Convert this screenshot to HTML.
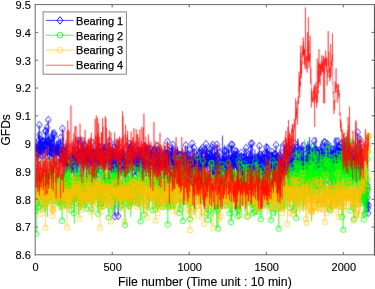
<!DOCTYPE html>
<html><head><meta charset="utf-8"><style>
html,body{margin:0;padding:0;background:#fff;}
text{stroke:#000;stroke-width:0.12px;}
.lg text{stroke-width:0.25px;}
svg{display:block;font-family:"Liberation Sans",Arial,sans-serif;}
</style></head><body>
<svg width="375" height="289" viewBox="0 0 375 289">
<rect width="375" height="289" fill="#fff"/>
<defs><clipPath id="c"><rect x="35.0" y="4.6" width="339.0" height="250.3"/></clipPath><filter id="bl" x="0" y="0" width="375" height="289" color-interpolation-filters="sRGB" filterUnits="userSpaceOnUse"><feConvolveMatrix order="3" kernelMatrix="0.0113 0.0838 0.0113 0.0838 0.6193 0.0838 0.0113 0.0838 0.0113" edgeMode="none" preserveAlpha="false"/></filter></defs>
<g filter="url(#bl)"><g clip-path="url(#c)" fill="none" stroke-width="0.5" stroke-linejoin="round">
<polyline points="35,146.8 35.2,143.8 35.3,146.7 35.5,156.6 35.6,143.1 35.8,145.9 35.9,151.9 36.1,145 36.2,146.5 36.4,146.9 36.5,148.5 36.7,145.3 36.8,153.1 37,149.6 37.2,151.6 37.3,145 37.5,148.3 37.6,150.3 37.8,153.3 37.9,150.1 38.1,148.4 38.2,150.1 38.4,140.5 38.5,132.6 38.7,159.3 38.9,159.7 39,149.2 39.2,140 39.3,125 39.5,146.6 39.6,134.9 39.8,139.5 39.9,150.1 40.1,135.3 40.2,143.8 40.4,143.6 40.5,150.8 40.7,157.7 40.9,146.6 41,146.9 41.2,155 41.3,151.6 41.5,147.8 41.6,153 41.8,147.8 41.9,136.3 42.1,146.8 42.2,150.2 42.4,143.3 42.6,141.4 42.7,141.1 42.9,151.9 43,142.4 43.2,149.8 43.3,141.4 43.5,153.3 43.6,141.2 43.8,146.8 43.9,154.3 44.1,148.5 44.2,146.2 44.4,144.9 44.6,152.6 44.7,153.3 44.9,145.2 45,144.6 45.2,144.9 45.3,141.6 45.5,131.5 45.6,144.7 45.8,130.9 45.9,148 46.1,151.2 46.2,141.7 46.4,144.7 46.6,140.8 46.7,148.4 46.9,155.3 47,127.6 47.2,149.1 47.3,141.6 47.5,145.2 47.6,156.4 47.8,153.8 47.9,141.2 48.1,142.4 48.3,119.9 48.4,132.9 48.6,143.9 48.7,143.8 48.9,141.4 49,139.4 49.2,147.4 49.3,148.4 49.5,140.5 49.6,160.8 49.8,147.9 49.9,147 50.1,155.9 50.3,145.2 50.4,151.3 50.6,142.1 50.7,148.2 50.9,143.5 51,139.3 51.2,145.4 51.3,153.1 51.5,157.1 51.6,137.1 51.8,148.5 52,152.1 52.1,129.8 52.3,149.2 52.4,142.9 52.6,148 52.7,148.1 52.9,152.6 53,145.5 53.2,154.8 53.3,144.5 53.5,134.5 53.6,158 53.8,163.8 54,143.9 54.1,133.2 54.3,154.9 54.4,135.7 54.6,145.3 54.7,154.1 54.9,152.1 55,151.1 55.2,145.2 55.3,151.6 55.5,147.5 55.6,150.3 55.8,154.4 56,151.1 56.1,155 56.3,149.2 56.4,156 56.6,151.8 56.7,140.3 56.9,149.6 57,149.6 57.2,146.2 57.3,151.9 57.5,150.7 57.7,146.7 57.8,147.7 58,156.5 58.1,144.3 58.3,153 58.4,151.3 58.6,154.9 58.7,151.9 58.9,139.5 59,156.6 59.2,148.5 59.3,162.6 59.5,149.5 59.7,144.1 59.8,151.1 60,153.5 60.1,148.2 60.3,145.4 60.4,145.6 60.6,137.8 60.7,148 60.9,154.2 61,151.6 61.2,151.6 61.3,150.7 61.5,151.9 61.7,150.8 61.8,162.8 62,147.2 62.1,156.5 62.3,160.6 62.4,128.6 62.6,145.2 62.7,150.7 62.9,153.2 63,160.6 63.2,137.8 63.4,149.3 63.5,162.9 63.7,160.9 63.8,155.5 64,195.1 64.1,155.5 64.3,160 64.4,148.9 64.6,151 64.7,175.5 64.9,157.9 65,169.6 65.2,151.2 65.4,157.9 65.5,155.5 65.7,166.9 65.8,147.1 66,145.8 66.1,167.2 66.3,157.2 66.4,164.5 66.6,160 66.7,168.6 66.9,146.8 67.1,166.5 67.2,161.8 67.4,156.2 67.5,164.2 67.7,161.3 67.8,163.5 68,160.5 68.1,167.7 68.3,162.6 68.4,161 68.6,161.8 68.7,159.1 68.9,161.6 69.1,154.3 69.2,161.7 69.4,160.5 69.5,164.1 69.7,163.2 69.8,168.3 70,155.9 70.1,167.4 70.3,164.6 70.4,157 70.6,156.6 70.7,162.1 70.9,173.3 71.1,156.3 71.2,157.3 71.4,169 71.5,153.7 71.7,163.9 71.8,162.3 72,158.3 72.1,160.2 72.3,157.5 72.4,170 72.6,146.2 72.8,163 72.9,169.4 73.1,154.4 73.2,161.1 73.4,156.2 73.5,160.8 73.7,158.8 73.8,199.4 74,163.4 74.1,153.4 74.3,161.4 74.4,164.1 74.6,157.4 74.8,154.8 74.9,159.3 75.1,163.7 75.2,153.3 75.4,169.7 75.5,164.5 75.7,157 75.8,162.5 76,157 76.1,157.5 76.3,150.8 76.5,163.4 76.6,161.2 76.8,151.6 76.9,173.8 77.1,138.5 77.2,178.6 77.4,161.5 77.5,150.3 77.7,156.5 77.8,168.5 78,151.7 78.1,140.4 78.3,159 78.5,157.7 78.6,152.3 78.8,161.9 78.9,152.4 79.1,154 79.2,160 79.4,164.9 79.5,156.7 79.7,161.2 79.8,148.1 80,154 80.1,149.5 80.3,153.8 80.5,152.8 80.6,160 80.8,149.9 80.9,142 81.1,156.6 81.2,158.5 81.4,155.4 81.5,156.5 81.7,159.2 81.8,153.3 82,156.3 82.2,140.9 82.3,154.1 82.5,151.9 82.6,147.5 82.8,156.2 82.9,144.1 83.1,158.5 83.2,159.7 83.4,156.7 83.5,154.9 83.7,163.8 83.8,154.3 84,165.7 84.2,141.7 84.3,152.8 84.5,158.6 84.6,160.5 84.8,156.9 84.9,155.8 85.1,161.6 85.2,160.7 85.4,155.7 85.5,158.1 85.7,148 85.8,146.6 86,154.5 86.2,151.4 86.3,164.1 86.5,150.4 86.6,155.1 86.8,151.6 86.9,143.9 87.1,171 87.2,153.4 87.4,163 87.5,151.2 87.7,164.5 87.9,158.9 88,154.2 88.2,151.4 88.3,155.2 88.5,161.3 88.6,159.8 88.8,149.9 88.9,156.2 89.1,167.9 89.2,150.5 89.4,153.6 89.5,150.5 89.7,159 89.9,150.9 90,164.2 90.2,152.9 90.3,160.3 90.5,152.3 90.6,150.1 90.8,162.2 90.9,157.5 91.1,157 91.2,149 91.4,152.4 91.6,165.8 91.7,154.2 91.9,152.4 92,142.8 92.2,169.3 92.3,161.5 92.5,148.5 92.6,167.3 92.8,166.2 92.9,154.4 93.1,150.9 93.2,162.7 93.4,154.3 93.6,157.3 93.7,147.5 93.9,158.1 94,151.2 94.2,164.4 94.3,159.5 94.5,158.9 94.6,150.3 94.8,154.2 94.9,163.5 95.1,152.5 95.2,152.9 95.4,159 95.6,160 95.7,159.6 95.9,170.1 96,157 96.2,156.7 96.3,164.4 96.5,153.2 96.6,167.9 96.8,162.2 96.9,161.6 97.1,144.5 97.3,169.4 97.4,154.4 97.6,151.7 97.7,155.7 97.9,150.1 98,165.3 98.2,174.2 98.3,153 98.5,166.6 98.6,160.6 98.8,166.5 98.9,151.1 99.1,147.4 99.3,163.4 99.4,152.1 99.6,157.5 99.7,159.3 99.9,157.9 100,159.8 100.2,154.1 100.3,156.2 100.5,160.8 100.6,151.4 100.8,162.7 101,156.5 101.1,155.5 101.3,148.2 101.4,162 101.6,146.3 101.7,157.3 101.9,159.9 102,163.3 102.2,154.6 102.3,158.3 102.5,166.4 102.6,166.6 102.8,162.6 103,163.3 103.1,151.1 103.3,149.1 103.4,152.6 103.6,156.2 103.7,161.7 103.9,158.3 104,152.6 104.2,143.9 104.3,152.4 104.5,160.7 104.6,158.6 104.8,162.2 105,164.3 105.1,160.2 105.3,157.5 105.4,146.1 105.6,158.5 105.7,149.5 105.9,146.6 106,158.4 106.2,147.8 106.3,154.1 106.5,162 106.7,157.2 106.8,158.9 107,160.7 107.1,160.5 107.3,158 107.4,156 107.6,165.2 107.7,159.1 107.9,169.6 108,157.2 108.2,154.6 108.3,157.8 108.5,157 108.7,154.9 108.8,163.7 109,160.7 109.1,155.5 109.3,152.2 109.4,156.4 109.6,141.4 109.7,159.7 109.9,152.1 110,150.2 110.2,159.9 110.4,164.7 110.5,167.2 110.7,157.9 110.8,151.5 111,157.2 111.1,157.9 111.3,161.8 111.4,155.3 111.6,174 111.7,157.5 111.9,159 112,168.7 112.2,144.1 112.4,168.9 112.5,166.7 112.7,167.6 112.8,151.5 113,165.4 113.1,154.6 113.3,155.1 113.4,157.4 113.6,168.3 113.7,163.5 113.9,147.6 114,168.2 114.2,165 114.4,160.3 114.5,153.6 114.7,157.5 114.8,216.4 115,166.7 115.1,152.7 115.3,155.4 115.4,170.4 115.6,148.6 115.7,143.4 115.9,164.7 116.1,159 116.2,149.7 116.4,169.8 116.5,173.3 116.7,168.5 116.8,163.5 117,163.6 117.1,155.4 117.3,157.7 117.4,168.3 117.6,155.7 117.7,146.6 117.9,145 118.1,152.8 118.2,216 118.4,152.9 118.5,166.5 118.7,154.5 118.8,160.4 119,151.9 119.1,156.6 119.3,167.4 119.4,159 119.6,151.5 119.8,167.8 119.9,163.8 120.1,165.3 120.2,170.4 120.4,153.3 120.5,150.9 120.7,154.5 120.8,158.3 121,160.4 121.1,158.5 121.3,165.2 121.4,153.9 121.6,152.9 121.8,153.6 121.9,163.8 122.1,159.5 122.2,161.2 122.4,147.6 122.5,158.9 122.7,173.2 122.8,157.3 123,146.5 123.1,155.2 123.3,153.9 123.4,159.8 123.6,173.7 123.8,172.6 123.9,168.7 124.1,160.8 124.2,157.8 124.4,155.1 124.5,162.2 124.7,153.2 124.8,161.7 125,164.6 125.1,153.8 125.3,166 125.5,177.7 125.6,167 125.8,159 125.9,177.7 126.1,162 126.2,161.9 126.4,169.5 126.5,169.8 126.7,162.7 126.8,163.2 127,150.6 127.1,156.8 127.3,170.4 127.5,165.2 127.6,162.1 127.8,146.2 127.9,156.7 128.1,157.2 128.2,146.3 128.4,159.4 128.5,161.4 128.7,169.1 128.8,162.7 129,144 129.1,169 129.3,159.1 129.5,168.9 129.6,158.3 129.8,153 129.9,160.9 130.1,154.1 130.2,154.1 130.4,156 130.5,147.2 130.7,144.9 130.8,161.4 131,161.8 131.2,165.1 131.3,156 131.5,161.5 131.6,141.1 131.8,146.4 131.9,160.7 132.1,161.5 132.2,147.5 132.4,172.3 132.5,162 132.7,152.7 132.8,165.7 133,149.8 133.2,161.9 133.3,154.8 133.5,158.5 133.6,156.6 133.8,155.3 133.9,159.1 134.1,151.6 134.2,164.4 134.4,169.3 134.5,171.7 134.7,170.6 134.9,163.1 135,152.1 135.2,157.9 135.3,163.2 135.5,166.5 135.6,162.7 135.8,161.8 135.9,162.8 136.1,168.8 136.2,162.1 136.4,151.7 136.5,173.8 136.7,160.2 136.9,173.3 137,157.2 137.2,163.7 137.3,172.8 137.5,157.6 137.6,145.6 137.8,157.5 137.9,150.1 138.1,158.6 138.2,173.1 138.4,154.6 138.5,160.8 138.7,168 138.9,152.3 139,155.7 139.2,161.2 139.3,151.5 139.5,163.5 139.6,152.9 139.8,163.8 139.9,153.5 140.1,164.8 140.2,146.8 140.4,155.4 140.6,147.1 140.7,162.7 140.9,160.2 141,151 141.2,174.9 141.3,164.1 141.5,148.9 141.6,153.5 141.8,149.9 141.9,158.8 142.1,152.7 142.2,161.7 142.4,166.2 142.6,168.4 142.7,160.5 142.9,160.5 143,161.1 143.2,174.8 143.3,170.6 143.5,160.5 143.6,154.7 143.8,160.8 143.9,163 144.1,173 144.3,142.9 144.4,164.6 144.6,145.3 144.7,146.1 144.9,155.1 145,161 145.2,149.8 145.3,165.1 145.5,155.3 145.6,157.2 145.8,153.6 145.9,150.6 146.1,145.2 146.3,159.9 146.4,150 146.6,162.8 146.7,163.3 146.9,161.7 147,164.3 147.2,150.7 147.3,151.1 147.5,148.6 147.6,157.7 147.8,155.5 147.9,161.5 148.1,165.5 148.3,154.3 148.4,155.5 148.6,165.1 148.7,153.3 148.9,169.6 149,158.7 149.2,161.8 149.3,161.1 149.5,165 149.6,150.8 149.8,153.5 150,149.1 150.1,156.5 150.3,166.4 150.4,160 150.6,165.6 150.7,154.2 150.9,149 151,155.1 151.2,161.6 151.3,159.9 151.5,156 151.6,167.4 151.8,156.3 152,156 152.1,156.9 152.3,160.3 152.4,156.2 152.6,163.1 152.7,163 152.9,152 153,155.8 153.2,145.7 153.3,164.2 153.5,169.7 153.7,150.8 153.8,150.7 154,162.4 154.1,167.6 154.3,157.8 154.4,169.7 154.6,159.9 154.7,172.7 154.9,159.2 155,172.4 155.2,159.3 155.3,147.3 155.5,159.8 155.7,152.6 155.8,162.5 156,164.3 156.1,168.6 156.3,151 156.4,158.7 156.6,147.1 156.7,166.7 156.9,160.1 157,158.1 157.2,148.9 157.3,146.1 157.5,163.3 157.7,166.7 157.8,171 158,149.7 158.1,152.7 158.3,163.6 158.4,159.4 158.6,177 158.7,171.3 158.9,152.9 159,156.7 159.2,158.6 159.4,166.7 159.5,155.7 159.7,147.4 159.8,168.5 160,159.9 160.1,163.1 160.3,157.5 160.4,160 160.6,161.2 160.7,166.4 160.9,160.3 161,164.5 161.2,161.3 161.4,160.8 161.5,155.8 161.7,164.6 161.8,162.8 162,153 162.1,162.1 162.3,162.5 162.4,153.4 162.6,158.6 162.7,159.9 162.9,159 163,169.4 163.2,157.3 163.4,151.3 163.5,156.5 163.7,171.7 163.8,158.7 164,167.2 164.1,162.3 164.3,159.7 164.4,169.1 164.6,151.2 164.7,161.2 164.9,155.1 165.1,156.2 165.2,151.1 165.4,152.2 165.5,171.3 165.7,160.4 165.8,176 166,164 166.1,155.6 166.3,154.1 166.4,151.4 166.6,163.4 166.7,158.3 166.9,159.9 167.1,151.5 167.2,149.3 167.4,163.2 167.5,141.6 167.7,160.7 167.8,163.3 168,156.4 168.1,155.2 168.3,156.8 168.4,165.4 168.6,150.1 168.8,160.3 168.9,149.6 169.1,150.7 169.2,170 169.4,167.8 169.5,168 169.7,158.9 169.8,160.3 170,158.8 170.1,166.7 170.3,157.6 170.4,150.4 170.6,170.3 170.8,162.1 170.9,158.8 171.1,161.5 171.2,162 171.4,147.5 171.5,151.1 171.7,152.1 171.8,166 172,144 172.1,157.7 172.3,164.6 172.4,162.8 172.6,164 172.8,144.7 172.9,158.7 173.1,159.8 173.2,176 173.4,154.7 173.5,168 173.7,168.4 173.8,155.5 174,166.3 174.1,153.7 174.3,151.6 174.5,173.1 174.6,160.9 174.8,171.5 174.9,160.4 175.1,153.2 175.2,170.1 175.4,146.6 175.5,162.3 175.7,168.8 175.8,161 176,154.2 176.1,170.3 176.3,160.1 176.5,170.4 176.6,151.2 176.8,159 176.9,163.3 177.1,152.5 177.2,169.8 177.4,163.1 177.5,146.4 177.7,161.2 177.8,150.1 178,158.9 178.2,165.7 178.3,162.4 178.5,160.1 178.6,163.8 178.8,166.9 178.9,166.7 179.1,172 179.2,160.1 179.4,158 179.5,155.4 179.7,174.7 179.8,155.2 180,161.5 180.2,172.1 180.3,160.7 180.5,155.3 180.6,157.5 180.8,156.1 180.9,154.5 181.1,154.9 181.2,162 181.4,177.6 181.5,167.7 181.7,158.9 181.8,165.6 182,156.9 182.2,156.1 182.3,161.8 182.5,147.9 182.6,169.7 182.8,155.2 182.9,166 183.1,170.8 183.2,157.9 183.4,167.1 183.5,155.9 183.7,171.5 183.9,162.3 184,169.1 184.2,164.4 184.3,165.5 184.5,171.3 184.6,157.7 184.8,172.3 184.9,170.3 185.1,155.9 185.2,155.3 185.4,157.6 185.5,160.1 185.7,145.2 185.9,158.6 186,162.1 186.2,170.4 186.3,155.8 186.5,160.5 186.6,154.2 186.8,155.3 186.9,164.5 187.1,169.1 187.2,170.4 187.4,145.6 187.6,155.2 187.7,158.2 187.9,165.4 188,164.3 188.2,165.5 188.3,165.3 188.5,181.6 188.6,163.4 188.8,165.9 188.9,160.7 189.1,161.4 189.2,156.3 189.4,163.1 189.6,156.8 189.7,183.1 189.9,171.7 190,149.7 190.2,172.6 190.3,165.3 190.5,157.6 190.6,170 190.8,157.5 190.9,174.3 191.1,178.2 191.2,173.7 191.4,176.2 191.6,159.7 191.7,165.9 191.9,160.7 192,171.4 192.2,143.6 192.3,164.1 192.5,163.8 192.6,159.9 192.8,165.4 192.9,168.4 193.1,162.9 193.3,156.4 193.4,158.4 193.6,156.2 193.7,168 193.9,160.6 194,148 194.2,165.5 194.3,159.9 194.5,157.9 194.6,152.6 194.8,174.2 194.9,167.4 195.1,167 195.3,165.9 195.4,182.4 195.6,164.3 195.7,183.7 195.9,161.2 196,159.4 196.2,158.9 196.3,172.9 196.5,156.1 196.6,170.3 196.8,173.1 196.9,171.1 197.1,170 197.3,162 197.4,157 197.6,170.1 197.7,167.4 197.9,156.1 198,161.5 198.2,159.1 198.3,174.7 198.5,155.5 198.6,175.1 198.8,161.4 199,152.2 199.1,148.2 199.3,158.7 199.4,155.8 199.6,167.3 199.7,166.3 199.9,153.5 200,162.5 200.2,163.5 200.3,173.4 200.5,161.3 200.6,157.4 200.8,168.6 201,166.3 201.1,150.1 201.3,161 201.4,164.6 201.6,171.2 201.7,167.1 201.9,164.2 202,151.5 202.2,166.9 202.3,148.1 202.5,169.3 202.7,164.8 202.8,155.5 203,163.9 203.1,168.4 203.3,162.9 203.4,158.3 203.6,175 203.7,163.5 203.9,162.4 204,164.5 204.2,155.6 204.3,165.7 204.5,164.1 204.7,160.9 204.8,155.5 205,162.9 205.1,149.3 205.3,168 205.4,150.9 205.6,167.5 205.7,162 205.9,157.8 206,144 206.2,153.6 206.3,163.7 206.5,150.4 206.7,162.1 206.8,166.6 207,156.9 207.1,159.6 207.3,152.9 207.4,164.7 207.6,162.9 207.7,155.4 207.9,158.1 208,160.4 208.2,165.6 208.4,153.2 208.5,159.1 208.7,156.3 208.8,162.9 209,160 209.1,168.2 209.3,159.4 209.4,154.1 209.6,159.3 209.7,153.4 209.9,157.7 210,149.5 210.2,161.6 210.4,173 210.5,156.9 210.7,161.6 210.8,168 211,155.4 211.1,158.6 211.3,157.2 211.4,163.4 211.6,159.3 211.7,151.3 211.9,147.2 212.1,166.4 212.2,161.3 212.4,158.5 212.5,174.9 212.7,174 212.8,144.8 213,175.5 213.1,157.5 213.3,168.7 213.4,168.2 213.6,177.8 213.7,169.5 213.9,156.4 214.1,173.4 214.2,158 214.4,160.3 214.5,147.1 214.7,166.6 214.8,153.2 215,156.3 215.1,165.5 215.3,176.3 215.4,151.7 215.6,174.3 215.7,167.3 215.9,156.9 216.1,155.1 216.2,170.5 216.4,164.2 216.5,166.1 216.7,154.9 216.8,144.6 217,178.4 217.1,155.3 217.3,184.5 217.4,164.2 217.6,172.9 217.8,148.8 217.9,163.1 218.1,170.1 218.2,168.3 218.4,168.8 218.5,162.9 218.7,165.6 218.8,159.3 219,152.4 219.1,159 219.3,174 219.4,177.1 219.6,170.4 219.8,156.3 219.9,167.1 220.1,169.6 220.2,163.2 220.4,175.3 220.5,173.1 220.7,160.2 220.8,166.5 221,167.6 221.1,161.6 221.3,162.3 221.4,169.6 221.6,167.8 221.8,159.4 221.9,163.6 222.1,173.3 222.2,166.3 222.4,158.9 222.5,135.6 222.7,172.9 222.8,161.3 223,165.9 223.1,157.4 223.3,160.4 223.5,152.5 223.6,159.9 223.8,168.2 223.9,168.1 224.1,160.8 224.2,160.9 224.4,145.3 224.5,150.9 224.7,173.1 224.8,161.2 225,174.3 225.1,176.9 225.3,158.2 225.5,159.7 225.6,172.1 225.8,151.2 225.9,171.6 226.1,173.2 226.2,159 226.4,162.3 226.5,151.5 226.7,164.5 226.8,162.3 227,162.5 227.2,165.4 227.3,178.9 227.5,174.6 227.6,159.4 227.8,169.6 227.9,159.9 228.1,154.5 228.2,166.9 228.4,162 228.5,148 228.7,158.8 228.8,149.8 229,152.2 229.2,158.4 229.3,165.1 229.5,170.8 229.6,172.9 229.8,160.5 229.9,160.6 230.1,165.5 230.2,157.6 230.4,168.9 230.5,155.4 230.7,163.8 230.8,164.4 231,164 231.2,164.7 231.3,144.6 231.5,166.5 231.6,162.6 231.8,154.3 231.9,158.4 232.1,166.3 232.2,144.7 232.4,172.3 232.5,174.2 232.7,159.6 232.9,175.3 233,182.5 233.2,157.2 233.3,152.7 233.5,158.4 233.6,167.8 233.8,162.6 233.9,171.6 234.1,150.5 234.2,157.9 234.4,158.2 234.5,179.2 234.7,157.7 234.9,152.4 235,154.6 235.2,157.9 235.3,164.1 235.5,166.8 235.6,159.5 235.8,161.2 235.9,162.4 236.1,166.7 236.2,151.2 236.4,173.5 236.6,164.6 236.7,168.9 236.9,156.3 237,153.2 237.2,154.7 237.3,158.5 237.5,175.4 237.6,148.4 237.8,160.6 237.9,165.5 238.1,164.6 238.2,167.5 238.4,161.6 238.6,162.6 238.7,167.9 238.9,179.3 239,165.4 239.2,161.4 239.3,161.1 239.5,166.4 239.6,161.8 239.8,157.3 239.9,169 240.1,154.1 240.2,180.8 240.4,175.5 240.6,172.8 240.7,184.8 240.9,173.6 241,156.1 241.2,156.2 241.3,165.2 241.5,152.6 241.6,164.1 241.8,169.9 241.9,164.2 242.1,167.1 242.3,160.4 242.4,177.9 242.6,158.4 242.7,169.8 242.9,159.6 243,178.3 243.2,169.6 243.3,165.7 243.5,159.4 243.6,175.9 243.8,153.4 243.9,162.6 244.1,170.5 244.3,156.9 244.4,165.6 244.6,157.3 244.7,148.2 244.9,160.3 245,170.4 245.2,169.6 245.3,161.8 245.5,164.1 245.6,172.8 245.8,171.5 246,161.1 246.1,148 246.3,186.5 246.4,160.6 246.6,167.8 246.7,160.1 246.9,159.3 247,165.5 247.2,173.8 247.3,176.7 247.5,180.4 247.6,156.3 247.8,167.4 248,169.8 248.1,167.6 248.3,175.8 248.4,163 248.6,155 248.7,156.4 248.9,177.4 249,154.4 249.2,171 249.3,179.8 249.5,174.4 249.6,172.3 249.8,164.7 250,172.7 250.1,176.3 250.3,166.5 250.4,149.5 250.6,169.8 250.7,160.6 250.9,163.5 251,143.8 251.2,178.8 251.3,155.4 251.5,173.8 251.7,168.4 251.8,164.5 252,143.4 252.1,169.5 252.3,174.5 252.4,153.4 252.6,170 252.7,165.3 252.9,163.5 253,162.5 253.2,164.6 253.3,161 253.5,160.1 253.7,156.4 253.8,166.3 254,168.7 254.1,171.1 254.3,158.2 254.4,163.2 254.6,158.5 254.7,158.6 254.9,149.7 255,161.2 255.2,156.9 255.3,172.1 255.5,171.2 255.7,161.6 255.8,172.2 256,157.3 256.1,173 256.3,162.1 256.4,181.8 256.6,171.3 256.7,165.2 256.9,164.6 257,176.6 257.2,161.8 257.4,155.1 257.5,157.6 257.7,167.8 257.8,167.3 258,171.9 258.1,157.8 258.3,151.5 258.4,166.9 258.6,176 258.7,161.2 258.9,157.2 259,183 259.2,161.8 259.4,146 259.5,156.5 259.7,158.7 259.8,159.9 260,154.7 260.1,170.4 260.3,169.7 260.4,159.9 260.6,168.4 260.7,161.1 260.9,178.1 261.1,157.3 261.2,156.7 261.4,162.9 261.5,162 261.7,150.7 261.8,171.8 262,170.5 262.1,171.9 262.3,166.7 262.4,171.4 262.6,154.8 262.7,168.6 262.9,174.9 263.1,175.7 263.2,154.2 263.4,164.2 263.5,165.4 263.7,163.6 263.8,164.4 264,157.9 264.1,159.4 264.3,154.2 264.4,170.3 264.6,172.4 264.7,173.7 264.9,153.1 265.1,171.1 265.2,179.7 265.4,170.6 265.5,170.2 265.7,161.5 265.8,170.9 266,159.9 266.1,161 266.3,154.2 266.4,147.2 266.6,143.9 266.8,153.6 266.9,173.2 267.1,167.3 267.2,162.2 267.4,148 267.5,158.8 267.7,154.7 267.8,165.5 268,159.5 268.1,158.4 268.3,167.6 268.4,158 268.6,155.7 268.8,165.3 268.9,156.2 269.1,151.2 269.2,163.6 269.4,164.1 269.5,166.6 269.7,169 269.8,163 270,167.3 270.1,166.6 270.3,170.2 270.5,176.2 270.6,171.5 270.8,161.7 270.9,173.5 271.1,169.4 271.2,151.5 271.4,155.6 271.5,169.8 271.7,159.7 271.8,169.5 272,151.8 272.1,169.1 272.3,161.2 272.5,153.7 272.6,171 272.8,154.4 272.9,168.8 273.1,162.8 273.2,167 273.4,165.4 273.5,163.5 273.7,165.4 273.8,172.7 274,158.1 274.1,159.2 274.3,154.9 274.5,154.2 274.6,175.6 274.8,155.1 274.9,155.1 275.1,169.4 275.2,157.1 275.4,153.8 275.5,169.5 275.7,176.1 275.8,165.2 276,145.1 276.2,162.5 276.3,168.7 276.5,167.4 276.6,173.2 276.8,168.5 276.9,164.6 277.1,185.3 277.2,162.6 277.4,154.4 277.5,167 277.7,168.3 277.8,156.8 278,175.1 278.2,174.9 278.3,176 278.5,166.4 278.6,162 278.8,165.7 278.9,160.7 279.1,158.5 279.2,161 279.4,171.1 279.5,166.8 279.7,155 279.9,172.8 280,166.5 280.2,167.7 280.3,165.8 280.5,172.7 280.6,174.8 280.8,144.3 280.9,156.8 281.1,169.5 281.2,164.3 281.4,158.5 281.5,166.4 281.7,158.7 281.9,168.2 282,166 282.2,163.8 282.3,166.6 282.5,182.1 282.6,162.6 282.8,160.5 282.9,158.7 283.1,170.2 283.2,159.5 283.4,160.4 283.5,175.9 283.7,179.2 283.9,157.8 284,169.1 284.2,153.4 284.3,144.1 284.5,165.8 284.6,166.5 284.8,161 284.9,155.3 285.1,169.7 285.2,150.4 285.4,152.4 285.6,155 285.7,164.7 285.9,152.9 286,151.4 286.2,164.7 286.3,143.1 286.5,162.4 286.6,151.1 286.8,164.1 286.9,156.6 287.1,150.2 287.2,166.3 287.4,173.2 287.6,163.3 287.7,170.3 287.9,165.8 288,160.5 288.2,160 288.3,148.7 288.5,167.7 288.6,193.1 288.8,163.5 288.9,147.9 289.1,138.1 289.2,156.6 289.4,145.2 289.6,163.6 289.7,172.6 289.9,169.8 290,172.4 290.2,167.1 290.3,161.2 290.5,149.6 290.6,153.4 290.8,155.4 290.9,162.9 291.1,165.4 291.3,159.1 291.4,158.3 291.6,157.3 291.7,156.4 291.9,160.6 292,175.7 292.2,169 292.3,166.6 292.5,145.6 292.6,163.3 292.8,154.1 292.9,147.6 293.1,157 293.3,163.2 293.4,162.4 293.6,168.5 293.7,157.4 293.9,150.6 294,155.3 294.2,153.6 294.3,154.2 294.5,143.5 294.6,165.5 294.8,159 295,154.5 295.1,150 295.3,180.6 295.4,164.8 295.6,162.2 295.7,169 295.9,153.4 296,158.7 296.2,163.9 296.3,174.2 296.5,171.7 296.6,169 296.8,156.9 297,170.9 297.1,178.1 297.3,173 297.4,165.8 297.6,147 297.7,140.1 297.9,165.1 298,138.6 298.2,149.5 298.3,150.6 298.5,162.3 298.6,172.3 298.8,165.5 299,177 299.1,158 299.3,155 299.4,177.3 299.6,162.1 299.7,159.2 299.9,151.2 300,150 300.2,155 300.3,167.4 300.5,164.8 300.7,151.6 300.8,166.8 301,162 301.1,148.6 301.3,160.5 301.4,173 301.6,164 301.7,156.1 301.9,163.1 302,142.2 302.2,150.8 302.3,166.9 302.5,165.6 302.7,162.2 302.8,171.2 303,158.1 303.1,162.7 303.3,154.7 303.4,166.1 303.6,168.5 303.7,145.7 303.9,168.3 304,165.8 304.2,167 304.4,163.3 304.5,168.3 304.7,161 304.8,166.5 305,164.8 305.1,157.4 305.3,154.5 305.4,156.4 305.6,166.4 305.7,156.9 305.9,161 306,160.8 306.2,174.2 306.4,154.1 306.5,160.8 306.7,145.2 306.8,154.1 307,168.7 307.1,170.8 307.3,149.6 307.4,166.4 307.6,153.4 307.7,161.5 307.9,141.4 308,158.3 308.2,146.3 308.4,147.8 308.5,162.7 308.7,161.5 308.8,146.3 309,158.7 309.1,165.9 309.3,148.6 309.4,137.1 309.6,158.7 309.7,146.7 309.9,159.6 310.1,146.9 310.2,160.1 310.4,147 310.5,153.5 310.7,159.6 310.8,156.1 311,162.5 311.1,167.4 311.3,166.8 311.4,158.5 311.6,166.8 311.7,154.2 311.9,153.5 312.1,154 312.2,162.1 312.4,157.5 312.5,158.2 312.7,147 312.8,164.7 313,161.2 313.1,159.8 313.3,159.1 313.4,164.1 313.6,163.2 313.8,149.5 313.9,163.3 314.1,150.3 314.2,141 314.4,147.4 314.5,173.2 314.7,151.7 314.8,154.2 315,153.6 315.1,171.8 315.3,151.9 315.4,167.4 315.6,147.6 315.8,149.5 315.9,137.3 316.1,161.6 316.2,171.2 316.4,149.8 316.5,151.3 316.7,161.8 316.8,147.1 317,152.7 317.1,169.2 317.3,161.4 317.4,162.2 317.6,159.3 317.8,156.8 317.9,164.2 318.1,160.2 318.2,153.6 318.4,159.2 318.5,160.8 318.7,161 318.8,159.2 319,187.6 319.1,157 319.3,166.9 319.5,189.1 319.6,170.6 319.8,150.6 319.9,156.2 320.1,169.5 320.2,156.2 320.4,164.5 320.5,143.2 320.7,154.1 320.8,164.8 321,156.2 321.1,158.3 321.3,148.1 321.5,155.1 321.6,153.8 321.8,167.4 321.9,151.4 322.1,140.6 322.2,152.8 322.4,158.4 322.5,156.7 322.7,166 322.8,156.5 323,167.2 323.1,157.7 323.3,161.4 323.5,165.1 323.6,153.3 323.8,170.6 323.9,158.6 324.1,169.4 324.2,143.1 324.4,141.9 324.5,151.3 324.7,142.6 324.8,153.5 325,154 325.2,162.2 325.3,166.1 325.5,157.7 325.6,163.3 325.8,162.5 325.9,152.8 326.1,160.1 326.2,172.1 326.4,160.9 326.5,165.5 326.7,161.7 326.8,168.5 327,149.4 327.2,143.6 327.3,168.8 327.5,154.1 327.6,154.5 327.8,168.5 327.9,158.7 328.1,147.8 328.2,152.6 328.4,146.2 328.5,169.6 328.7,166.2 328.9,152.1 329,157.1 329.2,159.9 329.3,163.3 329.5,163.6 329.6,165.2 329.8,156.5 329.9,182.4 330.1,146.9 330.2,164.7 330.4,172.2 330.5,155.7 330.7,171.9 330.9,156.9 331,163.5 331.2,155.2 331.3,153.5 331.5,149.3 331.6,164.2 331.8,162.5 331.9,205.4 332.1,171.8 332.2,155 332.4,158.5 332.5,171 332.7,149.7 332.9,148.4 333,170.7 333.2,154.9 333.3,149.2 333.5,152.6 333.6,167.7 333.8,171.1 333.9,160.4 334.1,163.5 334.2,159.4 334.4,160.2 334.6,154.8 334.7,163.8 334.9,160.4 335,137.6 335.2,160.1 335.3,152.8 335.5,149.9 335.6,157.1 335.8,166.4 335.9,154.4 336.1,159.1 336.2,151.8 336.4,141.4 336.6,157 336.7,152.1 336.9,166.9 337,157.4 337.2,145.3 337.3,158.7 337.5,163.5 337.6,156.4 337.8,159.5 337.9,159.9 338.1,161 338.3,141.2 338.4,165 338.6,161.2 338.7,162.5 338.9,147.3 339,159.9 339.2,146.7 339.3,156.2 339.5,157.7 339.6,169.7 339.8,147.4 339.9,153 340.1,154.1 340.3,158.5 340.4,161 340.6,168 340.7,149.6 340.9,155.3 341,160.5 341.2,162.8 341.3,150.8 341.5,158.2 341.6,143.7 341.8,151 341.9,162.4 342.1,166.6 342.3,150.8 342.4,165.1 342.6,156.9 342.7,154.2 342.9,152.2 343,154.1 343.2,159.2 343.3,152.6 343.5,165.1 343.6,158.4 343.8,150.9 344,155.3 344.1,168.3 344.3,167.3 344.4,171.2 344.6,142.7 344.7,170.7 344.9,159 345,142.5 345.2,148.9 345.3,146.9 345.5,162.2 345.6,151.9 345.8,136.7 346,158.6 346.1,154.9 346.3,161.1 346.4,158.6 346.6,155.5 346.7,147 346.9,166.2 347,170.7 347.2,158.6 347.3,157.2 347.5,147.3 347.7,153.1 347.8,164.4 348,154.6 348.1,150.1 348.3,157 348.4,160.9 348.6,153.9 348.7,162.6 348.9,175.3 349,148.8 349.2,170.7 349.3,162.8 349.5,162.8 349.7,163 349.8,162.6 350,172.3 350.1,156.1 350.3,160.3 350.4,160.3 350.6,151.8 350.7,151.6 350.9,149.7 351,145.5 351.2,157.2 351.3,173.9 351.5,159.3 351.7,161 351.8,160.6 352,166.3 352.1,168.7 352.3,154.7 352.4,153.4 352.6,170.8 352.7,157.1 352.9,163 353,164.9 353.2,156 353.4,162.2 353.5,184.9 353.7,161.3 353.8,178.3 354,166.6 354.1,165.4 354.3,173.3 354.4,160.2 354.6,159.4 354.7,166.6 354.9,163 355,156 355.2,152.8 355.4,167.9 355.5,158.6 355.7,152.8 355.8,161.7 356,167.8 356.1,167.8 356.3,164.1 356.4,169.9 356.6,144.5 356.7,166 356.9,158.1 357.1,159.7 357.2,155.9 357.4,164.4 357.5,172 357.7,132.3 357.8,161.7 358,160.1 358.1,159.3 358.3,150.4 358.4,154.5 358.6,151.1 358.7,154.1 358.9,159.6 359.1,158.7 359.2,167 359.4,161.7 359.5,162.7 359.7,169.7 359.8,139.2 360,147.8 360.1,151 360.3,165.3 360.4,143.5 360.6,174.8 360.7,170.7 360.9,167.1 361.1,169.8 361.2,162 361.4,162.7 361.5,149.6 361.7,158.6 361.8,157.9 362,165.9 362.1,171.9 362.3,177.7 362.4,185.8 362.6,181.7 362.8,179 362.9,170.7 363.1,192.4 363.2,191 363.4,179 363.5,190.9 363.7,180.6 363.8,188.2 364,192.3 364.1,197.9 364.3,188.3 364.4,194.3 364.6,194.1 364.8,195 364.9,188.8 365.1,189.9 365.2,206.1 365.4,192.6 365.5,190 365.7,185.3 365.8,188.1 366,193.7 366.1,205.7 366.3,203.3 366.4,189.9 366.6,204.1 366.8,190.4 366.9,189 367.1,209.2 367.2,197.4 367.4,202.8 367.5,185.6 367.7,196.3 367.8,208.2 368,201.3 368.1,213 368.3,207.3 368.5,205.1 368.6,206.3" stroke="#0000ff" stroke-width="0.5"/>
<path d="M35 143.1l2.9 3.7-2.9 3.7-2.9-3.7zM35.3 143l2.9 3.7-2.9 3.7-2.9-3.7zM35.6 139.4l2.9 3.7-2.9 3.7-2.9-3.7zM35.9 148.2l2.9 3.7-2.9 3.7-2.9-3.7zM36.2 142.8l2.9 3.7-2.9 3.7-2.9-3.7zM36.5 144.8l2.9 3.7-2.9 3.7-2.9-3.7zM36.8 149.4l2.9 3.7-2.9 3.7-2.9-3.7zM37.2 147.9l2.9 3.7-2.9 3.7-2.9-3.7zM37.5 144.6l2.9 3.7-2.9 3.7-2.9-3.7zM37.8 149.6l2.9 3.7-2.9 3.7-2.9-3.7zM38.1 144.7l2.9 3.7-2.9 3.7-2.9-3.7zM38.4 136.8l2.9 3.7-2.9 3.7-2.9-3.7zM38.7 155.6l2.9 3.7-2.9 3.7-2.9-3.7zM39 145.5l2.9 3.7-2.9 3.7-2.9-3.7zM39.3 121.3l2.9 3.7-2.9 3.7-2.9-3.7zM39.6 131.2l2.9 3.7-2.9 3.7-2.9-3.7zM39.9 146.4l2.9 3.7-2.9 3.7-2.9-3.7zM40.2 140.1l2.9 3.7-2.9 3.7-2.9-3.7zM40.5 147.1l2.9 3.7-2.9 3.7-2.9-3.7zM40.9 142.9l2.9 3.7-2.9 3.7-2.9-3.7zM41.2 151.3l2.9 3.7-2.9 3.7-2.9-3.7zM41.5 144.1l2.9 3.7-2.9 3.7-2.9-3.7zM41.8 144.1l2.9 3.7-2.9 3.7-2.9-3.7zM42.1 143.1l2.9 3.7-2.9 3.7-2.9-3.7zM42.4 139.6l2.9 3.7-2.9 3.7-2.9-3.7zM42.7 137.4l2.9 3.7-2.9 3.7-2.9-3.7zM43 138.7l2.9 3.7-2.9 3.7-2.9-3.7zM43.3 137.7l2.9 3.7-2.9 3.7-2.9-3.7zM43.6 137.5l2.9 3.7-2.9 3.7-2.9-3.7zM43.9 150.6l2.9 3.7-2.9 3.7-2.9-3.7zM44.2 142.5l2.9 3.7-2.9 3.7-2.9-3.7zM44.6 148.9l2.9 3.7-2.9 3.7-2.9-3.7zM44.9 141.5l2.9 3.7-2.9 3.7-2.9-3.7zM45.2 141.2l2.9 3.7-2.9 3.7-2.9-3.7zM45.5 127.8l2.9 3.7-2.9 3.7-2.9-3.7zM45.8 127.2l2.9 3.7-2.9 3.7-2.9-3.7zM46.1 147.5l2.9 3.7-2.9 3.7-2.9-3.7zM46.4 141l2.9 3.7-2.9 3.7-2.9-3.7zM46.7 144.7l2.9 3.7-2.9 3.7-2.9-3.7zM47 123.9l2.9 3.7-2.9 3.7-2.9-3.7zM47.3 137.9l2.9 3.7-2.9 3.7-2.9-3.7zM47.6 152.7l2.9 3.7-2.9 3.7-2.9-3.7zM47.9 137.5l2.9 3.7-2.9 3.7-2.9-3.7zM48.3 116.2l2.9 3.7-2.9 3.7-2.9-3.7zM48.6 140.2l2.9 3.7-2.9 3.7-2.9-3.7zM48.9 137.7l2.9 3.7-2.9 3.7-2.9-3.7zM49.2 143.7l2.9 3.7-2.9 3.7-2.9-3.7zM49.5 136.8l2.9 3.7-2.9 3.7-2.9-3.7zM49.8 144.2l2.9 3.7-2.9 3.7-2.9-3.7zM50.1 152.2l2.9 3.7-2.9 3.7-2.9-3.7zM50.4 147.6l2.9 3.7-2.9 3.7-2.9-3.7zM50.7 144.5l2.9 3.7-2.9 3.7-2.9-3.7zM51 135.6l2.9 3.7-2.9 3.7-2.9-3.7zM51.3 149.4l2.9 3.7-2.9 3.7-2.9-3.7zM51.6 133.4l2.9 3.7-2.9 3.7-2.9-3.7zM52 148.4l2.9 3.7-2.9 3.7-2.9-3.7zM52.3 145.5l2.9 3.7-2.9 3.7-2.9-3.7zM52.6 144.3l2.9 3.7-2.9 3.7-2.9-3.7zM52.9 148.9l2.9 3.7-2.9 3.7-2.9-3.7zM53.2 151.1l2.9 3.7-2.9 3.7-2.9-3.7zM53.5 130.8l2.9 3.7-2.9 3.7-2.9-3.7zM53.8 160.1l2.9 3.7-2.9 3.7-2.9-3.7zM54.1 129.5l2.9 3.7-2.9 3.7-2.9-3.7zM54.4 132l2.9 3.7-2.9 3.7-2.9-3.7zM54.7 150.4l2.9 3.7-2.9 3.7-2.9-3.7zM55 147.4l2.9 3.7-2.9 3.7-2.9-3.7zM55.3 147.9l2.9 3.7-2.9 3.7-2.9-3.7zM55.6 146.6l2.9 3.7-2.9 3.7-2.9-3.7zM56 147.4l2.9 3.7-2.9 3.7-2.9-3.7zM56.3 145.5l2.9 3.7-2.9 3.7-2.9-3.7zM56.6 148.1l2.9 3.7-2.9 3.7-2.9-3.7zM56.9 145.9l2.9 3.7-2.9 3.7-2.9-3.7zM57.2 142.5l2.9 3.7-2.9 3.7-2.9-3.7zM57.5 147l2.9 3.7-2.9 3.7-2.9-3.7zM57.8 144l2.9 3.7-2.9 3.7-2.9-3.7zM58.1 140.6l2.9 3.7-2.9 3.7-2.9-3.7zM58.4 147.6l2.9 3.7-2.9 3.7-2.9-3.7zM58.7 148.2l2.9 3.7-2.9 3.7-2.9-3.7zM59 152.9l2.9 3.7-2.9 3.7-2.9-3.7zM59.3 158.9l2.9 3.7-2.9 3.7-2.9-3.7zM59.7 140.4l2.9 3.7-2.9 3.7-2.9-3.7zM60 149.8l2.9 3.7-2.9 3.7-2.9-3.7zM60.3 141.7l2.9 3.7-2.9 3.7-2.9-3.7zM60.6 134.1l2.9 3.7-2.9 3.7-2.9-3.7zM60.9 150.5l2.9 3.7-2.9 3.7-2.9-3.7zM61.2 147.9l2.9 3.7-2.9 3.7-2.9-3.7zM61.5 148.2l2.9 3.7-2.9 3.7-2.9-3.7zM61.8 159.1l2.9 3.7-2.9 3.7-2.9-3.7zM62.1 152.8l2.9 3.7-2.9 3.7-2.9-3.7zM62.4 124.9l2.9 3.7-2.9 3.7-2.9-3.7zM62.7 147l2.9 3.7-2.9 3.7-2.9-3.7zM63 156.9l2.9 3.7-2.9 3.7-2.9-3.7zM63.4 145.6l2.9 3.7-2.9 3.7-2.9-3.7zM63.7 157.2l2.9 3.7-2.9 3.7-2.9-3.7zM64 191.4l2.9 3.7-2.9 3.7-2.9-3.7zM64.3 156.3l2.9 3.7-2.9 3.7-2.9-3.7zM64.6 147.3l2.9 3.7-2.9 3.7-2.9-3.7zM64.9 154.2l2.9 3.7-2.9 3.7-2.9-3.7zM65.2 147.5l2.9 3.7-2.9 3.7-2.9-3.7zM65.5 151.8l2.9 3.7-2.9 3.7-2.9-3.7zM65.8 143.4l2.9 3.7-2.9 3.7-2.9-3.7zM66.1 163.5l2.9 3.7-2.9 3.7-2.9-3.7zM66.4 160.8l2.9 3.7-2.9 3.7-2.9-3.7zM66.7 164.9l2.9 3.7-2.9 3.7-2.9-3.7zM67.1 162.8l2.9 3.7-2.9 3.7-2.9-3.7zM67.4 152.5l2.9 3.7-2.9 3.7-2.9-3.7zM67.7 157.6l2.9 3.7-2.9 3.7-2.9-3.7zM68 156.8l2.9 3.7-2.9 3.7-2.9-3.7zM68.3 158.9l2.9 3.7-2.9 3.7-2.9-3.7zM68.6 158.1l2.9 3.7-2.9 3.7-2.9-3.7zM68.9 157.9l2.9 3.7-2.9 3.7-2.9-3.7zM69.2 158l2.9 3.7-2.9 3.7-2.9-3.7zM69.5 160.4l2.9 3.7-2.9 3.7-2.9-3.7zM69.8 164.6l2.9 3.7-2.9 3.7-2.9-3.7zM70.1 163.7l2.9 3.7-2.9 3.7-2.9-3.7zM70.4 153.3l2.9 3.7-2.9 3.7-2.9-3.7zM70.7 158.4l2.9 3.7-2.9 3.7-2.9-3.7zM71.1 152.6l2.9 3.7-2.9 3.7-2.9-3.7zM71.4 165.3l2.9 3.7-2.9 3.7-2.9-3.7zM71.7 160.2l2.9 3.7-2.9 3.7-2.9-3.7zM72 154.6l2.9 3.7-2.9 3.7-2.9-3.7zM72.3 153.8l2.9 3.7-2.9 3.7-2.9-3.7zM72.6 142.5l2.9 3.7-2.9 3.7-2.9-3.7zM72.9 165.7l2.9 3.7-2.9 3.7-2.9-3.7zM73.2 157.4l2.9 3.7-2.9 3.7-2.9-3.7zM73.5 157.1l2.9 3.7-2.9 3.7-2.9-3.7zM73.8 195.7l2.9 3.7-2.9 3.7-2.9-3.7zM74.1 149.7l2.9 3.7-2.9 3.7-2.9-3.7zM74.4 160.4l2.9 3.7-2.9 3.7-2.9-3.7zM74.8 151.1l2.9 3.7-2.9 3.7-2.9-3.7zM75.1 160l2.9 3.7-2.9 3.7-2.9-3.7zM75.4 166l2.9 3.7-2.9 3.7-2.9-3.7zM75.7 153.3l2.9 3.7-2.9 3.7-2.9-3.7zM76 153.3l2.9 3.7-2.9 3.7-2.9-3.7zM76.3 147.1l2.9 3.7-2.9 3.7-2.9-3.7zM76.6 157.5l2.9 3.7-2.9 3.7-2.9-3.7zM76.9 170.1l2.9 3.7-2.9 3.7-2.9-3.7zM77.2 174.9l2.9 3.7-2.9 3.7-2.9-3.7zM77.5 146.6l2.9 3.7-2.9 3.7-2.9-3.7zM77.8 164.8l2.9 3.7-2.9 3.7-2.9-3.7zM78.1 136.7l2.9 3.7-2.9 3.7-2.9-3.7zM78.5 154l2.9 3.7-2.9 3.7-2.9-3.7zM78.8 158.2l2.9 3.7-2.9 3.7-2.9-3.7zM79.1 150.3l2.9 3.7-2.9 3.7-2.9-3.7zM79.4 161.2l2.9 3.7-2.9 3.7-2.9-3.7zM79.7 157.5l2.9 3.7-2.9 3.7-2.9-3.7zM80 150.3l2.9 3.7-2.9 3.7-2.9-3.7zM80.3 150.1l2.9 3.7-2.9 3.7-2.9-3.7zM80.6 156.3l2.9 3.7-2.9 3.7-2.9-3.7zM80.9 138.3l2.9 3.7-2.9 3.7-2.9-3.7zM81.2 154.8l2.9 3.7-2.9 3.7-2.9-3.7zM81.5 152.8l2.9 3.7-2.9 3.7-2.9-3.7zM81.8 149.6l2.9 3.7-2.9 3.7-2.9-3.7zM82.2 137.2l2.9 3.7-2.9 3.7-2.9-3.7zM82.5 148.2l2.9 3.7-2.9 3.7-2.9-3.7zM82.8 152.5l2.9 3.7-2.9 3.7-2.9-3.7zM83.1 154.8l2.9 3.7-2.9 3.7-2.9-3.7zM83.4 153l2.9 3.7-2.9 3.7-2.9-3.7zM83.7 160.1l2.9 3.7-2.9 3.7-2.9-3.7zM84 162l2.9 3.7-2.9 3.7-2.9-3.7zM84.3 149.1l2.9 3.7-2.9 3.7-2.9-3.7zM84.6 156.8l2.9 3.7-2.9 3.7-2.9-3.7zM84.9 152.1l2.9 3.7-2.9 3.7-2.9-3.7zM85.2 157l2.9 3.7-2.9 3.7-2.9-3.7zM85.5 154.4l2.9 3.7-2.9 3.7-2.9-3.7zM85.8 142.9l2.9 3.7-2.9 3.7-2.9-3.7zM86.2 147.7l2.9 3.7-2.9 3.7-2.9-3.7zM86.5 146.7l2.9 3.7-2.9 3.7-2.9-3.7zM86.8 147.9l2.9 3.7-2.9 3.7-2.9-3.7zM87.1 167.3l2.9 3.7-2.9 3.7-2.9-3.7zM87.4 159.3l2.9 3.7-2.9 3.7-2.9-3.7zM87.7 160.8l2.9 3.7-2.9 3.7-2.9-3.7zM88 150.5l2.9 3.7-2.9 3.7-2.9-3.7zM88.3 151.5l2.9 3.7-2.9 3.7-2.9-3.7zM88.6 156.1l2.9 3.7-2.9 3.7-2.9-3.7zM88.9 152.5l2.9 3.7-2.9 3.7-2.9-3.7zM89.2 146.8l2.9 3.7-2.9 3.7-2.9-3.7zM89.5 146.8l2.9 3.7-2.9 3.7-2.9-3.7zM89.9 147.2l2.9 3.7-2.9 3.7-2.9-3.7zM90.2 149.2l2.9 3.7-2.9 3.7-2.9-3.7zM90.5 148.6l2.9 3.7-2.9 3.7-2.9-3.7zM90.8 158.5l2.9 3.7-2.9 3.7-2.9-3.7zM91.1 153.3l2.9 3.7-2.9 3.7-2.9-3.7zM91.4 148.7l2.9 3.7-2.9 3.7-2.9-3.7zM91.7 150.5l2.9 3.7-2.9 3.7-2.9-3.7zM92 139.1l2.9 3.7-2.9 3.7-2.9-3.7zM92.3 157.8l2.9 3.7-2.9 3.7-2.9-3.7zM92.6 163.6l2.9 3.7-2.9 3.7-2.9-3.7zM92.9 150.7l2.9 3.7-2.9 3.7-2.9-3.7zM93.2 159l2.9 3.7-2.9 3.7-2.9-3.7zM93.6 153.6l2.9 3.7-2.9 3.7-2.9-3.7zM93.9 154.4l2.9 3.7-2.9 3.7-2.9-3.7zM94.2 160.7l2.9 3.7-2.9 3.7-2.9-3.7zM94.5 155.2l2.9 3.7-2.9 3.7-2.9-3.7zM94.8 150.5l2.9 3.7-2.9 3.7-2.9-3.7zM95.1 148.8l2.9 3.7-2.9 3.7-2.9-3.7zM95.4 155.3l2.9 3.7-2.9 3.7-2.9-3.7zM95.7 155.9l2.9 3.7-2.9 3.7-2.9-3.7zM96 153.3l2.9 3.7-2.9 3.7-2.9-3.7zM96.3 160.7l2.9 3.7-2.9 3.7-2.9-3.7zM96.6 164.2l2.9 3.7-2.9 3.7-2.9-3.7zM96.9 157.9l2.9 3.7-2.9 3.7-2.9-3.7zM97.3 165.7l2.9 3.7-2.9 3.7-2.9-3.7zM97.6 148l2.9 3.7-2.9 3.7-2.9-3.7zM97.9 146.4l2.9 3.7-2.9 3.7-2.9-3.7zM98.2 170.5l2.9 3.7-2.9 3.7-2.9-3.7zM98.5 162.9l2.9 3.7-2.9 3.7-2.9-3.7zM98.8 162.8l2.9 3.7-2.9 3.7-2.9-3.7zM99.1 143.7l2.9 3.7-2.9 3.7-2.9-3.7zM99.4 148.4l2.9 3.7-2.9 3.7-2.9-3.7zM99.7 155.6l2.9 3.7-2.9 3.7-2.9-3.7zM100 156.1l2.9 3.7-2.9 3.7-2.9-3.7zM100.3 152.5l2.9 3.7-2.9 3.7-2.9-3.7zM100.6 147.7l2.9 3.7-2.9 3.7-2.9-3.7zM101 152.8l2.9 3.7-2.9 3.7-2.9-3.7zM101.3 144.5l2.9 3.7-2.9 3.7-2.9-3.7zM101.6 142.6l2.9 3.7-2.9 3.7-2.9-3.7zM101.9 156.2l2.9 3.7-2.9 3.7-2.9-3.7zM102.2 150.9l2.9 3.7-2.9 3.7-2.9-3.7zM102.5 162.7l2.9 3.7-2.9 3.7-2.9-3.7zM102.8 158.9l2.9 3.7-2.9 3.7-2.9-3.7zM103.1 147.4l2.9 3.7-2.9 3.7-2.9-3.7zM103.4 148.9l2.9 3.7-2.9 3.7-2.9-3.7zM103.7 158l2.9 3.7-2.9 3.7-2.9-3.7zM104 148.9l2.9 3.7-2.9 3.7-2.9-3.7zM104.3 148.7l2.9 3.7-2.9 3.7-2.9-3.7zM104.6 154.9l2.9 3.7-2.9 3.7-2.9-3.7zM105 160.6l2.9 3.7-2.9 3.7-2.9-3.7zM105.3 153.8l2.9 3.7-2.9 3.7-2.9-3.7zM105.6 154.8l2.9 3.7-2.9 3.7-2.9-3.7zM105.9 142.9l2.9 3.7-2.9 3.7-2.9-3.7zM106.2 144.1l2.9 3.7-2.9 3.7-2.9-3.7zM106.5 158.3l2.9 3.7-2.9 3.7-2.9-3.7zM106.8 155.2l2.9 3.7-2.9 3.7-2.9-3.7zM107.1 156.8l2.9 3.7-2.9 3.7-2.9-3.7zM107.4 152.3l2.9 3.7-2.9 3.7-2.9-3.7zM107.7 155.4l2.9 3.7-2.9 3.7-2.9-3.7zM108 153.5l2.9 3.7-2.9 3.7-2.9-3.7zM108.3 154.1l2.9 3.7-2.9 3.7-2.9-3.7zM108.7 151.2l2.9 3.7-2.9 3.7-2.9-3.7zM109 157l2.9 3.7-2.9 3.7-2.9-3.7zM109.3 148.5l2.9 3.7-2.9 3.7-2.9-3.7zM109.6 137.7l2.9 3.7-2.9 3.7-2.9-3.7zM109.9 148.4l2.9 3.7-2.9 3.7-2.9-3.7zM110.2 156.2l2.9 3.7-2.9 3.7-2.9-3.7zM110.5 163.5l2.9 3.7-2.9 3.7-2.9-3.7zM110.8 147.8l2.9 3.7-2.9 3.7-2.9-3.7zM111.1 154.2l2.9 3.7-2.9 3.7-2.9-3.7zM111.4 151.6l2.9 3.7-2.9 3.7-2.9-3.7zM111.7 153.8l2.9 3.7-2.9 3.7-2.9-3.7zM112 165l2.9 3.7-2.9 3.7-2.9-3.7zM112.4 165.2l2.9 3.7-2.9 3.7-2.9-3.7zM112.7 163.9l2.9 3.7-2.9 3.7-2.9-3.7zM113 161.7l2.9 3.7-2.9 3.7-2.9-3.7zM113.3 151.4l2.9 3.7-2.9 3.7-2.9-3.7zM113.6 164.6l2.9 3.7-2.9 3.7-2.9-3.7zM113.9 143.9l2.9 3.7-2.9 3.7-2.9-3.7zM114.2 161.3l2.9 3.7-2.9 3.7-2.9-3.7zM114.5 149.9l2.9 3.7-2.9 3.7-2.9-3.7zM114.8 212.7l2.9 3.7-2.9 3.7-2.9-3.7zM115.1 149l2.9 3.7-2.9 3.7-2.9-3.7zM115.4 166.7l2.9 3.7-2.9 3.7-2.9-3.7zM115.7 139.7l2.9 3.7-2.9 3.7-2.9-3.7zM116.1 155.3l2.9 3.7-2.9 3.7-2.9-3.7zM116.4 166.1l2.9 3.7-2.9 3.7-2.9-3.7zM116.7 164.8l2.9 3.7-2.9 3.7-2.9-3.7zM117 159.9l2.9 3.7-2.9 3.7-2.9-3.7zM117.3 154l2.9 3.7-2.9 3.7-2.9-3.7zM117.6 152l2.9 3.7-2.9 3.7-2.9-3.7zM117.9 141.3l2.9 3.7-2.9 3.7-2.9-3.7zM118.2 212.3l2.9 3.7-2.9 3.7-2.9-3.7zM118.5 162.8l2.9 3.7-2.9 3.7-2.9-3.7zM118.8 156.7l2.9 3.7-2.9 3.7-2.9-3.7zM119.1 152.9l2.9 3.7-2.9 3.7-2.9-3.7zM119.4 155.3l2.9 3.7-2.9 3.7-2.9-3.7zM119.8 164.1l2.9 3.7-2.9 3.7-2.9-3.7zM120.1 161.6l2.9 3.7-2.9 3.7-2.9-3.7zM120.4 149.6l2.9 3.7-2.9 3.7-2.9-3.7zM120.7 150.8l2.9 3.7-2.9 3.7-2.9-3.7zM121 156.7l2.9 3.7-2.9 3.7-2.9-3.7zM121.3 161.5l2.9 3.7-2.9 3.7-2.9-3.7zM121.6 149.2l2.9 3.7-2.9 3.7-2.9-3.7zM121.9 160.1l2.9 3.7-2.9 3.7-2.9-3.7zM122.2 157.5l2.9 3.7-2.9 3.7-2.9-3.7zM122.5 155.2l2.9 3.7-2.9 3.7-2.9-3.7zM122.8 153.6l2.9 3.7-2.9 3.7-2.9-3.7zM123.1 151.5l2.9 3.7-2.9 3.7-2.9-3.7zM123.4 156.1l2.9 3.7-2.9 3.7-2.9-3.7zM123.8 168.9l2.9 3.7-2.9 3.7-2.9-3.7zM124.1 157.1l2.9 3.7-2.9 3.7-2.9-3.7zM124.4 151.4l2.9 3.7-2.9 3.7-2.9-3.7zM124.7 149.5l2.9 3.7-2.9 3.7-2.9-3.7zM125 160.9l2.9 3.7-2.9 3.7-2.9-3.7zM125.3 162.3l2.9 3.7-2.9 3.7-2.9-3.7zM125.6 163.3l2.9 3.7-2.9 3.7-2.9-3.7zM125.9 174l2.9 3.7-2.9 3.7-2.9-3.7zM126.2 158.2l2.9 3.7-2.9 3.7-2.9-3.7zM126.5 166.1l2.9 3.7-2.9 3.7-2.9-3.7zM126.8 159.5l2.9 3.7-2.9 3.7-2.9-3.7zM127.1 153.1l2.9 3.7-2.9 3.7-2.9-3.7zM127.5 161.5l2.9 3.7-2.9 3.7-2.9-3.7zM127.8 142.5l2.9 3.7-2.9 3.7-2.9-3.7zM128.1 153.5l2.9 3.7-2.9 3.7-2.9-3.7zM128.4 155.7l2.9 3.7-2.9 3.7-2.9-3.7zM128.7 165.4l2.9 3.7-2.9 3.7-2.9-3.7zM129 140.3l2.9 3.7-2.9 3.7-2.9-3.7zM129.3 155.4l2.9 3.7-2.9 3.7-2.9-3.7zM129.6 154.6l2.9 3.7-2.9 3.7-2.9-3.7zM129.9 157.2l2.9 3.7-2.9 3.7-2.9-3.7zM130.2 150.4l2.9 3.7-2.9 3.7-2.9-3.7zM130.5 143.5l2.9 3.7-2.9 3.7-2.9-3.7zM130.8 157.7l2.9 3.7-2.9 3.7-2.9-3.7zM131.2 161.4l2.9 3.7-2.9 3.7-2.9-3.7zM131.5 157.8l2.9 3.7-2.9 3.7-2.9-3.7zM131.8 142.7l2.9 3.7-2.9 3.7-2.9-3.7zM132.1 157.8l2.9 3.7-2.9 3.7-2.9-3.7zM132.4 168.6l2.9 3.7-2.9 3.7-2.9-3.7zM132.7 149l2.9 3.7-2.9 3.7-2.9-3.7zM133 146.1l2.9 3.7-2.9 3.7-2.9-3.7zM133.3 151.1l2.9 3.7-2.9 3.7-2.9-3.7zM133.6 152.9l2.9 3.7-2.9 3.7-2.9-3.7zM133.9 155.4l2.9 3.7-2.9 3.7-2.9-3.7zM134.2 160.7l2.9 3.7-2.9 3.7-2.9-3.7zM134.5 168l2.9 3.7-2.9 3.7-2.9-3.7zM134.9 159.4l2.9 3.7-2.9 3.7-2.9-3.7zM135.2 154.2l2.9 3.7-2.9 3.7-2.9-3.7zM135.5 162.8l2.9 3.7-2.9 3.7-2.9-3.7zM135.8 158.1l2.9 3.7-2.9 3.7-2.9-3.7zM136.1 165.1l2.9 3.7-2.9 3.7-2.9-3.7zM136.4 148l2.9 3.7-2.9 3.7-2.9-3.7zM136.7 156.5l2.9 3.7-2.9 3.7-2.9-3.7zM137 153.5l2.9 3.7-2.9 3.7-2.9-3.7zM137.3 169.1l2.9 3.7-2.9 3.7-2.9-3.7zM137.6 141.9l2.9 3.7-2.9 3.7-2.9-3.7zM137.9 146.4l2.9 3.7-2.9 3.7-2.9-3.7zM138.2 169.4l2.9 3.7-2.9 3.7-2.9-3.7zM138.5 157.1l2.9 3.7-2.9 3.7-2.9-3.7zM138.9 148.6l2.9 3.7-2.9 3.7-2.9-3.7zM139.2 157.5l2.9 3.7-2.9 3.7-2.9-3.7zM139.5 159.8l2.9 3.7-2.9 3.7-2.9-3.7zM139.8 160.1l2.9 3.7-2.9 3.7-2.9-3.7zM140.1 161.1l2.9 3.7-2.9 3.7-2.9-3.7zM140.4 151.7l2.9 3.7-2.9 3.7-2.9-3.7zM140.7 159l2.9 3.7-2.9 3.7-2.9-3.7zM141 147.3l2.9 3.7-2.9 3.7-2.9-3.7zM141.3 160.4l2.9 3.7-2.9 3.7-2.9-3.7zM141.6 149.8l2.9 3.7-2.9 3.7-2.9-3.7zM141.9 155.1l2.9 3.7-2.9 3.7-2.9-3.7zM142.2 158l2.9 3.7-2.9 3.7-2.9-3.7zM142.6 164.7l2.9 3.7-2.9 3.7-2.9-3.7zM142.9 156.8l2.9 3.7-2.9 3.7-2.9-3.7zM143.2 171.1l2.9 3.7-2.9 3.7-2.9-3.7zM143.5 156.8l2.9 3.7-2.9 3.7-2.9-3.7zM143.8 157.1l2.9 3.7-2.9 3.7-2.9-3.7zM144.1 169.3l2.9 3.7-2.9 3.7-2.9-3.7zM144.4 160.9l2.9 3.7-2.9 3.7-2.9-3.7zM144.7 142.4l2.9 3.7-2.9 3.7-2.9-3.7zM145 157.3l2.9 3.7-2.9 3.7-2.9-3.7zM145.3 161.4l2.9 3.7-2.9 3.7-2.9-3.7zM145.6 153.5l2.9 3.7-2.9 3.7-2.9-3.7zM145.9 146.9l2.9 3.7-2.9 3.7-2.9-3.7zM146.3 156.2l2.9 3.7-2.9 3.7-2.9-3.7zM146.6 159.1l2.9 3.7-2.9 3.7-2.9-3.7zM146.9 158l2.9 3.7-2.9 3.7-2.9-3.7zM147.2 147l2.9 3.7-2.9 3.7-2.9-3.7zM147.5 144.9l2.9 3.7-2.9 3.7-2.9-3.7zM147.8 151.8l2.9 3.7-2.9 3.7-2.9-3.7zM148.1 161.8l2.9 3.7-2.9 3.7-2.9-3.7zM148.4 151.8l2.9 3.7-2.9 3.7-2.9-3.7zM148.7 149.6l2.9 3.7-2.9 3.7-2.9-3.7zM149 155l2.9 3.7-2.9 3.7-2.9-3.7zM149.3 157.4l2.9 3.7-2.9 3.7-2.9-3.7zM149.6 147.1l2.9 3.7-2.9 3.7-2.9-3.7zM150 145.4l2.9 3.7-2.9 3.7-2.9-3.7zM150.3 162.7l2.9 3.7-2.9 3.7-2.9-3.7zM150.6 161.9l2.9 3.7-2.9 3.7-2.9-3.7zM150.9 145.3l2.9 3.7-2.9 3.7-2.9-3.7zM151.2 157.9l2.9 3.7-2.9 3.7-2.9-3.7zM151.5 152.3l2.9 3.7-2.9 3.7-2.9-3.7zM151.8 152.6l2.9 3.7-2.9 3.7-2.9-3.7zM152.1 153.2l2.9 3.7-2.9 3.7-2.9-3.7zM152.4 152.5l2.9 3.7-2.9 3.7-2.9-3.7zM152.7 159.3l2.9 3.7-2.9 3.7-2.9-3.7zM153 152.1l2.9 3.7-2.9 3.7-2.9-3.7zM153.3 160.5l2.9 3.7-2.9 3.7-2.9-3.7zM153.7 147.1l2.9 3.7-2.9 3.7-2.9-3.7zM154 158.7l2.9 3.7-2.9 3.7-2.9-3.7zM154.3 154.1l2.9 3.7-2.9 3.7-2.9-3.7zM154.6 156.2l2.9 3.7-2.9 3.7-2.9-3.7zM154.9 155.5l2.9 3.7-2.9 3.7-2.9-3.7zM155.2 155.6l2.9 3.7-2.9 3.7-2.9-3.7zM155.5 156.1l2.9 3.7-2.9 3.7-2.9-3.7zM155.8 158.8l2.9 3.7-2.9 3.7-2.9-3.7zM156.1 164.9l2.9 3.7-2.9 3.7-2.9-3.7zM156.4 155l2.9 3.7-2.9 3.7-2.9-3.7zM156.7 163l2.9 3.7-2.9 3.7-2.9-3.7zM157 154.4l2.9 3.7-2.9 3.7-2.9-3.7zM157.3 142.4l2.9 3.7-2.9 3.7-2.9-3.7zM157.7 163l2.9 3.7-2.9 3.7-2.9-3.7zM158 146l2.9 3.7-2.9 3.7-2.9-3.7zM158.3 159.9l2.9 3.7-2.9 3.7-2.9-3.7zM158.6 173.3l2.9 3.7-2.9 3.7-2.9-3.7zM158.9 149.2l2.9 3.7-2.9 3.7-2.9-3.7zM159.2 154.9l2.9 3.7-2.9 3.7-2.9-3.7zM159.5 152l2.9 3.7-2.9 3.7-2.9-3.7zM159.8 164.8l2.9 3.7-2.9 3.7-2.9-3.7zM160.1 159.4l2.9 3.7-2.9 3.7-2.9-3.7zM160.4 156.3l2.9 3.7-2.9 3.7-2.9-3.7zM160.7 162.7l2.9 3.7-2.9 3.7-2.9-3.7zM161 160.8l2.9 3.7-2.9 3.7-2.9-3.7zM161.4 157.1l2.9 3.7-2.9 3.7-2.9-3.7zM161.7 160.9l2.9 3.7-2.9 3.7-2.9-3.7zM162 149.3l2.9 3.7-2.9 3.7-2.9-3.7zM162.3 158.8l2.9 3.7-2.9 3.7-2.9-3.7zM162.6 154.9l2.9 3.7-2.9 3.7-2.9-3.7zM162.9 155.3l2.9 3.7-2.9 3.7-2.9-3.7zM163.2 153.6l2.9 3.7-2.9 3.7-2.9-3.7zM163.5 152.8l2.9 3.7-2.9 3.7-2.9-3.7zM163.8 155l2.9 3.7-2.9 3.7-2.9-3.7zM164.1 158.6l2.9 3.7-2.9 3.7-2.9-3.7zM164.4 165.4l2.9 3.7-2.9 3.7-2.9-3.7zM164.7 157.5l2.9 3.7-2.9 3.7-2.9-3.7zM165.1 152.5l2.9 3.7-2.9 3.7-2.9-3.7zM165.4 148.5l2.9 3.7-2.9 3.7-2.9-3.7zM165.7 156.7l2.9 3.7-2.9 3.7-2.9-3.7zM166 160.3l2.9 3.7-2.9 3.7-2.9-3.7zM166.3 150.4l2.9 3.7-2.9 3.7-2.9-3.7zM166.6 159.7l2.9 3.7-2.9 3.7-2.9-3.7zM166.9 156.2l2.9 3.7-2.9 3.7-2.9-3.7zM167.2 145.6l2.9 3.7-2.9 3.7-2.9-3.7zM167.5 137.9l2.9 3.7-2.9 3.7-2.9-3.7zM167.8 159.6l2.9 3.7-2.9 3.7-2.9-3.7zM168.1 151.5l2.9 3.7-2.9 3.7-2.9-3.7zM168.4 161.7l2.9 3.7-2.9 3.7-2.9-3.7zM168.8 156.6l2.9 3.7-2.9 3.7-2.9-3.7zM169.1 147l2.9 3.7-2.9 3.7-2.9-3.7zM169.4 164.1l2.9 3.7-2.9 3.7-2.9-3.7zM169.7 155.2l2.9 3.7-2.9 3.7-2.9-3.7zM170 155.1l2.9 3.7-2.9 3.7-2.9-3.7zM170.3 153.9l2.9 3.7-2.9 3.7-2.9-3.7zM170.6 166.6l2.9 3.7-2.9 3.7-2.9-3.7zM170.9 155.1l2.9 3.7-2.9 3.7-2.9-3.7zM171.2 158.3l2.9 3.7-2.9 3.7-2.9-3.7zM171.5 147.4l2.9 3.7-2.9 3.7-2.9-3.7zM171.8 162.3l2.9 3.7-2.9 3.7-2.9-3.7zM172.1 154l2.9 3.7-2.9 3.7-2.9-3.7zM172.4 159.1l2.9 3.7-2.9 3.7-2.9-3.7zM172.8 141l2.9 3.7-2.9 3.7-2.9-3.7zM173.1 156.1l2.9 3.7-2.9 3.7-2.9-3.7zM173.4 151l2.9 3.7-2.9 3.7-2.9-3.7zM173.7 164.7l2.9 3.7-2.9 3.7-2.9-3.7zM174 162.6l2.9 3.7-2.9 3.7-2.9-3.7zM174.3 147.9l2.9 3.7-2.9 3.7-2.9-3.7zM174.6 157.2l2.9 3.7-2.9 3.7-2.9-3.7zM174.9 156.7l2.9 3.7-2.9 3.7-2.9-3.7zM175.2 166.4l2.9 3.7-2.9 3.7-2.9-3.7zM175.5 158.6l2.9 3.7-2.9 3.7-2.9-3.7zM175.8 157.3l2.9 3.7-2.9 3.7-2.9-3.7zM176.1 166.6l2.9 3.7-2.9 3.7-2.9-3.7zM176.5 166.7l2.9 3.7-2.9 3.7-2.9-3.7zM176.8 155.3l2.9 3.7-2.9 3.7-2.9-3.7zM177.1 148.8l2.9 3.7-2.9 3.7-2.9-3.7zM177.4 159.4l2.9 3.7-2.9 3.7-2.9-3.7zM177.7 157.5l2.9 3.7-2.9 3.7-2.9-3.7zM178 155.2l2.9 3.7-2.9 3.7-2.9-3.7zM178.3 158.7l2.9 3.7-2.9 3.7-2.9-3.7zM178.6 160.1l2.9 3.7-2.9 3.7-2.9-3.7zM178.9 163l2.9 3.7-2.9 3.7-2.9-3.7zM179.2 156.4l2.9 3.7-2.9 3.7-2.9-3.7zM179.5 151.7l2.9 3.7-2.9 3.7-2.9-3.7zM179.8 151.5l2.9 3.7-2.9 3.7-2.9-3.7zM180.2 168.4l2.9 3.7-2.9 3.7-2.9-3.7zM180.5 151.6l2.9 3.7-2.9 3.7-2.9-3.7zM180.8 152.4l2.9 3.7-2.9 3.7-2.9-3.7zM181.1 151.2l2.9 3.7-2.9 3.7-2.9-3.7zM181.4 173.9l2.9 3.7-2.9 3.7-2.9-3.7zM181.7 155.2l2.9 3.7-2.9 3.7-2.9-3.7zM182 153.2l2.9 3.7-2.9 3.7-2.9-3.7zM182.3 158.1l2.9 3.7-2.9 3.7-2.9-3.7zM182.6 166l2.9 3.7-2.9 3.7-2.9-3.7zM182.9 162.3l2.9 3.7-2.9 3.7-2.9-3.7zM183.2 154.2l2.9 3.7-2.9 3.7-2.9-3.7zM183.5 152.2l2.9 3.7-2.9 3.7-2.9-3.7zM183.9 158.6l2.9 3.7-2.9 3.7-2.9-3.7zM184.2 160.7l2.9 3.7-2.9 3.7-2.9-3.7zM184.5 167.6l2.9 3.7-2.9 3.7-2.9-3.7zM184.8 168.6l2.9 3.7-2.9 3.7-2.9-3.7zM185.1 152.2l2.9 3.7-2.9 3.7-2.9-3.7zM185.4 153.9l2.9 3.7-2.9 3.7-2.9-3.7zM185.7 141.5l2.9 3.7-2.9 3.7-2.9-3.7zM186 158.4l2.9 3.7-2.9 3.7-2.9-3.7zM186.3 152.1l2.9 3.7-2.9 3.7-2.9-3.7zM186.6 150.5l2.9 3.7-2.9 3.7-2.9-3.7zM186.9 160.8l2.9 3.7-2.9 3.7-2.9-3.7zM187.2 166.7l2.9 3.7-2.9 3.7-2.9-3.7zM187.6 151.5l2.9 3.7-2.9 3.7-2.9-3.7zM187.9 161.7l2.9 3.7-2.9 3.7-2.9-3.7zM188.2 161.8l2.9 3.7-2.9 3.7-2.9-3.7zM188.5 177.9l2.9 3.7-2.9 3.7-2.9-3.7zM188.8 162.2l2.9 3.7-2.9 3.7-2.9-3.7zM189.1 157.7l2.9 3.7-2.9 3.7-2.9-3.7zM189.4 159.4l2.9 3.7-2.9 3.7-2.9-3.7zM189.7 179.4l2.9 3.7-2.9 3.7-2.9-3.7zM190 146l2.9 3.7-2.9 3.7-2.9-3.7zM190.3 161.6l2.9 3.7-2.9 3.7-2.9-3.7zM190.6 166.3l2.9 3.7-2.9 3.7-2.9-3.7zM190.9 170.6l2.9 3.7-2.9 3.7-2.9-3.7zM191.2 170l2.9 3.7-2.9 3.7-2.9-3.7zM191.6 156l2.9 3.7-2.9 3.7-2.9-3.7zM191.9 157l2.9 3.7-2.9 3.7-2.9-3.7zM192.2 139.9l2.9 3.7-2.9 3.7-2.9-3.7zM192.5 160.1l2.9 3.7-2.9 3.7-2.9-3.7zM192.8 161.7l2.9 3.7-2.9 3.7-2.9-3.7zM193.1 159.2l2.9 3.7-2.9 3.7-2.9-3.7zM193.4 154.7l2.9 3.7-2.9 3.7-2.9-3.7zM193.7 164.3l2.9 3.7-2.9 3.7-2.9-3.7zM194 144.3l2.9 3.7-2.9 3.7-2.9-3.7zM194.3 156.2l2.9 3.7-2.9 3.7-2.9-3.7zM194.6 148.9l2.9 3.7-2.9 3.7-2.9-3.7zM194.9 163.7l2.9 3.7-2.9 3.7-2.9-3.7zM195.3 162.2l2.9 3.7-2.9 3.7-2.9-3.7zM195.6 160.6l2.9 3.7-2.9 3.7-2.9-3.7zM195.9 157.5l2.9 3.7-2.9 3.7-2.9-3.7zM196.2 155.2l2.9 3.7-2.9 3.7-2.9-3.7zM196.5 152.4l2.9 3.7-2.9 3.7-2.9-3.7zM196.8 169.4l2.9 3.7-2.9 3.7-2.9-3.7zM197.1 166.3l2.9 3.7-2.9 3.7-2.9-3.7zM197.4 153.3l2.9 3.7-2.9 3.7-2.9-3.7zM197.7 163.7l2.9 3.7-2.9 3.7-2.9-3.7zM198 157.8l2.9 3.7-2.9 3.7-2.9-3.7zM198.3 171l2.9 3.7-2.9 3.7-2.9-3.7zM198.6 171.4l2.9 3.7-2.9 3.7-2.9-3.7zM199 148.5l2.9 3.7-2.9 3.7-2.9-3.7zM199.3 155l2.9 3.7-2.9 3.7-2.9-3.7zM199.6 163.6l2.9 3.7-2.9 3.7-2.9-3.7zM199.9 149.8l2.9 3.7-2.9 3.7-2.9-3.7zM200.2 159.8l2.9 3.7-2.9 3.7-2.9-3.7zM200.5 157.6l2.9 3.7-2.9 3.7-2.9-3.7zM200.8 164.9l2.9 3.7-2.9 3.7-2.9-3.7zM201.1 146.4l2.9 3.7-2.9 3.7-2.9-3.7zM201.4 160.9l2.9 3.7-2.9 3.7-2.9-3.7zM201.7 163.4l2.9 3.7-2.9 3.7-2.9-3.7zM202 147.8l2.9 3.7-2.9 3.7-2.9-3.7zM202.3 144.4l2.9 3.7-2.9 3.7-2.9-3.7zM202.7 161.1l2.9 3.7-2.9 3.7-2.9-3.7zM203 160.2l2.9 3.7-2.9 3.7-2.9-3.7zM203.3 159.2l2.9 3.7-2.9 3.7-2.9-3.7zM203.6 171.3l2.9 3.7-2.9 3.7-2.9-3.7zM203.9 158.7l2.9 3.7-2.9 3.7-2.9-3.7zM204.2 151.9l2.9 3.7-2.9 3.7-2.9-3.7zM204.5 160.4l2.9 3.7-2.9 3.7-2.9-3.7zM204.8 151.8l2.9 3.7-2.9 3.7-2.9-3.7zM205.1 145.6l2.9 3.7-2.9 3.7-2.9-3.7zM205.4 147.2l2.9 3.7-2.9 3.7-2.9-3.7zM205.7 158.3l2.9 3.7-2.9 3.7-2.9-3.7zM206 140.3l2.9 3.7-2.9 3.7-2.9-3.7zM206.3 160l2.9 3.7-2.9 3.7-2.9-3.7zM206.7 158.4l2.9 3.7-2.9 3.7-2.9-3.7zM207 153.2l2.9 3.7-2.9 3.7-2.9-3.7zM207.3 149.2l2.9 3.7-2.9 3.7-2.9-3.7zM207.6 159.2l2.9 3.7-2.9 3.7-2.9-3.7zM207.9 154.4l2.9 3.7-2.9 3.7-2.9-3.7zM208.2 161.9l2.9 3.7-2.9 3.7-2.9-3.7zM208.5 155.4l2.9 3.7-2.9 3.7-2.9-3.7zM208.8 159.2l2.9 3.7-2.9 3.7-2.9-3.7zM209.1 164.5l2.9 3.7-2.9 3.7-2.9-3.7zM209.4 150.4l2.9 3.7-2.9 3.7-2.9-3.7zM209.7 149.7l2.9 3.7-2.9 3.7-2.9-3.7zM210 145.8l2.9 3.7-2.9 3.7-2.9-3.7zM210.4 169.3l2.9 3.7-2.9 3.7-2.9-3.7zM210.7 157.9l2.9 3.7-2.9 3.7-2.9-3.7zM211 151.7l2.9 3.7-2.9 3.7-2.9-3.7zM211.3 153.5l2.9 3.7-2.9 3.7-2.9-3.7zM211.6 155.6l2.9 3.7-2.9 3.7-2.9-3.7zM211.9 143.5l2.9 3.7-2.9 3.7-2.9-3.7zM212.2 157.6l2.9 3.7-2.9 3.7-2.9-3.7zM212.5 171.2l2.9 3.7-2.9 3.7-2.9-3.7zM212.8 141.1l2.9 3.7-2.9 3.7-2.9-3.7zM213.1 153.8l2.9 3.7-2.9 3.7-2.9-3.7zM213.4 164.5l2.9 3.7-2.9 3.7-2.9-3.7zM213.7 165.8l2.9 3.7-2.9 3.7-2.9-3.7zM214.1 169.7l2.9 3.7-2.9 3.7-2.9-3.7zM214.4 156.6l2.9 3.7-2.9 3.7-2.9-3.7zM214.7 162.9l2.9 3.7-2.9 3.7-2.9-3.7zM215 152.6l2.9 3.7-2.9 3.7-2.9-3.7zM215.3 172.6l2.9 3.7-2.9 3.7-2.9-3.7zM215.6 170.6l2.9 3.7-2.9 3.7-2.9-3.7zM215.9 153.2l2.9 3.7-2.9 3.7-2.9-3.7zM216.2 166.8l2.9 3.7-2.9 3.7-2.9-3.7zM216.5 162.4l2.9 3.7-2.9 3.7-2.9-3.7zM216.8 140.9l2.9 3.7-2.9 3.7-2.9-3.7zM217.1 151.6l2.9 3.7-2.9 3.7-2.9-3.7zM217.4 160.5l2.9 3.7-2.9 3.7-2.9-3.7zM217.8 145.1l2.9 3.7-2.9 3.7-2.9-3.7zM218.1 166.4l2.9 3.7-2.9 3.7-2.9-3.7zM218.4 165.1l2.9 3.7-2.9 3.7-2.9-3.7zM218.7 161.9l2.9 3.7-2.9 3.7-2.9-3.7zM219 148.7l2.9 3.7-2.9 3.7-2.9-3.7zM219.3 170.3l2.9 3.7-2.9 3.7-2.9-3.7zM219.6 166.7l2.9 3.7-2.9 3.7-2.9-3.7zM219.9 163.4l2.9 3.7-2.9 3.7-2.9-3.7zM220.2 159.5l2.9 3.7-2.9 3.7-2.9-3.7zM220.5 169.4l2.9 3.7-2.9 3.7-2.9-3.7zM220.8 162.8l2.9 3.7-2.9 3.7-2.9-3.7zM221.1 157.9l2.9 3.7-2.9 3.7-2.9-3.7zM221.4 165.9l2.9 3.7-2.9 3.7-2.9-3.7zM221.8 155.7l2.9 3.7-2.9 3.7-2.9-3.7zM222.1 169.6l2.9 3.7-2.9 3.7-2.9-3.7zM222.4 155.2l2.9 3.7-2.9 3.7-2.9-3.7zM222.7 169.2l2.9 3.7-2.9 3.7-2.9-3.7zM223 162.2l2.9 3.7-2.9 3.7-2.9-3.7zM223.3 156.7l2.9 3.7-2.9 3.7-2.9-3.7zM223.6 156.2l2.9 3.7-2.9 3.7-2.9-3.7zM223.9 164.4l2.9 3.7-2.9 3.7-2.9-3.7zM224.2 157.2l2.9 3.7-2.9 3.7-2.9-3.7zM224.5 147.2l2.9 3.7-2.9 3.7-2.9-3.7zM224.8 157.5l2.9 3.7-2.9 3.7-2.9-3.7zM225.1 173.2l2.9 3.7-2.9 3.7-2.9-3.7zM225.5 156l2.9 3.7-2.9 3.7-2.9-3.7zM225.8 147.5l2.9 3.7-2.9 3.7-2.9-3.7zM226.1 169.5l2.9 3.7-2.9 3.7-2.9-3.7zM226.4 158.6l2.9 3.7-2.9 3.7-2.9-3.7zM226.7 160.8l2.9 3.7-2.9 3.7-2.9-3.7zM227 158.8l2.9 3.7-2.9 3.7-2.9-3.7zM227.3 175.2l2.9 3.7-2.9 3.7-2.9-3.7zM227.6 155.7l2.9 3.7-2.9 3.7-2.9-3.7zM227.9 156.2l2.9 3.7-2.9 3.7-2.9-3.7zM228.2 163.2l2.9 3.7-2.9 3.7-2.9-3.7zM228.5 144.3l2.9 3.7-2.9 3.7-2.9-3.7zM228.8 146.1l2.9 3.7-2.9 3.7-2.9-3.7zM229.2 154.7l2.9 3.7-2.9 3.7-2.9-3.7zM229.5 167.1l2.9 3.7-2.9 3.7-2.9-3.7zM229.8 156.8l2.9 3.7-2.9 3.7-2.9-3.7zM230.1 161.8l2.9 3.7-2.9 3.7-2.9-3.7zM230.4 165.2l2.9 3.7-2.9 3.7-2.9-3.7zM230.7 160.1l2.9 3.7-2.9 3.7-2.9-3.7zM231 160.3l2.9 3.7-2.9 3.7-2.9-3.7zM231.3 140.9l2.9 3.7-2.9 3.7-2.9-3.7zM231.6 158.9l2.9 3.7-2.9 3.7-2.9-3.7zM231.9 154.7l2.9 3.7-2.9 3.7-2.9-3.7zM232.2 141l2.9 3.7-2.9 3.7-2.9-3.7zM232.5 170.5l2.9 3.7-2.9 3.7-2.9-3.7zM232.9 171.6l2.9 3.7-2.9 3.7-2.9-3.7zM233.2 153.5l2.9 3.7-2.9 3.7-2.9-3.7zM233.5 154.7l2.9 3.7-2.9 3.7-2.9-3.7zM233.8 158.9l2.9 3.7-2.9 3.7-2.9-3.7zM234.1 146.8l2.9 3.7-2.9 3.7-2.9-3.7zM234.4 154.5l2.9 3.7-2.9 3.7-2.9-3.7zM234.7 154l2.9 3.7-2.9 3.7-2.9-3.7zM235 150.9l2.9 3.7-2.9 3.7-2.9-3.7zM235.3 160.4l2.9 3.7-2.9 3.7-2.9-3.7zM235.6 155.8l2.9 3.7-2.9 3.7-2.9-3.7zM235.9 158.7l2.9 3.7-2.9 3.7-2.9-3.7zM236.2 147.5l2.9 3.7-2.9 3.7-2.9-3.7zM236.6 160.9l2.9 3.7-2.9 3.7-2.9-3.7zM236.9 152.6l2.9 3.7-2.9 3.7-2.9-3.7zM237.2 151l2.9 3.7-2.9 3.7-2.9-3.7zM237.5 171.7l2.9 3.7-2.9 3.7-2.9-3.7zM237.8 156.9l2.9 3.7-2.9 3.7-2.9-3.7zM238.1 160.9l2.9 3.7-2.9 3.7-2.9-3.7zM238.4 157.9l2.9 3.7-2.9 3.7-2.9-3.7zM238.7 164.2l2.9 3.7-2.9 3.7-2.9-3.7zM239 161.7l2.9 3.7-2.9 3.7-2.9-3.7zM239.3 157.4l2.9 3.7-2.9 3.7-2.9-3.7zM239.6 158.1l2.9 3.7-2.9 3.7-2.9-3.7zM239.9 165.3l2.9 3.7-2.9 3.7-2.9-3.7zM240.2 177.1l2.9 3.7-2.9 3.7-2.9-3.7zM240.6 169.1l2.9 3.7-2.9 3.7-2.9-3.7zM240.9 169.9l2.9 3.7-2.9 3.7-2.9-3.7zM241.2 152.5l2.9 3.7-2.9 3.7-2.9-3.7zM241.5 148.9l2.9 3.7-2.9 3.7-2.9-3.7zM241.8 166.2l2.9 3.7-2.9 3.7-2.9-3.7zM242.1 163.4l2.9 3.7-2.9 3.7-2.9-3.7zM242.4 174.2l2.9 3.7-2.9 3.7-2.9-3.7zM242.7 166.1l2.9 3.7-2.9 3.7-2.9-3.7zM243 174.6l2.9 3.7-2.9 3.7-2.9-3.7zM243.3 162l2.9 3.7-2.9 3.7-2.9-3.7zM243.6 172.2l2.9 3.7-2.9 3.7-2.9-3.7zM243.9 158.9l2.9 3.7-2.9 3.7-2.9-3.7zM244.3 153.2l2.9 3.7-2.9 3.7-2.9-3.7zM244.6 153.6l2.9 3.7-2.9 3.7-2.9-3.7zM244.9 156.6l2.9 3.7-2.9 3.7-2.9-3.7zM245.2 165.9l2.9 3.7-2.9 3.7-2.9-3.7zM245.5 160.4l2.9 3.7-2.9 3.7-2.9-3.7zM245.8 167.8l2.9 3.7-2.9 3.7-2.9-3.7zM246.1 144.3l2.9 3.7-2.9 3.7-2.9-3.7zM246.4 156.9l2.9 3.7-2.9 3.7-2.9-3.7zM246.7 156.4l2.9 3.7-2.9 3.7-2.9-3.7zM247 161.8l2.9 3.7-2.9 3.7-2.9-3.7zM247.3 173l2.9 3.7-2.9 3.7-2.9-3.7zM247.6 152.6l2.9 3.7-2.9 3.7-2.9-3.7zM248 166.1l2.9 3.7-2.9 3.7-2.9-3.7zM248.3 172.1l2.9 3.7-2.9 3.7-2.9-3.7zM248.6 151.3l2.9 3.7-2.9 3.7-2.9-3.7zM248.9 173.7l2.9 3.7-2.9 3.7-2.9-3.7zM249.2 167.3l2.9 3.7-2.9 3.7-2.9-3.7zM249.5 170.7l2.9 3.7-2.9 3.7-2.9-3.7zM249.8 161l2.9 3.7-2.9 3.7-2.9-3.7zM250.1 172.6l2.9 3.7-2.9 3.7-2.9-3.7zM250.4 145.8l2.9 3.7-2.9 3.7-2.9-3.7zM250.7 156.9l2.9 3.7-2.9 3.7-2.9-3.7zM251 140.1l2.9 3.7-2.9 3.7-2.9-3.7zM251.3 151.7l2.9 3.7-2.9 3.7-2.9-3.7zM251.7 164.7l2.9 3.7-2.9 3.7-2.9-3.7zM252 139.7l2.9 3.7-2.9 3.7-2.9-3.7zM252.3 170.8l2.9 3.7-2.9 3.7-2.9-3.7zM252.6 166.3l2.9 3.7-2.9 3.7-2.9-3.7zM252.9 159.8l2.9 3.7-2.9 3.7-2.9-3.7zM253.2 160.9l2.9 3.7-2.9 3.7-2.9-3.7zM253.5 156.4l2.9 3.7-2.9 3.7-2.9-3.7zM253.8 162.6l2.9 3.7-2.9 3.7-2.9-3.7zM254.1 167.4l2.9 3.7-2.9 3.7-2.9-3.7zM254.4 159.5l2.9 3.7-2.9 3.7-2.9-3.7zM254.7 154.9l2.9 3.7-2.9 3.7-2.9-3.7zM255 157.5l2.9 3.7-2.9 3.7-2.9-3.7zM255.3 168.4l2.9 3.7-2.9 3.7-2.9-3.7zM255.7 157.9l2.9 3.7-2.9 3.7-2.9-3.7zM256 153.6l2.9 3.7-2.9 3.7-2.9-3.7zM256.3 158.4l2.9 3.7-2.9 3.7-2.9-3.7zM256.6 167.6l2.9 3.7-2.9 3.7-2.9-3.7zM256.9 160.9l2.9 3.7-2.9 3.7-2.9-3.7zM257.2 158.1l2.9 3.7-2.9 3.7-2.9-3.7zM257.5 153.9l2.9 3.7-2.9 3.7-2.9-3.7zM257.8 163.6l2.9 3.7-2.9 3.7-2.9-3.7zM258.1 154.1l2.9 3.7-2.9 3.7-2.9-3.7zM258.4 163.2l2.9 3.7-2.9 3.7-2.9-3.7zM258.7 157.5l2.9 3.7-2.9 3.7-2.9-3.7zM259 179.3l2.9 3.7-2.9 3.7-2.9-3.7zM259.4 142.3l2.9 3.7-2.9 3.7-2.9-3.7zM259.7 155l2.9 3.7-2.9 3.7-2.9-3.7zM260 151l2.9 3.7-2.9 3.7-2.9-3.7zM260.3 166l2.9 3.7-2.9 3.7-2.9-3.7zM260.6 164.7l2.9 3.7-2.9 3.7-2.9-3.7zM260.9 174.4l2.9 3.7-2.9 3.7-2.9-3.7zM261.2 153l2.9 3.7-2.9 3.7-2.9-3.7zM261.5 158.3l2.9 3.7-2.9 3.7-2.9-3.7zM261.8 168.1l2.9 3.7-2.9 3.7-2.9-3.7zM262.1 168.2l2.9 3.7-2.9 3.7-2.9-3.7zM262.4 167.7l2.9 3.7-2.9 3.7-2.9-3.7zM262.7 164.9l2.9 3.7-2.9 3.7-2.9-3.7zM263.1 172l2.9 3.7-2.9 3.7-2.9-3.7zM263.4 160.5l2.9 3.7-2.9 3.7-2.9-3.7zM263.7 159.9l2.9 3.7-2.9 3.7-2.9-3.7zM264 154.2l2.9 3.7-2.9 3.7-2.9-3.7zM264.3 150.5l2.9 3.7-2.9 3.7-2.9-3.7zM264.6 168.7l2.9 3.7-2.9 3.7-2.9-3.7zM264.9 149.4l2.9 3.7-2.9 3.7-2.9-3.7zM265.2 176l2.9 3.7-2.9 3.7-2.9-3.7zM265.5 166.5l2.9 3.7-2.9 3.7-2.9-3.7zM265.8 167.2l2.9 3.7-2.9 3.7-2.9-3.7zM266.1 157.3l2.9 3.7-2.9 3.7-2.9-3.7zM266.4 143.5l2.9 3.7-2.9 3.7-2.9-3.7zM266.8 149.9l2.9 3.7-2.9 3.7-2.9-3.7zM267.1 163.6l2.9 3.7-2.9 3.7-2.9-3.7zM267.4 144.3l2.9 3.7-2.9 3.7-2.9-3.7zM267.7 151l2.9 3.7-2.9 3.7-2.9-3.7zM268 155.8l2.9 3.7-2.9 3.7-2.9-3.7zM268.3 163.9l2.9 3.7-2.9 3.7-2.9-3.7zM268.6 152l2.9 3.7-2.9 3.7-2.9-3.7zM268.9 152.5l2.9 3.7-2.9 3.7-2.9-3.7zM269.2 159.9l2.9 3.7-2.9 3.7-2.9-3.7zM269.5 162.9l2.9 3.7-2.9 3.7-2.9-3.7zM269.8 159.3l2.9 3.7-2.9 3.7-2.9-3.7zM270.1 162.9l2.9 3.7-2.9 3.7-2.9-3.7zM270.5 172.5l2.9 3.7-2.9 3.7-2.9-3.7zM270.8 158l2.9 3.7-2.9 3.7-2.9-3.7zM271.1 165.7l2.9 3.7-2.9 3.7-2.9-3.7zM271.4 151.9l2.9 3.7-2.9 3.7-2.9-3.7zM271.7 156l2.9 3.7-2.9 3.7-2.9-3.7zM272 148.1l2.9 3.7-2.9 3.7-2.9-3.7zM272.3 157.5l2.9 3.7-2.9 3.7-2.9-3.7zM272.6 167.3l2.9 3.7-2.9 3.7-2.9-3.7zM272.9 165.1l2.9 3.7-2.9 3.7-2.9-3.7zM273.2 163.3l2.9 3.7-2.9 3.7-2.9-3.7zM273.5 159.8l2.9 3.7-2.9 3.7-2.9-3.7zM273.8 169l2.9 3.7-2.9 3.7-2.9-3.7zM274.1 155.5l2.9 3.7-2.9 3.7-2.9-3.7zM274.5 150.5l2.9 3.7-2.9 3.7-2.9-3.7zM274.8 151.4l2.9 3.7-2.9 3.7-2.9-3.7zM275.1 165.7l2.9 3.7-2.9 3.7-2.9-3.7zM275.4 150.1l2.9 3.7-2.9 3.7-2.9-3.7zM275.7 172.4l2.9 3.7-2.9 3.7-2.9-3.7zM276 141.4l2.9 3.7-2.9 3.7-2.9-3.7zM276.3 165l2.9 3.7-2.9 3.7-2.9-3.7zM276.6 169.5l2.9 3.7-2.9 3.7-2.9-3.7zM276.9 160.9l2.9 3.7-2.9 3.7-2.9-3.7zM277.2 158.9l2.9 3.7-2.9 3.7-2.9-3.7zM277.5 163.3l2.9 3.7-2.9 3.7-2.9-3.7zM277.8 153.1l2.9 3.7-2.9 3.7-2.9-3.7zM278.2 171.2l2.9 3.7-2.9 3.7-2.9-3.7zM278.5 162.7l2.9 3.7-2.9 3.7-2.9-3.7zM278.8 162l2.9 3.7-2.9 3.7-2.9-3.7zM279.1 154.8l2.9 3.7-2.9 3.7-2.9-3.7zM279.4 167.4l2.9 3.7-2.9 3.7-2.9-3.7zM279.7 151.3l2.9 3.7-2.9 3.7-2.9-3.7zM280 162.8l2.9 3.7-2.9 3.7-2.9-3.7zM280.3 162.1l2.9 3.7-2.9 3.7-2.9-3.7zM280.6 171.1l2.9 3.7-2.9 3.7-2.9-3.7zM280.9 153.1l2.9 3.7-2.9 3.7-2.9-3.7zM281.2 160.6l2.9 3.7-2.9 3.7-2.9-3.7zM281.5 162.7l2.9 3.7-2.9 3.7-2.9-3.7zM281.9 164.5l2.9 3.7-2.9 3.7-2.9-3.7zM282.2 160.1l2.9 3.7-2.9 3.7-2.9-3.7zM282.5 178.4l2.9 3.7-2.9 3.7-2.9-3.7zM282.8 156.8l2.9 3.7-2.9 3.7-2.9-3.7zM283.1 166.5l2.9 3.7-2.9 3.7-2.9-3.7zM283.4 156.7l2.9 3.7-2.9 3.7-2.9-3.7zM283.7 175.5l2.9 3.7-2.9 3.7-2.9-3.7zM284 165.4l2.9 3.7-2.9 3.7-2.9-3.7zM284.3 140.4l2.9 3.7-2.9 3.7-2.9-3.7zM284.6 162.8l2.9 3.7-2.9 3.7-2.9-3.7zM284.9 151.6l2.9 3.7-2.9 3.7-2.9-3.7zM285.2 146.7l2.9 3.7-2.9 3.7-2.9-3.7zM285.6 151.3l2.9 3.7-2.9 3.7-2.9-3.7zM285.9 149.2l2.9 3.7-2.9 3.7-2.9-3.7zM286.2 161l2.9 3.7-2.9 3.7-2.9-3.7zM286.5 158.7l2.9 3.7-2.9 3.7-2.9-3.7zM286.8 160.4l2.9 3.7-2.9 3.7-2.9-3.7zM287.1 146.5l2.9 3.7-2.9 3.7-2.9-3.7zM287.4 169.5l2.9 3.7-2.9 3.7-2.9-3.7zM287.7 166.6l2.9 3.7-2.9 3.7-2.9-3.7zM288 156.8l2.9 3.7-2.9 3.7-2.9-3.7zM288.3 145l2.9 3.7-2.9 3.7-2.9-3.7zM288.6 189.4l2.9 3.7-2.9 3.7-2.9-3.7zM288.9 144.2l2.9 3.7-2.9 3.7-2.9-3.7zM289.2 152.9l2.9 3.7-2.9 3.7-2.9-3.7zM289.6 159.9l2.9 3.7-2.9 3.7-2.9-3.7zM289.9 166.1l2.9 3.7-2.9 3.7-2.9-3.7zM290.2 163.4l2.9 3.7-2.9 3.7-2.9-3.7zM290.5 145.9l2.9 3.7-2.9 3.7-2.9-3.7zM290.8 151.7l2.9 3.7-2.9 3.7-2.9-3.7zM291.1 161.7l2.9 3.7-2.9 3.7-2.9-3.7zM291.4 154.6l2.9 3.7-2.9 3.7-2.9-3.7zM291.7 152.7l2.9 3.7-2.9 3.7-2.9-3.7zM292 172l2.9 3.7-2.9 3.7-2.9-3.7zM292.3 162.9l2.9 3.7-2.9 3.7-2.9-3.7zM292.6 159.6l2.9 3.7-2.9 3.7-2.9-3.7zM292.9 143.9l2.9 3.7-2.9 3.7-2.9-3.7zM293.3 159.5l2.9 3.7-2.9 3.7-2.9-3.7zM293.6 164.8l2.9 3.7-2.9 3.7-2.9-3.7zM293.9 146.9l2.9 3.7-2.9 3.7-2.9-3.7zM294.2 149.9l2.9 3.7-2.9 3.7-2.9-3.7zM294.5 139.8l2.9 3.7-2.9 3.7-2.9-3.7zM294.8 155.3l2.9 3.7-2.9 3.7-2.9-3.7zM295.1 146.3l2.9 3.7-2.9 3.7-2.9-3.7zM295.4 161.1l2.9 3.7-2.9 3.7-2.9-3.7zM295.7 165.3l2.9 3.7-2.9 3.7-2.9-3.7zM296 155l2.9 3.7-2.9 3.7-2.9-3.7zM296.3 170.5l2.9 3.7-2.9 3.7-2.9-3.7zM296.6 165.3l2.9 3.7-2.9 3.7-2.9-3.7zM297 167.2l2.9 3.7-2.9 3.7-2.9-3.7zM297.3 169.3l2.9 3.7-2.9 3.7-2.9-3.7zM297.6 143.3l2.9 3.7-2.9 3.7-2.9-3.7zM297.9 161.4l2.9 3.7-2.9 3.7-2.9-3.7zM298.2 145.8l2.9 3.7-2.9 3.7-2.9-3.7zM298.5 158.6l2.9 3.7-2.9 3.7-2.9-3.7zM298.8 161.8l2.9 3.7-2.9 3.7-2.9-3.7zM299.1 154.3l2.9 3.7-2.9 3.7-2.9-3.7zM299.4 173.6l2.9 3.7-2.9 3.7-2.9-3.7zM299.7 155.5l2.9 3.7-2.9 3.7-2.9-3.7zM300 146.3l2.9 3.7-2.9 3.7-2.9-3.7zM300.3 163.7l2.9 3.7-2.9 3.7-2.9-3.7zM300.7 147.9l2.9 3.7-2.9 3.7-2.9-3.7zM301 158.3l2.9 3.7-2.9 3.7-2.9-3.7zM301.3 156.8l2.9 3.7-2.9 3.7-2.9-3.7zM301.6 160.3l2.9 3.7-2.9 3.7-2.9-3.7zM301.9 159.4l2.9 3.7-2.9 3.7-2.9-3.7zM302.2 147.1l2.9 3.7-2.9 3.7-2.9-3.7zM302.5 161.9l2.9 3.7-2.9 3.7-2.9-3.7zM302.8 167.5l2.9 3.7-2.9 3.7-2.9-3.7zM303.1 159l2.9 3.7-2.9 3.7-2.9-3.7zM303.4 162.4l2.9 3.7-2.9 3.7-2.9-3.7zM303.7 142l2.9 3.7-2.9 3.7-2.9-3.7zM304 162.1l2.9 3.7-2.9 3.7-2.9-3.7zM304.4 159.6l2.9 3.7-2.9 3.7-2.9-3.7zM304.7 157.3l2.9 3.7-2.9 3.7-2.9-3.7zM305 161.1l2.9 3.7-2.9 3.7-2.9-3.7zM305.3 150.8l2.9 3.7-2.9 3.7-2.9-3.7zM305.6 162.7l2.9 3.7-2.9 3.7-2.9-3.7zM305.9 157.3l2.9 3.7-2.9 3.7-2.9-3.7zM306.2 170.5l2.9 3.7-2.9 3.7-2.9-3.7zM306.5 157.1l2.9 3.7-2.9 3.7-2.9-3.7zM306.8 150.4l2.9 3.7-2.9 3.7-2.9-3.7zM307.1 167.1l2.9 3.7-2.9 3.7-2.9-3.7zM307.4 162.7l2.9 3.7-2.9 3.7-2.9-3.7zM307.7 157.8l2.9 3.7-2.9 3.7-2.9-3.7zM308 154.6l2.9 3.7-2.9 3.7-2.9-3.7zM308.4 144.1l2.9 3.7-2.9 3.7-2.9-3.7zM308.7 157.8l2.9 3.7-2.9 3.7-2.9-3.7zM309 155l2.9 3.7-2.9 3.7-2.9-3.7zM309.3 144.9l2.9 3.7-2.9 3.7-2.9-3.7zM309.6 155l2.9 3.7-2.9 3.7-2.9-3.7zM309.9 155.9l2.9 3.7-2.9 3.7-2.9-3.7zM310.2 156.4l2.9 3.7-2.9 3.7-2.9-3.7zM310.5 149.8l2.9 3.7-2.9 3.7-2.9-3.7zM310.8 152.4l2.9 3.7-2.9 3.7-2.9-3.7zM311.1 163.7l2.9 3.7-2.9 3.7-2.9-3.7zM311.4 154.8l2.9 3.7-2.9 3.7-2.9-3.7zM311.7 150.5l2.9 3.7-2.9 3.7-2.9-3.7zM312.1 150.3l2.9 3.7-2.9 3.7-2.9-3.7zM312.4 153.8l2.9 3.7-2.9 3.7-2.9-3.7zM312.7 143.3l2.9 3.7-2.9 3.7-2.9-3.7zM313 157.5l2.9 3.7-2.9 3.7-2.9-3.7zM313.3 155.4l2.9 3.7-2.9 3.7-2.9-3.7zM313.6 159.5l2.9 3.7-2.9 3.7-2.9-3.7zM313.9 159.6l2.9 3.7-2.9 3.7-2.9-3.7zM314.2 137.3l2.9 3.7-2.9 3.7-2.9-3.7zM314.5 169.5l2.9 3.7-2.9 3.7-2.9-3.7zM314.8 150.5l2.9 3.7-2.9 3.7-2.9-3.7zM315.1 168.1l2.9 3.7-2.9 3.7-2.9-3.7zM315.4 163.7l2.9 3.7-2.9 3.7-2.9-3.7zM315.8 145.8l2.9 3.7-2.9 3.7-2.9-3.7zM316.1 157.9l2.9 3.7-2.9 3.7-2.9-3.7zM316.4 146.1l2.9 3.7-2.9 3.7-2.9-3.7zM316.7 158.1l2.9 3.7-2.9 3.7-2.9-3.7zM317 149l2.9 3.7-2.9 3.7-2.9-3.7zM317.3 157.7l2.9 3.7-2.9 3.7-2.9-3.7zM317.6 155.6l2.9 3.7-2.9 3.7-2.9-3.7zM317.9 160.5l2.9 3.7-2.9 3.7-2.9-3.7zM318.2 149.9l2.9 3.7-2.9 3.7-2.9-3.7zM318.5 157.1l2.9 3.7-2.9 3.7-2.9-3.7zM318.8 155.5l2.9 3.7-2.9 3.7-2.9-3.7zM319.1 153.3l2.9 3.7-2.9 3.7-2.9-3.7zM319.5 185.4l2.9 3.7-2.9 3.7-2.9-3.7zM319.8 146.9l2.9 3.7-2.9 3.7-2.9-3.7zM320.1 165.8l2.9 3.7-2.9 3.7-2.9-3.7zM320.4 160.8l2.9 3.7-2.9 3.7-2.9-3.7zM320.7 150.4l2.9 3.7-2.9 3.7-2.9-3.7zM321 152.5l2.9 3.7-2.9 3.7-2.9-3.7zM321.3 144.4l2.9 3.7-2.9 3.7-2.9-3.7zM321.6 150.1l2.9 3.7-2.9 3.7-2.9-3.7zM321.9 147.7l2.9 3.7-2.9 3.7-2.9-3.7zM322.2 149.1l2.9 3.7-2.9 3.7-2.9-3.7zM322.5 153l2.9 3.7-2.9 3.7-2.9-3.7zM322.8 152.8l2.9 3.7-2.9 3.7-2.9-3.7zM323.1 154l2.9 3.7-2.9 3.7-2.9-3.7zM323.5 161.4l2.9 3.7-2.9 3.7-2.9-3.7zM323.8 166.9l2.9 3.7-2.9 3.7-2.9-3.7zM324.1 165.7l2.9 3.7-2.9 3.7-2.9-3.7zM324.4 138.2l2.9 3.7-2.9 3.7-2.9-3.7zM324.7 138.9l2.9 3.7-2.9 3.7-2.9-3.7zM325 150.3l2.9 3.7-2.9 3.7-2.9-3.7zM325.3 162.4l2.9 3.7-2.9 3.7-2.9-3.7zM325.6 159.6l2.9 3.7-2.9 3.7-2.9-3.7zM325.9 149.1l2.9 3.7-2.9 3.7-2.9-3.7zM326.2 168.4l2.9 3.7-2.9 3.7-2.9-3.7zM326.5 161.8l2.9 3.7-2.9 3.7-2.9-3.7zM326.8 164.8l2.9 3.7-2.9 3.7-2.9-3.7zM327.2 139.9l2.9 3.7-2.9 3.7-2.9-3.7zM327.5 150.4l2.9 3.7-2.9 3.7-2.9-3.7zM327.8 164.8l2.9 3.7-2.9 3.7-2.9-3.7zM328.1 144.1l2.9 3.7-2.9 3.7-2.9-3.7zM328.4 142.5l2.9 3.7-2.9 3.7-2.9-3.7zM328.7 162.5l2.9 3.7-2.9 3.7-2.9-3.7zM329 153.4l2.9 3.7-2.9 3.7-2.9-3.7zM329.3 159.6l2.9 3.7-2.9 3.7-2.9-3.7zM329.6 161.5l2.9 3.7-2.9 3.7-2.9-3.7zM329.9 178.7l2.9 3.7-2.9 3.7-2.9-3.7zM330.2 161l2.9 3.7-2.9 3.7-2.9-3.7zM330.5 152l2.9 3.7-2.9 3.7-2.9-3.7zM330.9 153.2l2.9 3.7-2.9 3.7-2.9-3.7zM331.2 151.5l2.9 3.7-2.9 3.7-2.9-3.7zM331.5 145.6l2.9 3.7-2.9 3.7-2.9-3.7zM331.8 158.8l2.9 3.7-2.9 3.7-2.9-3.7zM332.1 168.1l2.9 3.7-2.9 3.7-2.9-3.7zM332.4 154.8l2.9 3.7-2.9 3.7-2.9-3.7zM332.7 146l2.9 3.7-2.9 3.7-2.9-3.7zM333 167l2.9 3.7-2.9 3.7-2.9-3.7zM333.3 145.5l2.9 3.7-2.9 3.7-2.9-3.7zM333.6 164l2.9 3.7-2.9 3.7-2.9-3.7zM333.9 156.7l2.9 3.7-2.9 3.7-2.9-3.7zM334.2 155.7l2.9 3.7-2.9 3.7-2.9-3.7zM334.6 151.1l2.9 3.7-2.9 3.7-2.9-3.7zM334.9 156.7l2.9 3.7-2.9 3.7-2.9-3.7zM335.2 156.4l2.9 3.7-2.9 3.7-2.9-3.7zM335.5 146.2l2.9 3.7-2.9 3.7-2.9-3.7zM335.8 162.7l2.9 3.7-2.9 3.7-2.9-3.7zM336.1 155.4l2.9 3.7-2.9 3.7-2.9-3.7zM336.4 137.7l2.9 3.7-2.9 3.7-2.9-3.7zM336.7 148.4l2.9 3.7-2.9 3.7-2.9-3.7zM337 153.7l2.9 3.7-2.9 3.7-2.9-3.7zM337.3 155l2.9 3.7-2.9 3.7-2.9-3.7zM337.6 152.7l2.9 3.7-2.9 3.7-2.9-3.7zM337.9 156.2l2.9 3.7-2.9 3.7-2.9-3.7zM338.3 137.5l2.9 3.7-2.9 3.7-2.9-3.7zM338.6 157.5l2.9 3.7-2.9 3.7-2.9-3.7zM338.9 143.6l2.9 3.7-2.9 3.7-2.9-3.7zM339.2 143l2.9 3.7-2.9 3.7-2.9-3.7zM339.5 154l2.9 3.7-2.9 3.7-2.9-3.7zM339.8 143.7l2.9 3.7-2.9 3.7-2.9-3.7zM340.1 150.4l2.9 3.7-2.9 3.7-2.9-3.7zM340.4 157.3l2.9 3.7-2.9 3.7-2.9-3.7zM340.7 145.9l2.9 3.7-2.9 3.7-2.9-3.7zM341 156.8l2.9 3.7-2.9 3.7-2.9-3.7zM341.3 147.1l2.9 3.7-2.9 3.7-2.9-3.7zM341.6 140l2.9 3.7-2.9 3.7-2.9-3.7zM341.9 158.7l2.9 3.7-2.9 3.7-2.9-3.7zM342.3 147.1l2.9 3.7-2.9 3.7-2.9-3.7zM342.6 153.2l2.9 3.7-2.9 3.7-2.9-3.7zM342.9 148.5l2.9 3.7-2.9 3.7-2.9-3.7zM343.2 155.5l2.9 3.7-2.9 3.7-2.9-3.7zM343.5 161.4l2.9 3.7-2.9 3.7-2.9-3.7zM343.8 147.2l2.9 3.7-2.9 3.7-2.9-3.7zM344.1 164.6l2.9 3.7-2.9 3.7-2.9-3.7zM344.4 167.5l2.9 3.7-2.9 3.7-2.9-3.7zM344.7 167l2.9 3.7-2.9 3.7-2.9-3.7zM345 138.8l2.9 3.7-2.9 3.7-2.9-3.7zM345.3 143.2l2.9 3.7-2.9 3.7-2.9-3.7zM345.6 148.2l2.9 3.7-2.9 3.7-2.9-3.7zM346 154.9l2.9 3.7-2.9 3.7-2.9-3.7zM346.3 157.4l2.9 3.7-2.9 3.7-2.9-3.7zM346.6 151.8l2.9 3.7-2.9 3.7-2.9-3.7zM346.9 162.5l2.9 3.7-2.9 3.7-2.9-3.7zM347.2 154.9l2.9 3.7-2.9 3.7-2.9-3.7zM347.5 143.6l2.9 3.7-2.9 3.7-2.9-3.7zM347.8 160.7l2.9 3.7-2.9 3.7-2.9-3.7zM348.1 146.4l2.9 3.7-2.9 3.7-2.9-3.7zM348.4 157.2l2.9 3.7-2.9 3.7-2.9-3.7zM348.7 158.9l2.9 3.7-2.9 3.7-2.9-3.7zM349 145.1l2.9 3.7-2.9 3.7-2.9-3.7zM349.3 159.1l2.9 3.7-2.9 3.7-2.9-3.7zM349.7 159.3l2.9 3.7-2.9 3.7-2.9-3.7zM350 168.6l2.9 3.7-2.9 3.7-2.9-3.7zM350.3 156.6l2.9 3.7-2.9 3.7-2.9-3.7zM350.6 148.1l2.9 3.7-2.9 3.7-2.9-3.7zM350.9 146l2.9 3.7-2.9 3.7-2.9-3.7zM351.2 153.5l2.9 3.7-2.9 3.7-2.9-3.7zM351.5 155.6l2.9 3.7-2.9 3.7-2.9-3.7zM351.8 156.9l2.9 3.7-2.9 3.7-2.9-3.7zM352.1 165l2.9 3.7-2.9 3.7-2.9-3.7zM352.4 149.7l2.9 3.7-2.9 3.7-2.9-3.7zM352.7 153.4l2.9 3.7-2.9 3.7-2.9-3.7zM353 161.2l2.9 3.7-2.9 3.7-2.9-3.7zM353.4 158.5l2.9 3.7-2.9 3.7-2.9-3.7zM353.7 157.6l2.9 3.7-2.9 3.7-2.9-3.7zM354 162.9l2.9 3.7-2.9 3.7-2.9-3.7zM354.3 169.6l2.9 3.7-2.9 3.7-2.9-3.7zM354.6 155.7l2.9 3.7-2.9 3.7-2.9-3.7zM354.9 159.3l2.9 3.7-2.9 3.7-2.9-3.7zM355.2 149.1l2.9 3.7-2.9 3.7-2.9-3.7zM355.5 154.9l2.9 3.7-2.9 3.7-2.9-3.7zM355.8 158l2.9 3.7-2.9 3.7-2.9-3.7zM356.1 164.1l2.9 3.7-2.9 3.7-2.9-3.7zM356.4 166.2l2.9 3.7-2.9 3.7-2.9-3.7zM356.7 162.3l2.9 3.7-2.9 3.7-2.9-3.7zM357.1 156l2.9 3.7-2.9 3.7-2.9-3.7zM357.4 160.7l2.9 3.7-2.9 3.7-2.9-3.7zM357.7 128.6l2.9 3.7-2.9 3.7-2.9-3.7zM358 156.4l2.9 3.7-2.9 3.7-2.9-3.7zM358.3 146.7l2.9 3.7-2.9 3.7-2.9-3.7zM358.6 147.4l2.9 3.7-2.9 3.7-2.9-3.7zM358.9 155.9l2.9 3.7-2.9 3.7-2.9-3.7zM359.2 163.3l2.9 3.7-2.9 3.7-2.9-3.7zM359.5 159l2.9 3.7-2.9 3.7-2.9-3.7zM359.8 135.5l2.9 3.7-2.9 3.7-2.9-3.7zM360.1 147.3l2.9 3.7-2.9 3.7-2.9-3.7zM360.4 139.8l2.9 3.7-2.9 3.7-2.9-3.7zM360.7 167l2.9 3.7-2.9 3.7-2.9-3.7zM361.1 166.1l2.9 3.7-2.9 3.7-2.9-3.7zM361.4 159l2.9 3.7-2.9 3.7-2.9-3.7zM361.7 154.9l2.9 3.7-2.9 3.7-2.9-3.7zM362 162.2l2.9 3.7-2.9 3.7-2.9-3.7zM362.3 174l2.9 3.7-2.9 3.7-2.9-3.7zM362.6 178l2.9 3.7-2.9 3.7-2.9-3.7zM362.9 167l2.9 3.7-2.9 3.7-2.9-3.7zM363.2 187.3l2.9 3.7-2.9 3.7-2.9-3.7zM363.5 187.2l2.9 3.7-2.9 3.7-2.9-3.7zM363.8 184.5l2.9 3.7-2.9 3.7-2.9-3.7zM364.1 194.2l2.9 3.7-2.9 3.7-2.9-3.7zM364.4 190.6l2.9 3.7-2.9 3.7-2.9-3.7zM364.8 191.3l2.9 3.7-2.9 3.7-2.9-3.7zM365.1 186.2l2.9 3.7-2.9 3.7-2.9-3.7zM365.4 188.9l2.9 3.7-2.9 3.7-2.9-3.7zM365.7 181.6l2.9 3.7-2.9 3.7-2.9-3.7zM366 190l2.9 3.7-2.9 3.7-2.9-3.7zM366.3 199.6l2.9 3.7-2.9 3.7-2.9-3.7zM366.6 200.4l2.9 3.7-2.9 3.7-2.9-3.7zM366.9 185.3l2.9 3.7-2.9 3.7-2.9-3.7zM367.2 193.7l2.9 3.7-2.9 3.7-2.9-3.7zM367.5 181.9l2.9 3.7-2.9 3.7-2.9-3.7zM367.8 204.5l2.9 3.7-2.9 3.7-2.9-3.7zM368.1 209.3l2.9 3.7-2.9 3.7-2.9-3.7zM368.5 201.4l2.9 3.7-2.9 3.7-2.9-3.7z" stroke="#0000ff" stroke-width="0.75"/>
<polyline points="35,184.7 35.2,192.8 35.3,191.5 35.5,214.1 35.6,166.9 35.8,174.2 35.9,190.6 36.1,178.4 36.2,233.8 36.4,193.2 36.5,176.2 36.7,190.6 36.8,190.8 37,196 37.2,182.2 37.3,188.3 37.5,181.2 37.6,214.5 37.8,185.9 37.9,197.3 38.1,178 38.2,185.3 38.4,207.2 38.5,182.9 38.7,198.7 38.9,196.6 39,180.7 39.2,205.9 39.3,206.9 39.5,204.4 39.6,178.3 39.8,188.6 39.9,175.7 40.1,179.7 40.2,185.4 40.4,184.7 40.5,189.7 40.7,178.2 40.9,200.4 41,192.7 41.2,185.3 41.3,173 41.5,196.5 41.6,200 41.8,194.3 41.9,196 42.1,190.5 42.2,173.1 42.4,208.7 42.6,175.3 42.7,196.9 42.9,203.5 43,185.9 43.2,174 43.3,186.6 43.5,181.5 43.6,161 43.8,184.4 43.9,190.5 44.1,195.9 44.2,180 44.4,189.3 44.6,189 44.7,188 44.9,179.6 45,198.5 45.2,203.6 45.3,214.3 45.5,173 45.6,185.4 45.8,169.3 45.9,210.6 46.1,194.2 46.2,180.5 46.4,187.4 46.6,199.6 46.7,195.3 46.9,165.6 47,181.3 47.2,180.5 47.3,188.1 47.5,217.1 47.6,175.6 47.8,186 47.9,193.2 48.1,186.1 48.3,194.6 48.4,182.3 48.6,171.7 48.7,193.5 48.9,168.3 49,191.5 49.2,182.2 49.3,193.2 49.5,186.3 49.6,183.2 49.8,188.4 49.9,191.4 50.1,197 50.3,192.6 50.4,200.9 50.6,193.2 50.7,178.9 50.9,177.2 51,200.6 51.2,156 51.3,179.8 51.5,188.4 51.6,162.5 51.8,195.9 52,172.6 52.1,194 52.3,179.4 52.4,205.2 52.6,173.4 52.7,185.2 52.9,194.3 53,164.9 53.2,175.2 53.3,183.1 53.5,192 53.6,184.3 53.8,185.7 54,175.9 54.1,175.1 54.3,191.5 54.4,190.2 54.6,190.1 54.7,199.4 54.9,190.9 55,185.4 55.2,176.8 55.3,169.9 55.5,193.7 55.6,178.6 55.8,189.8 56,161.9 56.1,185.6 56.3,179.5 56.4,195.6 56.6,194.2 56.7,183 56.9,189.7 57,181.6 57.2,203 57.3,188.5 57.5,195.7 57.7,166.6 57.8,189.1 58,198.2 58.1,201.6 58.3,181.4 58.4,196.1 58.6,191.8 58.7,186.1 58.9,207.2 59,183.5 59.2,178.2 59.3,179.3 59.5,187.6 59.7,201.8 59.8,195.6 60,188.9 60.1,210.4 60.3,191.4 60.4,189.6 60.6,189.8 60.7,176.4 60.9,179.6 61,209.1 61.2,198.1 61.3,183.5 61.5,183.1 61.7,196.8 61.8,175.4 62,189.8 62.1,220.8 62.3,185.7 62.4,201.1 62.6,174.3 62.7,178 62.9,202.3 63,196.7 63.2,185.7 63.4,189.8 63.5,169.8 63.7,178.5 63.8,189.8 64,180.2 64.1,209.1 64.3,183.1 64.4,176.9 64.6,188.5 64.7,194.4 64.9,180.1 65,164.6 65.2,184.1 65.4,198.7 65.5,170.1 65.7,207.1 65.8,180.4 66,192.5 66.1,175.8 66.3,195.2 66.4,171 66.6,182.3 66.7,204.8 66.9,207.5 67.1,189 67.2,171 67.4,184 67.5,196.7 67.7,187.8 67.8,176.9 68,180.9 68.1,181.9 68.3,195.9 68.4,171.7 68.6,169.7 68.7,199.3 68.9,159.2 69.1,176.7 69.2,190.1 69.4,205.8 69.5,177.3 69.7,178.4 69.8,191.2 70,204.4 70.1,172 70.3,191.1 70.4,189.7 70.6,158.6 70.7,160.8 70.9,173.9 71.1,189.6 71.2,177.3 71.4,209.9 71.5,183.3 71.7,193 71.8,198.9 72,202.2 72.1,178.8 72.3,183.6 72.4,182.8 72.6,175.3 72.8,194.1 72.9,198.5 73.1,204.6 73.2,188.6 73.4,176.4 73.5,186.6 73.7,177.8 73.8,213.1 74,193.7 74.1,193.6 74.3,223.5 74.4,164.5 74.6,175.8 74.8,193.7 74.9,193.8 75.1,185.9 75.2,201.3 75.4,180.5 75.5,199.8 75.7,189.5 75.8,196.9 76,190.9 76.1,200.4 76.3,203.1 76.5,196.4 76.6,193.3 76.8,189.1 76.9,190 77.1,168.9 77.2,176.9 77.4,188.8 77.5,177.9 77.7,193.6 77.8,169.9 78,179.9 78.1,201.1 78.3,177.6 78.5,177.1 78.6,215.1 78.8,194.5 78.9,191.4 79.1,207.6 79.2,198 79.4,196.7 79.5,180.5 79.7,182.8 79.8,157.2 80,190.5 80.1,173.4 80.3,185.4 80.5,183.2 80.6,199.1 80.8,207.4 80.9,194.7 81.1,185.4 81.2,180.6 81.4,185.9 81.5,180.6 81.7,195.5 81.8,169.1 82,171.2 82.2,192.1 82.3,186.7 82.5,197.2 82.6,169.8 82.8,181.6 82.9,191.3 83.1,181.7 83.2,181.3 83.4,202.9 83.5,200 83.7,200.6 83.8,205.7 84,181.2 84.2,161.6 84.3,205.2 84.5,184.7 84.6,181.8 84.8,197.4 84.9,184.1 85.1,198.6 85.2,181.6 85.4,193 85.5,185.4 85.7,178.9 85.8,191.4 86,209 86.2,208.5 86.3,178.3 86.5,187.7 86.6,184.3 86.8,198.9 86.9,185.4 87.1,178.9 87.2,186.7 87.4,165.9 87.5,189.5 87.7,198.9 87.9,205.3 88,174.6 88.2,188 88.3,176.1 88.5,182.3 88.6,169.3 88.8,173.4 88.9,191.6 89.1,184.4 89.2,175.4 89.4,201.3 89.5,171.3 89.7,174 89.9,176.5 90,189.7 90.2,184 90.3,199.9 90.5,186.8 90.6,194 90.8,186.5 90.9,192.9 91.1,184.2 91.2,174.2 91.4,201.8 91.6,176.9 91.7,209.3 91.9,211.2 92,188.5 92.2,187 92.3,182.1 92.5,205.3 92.6,187.6 92.8,190.4 92.9,172.9 93.1,187.9 93.2,180.8 93.4,197.5 93.6,188.7 93.7,191.5 93.9,178.6 94,197.4 94.2,195.6 94.3,179.9 94.5,166.3 94.6,190.2 94.8,182.7 94.9,189.8 95.1,173.8 95.2,179.9 95.4,166.5 95.6,182 95.7,196.2 95.9,191.9 96,196.6 96.2,199.4 96.3,171.4 96.5,176.4 96.6,199.2 96.8,165.5 96.9,187.5 97.1,196 97.3,181.1 97.4,186 97.6,193.8 97.7,206.7 97.9,184.7 98,181.8 98.2,213.8 98.3,178.9 98.5,178.2 98.6,190.2 98.8,183.7 98.9,188.1 99.1,194.3 99.3,188.9 99.4,169.9 99.6,201.1 99.7,206.8 99.9,182.9 100,192.9 100.2,189.9 100.3,200.6 100.5,205.4 100.6,184.9 100.8,181.4 101,204.3 101.1,156.1 101.3,203.2 101.4,183.6 101.6,187.5 101.7,189.3 101.9,170.5 102,190.3 102.2,170.1 102.3,172.3 102.5,196.6 102.6,183 102.8,192.1 103,159.5 103.1,189.2 103.3,195.3 103.4,206.1 103.6,199.2 103.7,191.3 103.9,195.9 104,198.5 104.2,192.6 104.3,187.1 104.5,175.2 104.6,203.8 104.8,191 105,195.4 105.1,201.7 105.3,198.9 105.4,194.8 105.6,176.7 105.7,186.8 105.9,190.6 106,177.8 106.2,181.4 106.3,187 106.5,180.2 106.7,193.7 106.8,177.4 107,179.2 107.1,189 107.3,197.9 107.4,172.5 107.6,183.2 107.7,155.3 107.9,191.4 108,174.6 108.2,188.9 108.3,181.2 108.5,174.7 108.7,217.4 108.8,185.1 109,182.2 109.1,182.6 109.3,177.3 109.4,172.5 109.6,174.7 109.7,181 109.9,187.8 110,196.4 110.2,192 110.4,189.7 110.5,176.2 110.7,187.8 110.8,197.6 111,176.8 111.1,197.2 111.3,192.2 111.4,186.2 111.6,184.1 111.7,210.5 111.9,196.1 112,181.7 112.2,189.4 112.4,193.3 112.5,189.6 112.7,168.1 112.8,213.1 113,175.6 113.1,174.8 113.3,188.7 113.4,178.7 113.6,188.7 113.7,190.4 113.9,196.2 114,173.9 114.2,188.1 114.4,189.8 114.5,196.3 114.7,163.6 114.8,175.5 115,185.2 115.1,191.4 115.3,207.7 115.4,180.5 115.6,180.6 115.7,199.5 115.9,170.9 116.1,175.2 116.2,194.6 116.4,190.1 116.5,188.7 116.7,182.1 116.8,185.6 117,202.3 117.1,167.8 117.3,180.7 117.4,170.2 117.6,170.3 117.7,186.6 117.9,180.5 118.1,176.3 118.2,175.9 118.4,192.2 118.5,191.4 118.7,184.2 118.8,193.6 119,190.9 119.1,207.3 119.3,183.9 119.4,196.3 119.6,191.1 119.8,185.5 119.9,181.5 120.1,163.9 120.2,182.6 120.4,200.7 120.5,185.3 120.7,192.9 120.8,180.7 121,192.8 121.1,193.1 121.3,191 121.4,192.3 121.6,205.7 121.8,192.8 121.9,185.6 122.1,172 122.2,188.7 122.4,208.3 122.5,185.2 122.7,179.4 122.8,173.1 123,179 123.1,185.7 123.3,170.7 123.4,193.1 123.6,190.9 123.8,183.9 123.9,204.4 124.1,192.9 124.2,195.4 124.4,188 124.5,191 124.7,187.5 124.8,186.7 125,225 125.1,182.9 125.3,191.8 125.5,199.9 125.6,171.9 125.8,169.8 125.9,193.7 126.1,180.2 126.2,202.6 126.4,203 126.5,188.6 126.7,169.3 126.8,197.3 127,195 127.1,167.8 127.3,206.8 127.5,178.6 127.6,185.9 127.8,188.2 127.9,183.8 128.1,157.1 128.2,198.5 128.4,189.5 128.5,209.1 128.7,193.8 128.8,201 129,168.4 129.1,183.7 129.3,205.8 129.5,194.1 129.6,181.8 129.8,189.3 129.9,202.4 130.1,187.4 130.2,183.6 130.4,182.3 130.5,182.3 130.7,217.1 130.8,166.3 131,184.6 131.2,166.9 131.3,158.1 131.5,198.7 131.6,200.9 131.8,177.6 131.9,189.3 132.1,192.3 132.2,198.9 132.4,168.7 132.5,192.4 132.7,203.1 132.8,192.5 133,200.5 133.2,185.9 133.3,192.4 133.5,199.5 133.6,196.1 133.8,194.9 133.9,179.7 134.1,173.7 134.2,191.8 134.4,194.9 134.5,185.5 134.7,177.8 134.9,201.7 135,186.8 135.2,188 135.3,184.3 135.5,180.8 135.6,195.7 135.8,195.6 135.9,187.3 136.1,195.2 136.2,186.2 136.4,181.7 136.5,187.9 136.7,194.3 136.9,196.2 137,169.4 137.2,177.6 137.3,199.8 137.5,196.6 137.6,166.4 137.8,170.4 137.9,185.7 138.1,174.2 138.2,203.6 138.4,187 138.5,178.7 138.7,207.6 138.9,195.5 139,178 139.2,174.1 139.3,193.3 139.5,183.4 139.6,173.8 139.8,190.8 139.9,205.4 140.1,187.1 140.2,190.8 140.4,171.9 140.6,184.6 140.7,221.3 140.9,159.6 141,191.8 141.2,181 141.3,178.8 141.5,177.5 141.6,184.3 141.8,179.6 141.9,186.8 142.1,201.9 142.2,188.5 142.4,188.2 142.6,188 142.7,184.4 142.9,192.9 143,171.2 143.2,168.5 143.3,210.4 143.5,185.8 143.6,194.4 143.8,214.7 143.9,181.1 144.1,192.6 144.3,189.8 144.4,192.8 144.6,173.6 144.7,171.9 144.9,182.6 145,177.8 145.2,186.8 145.3,187.9 145.5,193.6 145.6,184.9 145.8,194.8 145.9,180.9 146.1,175.8 146.3,181.5 146.4,171.8 146.6,156 146.7,208.3 146.9,184.7 147,191.1 147.2,189.8 147.3,199.8 147.5,184.1 147.6,187.5 147.8,191.5 147.9,187.2 148.1,190.9 148.3,210.4 148.4,172.3 148.6,187.6 148.7,194.8 148.9,180.8 149,195.5 149.2,208.3 149.3,174.2 149.5,205.1 149.6,186.4 149.8,182.6 150,168.9 150.1,170.7 150.3,182 150.4,192.3 150.6,188.5 150.7,171.7 150.9,163.9 151,177.8 151.2,191 151.3,178.9 151.5,188 151.6,188.4 151.8,187 152,177.4 152.1,181 152.3,173 152.4,169.7 152.6,178.4 152.7,210.2 152.9,203.1 153,185.1 153.2,185.1 153.3,160.4 153.5,184.8 153.7,186.2 153.8,174 154,172.7 154.1,187.2 154.3,179.4 154.4,197.4 154.6,195.3 154.7,171.2 154.9,200.7 155,174.8 155.2,177.9 155.3,176.7 155.5,175.2 155.7,179.1 155.8,209.3 156,196.8 156.1,192.4 156.3,175.6 156.4,198.4 156.6,193.8 156.7,203.9 156.9,171.4 157,202.2 157.2,201.2 157.3,179.2 157.5,209.9 157.7,182.5 157.8,191.3 158,203.8 158.1,191 158.3,197.5 158.4,184.5 158.6,182.3 158.7,169.8 158.9,186.5 159,185.3 159.2,192.8 159.4,186.7 159.5,174.9 159.7,207.9 159.8,179.1 160,198.4 160.1,185.6 160.3,182.7 160.4,176.9 160.6,189.8 160.7,195.6 160.9,183 161,186.4 161.2,188.8 161.4,184.3 161.5,176.8 161.7,185 161.8,184.8 162,200.7 162.1,187.8 162.3,207 162.4,178.3 162.6,196.7 162.7,171.9 162.9,157.3 163,190.7 163.2,171.5 163.4,181.8 163.5,192.6 163.7,195.7 163.8,204.5 164,170.8 164.1,182.4 164.3,203.2 164.4,198 164.6,188.9 164.7,171.3 164.9,183.3 165.1,182.8 165.2,173.7 165.4,188.8 165.5,187.6 165.7,188.6 165.8,206.4 166,181.4 166.1,182 166.3,175.8 166.4,199.9 166.6,195.7 166.7,176.3 166.9,183.1 167.1,171.5 167.2,196.4 167.4,186.7 167.5,200.7 167.7,183.5 167.8,224.4 168,188.1 168.1,175 168.3,179.5 168.4,207.3 168.6,176.8 168.8,182.3 168.9,198.9 169.1,197.3 169.2,187.3 169.4,181.2 169.5,192.6 169.7,205.7 169.8,184.5 170,185.7 170.1,160.4 170.3,201.9 170.4,159.4 170.6,168.5 170.8,184.2 170.9,169.1 171.1,186.5 171.2,176.7 171.4,195.7 171.5,192.8 171.7,198.8 171.8,205 172,190.5 172.1,194.8 172.3,181.1 172.4,173.3 172.6,189.3 172.8,186.8 172.9,185.4 173.1,206.1 173.2,184.4 173.4,187.2 173.5,187.8 173.7,199.5 173.8,209.2 174,189.8 174.1,183.5 174.3,172.1 174.5,174.4 174.6,170.7 174.8,182.7 174.9,173.9 175.1,188.9 175.2,179.6 175.4,176.2 175.5,157.5 175.7,183.6 175.8,200.4 176,170.8 176.1,194.8 176.3,186.6 176.5,189 176.6,195.7 176.8,178.2 176.9,178.8 177.1,192.2 177.2,184.5 177.4,190 177.5,178.3 177.7,189.2 177.8,193.5 178,192 178.2,189.6 178.3,181.4 178.5,194.8 178.6,185.4 178.8,179.3 178.9,158.2 179.1,174.6 179.2,213 179.4,190.3 179.5,188.3 179.7,204.7 179.8,166.3 180,175.4 180.2,209.2 180.3,180.1 180.5,182.3 180.6,178.9 180.8,168.4 180.9,195.6 181.1,179.9 181.2,201.8 181.4,182.9 181.5,179.2 181.7,158.1 181.8,191.3 182,202.3 182.2,175.8 182.3,190.7 182.5,166 182.6,191.3 182.8,193.2 182.9,221 183.1,182.6 183.2,172.4 183.4,199.6 183.5,165.3 183.7,190.3 183.9,174.7 184,195 184.2,201.1 184.3,186.7 184.5,182 184.6,166.4 184.8,180.2 184.9,176.1 185.1,176.9 185.2,155.3 185.4,193.4 185.5,170.4 185.7,186.1 185.9,181.7 186,190.8 186.2,171.8 186.3,198.8 186.5,199.6 186.6,187.2 186.8,197.9 186.9,201.7 187.1,174.9 187.2,193.6 187.4,176.5 187.6,192.7 187.7,185.8 187.9,185.3 188,164.5 188.2,185.4 188.3,195.5 188.5,195.6 188.6,172.1 188.8,204.1 188.9,190.8 189.1,189.8 189.2,212.8 189.4,190.7 189.6,174.4 189.7,182.9 189.9,195.4 190,219 190.2,179.6 190.3,162.7 190.5,193.4 190.6,189.5 190.8,184.6 190.9,186.5 191.1,184 191.2,186.1 191.4,192.6 191.6,202.6 191.7,201 191.9,200.2 192,196.3 192.2,190.7 192.3,178.8 192.5,187.3 192.6,195.9 192.8,180.9 192.9,175.3 193.1,184.7 193.3,202.4 193.4,208 193.6,175.2 193.7,173.8 193.9,180.8 194,195.5 194.2,167.5 194.3,170.2 194.5,184.1 194.6,186 194.8,213.5 194.9,175 195.1,201.3 195.3,175.7 195.4,175.1 195.6,182.8 195.7,165.5 195.9,186.7 196,176.4 196.2,174 196.3,180.1 196.5,187.5 196.6,169.1 196.8,178 196.9,184.8 197.1,184.5 197.3,181.2 197.4,157.3 197.6,181.5 197.7,185.3 197.9,194.5 198,196.3 198.2,203.8 198.3,180.2 198.5,182.5 198.6,198.1 198.8,199.3 199,186.4 199.1,188.6 199.3,197.6 199.4,179.4 199.6,181.3 199.7,183.5 199.9,174.4 200,190.3 200.2,176.4 200.3,194.4 200.5,177.4 200.6,176.1 200.8,186.2 201,179.3 201.1,197.6 201.3,217.3 201.4,185.6 201.6,191.5 201.7,176.9 201.9,183.1 202,176.7 202.2,180.1 202.3,181.4 202.5,182.7 202.7,187.9 202.8,188.9 203,161.2 203.1,203.5 203.3,186 203.4,172.8 203.6,179.3 203.7,168.2 203.9,177.9 204,198.1 204.2,187.7 204.3,199.7 204.5,173.1 204.7,168.1 204.8,189.1 205,178.2 205.1,188.8 205.3,200.3 205.4,189.3 205.6,202 205.7,202.7 205.9,182.1 206,176.4 206.2,170.1 206.3,188.2 206.5,196.1 206.7,180 206.8,178.6 207,213.3 207.1,193.6 207.3,176.1 207.4,197.6 207.6,199 207.7,175.9 207.9,219.5 208,187.4 208.2,182.8 208.4,185.3 208.5,210.6 208.7,182.2 208.8,191.8 209,176.5 209.1,180.9 209.3,191.9 209.4,183.9 209.6,193.6 209.7,193.9 209.9,203.7 210,188.8 210.2,177.3 210.4,185.1 210.5,186.7 210.7,193.5 210.8,192.5 211,178.4 211.1,224.5 211.3,163.9 211.4,187.6 211.6,162.9 211.7,174 211.9,191.8 212.1,179 212.2,194 212.4,182.2 212.5,178.6 212.7,198.2 212.8,194.3 213,216.6 213.1,202.8 213.3,190.6 213.4,185.2 213.6,185 213.7,185.7 213.9,192.2 214.1,179 214.2,210.6 214.4,192.2 214.5,191.4 214.7,177.8 214.8,180.4 215,178.9 215.1,187.5 215.3,177.1 215.4,198.9 215.6,186.9 215.7,211.2 215.9,168.6 216.1,169.9 216.2,194.2 216.4,197 216.5,210.9 216.7,229 216.8,205.4 217,189.1 217.1,203.7 217.3,192.7 217.4,194.5 217.6,181.7 217.8,179 217.9,208.7 218.1,228.6 218.2,186.7 218.4,209.9 218.5,184.5 218.7,187.1 218.8,178 219,206.7 219.1,177.7 219.3,193.3 219.4,183.1 219.6,172.6 219.8,202.4 219.9,204.5 220.1,174.8 220.2,198.5 220.4,196.4 220.5,179 220.7,187.9 220.8,177 221,182.2 221.1,185.9 221.3,174.6 221.4,164.2 221.6,186.6 221.8,169 221.9,177.6 222.1,184.3 222.2,181.8 222.4,195.8 222.5,192.2 222.7,197.4 222.8,185.8 223,170.7 223.1,199.7 223.3,188.6 223.5,192.4 223.6,187 223.8,177.8 223.9,198.9 224.1,176 224.2,200.9 224.4,189.1 224.5,174.7 224.7,188.8 224.8,178.2 225,184.4 225.1,187.6 225.3,196.8 225.5,204.9 225.6,194 225.8,183.9 225.9,183.5 226.1,202.3 226.2,174.7 226.4,187.3 226.5,200.4 226.7,197.5 226.8,180.2 227,205.4 227.2,194.1 227.3,186.5 227.5,187.3 227.6,186.5 227.8,195.7 227.9,194.8 228.1,191.3 228.2,163.1 228.4,201.5 228.5,200 228.7,184.6 228.8,192.9 229,172.1 229.2,184.9 229.3,177.2 229.5,213.4 229.6,172.5 229.8,172.9 229.9,194.1 230.1,171.2 230.2,182.8 230.4,175.5 230.5,165.6 230.7,184.7 230.8,197 231,222 231.2,199.9 231.3,194.6 231.5,218.6 231.6,193.6 231.8,172.6 231.9,176.2 232.1,195.5 232.2,172.9 232.4,216.4 232.5,193 232.7,187.2 232.9,172.4 233,177.6 233.2,180.6 233.3,172.8 233.5,177.7 233.6,170.4 233.8,194.4 233.9,204.5 234.1,190.4 234.2,176.5 234.4,182.8 234.5,175.9 234.7,179.7 234.9,180.1 235,176.8 235.2,198.3 235.3,173.7 235.5,197.1 235.6,187.2 235.8,201.7 235.9,180.4 236.1,203.3 236.2,191.6 236.4,201.2 236.6,207.8 236.7,187.8 236.9,196.1 237,172.5 237.2,191.2 237.3,170.1 237.5,216 237.6,195.5 237.8,210.1 237.9,180.5 238.1,176.4 238.2,184.3 238.4,188.7 238.6,197.2 238.7,160.7 238.9,178.6 239,209.6 239.2,190.3 239.3,215.1 239.5,169.3 239.6,164.9 239.8,170.7 239.9,187.6 240.1,193.6 240.2,202.6 240.4,185.5 240.6,199.4 240.7,191.1 240.9,194 241,190.4 241.2,179.3 241.3,168 241.5,185.1 241.6,186.5 241.8,199.1 241.9,200.3 242.1,198.5 242.3,176.7 242.4,183.8 242.6,175.8 242.7,181.7 242.9,190.8 243,200.3 243.2,190.4 243.3,202.2 243.5,163.8 243.6,183.1 243.8,190.1 243.9,163.7 244.1,190.2 244.3,179.7 244.4,187.7 244.6,181.8 244.7,189.8 244.9,180.1 245,169.5 245.2,199.6 245.3,212.3 245.5,170.2 245.6,183.3 245.8,175.4 246,188.4 246.1,167.8 246.3,164.6 246.4,198.1 246.6,177.4 246.7,191.7 246.9,204.8 247,188.3 247.2,178.5 247.3,216.1 247.5,199.3 247.6,171 247.8,184.5 248,180.3 248.1,197.6 248.3,192.2 248.4,183.5 248.6,182.7 248.7,183.3 248.9,167.1 249,183.2 249.2,202.4 249.3,195 249.5,185.9 249.6,170.9 249.8,193 250,189.8 250.1,185.8 250.3,193.4 250.4,194.8 250.6,209.8 250.7,174.5 250.9,180.3 251,189 251.2,181.3 251.3,200.3 251.5,174.6 251.7,177.5 251.8,182.6 252,204.3 252.1,163.1 252.3,213.5 252.4,197.3 252.6,204.8 252.7,189.4 252.9,203.1 253,183.6 253.2,188.1 253.3,189.7 253.5,181.7 253.7,170.4 253.8,182 254,189.5 254.1,212.2 254.3,170 254.4,203 254.6,207.5 254.7,184.9 254.9,170.5 255,188.4 255.2,199.9 255.3,161.3 255.5,179.8 255.7,182.8 255.8,175.2 256,211.2 256.1,187.5 256.3,188.5 256.4,161.1 256.6,193 256.7,192.9 256.9,202.2 257,195.9 257.2,188.9 257.4,183.6 257.5,188.8 257.7,163.9 257.8,181 258,179.3 258.1,195.6 258.3,179.4 258.4,197.2 258.6,204 258.7,182.6 258.9,196 259,171.8 259.2,195.2 259.4,211.7 259.5,186.1 259.7,174.5 259.8,188.8 260,184.5 260.1,184.8 260.3,167.1 260.4,183.2 260.6,187.1 260.7,193.6 260.9,219 261.1,170.8 261.2,173.7 261.4,197.4 261.5,179.8 261.7,183 261.8,191.1 262,190.3 262.1,178.3 262.3,200.4 262.4,192.7 262.6,187.7 262.7,187 262.9,189.3 263.1,184.5 263.2,196.2 263.4,197 263.5,191.5 263.7,193 263.8,170 264,202.9 264.1,189.7 264.3,179.1 264.4,190.3 264.6,190.8 264.7,193.2 264.9,191.8 265.1,200.3 265.2,188.1 265.4,188.4 265.5,203.8 265.7,184.2 265.8,197.5 266,183.8 266.1,177.6 266.3,186.5 266.4,200.7 266.6,183.8 266.8,205.5 266.9,196 267.1,168.6 267.2,187.4 267.4,169.8 267.5,189.5 267.7,187.3 267.8,206.7 268,176.8 268.1,189.6 268.3,180.4 268.4,182.4 268.6,201.1 268.8,183.6 268.9,187.7 269.1,187.3 269.2,195.1 269.4,211.3 269.5,181.8 269.7,163.8 269.8,175.1 270,160.9 270.1,181.7 270.3,198 270.5,198.2 270.6,178.6 270.8,183.2 270.9,188.9 271.1,220 271.2,196.8 271.4,181 271.5,190.1 271.7,185.2 271.8,173.6 272,188.4 272.1,171.3 272.3,171.8 272.5,195.4 272.6,160.7 272.8,200.8 272.9,187.9 273.1,178.5 273.2,212.5 273.4,175.1 273.5,173.9 273.7,188 273.8,183.7 274,184.3 274.1,189 274.3,174.5 274.5,199.2 274.6,187.2 274.8,182.5 274.9,177.1 275.1,174.1 275.2,216.1 275.4,209.5 275.5,188.1 275.7,187.1 275.8,198.7 276,183 276.2,179.4 276.3,193.5 276.5,167.8 276.6,198 276.8,186.1 276.9,164.6 277.1,178.6 277.2,198.8 277.4,187.5 277.5,172.8 277.7,162.5 277.8,178.5 278,172.8 278.2,207.7 278.3,188.9 278.5,172.4 278.6,196.6 278.8,228.6 278.9,206.9 279.1,169.1 279.2,187.2 279.4,179.3 279.5,202.7 279.7,200.5 279.9,165.2 280,192 280.2,191.7 280.3,190.4 280.5,179.3 280.6,207.6 280.8,196.4 280.9,184.8 281.1,185.4 281.2,181.4 281.4,190.2 281.5,188.5 281.7,182.8 281.9,192.9 282,194.4 282.2,191 282.3,184.6 282.5,186.2 282.6,190 282.8,187.3 282.9,184.8 283.1,204.9 283.2,179.8 283.4,198.9 283.5,172.6 283.7,202.5 283.9,177.3 284,191.9 284.2,177.9 284.3,171 284.5,211.8 284.6,176.3 284.8,185.3 284.9,188.7 285.1,178.6 285.2,189 285.4,181.7 285.6,195.7 285.7,173.6 285.9,185.9 286,193 286.2,190.8 286.3,160.7 286.5,158.9 286.6,183.9 286.8,187.9 286.9,187.7 287.1,174.3 287.2,170.1 287.4,191.9 287.6,207.7 287.7,177.1 287.9,183.2 288,180.5 288.2,184.6 288.3,196.4 288.5,181.7 288.6,186.1 288.8,177.6 288.9,167 289.1,182.2 289.2,193 289.4,166.3 289.6,173.1 289.7,184.6 289.9,207.5 290,193 290.2,180 290.3,171.3 290.5,188.4 290.6,176 290.8,189.7 290.9,186.8 291.1,174.4 291.3,184.7 291.4,179.2 291.6,173 291.7,166 291.9,188.3 292,183.9 292.2,197.8 292.3,197.4 292.5,193.4 292.6,186.9 292.8,204.4 292.9,181.3 293.1,190.8 293.3,183.7 293.4,173.8 293.6,173.9 293.7,204.3 293.9,210.2 294,171.1 294.2,186.5 294.3,197.4 294.5,207.9 294.6,160 294.8,180.8 295,176.1 295.1,169.1 295.3,178.3 295.4,197.2 295.6,167.5 295.7,162.9 295.9,169.4 296,155.2 296.2,149.9 296.3,218 296.5,179.8 296.6,163.4 296.8,173.1 297,172.6 297.1,162.4 297.3,165.1 297.4,181.5 297.6,173.6 297.7,185.3 297.9,178.1 298,190.8 298.2,202.7 298.3,182.2 298.5,183.6 298.6,170.5 298.8,153.4 299,175 299.1,168.8 299.3,203 299.4,188.3 299.6,179.4 299.7,182.2 299.9,171.4 300,173.9 300.2,152.5 300.3,178.5 300.5,198.6 300.7,174 300.8,186.2 301,172.8 301.1,160 301.3,184.7 301.4,176.8 301.6,168.6 301.7,188.9 301.9,172.7 302,168.2 302.2,164.4 302.3,162.3 302.5,170.4 302.7,170.4 302.8,195.1 303,211.7 303.1,189.2 303.3,177.6 303.4,174.1 303.6,207.2 303.7,181.7 303.9,170.9 304,201.6 304.2,167.9 304.4,191.7 304.5,161.3 304.7,175.3 304.8,139.3 305,194.2 305.1,181.9 305.3,196.2 305.4,165.5 305.6,173.9 305.7,162.8 305.9,174.1 306,191.8 306.2,184.6 306.4,192.7 306.5,190 306.7,173.4 306.8,160.5 307,163.3 307.1,168.1 307.3,182.9 307.4,168 307.6,186.9 307.7,172.1 307.9,163.2 308,177.3 308.2,181.1 308.4,180.6 308.5,166 308.7,178.8 308.8,194.1 309,180.1 309.1,189 309.3,153.4 309.4,174 309.6,194.5 309.7,170.4 309.9,164 310.1,168.7 310.2,180.8 310.4,171.7 310.5,169.9 310.7,159.8 310.8,193.2 311,142.3 311.1,176.6 311.3,153.8 311.4,175.1 311.6,221.6 311.7,189.7 311.9,198.6 312.1,197.1 312.2,156.6 312.4,182.4 312.5,164.9 312.7,185.5 312.8,173.4 313,187.7 313.1,161.2 313.3,176.7 313.4,184.1 313.6,175.4 313.8,142.9 313.9,166.9 314.1,161.5 314.2,190.3 314.4,182.1 314.5,169 314.7,198.7 314.8,154.5 315,169.3 315.1,173.3 315.3,175.7 315.4,176.2 315.6,189.1 315.8,153.7 315.9,163.6 316.1,155.8 316.2,177.3 316.4,185.3 316.5,171.2 316.7,190.1 316.8,181.6 317,163.4 317.1,158.1 317.3,191.4 317.4,177.1 317.6,172.9 317.8,175.1 317.9,185.1 318.1,167.8 318.2,180.6 318.4,176.6 318.5,204.3 318.7,174.8 318.8,200.1 319,163.5 319.1,166.4 319.3,180.2 319.5,170.9 319.6,171.7 319.8,175.2 319.9,168.1 320.1,174.9 320.2,179.8 320.4,184.1 320.5,149.9 320.7,170.3 320.8,173.2 321,162.9 321.1,178.3 321.3,178.1 321.5,163.5 321.6,158.5 321.8,163.4 321.9,193.1 322.1,171.8 322.2,172.9 322.4,166.2 322.5,184.7 322.7,186.9 322.8,174 323,184.6 323.1,187 323.3,173.2 323.5,159.5 323.6,170.4 323.8,156.8 323.9,185.8 324.1,162.2 324.2,172.1 324.4,200.3 324.5,177.7 324.7,187.9 324.8,174.8 325,203.7 325.2,154.4 325.3,176.6 325.5,191.2 325.6,174.4 325.8,166.3 325.9,176 326.1,159.8 326.2,184 326.4,183.2 326.5,149.2 326.7,171.5 326.8,164.2 327,164.8 327.2,163.7 327.3,171 327.5,174.3 327.6,156.9 327.8,178.5 327.9,170.2 328.1,162.5 328.2,177.3 328.4,192.9 328.5,165.7 328.7,157.2 328.9,176.4 329,195 329.2,163.4 329.3,145.3 329.5,193.4 329.6,208.3 329.8,175.7 329.9,210 330.1,161.8 330.2,161.3 330.4,171.3 330.5,165.2 330.7,168.1 330.9,171.1 331,173.6 331.2,174.9 331.3,163.3 331.5,167.3 331.6,178.7 331.8,158.1 331.9,182.9 332.1,176.2 332.2,172.9 332.4,199 332.5,178.3 332.7,161.7 332.9,162.3 333,189.5 333.2,184.6 333.3,188 333.5,176.6 333.6,174.3 333.8,195 333.9,169.1 334.1,172.5 334.2,174.4 334.4,182.7 334.6,176 334.7,197.7 334.9,170.4 335,172.2 335.2,174.8 335.3,189.4 335.5,156.1 335.6,158 335.8,198.6 335.9,167.6 336.1,171 336.2,208 336.4,166.1 336.6,164.2 336.7,163.2 336.9,170.8 337,181.8 337.2,179.8 337.3,166.2 337.5,156.9 337.6,179.4 337.8,176.5 337.9,163.2 338.1,201.8 338.3,166.6 338.4,185.2 338.6,202.2 338.7,162 338.9,184.8 339,161.6 339.2,153.7 339.3,189.2 339.5,188.5 339.6,172.4 339.8,195.9 339.9,162.3 340.1,169.6 340.3,158.8 340.4,196.8 340.6,169.2 340.7,165.7 340.9,183.7 341,159.8 341.2,190.5 341.3,169.4 341.5,189.6 341.6,161.1 341.8,150.6 341.9,217 342.1,171.3 342.3,154 342.4,177.6 342.6,170.8 342.7,162.5 342.9,165.8 343,150.1 343.2,229.7 343.3,145.2 343.5,171.4 343.6,155.9 343.8,179.1 344,158.7 344.1,147.2 344.3,139.1 344.4,188 344.6,173.3 344.7,161.3 344.9,183 345,163.6 345.2,163.7 345.3,177.7 345.5,178.4 345.6,183.6 345.8,167 346,153.9 346.1,167.3 346.3,136.4 346.4,197.1 346.6,184.4 346.7,162.2 346.9,187 347,166.8 347.2,160.5 347.3,169.2 347.5,174.7 347.7,158.9 347.8,166 348,162 348.1,164.4 348.3,181.1 348.4,187 348.6,177.3 348.7,169.8 348.9,173.7 349,160 349.2,169 349.3,142.5 349.5,171 349.7,182.5 349.8,161.1 350,173.2 350.1,184.3 350.3,178.5 350.4,138 350.6,210.5 350.7,157.8 350.9,172.6 351,174.5 351.2,177.6 351.3,180.7 351.5,141.5 351.7,179.9 351.8,178 352,163 352.1,168.9 352.3,176.7 352.4,178.2 352.6,192.5 352.7,159.5 352.9,188.9 353,207.7 353.2,160.1 353.4,164.3 353.5,170 353.7,181.9 353.8,167.5 354,219 354.1,205 354.3,172.7 354.4,163.8 354.6,164.8 354.7,156.7 354.9,163.5 355,178.2 355.2,177.7 355.4,162.8 355.5,175.9 355.7,176.9 355.8,199.4 356,179.4 356.1,193 356.3,171.9 356.4,173.2 356.6,165.2 356.7,150.3 356.9,177.4 357.1,161.3 357.2,190.5 357.4,172.7 357.5,161.5 357.7,147.7 357.8,189.9 358,178.2 358.1,174.7 358.3,175.9 358.4,187.7 358.6,197 358.7,191.9 358.9,176.6 359.1,194.5 359.2,151.9 359.4,160 359.5,203.8 359.7,184.7 359.8,160 360,158.8 360.1,163.8 360.3,199.6 360.4,185.4 360.6,163.1 360.7,179.9 360.9,188.2 361.1,175.4 361.2,184.7 361.4,181.5 361.5,180.5 361.7,169.5 361.8,192.8 362,198.2 362.1,175.4 362.3,200 362.4,180.1 362.6,197.1 362.8,175.3 362.9,203.5 363.1,171.2 363.2,183 363.4,191.2 363.5,198.8 363.7,192.7 363.8,219.5 364,203.5 364.1,172 364.3,178.6 364.4,169.8 364.6,205.7 364.8,214 364.9,211.9 365.1,178 365.2,175.9 365.4,212.9 365.5,173 365.7,193.3 365.8,211.1 366,188.4 366.1,179.4 366.3,190.4 366.4,190 366.6,199.3 366.8,207.5 366.9,193 367.1,210.4 367.2,179.5 367.4,199.9 367.5,158.8 367.7,199 367.8,151.8 368,178.1 368.1,188.9 368.3,149.2 368.5,136.8 368.6,144.4" stroke="#00ff00" stroke-width="0.5"/>
<path d="M32.3 184.7a2.7 2.7 0 1 0 5.4 0a2.7 2.7 0 1 0-5.4 0M32.6 191.5a2.7 2.7 0 1 0 5.4 0a2.7 2.7 0 1 0-5.4 0M32.9 166.9a2.7 2.7 0 1 0 5.4 0a2.7 2.7 0 1 0-5.4 0M33.2 190.6a2.7 2.7 0 1 0 5.4 0a2.7 2.7 0 1 0-5.4 0M33.5 233.8a2.7 2.7 0 1 0 5.4 0a2.7 2.7 0 1 0-5.4 0M33.8 176.2a2.7 2.7 0 1 0 5.4 0a2.7 2.7 0 1 0-5.4 0M34.1 190.8a2.7 2.7 0 1 0 5.4 0a2.7 2.7 0 1 0-5.4 0M34.5 182.2a2.7 2.7 0 1 0 5.4 0a2.7 2.7 0 1 0-5.4 0M34.8 181.2a2.7 2.7 0 1 0 5.4 0a2.7 2.7 0 1 0-5.4 0M35.1 185.9a2.7 2.7 0 1 0 5.4 0a2.7 2.7 0 1 0-5.4 0M35.4 178a2.7 2.7 0 1 0 5.4 0a2.7 2.7 0 1 0-5.4 0M35.7 207.2a2.7 2.7 0 1 0 5.4 0a2.7 2.7 0 1 0-5.4 0M36 198.7a2.7 2.7 0 1 0 5.4 0a2.7 2.7 0 1 0-5.4 0M36.3 180.7a2.7 2.7 0 1 0 5.4 0a2.7 2.7 0 1 0-5.4 0M36.6 206.9a2.7 2.7 0 1 0 5.4 0a2.7 2.7 0 1 0-5.4 0M36.9 178.3a2.7 2.7 0 1 0 5.4 0a2.7 2.7 0 1 0-5.4 0M37.2 175.7a2.7 2.7 0 1 0 5.4 0a2.7 2.7 0 1 0-5.4 0M37.5 185.4a2.7 2.7 0 1 0 5.4 0a2.7 2.7 0 1 0-5.4 0M37.8 189.7a2.7 2.7 0 1 0 5.4 0a2.7 2.7 0 1 0-5.4 0M38.2 200.4a2.7 2.7 0 1 0 5.4 0a2.7 2.7 0 1 0-5.4 0M38.5 185.3a2.7 2.7 0 1 0 5.4 0a2.7 2.7 0 1 0-5.4 0M38.8 196.5a2.7 2.7 0 1 0 5.4 0a2.7 2.7 0 1 0-5.4 0M39.1 194.3a2.7 2.7 0 1 0 5.4 0a2.7 2.7 0 1 0-5.4 0M39.4 190.5a2.7 2.7 0 1 0 5.4 0a2.7 2.7 0 1 0-5.4 0M39.7 208.7a2.7 2.7 0 1 0 5.4 0a2.7 2.7 0 1 0-5.4 0M40 196.9a2.7 2.7 0 1 0 5.4 0a2.7 2.7 0 1 0-5.4 0M40.3 185.9a2.7 2.7 0 1 0 5.4 0a2.7 2.7 0 1 0-5.4 0M40.6 186.6a2.7 2.7 0 1 0 5.4 0a2.7 2.7 0 1 0-5.4 0M40.9 161a2.7 2.7 0 1 0 5.4 0a2.7 2.7 0 1 0-5.4 0M41.2 190.5a2.7 2.7 0 1 0 5.4 0a2.7 2.7 0 1 0-5.4 0M41.5 180a2.7 2.7 0 1 0 5.4 0a2.7 2.7 0 1 0-5.4 0M41.9 189a2.7 2.7 0 1 0 5.4 0a2.7 2.7 0 1 0-5.4 0M42.2 179.6a2.7 2.7 0 1 0 5.4 0a2.7 2.7 0 1 0-5.4 0M42.5 203.6a2.7 2.7 0 1 0 5.4 0a2.7 2.7 0 1 0-5.4 0M42.8 173a2.7 2.7 0 1 0 5.4 0a2.7 2.7 0 1 0-5.4 0M43.1 169.3a2.7 2.7 0 1 0 5.4 0a2.7 2.7 0 1 0-5.4 0M43.4 194.2a2.7 2.7 0 1 0 5.4 0a2.7 2.7 0 1 0-5.4 0M43.7 187.4a2.7 2.7 0 1 0 5.4 0a2.7 2.7 0 1 0-5.4 0M44 195.3a2.7 2.7 0 1 0 5.4 0a2.7 2.7 0 1 0-5.4 0M44.3 181.3a2.7 2.7 0 1 0 5.4 0a2.7 2.7 0 1 0-5.4 0M44.6 188.1a2.7 2.7 0 1 0 5.4 0a2.7 2.7 0 1 0-5.4 0M44.9 175.6a2.7 2.7 0 1 0 5.4 0a2.7 2.7 0 1 0-5.4 0M45.2 193.2a2.7 2.7 0 1 0 5.4 0a2.7 2.7 0 1 0-5.4 0M45.6 194.6a2.7 2.7 0 1 0 5.4 0a2.7 2.7 0 1 0-5.4 0M45.9 171.7a2.7 2.7 0 1 0 5.4 0a2.7 2.7 0 1 0-5.4 0M46.2 168.3a2.7 2.7 0 1 0 5.4 0a2.7 2.7 0 1 0-5.4 0M46.5 182.2a2.7 2.7 0 1 0 5.4 0a2.7 2.7 0 1 0-5.4 0M46.8 186.3a2.7 2.7 0 1 0 5.4 0a2.7 2.7 0 1 0-5.4 0M47.1 188.4a2.7 2.7 0 1 0 5.4 0a2.7 2.7 0 1 0-5.4 0M47.4 197a2.7 2.7 0 1 0 5.4 0a2.7 2.7 0 1 0-5.4 0M47.7 200.9a2.7 2.7 0 1 0 5.4 0a2.7 2.7 0 1 0-5.4 0M48 178.9a2.7 2.7 0 1 0 5.4 0a2.7 2.7 0 1 0-5.4 0M48.3 200.6a2.7 2.7 0 1 0 5.4 0a2.7 2.7 0 1 0-5.4 0M48.6 179.8a2.7 2.7 0 1 0 5.4 0a2.7 2.7 0 1 0-5.4 0M48.9 162.5a2.7 2.7 0 1 0 5.4 0a2.7 2.7 0 1 0-5.4 0M49.2 172.6a2.7 2.7 0 1 0 5.4 0a2.7 2.7 0 1 0-5.4 0M49.6 179.4a2.7 2.7 0 1 0 5.4 0a2.7 2.7 0 1 0-5.4 0M49.9 173.4a2.7 2.7 0 1 0 5.4 0a2.7 2.7 0 1 0-5.4 0M50.2 194.3a2.7 2.7 0 1 0 5.4 0a2.7 2.7 0 1 0-5.4 0M50.5 175.2a2.7 2.7 0 1 0 5.4 0a2.7 2.7 0 1 0-5.4 0M50.8 192a2.7 2.7 0 1 0 5.4 0a2.7 2.7 0 1 0-5.4 0M51.1 185.7a2.7 2.7 0 1 0 5.4 0a2.7 2.7 0 1 0-5.4 0M51.4 175.1a2.7 2.7 0 1 0 5.4 0a2.7 2.7 0 1 0-5.4 0M51.7 190.2a2.7 2.7 0 1 0 5.4 0a2.7 2.7 0 1 0-5.4 0M52 199.4a2.7 2.7 0 1 0 5.4 0a2.7 2.7 0 1 0-5.4 0M52.3 185.4a2.7 2.7 0 1 0 5.4 0a2.7 2.7 0 1 0-5.4 0M52.6 169.9a2.7 2.7 0 1 0 5.4 0a2.7 2.7 0 1 0-5.4 0M52.9 178.6a2.7 2.7 0 1 0 5.4 0a2.7 2.7 0 1 0-5.4 0M53.3 161.9a2.7 2.7 0 1 0 5.4 0a2.7 2.7 0 1 0-5.4 0M53.6 179.5a2.7 2.7 0 1 0 5.4 0a2.7 2.7 0 1 0-5.4 0M53.9 194.2a2.7 2.7 0 1 0 5.4 0a2.7 2.7 0 1 0-5.4 0M54.2 189.7a2.7 2.7 0 1 0 5.4 0a2.7 2.7 0 1 0-5.4 0M54.5 203a2.7 2.7 0 1 0 5.4 0a2.7 2.7 0 1 0-5.4 0M54.8 195.7a2.7 2.7 0 1 0 5.4 0a2.7 2.7 0 1 0-5.4 0M55.1 189.1a2.7 2.7 0 1 0 5.4 0a2.7 2.7 0 1 0-5.4 0M55.4 201.6a2.7 2.7 0 1 0 5.4 0a2.7 2.7 0 1 0-5.4 0M55.7 196.1a2.7 2.7 0 1 0 5.4 0a2.7 2.7 0 1 0-5.4 0M56 186.1a2.7 2.7 0 1 0 5.4 0a2.7 2.7 0 1 0-5.4 0M56.3 183.5a2.7 2.7 0 1 0 5.4 0a2.7 2.7 0 1 0-5.4 0M56.6 179.3a2.7 2.7 0 1 0 5.4 0a2.7 2.7 0 1 0-5.4 0M57 201.8a2.7 2.7 0 1 0 5.4 0a2.7 2.7 0 1 0-5.4 0M57.3 188.9a2.7 2.7 0 1 0 5.4 0a2.7 2.7 0 1 0-5.4 0M57.6 191.4a2.7 2.7 0 1 0 5.4 0a2.7 2.7 0 1 0-5.4 0M57.9 189.8a2.7 2.7 0 1 0 5.4 0a2.7 2.7 0 1 0-5.4 0M58.2 179.6a2.7 2.7 0 1 0 5.4 0a2.7 2.7 0 1 0-5.4 0M58.5 198.1a2.7 2.7 0 1 0 5.4 0a2.7 2.7 0 1 0-5.4 0M58.8 183.1a2.7 2.7 0 1 0 5.4 0a2.7 2.7 0 1 0-5.4 0M59.1 175.4a2.7 2.7 0 1 0 5.4 0a2.7 2.7 0 1 0-5.4 0M59.4 220.8a2.7 2.7 0 1 0 5.4 0a2.7 2.7 0 1 0-5.4 0M59.7 201.1a2.7 2.7 0 1 0 5.4 0a2.7 2.7 0 1 0-5.4 0M60 178a2.7 2.7 0 1 0 5.4 0a2.7 2.7 0 1 0-5.4 0M60.3 196.7a2.7 2.7 0 1 0 5.4 0a2.7 2.7 0 1 0-5.4 0M60.7 189.8a2.7 2.7 0 1 0 5.4 0a2.7 2.7 0 1 0-5.4 0M61 178.5a2.7 2.7 0 1 0 5.4 0a2.7 2.7 0 1 0-5.4 0M61.3 180.2a2.7 2.7 0 1 0 5.4 0a2.7 2.7 0 1 0-5.4 0M61.6 183.1a2.7 2.7 0 1 0 5.4 0a2.7 2.7 0 1 0-5.4 0M61.9 188.5a2.7 2.7 0 1 0 5.4 0a2.7 2.7 0 1 0-5.4 0M62.2 180.1a2.7 2.7 0 1 0 5.4 0a2.7 2.7 0 1 0-5.4 0M62.5 184.1a2.7 2.7 0 1 0 5.4 0a2.7 2.7 0 1 0-5.4 0M62.8 170.1a2.7 2.7 0 1 0 5.4 0a2.7 2.7 0 1 0-5.4 0M63.1 180.4a2.7 2.7 0 1 0 5.4 0a2.7 2.7 0 1 0-5.4 0M63.4 175.8a2.7 2.7 0 1 0 5.4 0a2.7 2.7 0 1 0-5.4 0M63.7 171a2.7 2.7 0 1 0 5.4 0a2.7 2.7 0 1 0-5.4 0M64 204.8a2.7 2.7 0 1 0 5.4 0a2.7 2.7 0 1 0-5.4 0M64.4 189a2.7 2.7 0 1 0 5.4 0a2.7 2.7 0 1 0-5.4 0M64.7 184a2.7 2.7 0 1 0 5.4 0a2.7 2.7 0 1 0-5.4 0M65 187.8a2.7 2.7 0 1 0 5.4 0a2.7 2.7 0 1 0-5.4 0M65.3 180.9a2.7 2.7 0 1 0 5.4 0a2.7 2.7 0 1 0-5.4 0M65.6 195.9a2.7 2.7 0 1 0 5.4 0a2.7 2.7 0 1 0-5.4 0M65.9 169.7a2.7 2.7 0 1 0 5.4 0a2.7 2.7 0 1 0-5.4 0M66.2 159.2a2.7 2.7 0 1 0 5.4 0a2.7 2.7 0 1 0-5.4 0M66.5 190.1a2.7 2.7 0 1 0 5.4 0a2.7 2.7 0 1 0-5.4 0M66.8 177.3a2.7 2.7 0 1 0 5.4 0a2.7 2.7 0 1 0-5.4 0M67.1 191.2a2.7 2.7 0 1 0 5.4 0a2.7 2.7 0 1 0-5.4 0M67.4 172a2.7 2.7 0 1 0 5.4 0a2.7 2.7 0 1 0-5.4 0M67.7 189.7a2.7 2.7 0 1 0 5.4 0a2.7 2.7 0 1 0-5.4 0M68 160.8a2.7 2.7 0 1 0 5.4 0a2.7 2.7 0 1 0-5.4 0M68.4 189.6a2.7 2.7 0 1 0 5.4 0a2.7 2.7 0 1 0-5.4 0M68.7 209.9a2.7 2.7 0 1 0 5.4 0a2.7 2.7 0 1 0-5.4 0M69 193a2.7 2.7 0 1 0 5.4 0a2.7 2.7 0 1 0-5.4 0M69.3 202.2a2.7 2.7 0 1 0 5.4 0a2.7 2.7 0 1 0-5.4 0M69.6 183.6a2.7 2.7 0 1 0 5.4 0a2.7 2.7 0 1 0-5.4 0M69.9 175.3a2.7 2.7 0 1 0 5.4 0a2.7 2.7 0 1 0-5.4 0M70.2 198.5a2.7 2.7 0 1 0 5.4 0a2.7 2.7 0 1 0-5.4 0M70.5 188.6a2.7 2.7 0 1 0 5.4 0a2.7 2.7 0 1 0-5.4 0M70.8 186.6a2.7 2.7 0 1 0 5.4 0a2.7 2.7 0 1 0-5.4 0M71.1 213.1a2.7 2.7 0 1 0 5.4 0a2.7 2.7 0 1 0-5.4 0M71.4 193.6a2.7 2.7 0 1 0 5.4 0a2.7 2.7 0 1 0-5.4 0M71.7 164.5a2.7 2.7 0 1 0 5.4 0a2.7 2.7 0 1 0-5.4 0M72.1 193.7a2.7 2.7 0 1 0 5.4 0a2.7 2.7 0 1 0-5.4 0M72.4 185.9a2.7 2.7 0 1 0 5.4 0a2.7 2.7 0 1 0-5.4 0M72.7 180.5a2.7 2.7 0 1 0 5.4 0a2.7 2.7 0 1 0-5.4 0M73 189.5a2.7 2.7 0 1 0 5.4 0a2.7 2.7 0 1 0-5.4 0M73.3 190.9a2.7 2.7 0 1 0 5.4 0a2.7 2.7 0 1 0-5.4 0M73.6 203.1a2.7 2.7 0 1 0 5.4 0a2.7 2.7 0 1 0-5.4 0M73.9 193.3a2.7 2.7 0 1 0 5.4 0a2.7 2.7 0 1 0-5.4 0M74.2 190a2.7 2.7 0 1 0 5.4 0a2.7 2.7 0 1 0-5.4 0M74.5 176.9a2.7 2.7 0 1 0 5.4 0a2.7 2.7 0 1 0-5.4 0M74.8 177.9a2.7 2.7 0 1 0 5.4 0a2.7 2.7 0 1 0-5.4 0M75.1 169.9a2.7 2.7 0 1 0 5.4 0a2.7 2.7 0 1 0-5.4 0M75.4 201.1a2.7 2.7 0 1 0 5.4 0a2.7 2.7 0 1 0-5.4 0M75.8 177.1a2.7 2.7 0 1 0 5.4 0a2.7 2.7 0 1 0-5.4 0M76.1 194.5a2.7 2.7 0 1 0 5.4 0a2.7 2.7 0 1 0-5.4 0M76.4 207.6a2.7 2.7 0 1 0 5.4 0a2.7 2.7 0 1 0-5.4 0M76.7 196.7a2.7 2.7 0 1 0 5.4 0a2.7 2.7 0 1 0-5.4 0M77 182.8a2.7 2.7 0 1 0 5.4 0a2.7 2.7 0 1 0-5.4 0M77.3 190.5a2.7 2.7 0 1 0 5.4 0a2.7 2.7 0 1 0-5.4 0M77.6 185.4a2.7 2.7 0 1 0 5.4 0a2.7 2.7 0 1 0-5.4 0M77.9 199.1a2.7 2.7 0 1 0 5.4 0a2.7 2.7 0 1 0-5.4 0M78.2 194.7a2.7 2.7 0 1 0 5.4 0a2.7 2.7 0 1 0-5.4 0M78.5 180.6a2.7 2.7 0 1 0 5.4 0a2.7 2.7 0 1 0-5.4 0M78.8 180.6a2.7 2.7 0 1 0 5.4 0a2.7 2.7 0 1 0-5.4 0M79.1 169.1a2.7 2.7 0 1 0 5.4 0a2.7 2.7 0 1 0-5.4 0M79.5 192.1a2.7 2.7 0 1 0 5.4 0a2.7 2.7 0 1 0-5.4 0M79.8 197.2a2.7 2.7 0 1 0 5.4 0a2.7 2.7 0 1 0-5.4 0M80.1 181.6a2.7 2.7 0 1 0 5.4 0a2.7 2.7 0 1 0-5.4 0M80.4 181.7a2.7 2.7 0 1 0 5.4 0a2.7 2.7 0 1 0-5.4 0M80.7 202.9a2.7 2.7 0 1 0 5.4 0a2.7 2.7 0 1 0-5.4 0M81 200.6a2.7 2.7 0 1 0 5.4 0a2.7 2.7 0 1 0-5.4 0M81.3 181.2a2.7 2.7 0 1 0 5.4 0a2.7 2.7 0 1 0-5.4 0M81.6 205.2a2.7 2.7 0 1 0 5.4 0a2.7 2.7 0 1 0-5.4 0M81.9 181.8a2.7 2.7 0 1 0 5.4 0a2.7 2.7 0 1 0-5.4 0M82.2 184.1a2.7 2.7 0 1 0 5.4 0a2.7 2.7 0 1 0-5.4 0M82.5 181.6a2.7 2.7 0 1 0 5.4 0a2.7 2.7 0 1 0-5.4 0M82.8 185.4a2.7 2.7 0 1 0 5.4 0a2.7 2.7 0 1 0-5.4 0M83.1 191.4a2.7 2.7 0 1 0 5.4 0a2.7 2.7 0 1 0-5.4 0M83.5 208.5a2.7 2.7 0 1 0 5.4 0a2.7 2.7 0 1 0-5.4 0M83.8 187.7a2.7 2.7 0 1 0 5.4 0a2.7 2.7 0 1 0-5.4 0M84.1 198.9a2.7 2.7 0 1 0 5.4 0a2.7 2.7 0 1 0-5.4 0M84.4 178.9a2.7 2.7 0 1 0 5.4 0a2.7 2.7 0 1 0-5.4 0M84.7 165.9a2.7 2.7 0 1 0 5.4 0a2.7 2.7 0 1 0-5.4 0M85 198.9a2.7 2.7 0 1 0 5.4 0a2.7 2.7 0 1 0-5.4 0M85.3 174.6a2.7 2.7 0 1 0 5.4 0a2.7 2.7 0 1 0-5.4 0M85.6 176.1a2.7 2.7 0 1 0 5.4 0a2.7 2.7 0 1 0-5.4 0M85.9 169.3a2.7 2.7 0 1 0 5.4 0a2.7 2.7 0 1 0-5.4 0M86.2 191.6a2.7 2.7 0 1 0 5.4 0a2.7 2.7 0 1 0-5.4 0M86.5 175.4a2.7 2.7 0 1 0 5.4 0a2.7 2.7 0 1 0-5.4 0M86.8 171.3a2.7 2.7 0 1 0 5.4 0a2.7 2.7 0 1 0-5.4 0M87.2 176.5a2.7 2.7 0 1 0 5.4 0a2.7 2.7 0 1 0-5.4 0M87.5 184a2.7 2.7 0 1 0 5.4 0a2.7 2.7 0 1 0-5.4 0M87.8 186.8a2.7 2.7 0 1 0 5.4 0a2.7 2.7 0 1 0-5.4 0M88.1 186.5a2.7 2.7 0 1 0 5.4 0a2.7 2.7 0 1 0-5.4 0M88.4 184.2a2.7 2.7 0 1 0 5.4 0a2.7 2.7 0 1 0-5.4 0M88.7 201.8a2.7 2.7 0 1 0 5.4 0a2.7 2.7 0 1 0-5.4 0M89 209.3a2.7 2.7 0 1 0 5.4 0a2.7 2.7 0 1 0-5.4 0M89.3 188.5a2.7 2.7 0 1 0 5.4 0a2.7 2.7 0 1 0-5.4 0M89.6 182.1a2.7 2.7 0 1 0 5.4 0a2.7 2.7 0 1 0-5.4 0M89.9 187.6a2.7 2.7 0 1 0 5.4 0a2.7 2.7 0 1 0-5.4 0M90.2 172.9a2.7 2.7 0 1 0 5.4 0a2.7 2.7 0 1 0-5.4 0M90.5 180.8a2.7 2.7 0 1 0 5.4 0a2.7 2.7 0 1 0-5.4 0M90.9 188.7a2.7 2.7 0 1 0 5.4 0a2.7 2.7 0 1 0-5.4 0M91.2 178.6a2.7 2.7 0 1 0 5.4 0a2.7 2.7 0 1 0-5.4 0M91.5 195.6a2.7 2.7 0 1 0 5.4 0a2.7 2.7 0 1 0-5.4 0M91.8 166.3a2.7 2.7 0 1 0 5.4 0a2.7 2.7 0 1 0-5.4 0M92.1 182.7a2.7 2.7 0 1 0 5.4 0a2.7 2.7 0 1 0-5.4 0M92.4 173.8a2.7 2.7 0 1 0 5.4 0a2.7 2.7 0 1 0-5.4 0M92.7 166.5a2.7 2.7 0 1 0 5.4 0a2.7 2.7 0 1 0-5.4 0M93 196.2a2.7 2.7 0 1 0 5.4 0a2.7 2.7 0 1 0-5.4 0M93.3 196.6a2.7 2.7 0 1 0 5.4 0a2.7 2.7 0 1 0-5.4 0M93.6 171.4a2.7 2.7 0 1 0 5.4 0a2.7 2.7 0 1 0-5.4 0M93.9 199.2a2.7 2.7 0 1 0 5.4 0a2.7 2.7 0 1 0-5.4 0M94.2 187.5a2.7 2.7 0 1 0 5.4 0a2.7 2.7 0 1 0-5.4 0M94.6 181.1a2.7 2.7 0 1 0 5.4 0a2.7 2.7 0 1 0-5.4 0M94.9 193.8a2.7 2.7 0 1 0 5.4 0a2.7 2.7 0 1 0-5.4 0M95.2 184.7a2.7 2.7 0 1 0 5.4 0a2.7 2.7 0 1 0-5.4 0M95.5 213.8a2.7 2.7 0 1 0 5.4 0a2.7 2.7 0 1 0-5.4 0M95.8 178.2a2.7 2.7 0 1 0 5.4 0a2.7 2.7 0 1 0-5.4 0M96.1 183.7a2.7 2.7 0 1 0 5.4 0a2.7 2.7 0 1 0-5.4 0M96.4 194.3a2.7 2.7 0 1 0 5.4 0a2.7 2.7 0 1 0-5.4 0M96.7 169.9a2.7 2.7 0 1 0 5.4 0a2.7 2.7 0 1 0-5.4 0M97 206.8a2.7 2.7 0 1 0 5.4 0a2.7 2.7 0 1 0-5.4 0M97.3 192.9a2.7 2.7 0 1 0 5.4 0a2.7 2.7 0 1 0-5.4 0M97.6 200.6a2.7 2.7 0 1 0 5.4 0a2.7 2.7 0 1 0-5.4 0M97.9 184.9a2.7 2.7 0 1 0 5.4 0a2.7 2.7 0 1 0-5.4 0M98.3 204.3a2.7 2.7 0 1 0 5.4 0a2.7 2.7 0 1 0-5.4 0M98.6 203.2a2.7 2.7 0 1 0 5.4 0a2.7 2.7 0 1 0-5.4 0M98.9 187.5a2.7 2.7 0 1 0 5.4 0a2.7 2.7 0 1 0-5.4 0M99.2 170.5a2.7 2.7 0 1 0 5.4 0a2.7 2.7 0 1 0-5.4 0M99.5 170.1a2.7 2.7 0 1 0 5.4 0a2.7 2.7 0 1 0-5.4 0M99.8 196.6a2.7 2.7 0 1 0 5.4 0a2.7 2.7 0 1 0-5.4 0M100.1 192.1a2.7 2.7 0 1 0 5.4 0a2.7 2.7 0 1 0-5.4 0M100.4 189.2a2.7 2.7 0 1 0 5.4 0a2.7 2.7 0 1 0-5.4 0M100.7 206.1a2.7 2.7 0 1 0 5.4 0a2.7 2.7 0 1 0-5.4 0M101 191.3a2.7 2.7 0 1 0 5.4 0a2.7 2.7 0 1 0-5.4 0M101.3 198.5a2.7 2.7 0 1 0 5.4 0a2.7 2.7 0 1 0-5.4 0M101.6 187.1a2.7 2.7 0 1 0 5.4 0a2.7 2.7 0 1 0-5.4 0M101.9 203.8a2.7 2.7 0 1 0 5.4 0a2.7 2.7 0 1 0-5.4 0M102.3 195.4a2.7 2.7 0 1 0 5.4 0a2.7 2.7 0 1 0-5.4 0M102.6 198.9a2.7 2.7 0 1 0 5.4 0a2.7 2.7 0 1 0-5.4 0M102.9 176.7a2.7 2.7 0 1 0 5.4 0a2.7 2.7 0 1 0-5.4 0M103.2 190.6a2.7 2.7 0 1 0 5.4 0a2.7 2.7 0 1 0-5.4 0M103.5 181.4a2.7 2.7 0 1 0 5.4 0a2.7 2.7 0 1 0-5.4 0M103.8 180.2a2.7 2.7 0 1 0 5.4 0a2.7 2.7 0 1 0-5.4 0M104.1 177.4a2.7 2.7 0 1 0 5.4 0a2.7 2.7 0 1 0-5.4 0M104.4 189a2.7 2.7 0 1 0 5.4 0a2.7 2.7 0 1 0-5.4 0M104.7 172.5a2.7 2.7 0 1 0 5.4 0a2.7 2.7 0 1 0-5.4 0M105 155.3a2.7 2.7 0 1 0 5.4 0a2.7 2.7 0 1 0-5.4 0M105.3 174.6a2.7 2.7 0 1 0 5.4 0a2.7 2.7 0 1 0-5.4 0M105.6 181.2a2.7 2.7 0 1 0 5.4 0a2.7 2.7 0 1 0-5.4 0M106 217.4a2.7 2.7 0 1 0 5.4 0a2.7 2.7 0 1 0-5.4 0M106.3 182.2a2.7 2.7 0 1 0 5.4 0a2.7 2.7 0 1 0-5.4 0M106.6 177.3a2.7 2.7 0 1 0 5.4 0a2.7 2.7 0 1 0-5.4 0M106.9 174.7a2.7 2.7 0 1 0 5.4 0a2.7 2.7 0 1 0-5.4 0M107.2 187.8a2.7 2.7 0 1 0 5.4 0a2.7 2.7 0 1 0-5.4 0M107.5 192a2.7 2.7 0 1 0 5.4 0a2.7 2.7 0 1 0-5.4 0M107.8 176.2a2.7 2.7 0 1 0 5.4 0a2.7 2.7 0 1 0-5.4 0M108.1 197.6a2.7 2.7 0 1 0 5.4 0a2.7 2.7 0 1 0-5.4 0M108.4 197.2a2.7 2.7 0 1 0 5.4 0a2.7 2.7 0 1 0-5.4 0M108.7 186.2a2.7 2.7 0 1 0 5.4 0a2.7 2.7 0 1 0-5.4 0M109 210.5a2.7 2.7 0 1 0 5.4 0a2.7 2.7 0 1 0-5.4 0M109.3 181.7a2.7 2.7 0 1 0 5.4 0a2.7 2.7 0 1 0-5.4 0M109.7 193.3a2.7 2.7 0 1 0 5.4 0a2.7 2.7 0 1 0-5.4 0M110 168.1a2.7 2.7 0 1 0 5.4 0a2.7 2.7 0 1 0-5.4 0M110.3 175.6a2.7 2.7 0 1 0 5.4 0a2.7 2.7 0 1 0-5.4 0M110.6 188.7a2.7 2.7 0 1 0 5.4 0a2.7 2.7 0 1 0-5.4 0M110.9 188.7a2.7 2.7 0 1 0 5.4 0a2.7 2.7 0 1 0-5.4 0M111.2 196.2a2.7 2.7 0 1 0 5.4 0a2.7 2.7 0 1 0-5.4 0M111.5 188.1a2.7 2.7 0 1 0 5.4 0a2.7 2.7 0 1 0-5.4 0M111.8 196.3a2.7 2.7 0 1 0 5.4 0a2.7 2.7 0 1 0-5.4 0M112.1 175.5a2.7 2.7 0 1 0 5.4 0a2.7 2.7 0 1 0-5.4 0M112.4 191.4a2.7 2.7 0 1 0 5.4 0a2.7 2.7 0 1 0-5.4 0M112.7 180.5a2.7 2.7 0 1 0 5.4 0a2.7 2.7 0 1 0-5.4 0M113 199.5a2.7 2.7 0 1 0 5.4 0a2.7 2.7 0 1 0-5.4 0M113.4 175.2a2.7 2.7 0 1 0 5.4 0a2.7 2.7 0 1 0-5.4 0M113.7 190.1a2.7 2.7 0 1 0 5.4 0a2.7 2.7 0 1 0-5.4 0M114 182.1a2.7 2.7 0 1 0 5.4 0a2.7 2.7 0 1 0-5.4 0M114.3 202.3a2.7 2.7 0 1 0 5.4 0a2.7 2.7 0 1 0-5.4 0M114.6 180.7a2.7 2.7 0 1 0 5.4 0a2.7 2.7 0 1 0-5.4 0M114.9 170.3a2.7 2.7 0 1 0 5.4 0a2.7 2.7 0 1 0-5.4 0M115.2 180.5a2.7 2.7 0 1 0 5.4 0a2.7 2.7 0 1 0-5.4 0M115.5 175.9a2.7 2.7 0 1 0 5.4 0a2.7 2.7 0 1 0-5.4 0M115.8 191.4a2.7 2.7 0 1 0 5.4 0a2.7 2.7 0 1 0-5.4 0M116.1 193.6a2.7 2.7 0 1 0 5.4 0a2.7 2.7 0 1 0-5.4 0M116.4 207.3a2.7 2.7 0 1 0 5.4 0a2.7 2.7 0 1 0-5.4 0M116.7 196.3a2.7 2.7 0 1 0 5.4 0a2.7 2.7 0 1 0-5.4 0M117 185.5a2.7 2.7 0 1 0 5.4 0a2.7 2.7 0 1 0-5.4 0M117.4 163.9a2.7 2.7 0 1 0 5.4 0a2.7 2.7 0 1 0-5.4 0M117.7 200.7a2.7 2.7 0 1 0 5.4 0a2.7 2.7 0 1 0-5.4 0M118 192.9a2.7 2.7 0 1 0 5.4 0a2.7 2.7 0 1 0-5.4 0M118.3 192.8a2.7 2.7 0 1 0 5.4 0a2.7 2.7 0 1 0-5.4 0M118.6 191a2.7 2.7 0 1 0 5.4 0a2.7 2.7 0 1 0-5.4 0M118.9 205.7a2.7 2.7 0 1 0 5.4 0a2.7 2.7 0 1 0-5.4 0M119.2 185.6a2.7 2.7 0 1 0 5.4 0a2.7 2.7 0 1 0-5.4 0M119.5 188.7a2.7 2.7 0 1 0 5.4 0a2.7 2.7 0 1 0-5.4 0M119.8 185.2a2.7 2.7 0 1 0 5.4 0a2.7 2.7 0 1 0-5.4 0M120.1 173.1a2.7 2.7 0 1 0 5.4 0a2.7 2.7 0 1 0-5.4 0M120.4 185.7a2.7 2.7 0 1 0 5.4 0a2.7 2.7 0 1 0-5.4 0M120.7 193.1a2.7 2.7 0 1 0 5.4 0a2.7 2.7 0 1 0-5.4 0M121.1 183.9a2.7 2.7 0 1 0 5.4 0a2.7 2.7 0 1 0-5.4 0M121.4 192.9a2.7 2.7 0 1 0 5.4 0a2.7 2.7 0 1 0-5.4 0M121.7 188a2.7 2.7 0 1 0 5.4 0a2.7 2.7 0 1 0-5.4 0M122 187.5a2.7 2.7 0 1 0 5.4 0a2.7 2.7 0 1 0-5.4 0M122.3 225a2.7 2.7 0 1 0 5.4 0a2.7 2.7 0 1 0-5.4 0M122.6 191.8a2.7 2.7 0 1 0 5.4 0a2.7 2.7 0 1 0-5.4 0M122.9 171.9a2.7 2.7 0 1 0 5.4 0a2.7 2.7 0 1 0-5.4 0M123.2 193.7a2.7 2.7 0 1 0 5.4 0a2.7 2.7 0 1 0-5.4 0M123.5 202.6a2.7 2.7 0 1 0 5.4 0a2.7 2.7 0 1 0-5.4 0M123.8 188.6a2.7 2.7 0 1 0 5.4 0a2.7 2.7 0 1 0-5.4 0M124.1 197.3a2.7 2.7 0 1 0 5.4 0a2.7 2.7 0 1 0-5.4 0M124.4 167.8a2.7 2.7 0 1 0 5.4 0a2.7 2.7 0 1 0-5.4 0M124.8 178.6a2.7 2.7 0 1 0 5.4 0a2.7 2.7 0 1 0-5.4 0M125.1 188.2a2.7 2.7 0 1 0 5.4 0a2.7 2.7 0 1 0-5.4 0M125.4 157.1a2.7 2.7 0 1 0 5.4 0a2.7 2.7 0 1 0-5.4 0M125.7 189.5a2.7 2.7 0 1 0 5.4 0a2.7 2.7 0 1 0-5.4 0M126 193.8a2.7 2.7 0 1 0 5.4 0a2.7 2.7 0 1 0-5.4 0M126.3 168.4a2.7 2.7 0 1 0 5.4 0a2.7 2.7 0 1 0-5.4 0M126.6 205.8a2.7 2.7 0 1 0 5.4 0a2.7 2.7 0 1 0-5.4 0M126.9 181.8a2.7 2.7 0 1 0 5.4 0a2.7 2.7 0 1 0-5.4 0M127.2 202.4a2.7 2.7 0 1 0 5.4 0a2.7 2.7 0 1 0-5.4 0M127.5 183.6a2.7 2.7 0 1 0 5.4 0a2.7 2.7 0 1 0-5.4 0M127.8 182.3a2.7 2.7 0 1 0 5.4 0a2.7 2.7 0 1 0-5.4 0M128.1 166.3a2.7 2.7 0 1 0 5.4 0a2.7 2.7 0 1 0-5.4 0M128.5 166.9a2.7 2.7 0 1 0 5.4 0a2.7 2.7 0 1 0-5.4 0M128.8 198.7a2.7 2.7 0 1 0 5.4 0a2.7 2.7 0 1 0-5.4 0M129.1 177.6a2.7 2.7 0 1 0 5.4 0a2.7 2.7 0 1 0-5.4 0M129.4 192.3a2.7 2.7 0 1 0 5.4 0a2.7 2.7 0 1 0-5.4 0M129.7 168.7a2.7 2.7 0 1 0 5.4 0a2.7 2.7 0 1 0-5.4 0M130 203.1a2.7 2.7 0 1 0 5.4 0a2.7 2.7 0 1 0-5.4 0M130.3 200.5a2.7 2.7 0 1 0 5.4 0a2.7 2.7 0 1 0-5.4 0M130.6 192.4a2.7 2.7 0 1 0 5.4 0a2.7 2.7 0 1 0-5.4 0M130.9 196.1a2.7 2.7 0 1 0 5.4 0a2.7 2.7 0 1 0-5.4 0M131.2 179.7a2.7 2.7 0 1 0 5.4 0a2.7 2.7 0 1 0-5.4 0M131.5 191.8a2.7 2.7 0 1 0 5.4 0a2.7 2.7 0 1 0-5.4 0M131.8 185.5a2.7 2.7 0 1 0 5.4 0a2.7 2.7 0 1 0-5.4 0M132.2 201.7a2.7 2.7 0 1 0 5.4 0a2.7 2.7 0 1 0-5.4 0M132.5 188a2.7 2.7 0 1 0 5.4 0a2.7 2.7 0 1 0-5.4 0M132.8 180.8a2.7 2.7 0 1 0 5.4 0a2.7 2.7 0 1 0-5.4 0M133.1 195.6a2.7 2.7 0 1 0 5.4 0a2.7 2.7 0 1 0-5.4 0M133.4 195.2a2.7 2.7 0 1 0 5.4 0a2.7 2.7 0 1 0-5.4 0M133.7 181.7a2.7 2.7 0 1 0 5.4 0a2.7 2.7 0 1 0-5.4 0M134 194.3a2.7 2.7 0 1 0 5.4 0a2.7 2.7 0 1 0-5.4 0M134.3 169.4a2.7 2.7 0 1 0 5.4 0a2.7 2.7 0 1 0-5.4 0M134.6 199.8a2.7 2.7 0 1 0 5.4 0a2.7 2.7 0 1 0-5.4 0M134.9 166.4a2.7 2.7 0 1 0 5.4 0a2.7 2.7 0 1 0-5.4 0M135.2 185.7a2.7 2.7 0 1 0 5.4 0a2.7 2.7 0 1 0-5.4 0M135.5 203.6a2.7 2.7 0 1 0 5.4 0a2.7 2.7 0 1 0-5.4 0M135.8 178.7a2.7 2.7 0 1 0 5.4 0a2.7 2.7 0 1 0-5.4 0M136.2 195.5a2.7 2.7 0 1 0 5.4 0a2.7 2.7 0 1 0-5.4 0M136.5 174.1a2.7 2.7 0 1 0 5.4 0a2.7 2.7 0 1 0-5.4 0M136.8 183.4a2.7 2.7 0 1 0 5.4 0a2.7 2.7 0 1 0-5.4 0M137.1 190.8a2.7 2.7 0 1 0 5.4 0a2.7 2.7 0 1 0-5.4 0M137.4 187.1a2.7 2.7 0 1 0 5.4 0a2.7 2.7 0 1 0-5.4 0M137.7 171.9a2.7 2.7 0 1 0 5.4 0a2.7 2.7 0 1 0-5.4 0M138 221.3a2.7 2.7 0 1 0 5.4 0a2.7 2.7 0 1 0-5.4 0M138.3 191.8a2.7 2.7 0 1 0 5.4 0a2.7 2.7 0 1 0-5.4 0M138.6 178.8a2.7 2.7 0 1 0 5.4 0a2.7 2.7 0 1 0-5.4 0M138.9 184.3a2.7 2.7 0 1 0 5.4 0a2.7 2.7 0 1 0-5.4 0M139.2 186.8a2.7 2.7 0 1 0 5.4 0a2.7 2.7 0 1 0-5.4 0M139.5 188.5a2.7 2.7 0 1 0 5.4 0a2.7 2.7 0 1 0-5.4 0M139.9 188a2.7 2.7 0 1 0 5.4 0a2.7 2.7 0 1 0-5.4 0M140.2 192.9a2.7 2.7 0 1 0 5.4 0a2.7 2.7 0 1 0-5.4 0M140.5 168.5a2.7 2.7 0 1 0 5.4 0a2.7 2.7 0 1 0-5.4 0M140.8 185.8a2.7 2.7 0 1 0 5.4 0a2.7 2.7 0 1 0-5.4 0M141.1 214.7a2.7 2.7 0 1 0 5.4 0a2.7 2.7 0 1 0-5.4 0M141.4 192.6a2.7 2.7 0 1 0 5.4 0a2.7 2.7 0 1 0-5.4 0M141.7 192.8a2.7 2.7 0 1 0 5.4 0a2.7 2.7 0 1 0-5.4 0M142 171.9a2.7 2.7 0 1 0 5.4 0a2.7 2.7 0 1 0-5.4 0M142.3 177.8a2.7 2.7 0 1 0 5.4 0a2.7 2.7 0 1 0-5.4 0M142.6 187.9a2.7 2.7 0 1 0 5.4 0a2.7 2.7 0 1 0-5.4 0M142.9 184.9a2.7 2.7 0 1 0 5.4 0a2.7 2.7 0 1 0-5.4 0M143.2 180.9a2.7 2.7 0 1 0 5.4 0a2.7 2.7 0 1 0-5.4 0M143.6 181.5a2.7 2.7 0 1 0 5.4 0a2.7 2.7 0 1 0-5.4 0M143.9 156a2.7 2.7 0 1 0 5.4 0a2.7 2.7 0 1 0-5.4 0M144.2 184.7a2.7 2.7 0 1 0 5.4 0a2.7 2.7 0 1 0-5.4 0M144.5 189.8a2.7 2.7 0 1 0 5.4 0a2.7 2.7 0 1 0-5.4 0M144.8 184.1a2.7 2.7 0 1 0 5.4 0a2.7 2.7 0 1 0-5.4 0M145.1 191.5a2.7 2.7 0 1 0 5.4 0a2.7 2.7 0 1 0-5.4 0M145.4 190.9a2.7 2.7 0 1 0 5.4 0a2.7 2.7 0 1 0-5.4 0M145.7 172.3a2.7 2.7 0 1 0 5.4 0a2.7 2.7 0 1 0-5.4 0M146 194.8a2.7 2.7 0 1 0 5.4 0a2.7 2.7 0 1 0-5.4 0M146.3 195.5a2.7 2.7 0 1 0 5.4 0a2.7 2.7 0 1 0-5.4 0M146.6 174.2a2.7 2.7 0 1 0 5.4 0a2.7 2.7 0 1 0-5.4 0M146.9 186.4a2.7 2.7 0 1 0 5.4 0a2.7 2.7 0 1 0-5.4 0M147.3 168.9a2.7 2.7 0 1 0 5.4 0a2.7 2.7 0 1 0-5.4 0M147.6 182a2.7 2.7 0 1 0 5.4 0a2.7 2.7 0 1 0-5.4 0M147.9 188.5a2.7 2.7 0 1 0 5.4 0a2.7 2.7 0 1 0-5.4 0M148.2 163.9a2.7 2.7 0 1 0 5.4 0a2.7 2.7 0 1 0-5.4 0M148.5 191a2.7 2.7 0 1 0 5.4 0a2.7 2.7 0 1 0-5.4 0M148.8 188a2.7 2.7 0 1 0 5.4 0a2.7 2.7 0 1 0-5.4 0M149.1 187a2.7 2.7 0 1 0 5.4 0a2.7 2.7 0 1 0-5.4 0M149.4 181a2.7 2.7 0 1 0 5.4 0a2.7 2.7 0 1 0-5.4 0M149.7 169.7a2.7 2.7 0 1 0 5.4 0a2.7 2.7 0 1 0-5.4 0M150 210.2a2.7 2.7 0 1 0 5.4 0a2.7 2.7 0 1 0-5.4 0M150.3 185.1a2.7 2.7 0 1 0 5.4 0a2.7 2.7 0 1 0-5.4 0M150.6 160.4a2.7 2.7 0 1 0 5.4 0a2.7 2.7 0 1 0-5.4 0M151 186.2a2.7 2.7 0 1 0 5.4 0a2.7 2.7 0 1 0-5.4 0M151.3 172.7a2.7 2.7 0 1 0 5.4 0a2.7 2.7 0 1 0-5.4 0M151.6 179.4a2.7 2.7 0 1 0 5.4 0a2.7 2.7 0 1 0-5.4 0M151.9 195.3a2.7 2.7 0 1 0 5.4 0a2.7 2.7 0 1 0-5.4 0M152.2 200.7a2.7 2.7 0 1 0 5.4 0a2.7 2.7 0 1 0-5.4 0M152.5 177.9a2.7 2.7 0 1 0 5.4 0a2.7 2.7 0 1 0-5.4 0M152.8 175.2a2.7 2.7 0 1 0 5.4 0a2.7 2.7 0 1 0-5.4 0M153.1 209.3a2.7 2.7 0 1 0 5.4 0a2.7 2.7 0 1 0-5.4 0M153.4 192.4a2.7 2.7 0 1 0 5.4 0a2.7 2.7 0 1 0-5.4 0M153.7 198.4a2.7 2.7 0 1 0 5.4 0a2.7 2.7 0 1 0-5.4 0M154 203.9a2.7 2.7 0 1 0 5.4 0a2.7 2.7 0 1 0-5.4 0M154.3 202.2a2.7 2.7 0 1 0 5.4 0a2.7 2.7 0 1 0-5.4 0M154.6 179.2a2.7 2.7 0 1 0 5.4 0a2.7 2.7 0 1 0-5.4 0M155 182.5a2.7 2.7 0 1 0 5.4 0a2.7 2.7 0 1 0-5.4 0M155.3 203.8a2.7 2.7 0 1 0 5.4 0a2.7 2.7 0 1 0-5.4 0M155.6 197.5a2.7 2.7 0 1 0 5.4 0a2.7 2.7 0 1 0-5.4 0M155.9 182.3a2.7 2.7 0 1 0 5.4 0a2.7 2.7 0 1 0-5.4 0M156.2 186.5a2.7 2.7 0 1 0 5.4 0a2.7 2.7 0 1 0-5.4 0M156.5 192.8a2.7 2.7 0 1 0 5.4 0a2.7 2.7 0 1 0-5.4 0M156.8 174.9a2.7 2.7 0 1 0 5.4 0a2.7 2.7 0 1 0-5.4 0M157.1 179.1a2.7 2.7 0 1 0 5.4 0a2.7 2.7 0 1 0-5.4 0M157.4 185.6a2.7 2.7 0 1 0 5.4 0a2.7 2.7 0 1 0-5.4 0M157.7 176.9a2.7 2.7 0 1 0 5.4 0a2.7 2.7 0 1 0-5.4 0M158 195.6a2.7 2.7 0 1 0 5.4 0a2.7 2.7 0 1 0-5.4 0M158.3 186.4a2.7 2.7 0 1 0 5.4 0a2.7 2.7 0 1 0-5.4 0M158.7 184.3a2.7 2.7 0 1 0 5.4 0a2.7 2.7 0 1 0-5.4 0M159 185a2.7 2.7 0 1 0 5.4 0a2.7 2.7 0 1 0-5.4 0M159.3 200.7a2.7 2.7 0 1 0 5.4 0a2.7 2.7 0 1 0-5.4 0M159.6 207a2.7 2.7 0 1 0 5.4 0a2.7 2.7 0 1 0-5.4 0M159.9 196.7a2.7 2.7 0 1 0 5.4 0a2.7 2.7 0 1 0-5.4 0M160.2 157.3a2.7 2.7 0 1 0 5.4 0a2.7 2.7 0 1 0-5.4 0M160.5 171.5a2.7 2.7 0 1 0 5.4 0a2.7 2.7 0 1 0-5.4 0M160.8 192.6a2.7 2.7 0 1 0 5.4 0a2.7 2.7 0 1 0-5.4 0M161.1 204.5a2.7 2.7 0 1 0 5.4 0a2.7 2.7 0 1 0-5.4 0M161.4 182.4a2.7 2.7 0 1 0 5.4 0a2.7 2.7 0 1 0-5.4 0M161.7 198a2.7 2.7 0 1 0 5.4 0a2.7 2.7 0 1 0-5.4 0M162 171.3a2.7 2.7 0 1 0 5.4 0a2.7 2.7 0 1 0-5.4 0M162.4 182.8a2.7 2.7 0 1 0 5.4 0a2.7 2.7 0 1 0-5.4 0M162.7 188.8a2.7 2.7 0 1 0 5.4 0a2.7 2.7 0 1 0-5.4 0M163 188.6a2.7 2.7 0 1 0 5.4 0a2.7 2.7 0 1 0-5.4 0M163.3 181.4a2.7 2.7 0 1 0 5.4 0a2.7 2.7 0 1 0-5.4 0M163.6 175.8a2.7 2.7 0 1 0 5.4 0a2.7 2.7 0 1 0-5.4 0M163.9 195.7a2.7 2.7 0 1 0 5.4 0a2.7 2.7 0 1 0-5.4 0M164.2 183.1a2.7 2.7 0 1 0 5.4 0a2.7 2.7 0 1 0-5.4 0M164.5 196.4a2.7 2.7 0 1 0 5.4 0a2.7 2.7 0 1 0-5.4 0M164.8 200.7a2.7 2.7 0 1 0 5.4 0a2.7 2.7 0 1 0-5.4 0M165.1 224.4a2.7 2.7 0 1 0 5.4 0a2.7 2.7 0 1 0-5.4 0M165.4 175a2.7 2.7 0 1 0 5.4 0a2.7 2.7 0 1 0-5.4 0M165.7 207.3a2.7 2.7 0 1 0 5.4 0a2.7 2.7 0 1 0-5.4 0M166.1 182.3a2.7 2.7 0 1 0 5.4 0a2.7 2.7 0 1 0-5.4 0M166.4 197.3a2.7 2.7 0 1 0 5.4 0a2.7 2.7 0 1 0-5.4 0M166.7 181.2a2.7 2.7 0 1 0 5.4 0a2.7 2.7 0 1 0-5.4 0M167 205.7a2.7 2.7 0 1 0 5.4 0a2.7 2.7 0 1 0-5.4 0M167.3 185.7a2.7 2.7 0 1 0 5.4 0a2.7 2.7 0 1 0-5.4 0M167.6 201.9a2.7 2.7 0 1 0 5.4 0a2.7 2.7 0 1 0-5.4 0M167.9 168.5a2.7 2.7 0 1 0 5.4 0a2.7 2.7 0 1 0-5.4 0M168.2 169.1a2.7 2.7 0 1 0 5.4 0a2.7 2.7 0 1 0-5.4 0M168.5 176.7a2.7 2.7 0 1 0 5.4 0a2.7 2.7 0 1 0-5.4 0M168.8 192.8a2.7 2.7 0 1 0 5.4 0a2.7 2.7 0 1 0-5.4 0M169.1 205a2.7 2.7 0 1 0 5.4 0a2.7 2.7 0 1 0-5.4 0M169.4 194.8a2.7 2.7 0 1 0 5.4 0a2.7 2.7 0 1 0-5.4 0M169.7 173.3a2.7 2.7 0 1 0 5.4 0a2.7 2.7 0 1 0-5.4 0M170.1 186.8a2.7 2.7 0 1 0 5.4 0a2.7 2.7 0 1 0-5.4 0M170.4 206.1a2.7 2.7 0 1 0 5.4 0a2.7 2.7 0 1 0-5.4 0M170.7 187.2a2.7 2.7 0 1 0 5.4 0a2.7 2.7 0 1 0-5.4 0M171 199.5a2.7 2.7 0 1 0 5.4 0a2.7 2.7 0 1 0-5.4 0M171.3 189.8a2.7 2.7 0 1 0 5.4 0a2.7 2.7 0 1 0-5.4 0M171.6 172.1a2.7 2.7 0 1 0 5.4 0a2.7 2.7 0 1 0-5.4 0M171.9 170.7a2.7 2.7 0 1 0 5.4 0a2.7 2.7 0 1 0-5.4 0M172.2 173.9a2.7 2.7 0 1 0 5.4 0a2.7 2.7 0 1 0-5.4 0M172.5 179.6a2.7 2.7 0 1 0 5.4 0a2.7 2.7 0 1 0-5.4 0M172.8 157.5a2.7 2.7 0 1 0 5.4 0a2.7 2.7 0 1 0-5.4 0M173.1 200.4a2.7 2.7 0 1 0 5.4 0a2.7 2.7 0 1 0-5.4 0M173.4 194.8a2.7 2.7 0 1 0 5.4 0a2.7 2.7 0 1 0-5.4 0M173.8 189a2.7 2.7 0 1 0 5.4 0a2.7 2.7 0 1 0-5.4 0M174.1 178.2a2.7 2.7 0 1 0 5.4 0a2.7 2.7 0 1 0-5.4 0M174.4 192.2a2.7 2.7 0 1 0 5.4 0a2.7 2.7 0 1 0-5.4 0M174.7 190a2.7 2.7 0 1 0 5.4 0a2.7 2.7 0 1 0-5.4 0M175 189.2a2.7 2.7 0 1 0 5.4 0a2.7 2.7 0 1 0-5.4 0M175.3 192a2.7 2.7 0 1 0 5.4 0a2.7 2.7 0 1 0-5.4 0M175.6 181.4a2.7 2.7 0 1 0 5.4 0a2.7 2.7 0 1 0-5.4 0M175.9 185.4a2.7 2.7 0 1 0 5.4 0a2.7 2.7 0 1 0-5.4 0M176.2 158.2a2.7 2.7 0 1 0 5.4 0a2.7 2.7 0 1 0-5.4 0M176.5 213a2.7 2.7 0 1 0 5.4 0a2.7 2.7 0 1 0-5.4 0M176.8 188.3a2.7 2.7 0 1 0 5.4 0a2.7 2.7 0 1 0-5.4 0M177.1 166.3a2.7 2.7 0 1 0 5.4 0a2.7 2.7 0 1 0-5.4 0M177.5 209.2a2.7 2.7 0 1 0 5.4 0a2.7 2.7 0 1 0-5.4 0M177.8 182.3a2.7 2.7 0 1 0 5.4 0a2.7 2.7 0 1 0-5.4 0M178.1 168.4a2.7 2.7 0 1 0 5.4 0a2.7 2.7 0 1 0-5.4 0M178.4 179.9a2.7 2.7 0 1 0 5.4 0a2.7 2.7 0 1 0-5.4 0M178.7 182.9a2.7 2.7 0 1 0 5.4 0a2.7 2.7 0 1 0-5.4 0M179 158.1a2.7 2.7 0 1 0 5.4 0a2.7 2.7 0 1 0-5.4 0M179.3 202.3a2.7 2.7 0 1 0 5.4 0a2.7 2.7 0 1 0-5.4 0M179.6 190.7a2.7 2.7 0 1 0 5.4 0a2.7 2.7 0 1 0-5.4 0M179.9 191.3a2.7 2.7 0 1 0 5.4 0a2.7 2.7 0 1 0-5.4 0M180.2 221a2.7 2.7 0 1 0 5.4 0a2.7 2.7 0 1 0-5.4 0M180.5 172.4a2.7 2.7 0 1 0 5.4 0a2.7 2.7 0 1 0-5.4 0M180.8 165.3a2.7 2.7 0 1 0 5.4 0a2.7 2.7 0 1 0-5.4 0M181.2 174.7a2.7 2.7 0 1 0 5.4 0a2.7 2.7 0 1 0-5.4 0M181.5 201.1a2.7 2.7 0 1 0 5.4 0a2.7 2.7 0 1 0-5.4 0M181.8 182a2.7 2.7 0 1 0 5.4 0a2.7 2.7 0 1 0-5.4 0M182.1 180.2a2.7 2.7 0 1 0 5.4 0a2.7 2.7 0 1 0-5.4 0M182.4 176.9a2.7 2.7 0 1 0 5.4 0a2.7 2.7 0 1 0-5.4 0M182.7 193.4a2.7 2.7 0 1 0 5.4 0a2.7 2.7 0 1 0-5.4 0M183 186.1a2.7 2.7 0 1 0 5.4 0a2.7 2.7 0 1 0-5.4 0M183.3 190.8a2.7 2.7 0 1 0 5.4 0a2.7 2.7 0 1 0-5.4 0M183.6 198.8a2.7 2.7 0 1 0 5.4 0a2.7 2.7 0 1 0-5.4 0M183.9 187.2a2.7 2.7 0 1 0 5.4 0a2.7 2.7 0 1 0-5.4 0M184.2 201.7a2.7 2.7 0 1 0 5.4 0a2.7 2.7 0 1 0-5.4 0M184.5 193.6a2.7 2.7 0 1 0 5.4 0a2.7 2.7 0 1 0-5.4 0M184.9 192.7a2.7 2.7 0 1 0 5.4 0a2.7 2.7 0 1 0-5.4 0M185.2 185.3a2.7 2.7 0 1 0 5.4 0a2.7 2.7 0 1 0-5.4 0M185.5 185.4a2.7 2.7 0 1 0 5.4 0a2.7 2.7 0 1 0-5.4 0M185.8 195.6a2.7 2.7 0 1 0 5.4 0a2.7 2.7 0 1 0-5.4 0M186.1 204.1a2.7 2.7 0 1 0 5.4 0a2.7 2.7 0 1 0-5.4 0M186.4 189.8a2.7 2.7 0 1 0 5.4 0a2.7 2.7 0 1 0-5.4 0M186.7 190.7a2.7 2.7 0 1 0 5.4 0a2.7 2.7 0 1 0-5.4 0M187 182.9a2.7 2.7 0 1 0 5.4 0a2.7 2.7 0 1 0-5.4 0M187.3 219a2.7 2.7 0 1 0 5.4 0a2.7 2.7 0 1 0-5.4 0M187.6 162.7a2.7 2.7 0 1 0 5.4 0a2.7 2.7 0 1 0-5.4 0M187.9 189.5a2.7 2.7 0 1 0 5.4 0a2.7 2.7 0 1 0-5.4 0M188.2 186.5a2.7 2.7 0 1 0 5.4 0a2.7 2.7 0 1 0-5.4 0M188.5 186.1a2.7 2.7 0 1 0 5.4 0a2.7 2.7 0 1 0-5.4 0M188.9 202.6a2.7 2.7 0 1 0 5.4 0a2.7 2.7 0 1 0-5.4 0M189.2 200.2a2.7 2.7 0 1 0 5.4 0a2.7 2.7 0 1 0-5.4 0M189.5 190.7a2.7 2.7 0 1 0 5.4 0a2.7 2.7 0 1 0-5.4 0M189.8 187.3a2.7 2.7 0 1 0 5.4 0a2.7 2.7 0 1 0-5.4 0M190.1 180.9a2.7 2.7 0 1 0 5.4 0a2.7 2.7 0 1 0-5.4 0M190.4 184.7a2.7 2.7 0 1 0 5.4 0a2.7 2.7 0 1 0-5.4 0M190.7 208a2.7 2.7 0 1 0 5.4 0a2.7 2.7 0 1 0-5.4 0M191 173.8a2.7 2.7 0 1 0 5.4 0a2.7 2.7 0 1 0-5.4 0M191.3 195.5a2.7 2.7 0 1 0 5.4 0a2.7 2.7 0 1 0-5.4 0M191.6 170.2a2.7 2.7 0 1 0 5.4 0a2.7 2.7 0 1 0-5.4 0M191.9 186a2.7 2.7 0 1 0 5.4 0a2.7 2.7 0 1 0-5.4 0M192.2 175a2.7 2.7 0 1 0 5.4 0a2.7 2.7 0 1 0-5.4 0M192.6 175.7a2.7 2.7 0 1 0 5.4 0a2.7 2.7 0 1 0-5.4 0M192.9 182.8a2.7 2.7 0 1 0 5.4 0a2.7 2.7 0 1 0-5.4 0M193.2 186.7a2.7 2.7 0 1 0 5.4 0a2.7 2.7 0 1 0-5.4 0M193.5 174a2.7 2.7 0 1 0 5.4 0a2.7 2.7 0 1 0-5.4 0M193.8 187.5a2.7 2.7 0 1 0 5.4 0a2.7 2.7 0 1 0-5.4 0M194.1 178a2.7 2.7 0 1 0 5.4 0a2.7 2.7 0 1 0-5.4 0M194.4 184.5a2.7 2.7 0 1 0 5.4 0a2.7 2.7 0 1 0-5.4 0M194.7 157.3a2.7 2.7 0 1 0 5.4 0a2.7 2.7 0 1 0-5.4 0M195 185.3a2.7 2.7 0 1 0 5.4 0a2.7 2.7 0 1 0-5.4 0M195.3 196.3a2.7 2.7 0 1 0 5.4 0a2.7 2.7 0 1 0-5.4 0M195.6 180.2a2.7 2.7 0 1 0 5.4 0a2.7 2.7 0 1 0-5.4 0M195.9 198.1a2.7 2.7 0 1 0 5.4 0a2.7 2.7 0 1 0-5.4 0M196.3 186.4a2.7 2.7 0 1 0 5.4 0a2.7 2.7 0 1 0-5.4 0M196.6 197.6a2.7 2.7 0 1 0 5.4 0a2.7 2.7 0 1 0-5.4 0M196.9 181.3a2.7 2.7 0 1 0 5.4 0a2.7 2.7 0 1 0-5.4 0M197.2 174.4a2.7 2.7 0 1 0 5.4 0a2.7 2.7 0 1 0-5.4 0M197.5 176.4a2.7 2.7 0 1 0 5.4 0a2.7 2.7 0 1 0-5.4 0M197.8 177.4a2.7 2.7 0 1 0 5.4 0a2.7 2.7 0 1 0-5.4 0M198.1 186.2a2.7 2.7 0 1 0 5.4 0a2.7 2.7 0 1 0-5.4 0M198.4 197.6a2.7 2.7 0 1 0 5.4 0a2.7 2.7 0 1 0-5.4 0M198.7 185.6a2.7 2.7 0 1 0 5.4 0a2.7 2.7 0 1 0-5.4 0M199 176.9a2.7 2.7 0 1 0 5.4 0a2.7 2.7 0 1 0-5.4 0M199.3 176.7a2.7 2.7 0 1 0 5.4 0a2.7 2.7 0 1 0-5.4 0M199.6 181.4a2.7 2.7 0 1 0 5.4 0a2.7 2.7 0 1 0-5.4 0M200 187.9a2.7 2.7 0 1 0 5.4 0a2.7 2.7 0 1 0-5.4 0M200.3 161.2a2.7 2.7 0 1 0 5.4 0a2.7 2.7 0 1 0-5.4 0M200.6 186a2.7 2.7 0 1 0 5.4 0a2.7 2.7 0 1 0-5.4 0M200.9 179.3a2.7 2.7 0 1 0 5.4 0a2.7 2.7 0 1 0-5.4 0M201.2 177.9a2.7 2.7 0 1 0 5.4 0a2.7 2.7 0 1 0-5.4 0M201.5 187.7a2.7 2.7 0 1 0 5.4 0a2.7 2.7 0 1 0-5.4 0M201.8 173.1a2.7 2.7 0 1 0 5.4 0a2.7 2.7 0 1 0-5.4 0M202.1 189.1a2.7 2.7 0 1 0 5.4 0a2.7 2.7 0 1 0-5.4 0M202.4 188.8a2.7 2.7 0 1 0 5.4 0a2.7 2.7 0 1 0-5.4 0M202.7 189.3a2.7 2.7 0 1 0 5.4 0a2.7 2.7 0 1 0-5.4 0M203 202.7a2.7 2.7 0 1 0 5.4 0a2.7 2.7 0 1 0-5.4 0M203.3 176.4a2.7 2.7 0 1 0 5.4 0a2.7 2.7 0 1 0-5.4 0M203.6 188.2a2.7 2.7 0 1 0 5.4 0a2.7 2.7 0 1 0-5.4 0M204 180a2.7 2.7 0 1 0 5.4 0a2.7 2.7 0 1 0-5.4 0M204.3 213.3a2.7 2.7 0 1 0 5.4 0a2.7 2.7 0 1 0-5.4 0M204.6 176.1a2.7 2.7 0 1 0 5.4 0a2.7 2.7 0 1 0-5.4 0M204.9 199a2.7 2.7 0 1 0 5.4 0a2.7 2.7 0 1 0-5.4 0M205.2 219.5a2.7 2.7 0 1 0 5.4 0a2.7 2.7 0 1 0-5.4 0M205.5 182.8a2.7 2.7 0 1 0 5.4 0a2.7 2.7 0 1 0-5.4 0M205.8 210.6a2.7 2.7 0 1 0 5.4 0a2.7 2.7 0 1 0-5.4 0M206.1 191.8a2.7 2.7 0 1 0 5.4 0a2.7 2.7 0 1 0-5.4 0M206.4 180.9a2.7 2.7 0 1 0 5.4 0a2.7 2.7 0 1 0-5.4 0M206.7 183.9a2.7 2.7 0 1 0 5.4 0a2.7 2.7 0 1 0-5.4 0M207 193.9a2.7 2.7 0 1 0 5.4 0a2.7 2.7 0 1 0-5.4 0M207.3 188.8a2.7 2.7 0 1 0 5.4 0a2.7 2.7 0 1 0-5.4 0M207.7 185.1a2.7 2.7 0 1 0 5.4 0a2.7 2.7 0 1 0-5.4 0M208 193.5a2.7 2.7 0 1 0 5.4 0a2.7 2.7 0 1 0-5.4 0M208.3 178.4a2.7 2.7 0 1 0 5.4 0a2.7 2.7 0 1 0-5.4 0M208.6 163.9a2.7 2.7 0 1 0 5.4 0a2.7 2.7 0 1 0-5.4 0M208.9 162.9a2.7 2.7 0 1 0 5.4 0a2.7 2.7 0 1 0-5.4 0M209.2 191.8a2.7 2.7 0 1 0 5.4 0a2.7 2.7 0 1 0-5.4 0M209.5 194a2.7 2.7 0 1 0 5.4 0a2.7 2.7 0 1 0-5.4 0M209.8 178.6a2.7 2.7 0 1 0 5.4 0a2.7 2.7 0 1 0-5.4 0M210.1 194.3a2.7 2.7 0 1 0 5.4 0a2.7 2.7 0 1 0-5.4 0M210.4 202.8a2.7 2.7 0 1 0 5.4 0a2.7 2.7 0 1 0-5.4 0M210.7 185.2a2.7 2.7 0 1 0 5.4 0a2.7 2.7 0 1 0-5.4 0M211 185.7a2.7 2.7 0 1 0 5.4 0a2.7 2.7 0 1 0-5.4 0M211.4 179a2.7 2.7 0 1 0 5.4 0a2.7 2.7 0 1 0-5.4 0M211.7 192.2a2.7 2.7 0 1 0 5.4 0a2.7 2.7 0 1 0-5.4 0M212 177.8a2.7 2.7 0 1 0 5.4 0a2.7 2.7 0 1 0-5.4 0M212.3 178.9a2.7 2.7 0 1 0 5.4 0a2.7 2.7 0 1 0-5.4 0M212.6 177.1a2.7 2.7 0 1 0 5.4 0a2.7 2.7 0 1 0-5.4 0M212.9 186.9a2.7 2.7 0 1 0 5.4 0a2.7 2.7 0 1 0-5.4 0M213.2 168.6a2.7 2.7 0 1 0 5.4 0a2.7 2.7 0 1 0-5.4 0M213.5 194.2a2.7 2.7 0 1 0 5.4 0a2.7 2.7 0 1 0-5.4 0M213.8 210.9a2.7 2.7 0 1 0 5.4 0a2.7 2.7 0 1 0-5.4 0M214.1 205.4a2.7 2.7 0 1 0 5.4 0a2.7 2.7 0 1 0-5.4 0M214.4 203.7a2.7 2.7 0 1 0 5.4 0a2.7 2.7 0 1 0-5.4 0M214.7 194.5a2.7 2.7 0 1 0 5.4 0a2.7 2.7 0 1 0-5.4 0M215.1 179a2.7 2.7 0 1 0 5.4 0a2.7 2.7 0 1 0-5.4 0M215.4 228.6a2.7 2.7 0 1 0 5.4 0a2.7 2.7 0 1 0-5.4 0M215.7 209.9a2.7 2.7 0 1 0 5.4 0a2.7 2.7 0 1 0-5.4 0M216 187.1a2.7 2.7 0 1 0 5.4 0a2.7 2.7 0 1 0-5.4 0M216.3 206.7a2.7 2.7 0 1 0 5.4 0a2.7 2.7 0 1 0-5.4 0M216.6 193.3a2.7 2.7 0 1 0 5.4 0a2.7 2.7 0 1 0-5.4 0M216.9 172.6a2.7 2.7 0 1 0 5.4 0a2.7 2.7 0 1 0-5.4 0M217.2 204.5a2.7 2.7 0 1 0 5.4 0a2.7 2.7 0 1 0-5.4 0M217.5 198.5a2.7 2.7 0 1 0 5.4 0a2.7 2.7 0 1 0-5.4 0M217.8 179a2.7 2.7 0 1 0 5.4 0a2.7 2.7 0 1 0-5.4 0M218.1 177a2.7 2.7 0 1 0 5.4 0a2.7 2.7 0 1 0-5.4 0M218.4 185.9a2.7 2.7 0 1 0 5.4 0a2.7 2.7 0 1 0-5.4 0M218.8 164.2a2.7 2.7 0 1 0 5.4 0a2.7 2.7 0 1 0-5.4 0M219.1 169a2.7 2.7 0 1 0 5.4 0a2.7 2.7 0 1 0-5.4 0M219.4 184.3a2.7 2.7 0 1 0 5.4 0a2.7 2.7 0 1 0-5.4 0M219.7 195.8a2.7 2.7 0 1 0 5.4 0a2.7 2.7 0 1 0-5.4 0M220 197.4a2.7 2.7 0 1 0 5.4 0a2.7 2.7 0 1 0-5.4 0M220.3 170.7a2.7 2.7 0 1 0 5.4 0a2.7 2.7 0 1 0-5.4 0M220.6 188.6a2.7 2.7 0 1 0 5.4 0a2.7 2.7 0 1 0-5.4 0M220.9 187a2.7 2.7 0 1 0 5.4 0a2.7 2.7 0 1 0-5.4 0M221.2 198.9a2.7 2.7 0 1 0 5.4 0a2.7 2.7 0 1 0-5.4 0M221.5 200.9a2.7 2.7 0 1 0 5.4 0a2.7 2.7 0 1 0-5.4 0M221.8 174.7a2.7 2.7 0 1 0 5.4 0a2.7 2.7 0 1 0-5.4 0M222.1 178.2a2.7 2.7 0 1 0 5.4 0a2.7 2.7 0 1 0-5.4 0M222.4 187.6a2.7 2.7 0 1 0 5.4 0a2.7 2.7 0 1 0-5.4 0M222.8 204.9a2.7 2.7 0 1 0 5.4 0a2.7 2.7 0 1 0-5.4 0M223.1 183.9a2.7 2.7 0 1 0 5.4 0a2.7 2.7 0 1 0-5.4 0M223.4 202.3a2.7 2.7 0 1 0 5.4 0a2.7 2.7 0 1 0-5.4 0M223.7 187.3a2.7 2.7 0 1 0 5.4 0a2.7 2.7 0 1 0-5.4 0M224 197.5a2.7 2.7 0 1 0 5.4 0a2.7 2.7 0 1 0-5.4 0M224.3 205.4a2.7 2.7 0 1 0 5.4 0a2.7 2.7 0 1 0-5.4 0M224.6 186.5a2.7 2.7 0 1 0 5.4 0a2.7 2.7 0 1 0-5.4 0M224.9 186.5a2.7 2.7 0 1 0 5.4 0a2.7 2.7 0 1 0-5.4 0M225.2 194.8a2.7 2.7 0 1 0 5.4 0a2.7 2.7 0 1 0-5.4 0M225.5 163.1a2.7 2.7 0 1 0 5.4 0a2.7 2.7 0 1 0-5.4 0M225.8 200a2.7 2.7 0 1 0 5.4 0a2.7 2.7 0 1 0-5.4 0M226.1 192.9a2.7 2.7 0 1 0 5.4 0a2.7 2.7 0 1 0-5.4 0M226.5 184.9a2.7 2.7 0 1 0 5.4 0a2.7 2.7 0 1 0-5.4 0M226.8 213.4a2.7 2.7 0 1 0 5.4 0a2.7 2.7 0 1 0-5.4 0M227.1 172.9a2.7 2.7 0 1 0 5.4 0a2.7 2.7 0 1 0-5.4 0M227.4 171.2a2.7 2.7 0 1 0 5.4 0a2.7 2.7 0 1 0-5.4 0M227.7 175.5a2.7 2.7 0 1 0 5.4 0a2.7 2.7 0 1 0-5.4 0M228 184.7a2.7 2.7 0 1 0 5.4 0a2.7 2.7 0 1 0-5.4 0M228.3 222a2.7 2.7 0 1 0 5.4 0a2.7 2.7 0 1 0-5.4 0M228.6 194.6a2.7 2.7 0 1 0 5.4 0a2.7 2.7 0 1 0-5.4 0M228.9 193.6a2.7 2.7 0 1 0 5.4 0a2.7 2.7 0 1 0-5.4 0M229.2 176.2a2.7 2.7 0 1 0 5.4 0a2.7 2.7 0 1 0-5.4 0M229.5 172.9a2.7 2.7 0 1 0 5.4 0a2.7 2.7 0 1 0-5.4 0M229.8 193a2.7 2.7 0 1 0 5.4 0a2.7 2.7 0 1 0-5.4 0M230.2 172.4a2.7 2.7 0 1 0 5.4 0a2.7 2.7 0 1 0-5.4 0M230.5 180.6a2.7 2.7 0 1 0 5.4 0a2.7 2.7 0 1 0-5.4 0M230.8 177.7a2.7 2.7 0 1 0 5.4 0a2.7 2.7 0 1 0-5.4 0M231.1 194.4a2.7 2.7 0 1 0 5.4 0a2.7 2.7 0 1 0-5.4 0M231.4 190.4a2.7 2.7 0 1 0 5.4 0a2.7 2.7 0 1 0-5.4 0M231.7 182.8a2.7 2.7 0 1 0 5.4 0a2.7 2.7 0 1 0-5.4 0M232 179.7a2.7 2.7 0 1 0 5.4 0a2.7 2.7 0 1 0-5.4 0M232.3 176.8a2.7 2.7 0 1 0 5.4 0a2.7 2.7 0 1 0-5.4 0M232.6 173.7a2.7 2.7 0 1 0 5.4 0a2.7 2.7 0 1 0-5.4 0M232.9 187.2a2.7 2.7 0 1 0 5.4 0a2.7 2.7 0 1 0-5.4 0M233.2 180.4a2.7 2.7 0 1 0 5.4 0a2.7 2.7 0 1 0-5.4 0M233.5 191.6a2.7 2.7 0 1 0 5.4 0a2.7 2.7 0 1 0-5.4 0M233.9 207.8a2.7 2.7 0 1 0 5.4 0a2.7 2.7 0 1 0-5.4 0M234.2 196.1a2.7 2.7 0 1 0 5.4 0a2.7 2.7 0 1 0-5.4 0M234.5 191.2a2.7 2.7 0 1 0 5.4 0a2.7 2.7 0 1 0-5.4 0M234.8 216a2.7 2.7 0 1 0 5.4 0a2.7 2.7 0 1 0-5.4 0M235.1 210.1a2.7 2.7 0 1 0 5.4 0a2.7 2.7 0 1 0-5.4 0M235.4 176.4a2.7 2.7 0 1 0 5.4 0a2.7 2.7 0 1 0-5.4 0M235.7 188.7a2.7 2.7 0 1 0 5.4 0a2.7 2.7 0 1 0-5.4 0M236 160.7a2.7 2.7 0 1 0 5.4 0a2.7 2.7 0 1 0-5.4 0M236.3 209.6a2.7 2.7 0 1 0 5.4 0a2.7 2.7 0 1 0-5.4 0M236.6 215.1a2.7 2.7 0 1 0 5.4 0a2.7 2.7 0 1 0-5.4 0M236.9 164.9a2.7 2.7 0 1 0 5.4 0a2.7 2.7 0 1 0-5.4 0M237.2 187.6a2.7 2.7 0 1 0 5.4 0a2.7 2.7 0 1 0-5.4 0M237.5 202.6a2.7 2.7 0 1 0 5.4 0a2.7 2.7 0 1 0-5.4 0M237.9 199.4a2.7 2.7 0 1 0 5.4 0a2.7 2.7 0 1 0-5.4 0M238.2 194a2.7 2.7 0 1 0 5.4 0a2.7 2.7 0 1 0-5.4 0M238.5 179.3a2.7 2.7 0 1 0 5.4 0a2.7 2.7 0 1 0-5.4 0M238.8 185.1a2.7 2.7 0 1 0 5.4 0a2.7 2.7 0 1 0-5.4 0M239.1 199.1a2.7 2.7 0 1 0 5.4 0a2.7 2.7 0 1 0-5.4 0M239.4 198.5a2.7 2.7 0 1 0 5.4 0a2.7 2.7 0 1 0-5.4 0M239.7 183.8a2.7 2.7 0 1 0 5.4 0a2.7 2.7 0 1 0-5.4 0M240 181.7a2.7 2.7 0 1 0 5.4 0a2.7 2.7 0 1 0-5.4 0M240.3 200.3a2.7 2.7 0 1 0 5.4 0a2.7 2.7 0 1 0-5.4 0M240.6 202.2a2.7 2.7 0 1 0 5.4 0a2.7 2.7 0 1 0-5.4 0M240.9 183.1a2.7 2.7 0 1 0 5.4 0a2.7 2.7 0 1 0-5.4 0M241.2 163.7a2.7 2.7 0 1 0 5.4 0a2.7 2.7 0 1 0-5.4 0M241.6 179.7a2.7 2.7 0 1 0 5.4 0a2.7 2.7 0 1 0-5.4 0M241.9 181.8a2.7 2.7 0 1 0 5.4 0a2.7 2.7 0 1 0-5.4 0M242.2 180.1a2.7 2.7 0 1 0 5.4 0a2.7 2.7 0 1 0-5.4 0M242.5 199.6a2.7 2.7 0 1 0 5.4 0a2.7 2.7 0 1 0-5.4 0M242.8 170.2a2.7 2.7 0 1 0 5.4 0a2.7 2.7 0 1 0-5.4 0M243.1 175.4a2.7 2.7 0 1 0 5.4 0a2.7 2.7 0 1 0-5.4 0M243.4 167.8a2.7 2.7 0 1 0 5.4 0a2.7 2.7 0 1 0-5.4 0M243.7 198.1a2.7 2.7 0 1 0 5.4 0a2.7 2.7 0 1 0-5.4 0M244 191.7a2.7 2.7 0 1 0 5.4 0a2.7 2.7 0 1 0-5.4 0M244.3 188.3a2.7 2.7 0 1 0 5.4 0a2.7 2.7 0 1 0-5.4 0M244.6 216.1a2.7 2.7 0 1 0 5.4 0a2.7 2.7 0 1 0-5.4 0M244.9 171a2.7 2.7 0 1 0 5.4 0a2.7 2.7 0 1 0-5.4 0M245.3 180.3a2.7 2.7 0 1 0 5.4 0a2.7 2.7 0 1 0-5.4 0M245.6 192.2a2.7 2.7 0 1 0 5.4 0a2.7 2.7 0 1 0-5.4 0M245.9 182.7a2.7 2.7 0 1 0 5.4 0a2.7 2.7 0 1 0-5.4 0M246.2 167.1a2.7 2.7 0 1 0 5.4 0a2.7 2.7 0 1 0-5.4 0M246.5 202.4a2.7 2.7 0 1 0 5.4 0a2.7 2.7 0 1 0-5.4 0M246.8 185.9a2.7 2.7 0 1 0 5.4 0a2.7 2.7 0 1 0-5.4 0M247.1 193a2.7 2.7 0 1 0 5.4 0a2.7 2.7 0 1 0-5.4 0M247.4 185.8a2.7 2.7 0 1 0 5.4 0a2.7 2.7 0 1 0-5.4 0M247.7 194.8a2.7 2.7 0 1 0 5.4 0a2.7 2.7 0 1 0-5.4 0M248 174.5a2.7 2.7 0 1 0 5.4 0a2.7 2.7 0 1 0-5.4 0M248.3 189a2.7 2.7 0 1 0 5.4 0a2.7 2.7 0 1 0-5.4 0M248.6 200.3a2.7 2.7 0 1 0 5.4 0a2.7 2.7 0 1 0-5.4 0M249 177.5a2.7 2.7 0 1 0 5.4 0a2.7 2.7 0 1 0-5.4 0M249.3 204.3a2.7 2.7 0 1 0 5.4 0a2.7 2.7 0 1 0-5.4 0M249.6 213.5a2.7 2.7 0 1 0 5.4 0a2.7 2.7 0 1 0-5.4 0M249.9 204.8a2.7 2.7 0 1 0 5.4 0a2.7 2.7 0 1 0-5.4 0M250.2 203.1a2.7 2.7 0 1 0 5.4 0a2.7 2.7 0 1 0-5.4 0M250.5 188.1a2.7 2.7 0 1 0 5.4 0a2.7 2.7 0 1 0-5.4 0M250.8 181.7a2.7 2.7 0 1 0 5.4 0a2.7 2.7 0 1 0-5.4 0M251.1 182a2.7 2.7 0 1 0 5.4 0a2.7 2.7 0 1 0-5.4 0M251.4 212.2a2.7 2.7 0 1 0 5.4 0a2.7 2.7 0 1 0-5.4 0M251.7 203a2.7 2.7 0 1 0 5.4 0a2.7 2.7 0 1 0-5.4 0M252 184.9a2.7 2.7 0 1 0 5.4 0a2.7 2.7 0 1 0-5.4 0M252.3 188.4a2.7 2.7 0 1 0 5.4 0a2.7 2.7 0 1 0-5.4 0M252.7 161.3a2.7 2.7 0 1 0 5.4 0a2.7 2.7 0 1 0-5.4 0M253 182.8a2.7 2.7 0 1 0 5.4 0a2.7 2.7 0 1 0-5.4 0M253.3 211.2a2.7 2.7 0 1 0 5.4 0a2.7 2.7 0 1 0-5.4 0M253.6 188.5a2.7 2.7 0 1 0 5.4 0a2.7 2.7 0 1 0-5.4 0M253.9 193a2.7 2.7 0 1 0 5.4 0a2.7 2.7 0 1 0-5.4 0M254.2 202.2a2.7 2.7 0 1 0 5.4 0a2.7 2.7 0 1 0-5.4 0M254.5 188.9a2.7 2.7 0 1 0 5.4 0a2.7 2.7 0 1 0-5.4 0M254.8 188.8a2.7 2.7 0 1 0 5.4 0a2.7 2.7 0 1 0-5.4 0M255.1 181a2.7 2.7 0 1 0 5.4 0a2.7 2.7 0 1 0-5.4 0M255.4 195.6a2.7 2.7 0 1 0 5.4 0a2.7 2.7 0 1 0-5.4 0M255.7 197.2a2.7 2.7 0 1 0 5.4 0a2.7 2.7 0 1 0-5.4 0M256 182.6a2.7 2.7 0 1 0 5.4 0a2.7 2.7 0 1 0-5.4 0M256.3 171.8a2.7 2.7 0 1 0 5.4 0a2.7 2.7 0 1 0-5.4 0M256.7 211.7a2.7 2.7 0 1 0 5.4 0a2.7 2.7 0 1 0-5.4 0M257 174.5a2.7 2.7 0 1 0 5.4 0a2.7 2.7 0 1 0-5.4 0M257.3 184.5a2.7 2.7 0 1 0 5.4 0a2.7 2.7 0 1 0-5.4 0M257.6 167.1a2.7 2.7 0 1 0 5.4 0a2.7 2.7 0 1 0-5.4 0M257.9 187.1a2.7 2.7 0 1 0 5.4 0a2.7 2.7 0 1 0-5.4 0M258.2 219a2.7 2.7 0 1 0 5.4 0a2.7 2.7 0 1 0-5.4 0M258.5 173.7a2.7 2.7 0 1 0 5.4 0a2.7 2.7 0 1 0-5.4 0M258.8 179.8a2.7 2.7 0 1 0 5.4 0a2.7 2.7 0 1 0-5.4 0M259.1 191.1a2.7 2.7 0 1 0 5.4 0a2.7 2.7 0 1 0-5.4 0M259.4 178.3a2.7 2.7 0 1 0 5.4 0a2.7 2.7 0 1 0-5.4 0M259.7 192.7a2.7 2.7 0 1 0 5.4 0a2.7 2.7 0 1 0-5.4 0M260 187a2.7 2.7 0 1 0 5.4 0a2.7 2.7 0 1 0-5.4 0M260.4 184.5a2.7 2.7 0 1 0 5.4 0a2.7 2.7 0 1 0-5.4 0M260.7 197a2.7 2.7 0 1 0 5.4 0a2.7 2.7 0 1 0-5.4 0M261 193a2.7 2.7 0 1 0 5.4 0a2.7 2.7 0 1 0-5.4 0M261.3 202.9a2.7 2.7 0 1 0 5.4 0a2.7 2.7 0 1 0-5.4 0M261.6 179.1a2.7 2.7 0 1 0 5.4 0a2.7 2.7 0 1 0-5.4 0M261.9 190.8a2.7 2.7 0 1 0 5.4 0a2.7 2.7 0 1 0-5.4 0M262.2 191.8a2.7 2.7 0 1 0 5.4 0a2.7 2.7 0 1 0-5.4 0M262.5 188.1a2.7 2.7 0 1 0 5.4 0a2.7 2.7 0 1 0-5.4 0M262.8 203.8a2.7 2.7 0 1 0 5.4 0a2.7 2.7 0 1 0-5.4 0M263.1 197.5a2.7 2.7 0 1 0 5.4 0a2.7 2.7 0 1 0-5.4 0M263.4 177.6a2.7 2.7 0 1 0 5.4 0a2.7 2.7 0 1 0-5.4 0M263.7 200.7a2.7 2.7 0 1 0 5.4 0a2.7 2.7 0 1 0-5.4 0M264.1 205.5a2.7 2.7 0 1 0 5.4 0a2.7 2.7 0 1 0-5.4 0M264.4 168.6a2.7 2.7 0 1 0 5.4 0a2.7 2.7 0 1 0-5.4 0M264.7 169.8a2.7 2.7 0 1 0 5.4 0a2.7 2.7 0 1 0-5.4 0M265 187.3a2.7 2.7 0 1 0 5.4 0a2.7 2.7 0 1 0-5.4 0M265.3 176.8a2.7 2.7 0 1 0 5.4 0a2.7 2.7 0 1 0-5.4 0M265.6 180.4a2.7 2.7 0 1 0 5.4 0a2.7 2.7 0 1 0-5.4 0M265.9 201.1a2.7 2.7 0 1 0 5.4 0a2.7 2.7 0 1 0-5.4 0M266.2 187.7a2.7 2.7 0 1 0 5.4 0a2.7 2.7 0 1 0-5.4 0M266.5 195.1a2.7 2.7 0 1 0 5.4 0a2.7 2.7 0 1 0-5.4 0M266.8 181.8a2.7 2.7 0 1 0 5.4 0a2.7 2.7 0 1 0-5.4 0M267.1 175.1a2.7 2.7 0 1 0 5.4 0a2.7 2.7 0 1 0-5.4 0M267.4 181.7a2.7 2.7 0 1 0 5.4 0a2.7 2.7 0 1 0-5.4 0M267.8 198.2a2.7 2.7 0 1 0 5.4 0a2.7 2.7 0 1 0-5.4 0M268.1 183.2a2.7 2.7 0 1 0 5.4 0a2.7 2.7 0 1 0-5.4 0M268.4 220a2.7 2.7 0 1 0 5.4 0a2.7 2.7 0 1 0-5.4 0M268.7 181a2.7 2.7 0 1 0 5.4 0a2.7 2.7 0 1 0-5.4 0M269 185.2a2.7 2.7 0 1 0 5.4 0a2.7 2.7 0 1 0-5.4 0M269.3 188.4a2.7 2.7 0 1 0 5.4 0a2.7 2.7 0 1 0-5.4 0M269.6 171.8a2.7 2.7 0 1 0 5.4 0a2.7 2.7 0 1 0-5.4 0M269.9 160.7a2.7 2.7 0 1 0 5.4 0a2.7 2.7 0 1 0-5.4 0M270.2 187.9a2.7 2.7 0 1 0 5.4 0a2.7 2.7 0 1 0-5.4 0M270.5 212.5a2.7 2.7 0 1 0 5.4 0a2.7 2.7 0 1 0-5.4 0M270.8 173.9a2.7 2.7 0 1 0 5.4 0a2.7 2.7 0 1 0-5.4 0M271.1 183.7a2.7 2.7 0 1 0 5.4 0a2.7 2.7 0 1 0-5.4 0M271.4 189a2.7 2.7 0 1 0 5.4 0a2.7 2.7 0 1 0-5.4 0M271.8 199.2a2.7 2.7 0 1 0 5.4 0a2.7 2.7 0 1 0-5.4 0M272.1 182.5a2.7 2.7 0 1 0 5.4 0a2.7 2.7 0 1 0-5.4 0M272.4 174.1a2.7 2.7 0 1 0 5.4 0a2.7 2.7 0 1 0-5.4 0M272.7 209.5a2.7 2.7 0 1 0 5.4 0a2.7 2.7 0 1 0-5.4 0M273 187.1a2.7 2.7 0 1 0 5.4 0a2.7 2.7 0 1 0-5.4 0M273.3 183a2.7 2.7 0 1 0 5.4 0a2.7 2.7 0 1 0-5.4 0M273.6 193.5a2.7 2.7 0 1 0 5.4 0a2.7 2.7 0 1 0-5.4 0M273.9 198a2.7 2.7 0 1 0 5.4 0a2.7 2.7 0 1 0-5.4 0M274.2 164.6a2.7 2.7 0 1 0 5.4 0a2.7 2.7 0 1 0-5.4 0M274.5 198.8a2.7 2.7 0 1 0 5.4 0a2.7 2.7 0 1 0-5.4 0M274.8 172.8a2.7 2.7 0 1 0 5.4 0a2.7 2.7 0 1 0-5.4 0M275.1 178.5a2.7 2.7 0 1 0 5.4 0a2.7 2.7 0 1 0-5.4 0M275.5 207.7a2.7 2.7 0 1 0 5.4 0a2.7 2.7 0 1 0-5.4 0M275.8 172.4a2.7 2.7 0 1 0 5.4 0a2.7 2.7 0 1 0-5.4 0M276.1 228.6a2.7 2.7 0 1 0 5.4 0a2.7 2.7 0 1 0-5.4 0M276.4 169.1a2.7 2.7 0 1 0 5.4 0a2.7 2.7 0 1 0-5.4 0M276.7 179.3a2.7 2.7 0 1 0 5.4 0a2.7 2.7 0 1 0-5.4 0M277 200.5a2.7 2.7 0 1 0 5.4 0a2.7 2.7 0 1 0-5.4 0M277.3 192a2.7 2.7 0 1 0 5.4 0a2.7 2.7 0 1 0-5.4 0M277.6 190.4a2.7 2.7 0 1 0 5.4 0a2.7 2.7 0 1 0-5.4 0M277.9 207.6a2.7 2.7 0 1 0 5.4 0a2.7 2.7 0 1 0-5.4 0M278.2 184.8a2.7 2.7 0 1 0 5.4 0a2.7 2.7 0 1 0-5.4 0M278.5 181.4a2.7 2.7 0 1 0 5.4 0a2.7 2.7 0 1 0-5.4 0M278.8 188.5a2.7 2.7 0 1 0 5.4 0a2.7 2.7 0 1 0-5.4 0M279.2 192.9a2.7 2.7 0 1 0 5.4 0a2.7 2.7 0 1 0-5.4 0M279.5 191a2.7 2.7 0 1 0 5.4 0a2.7 2.7 0 1 0-5.4 0M279.8 186.2a2.7 2.7 0 1 0 5.4 0a2.7 2.7 0 1 0-5.4 0M280.1 187.3a2.7 2.7 0 1 0 5.4 0a2.7 2.7 0 1 0-5.4 0M280.4 204.9a2.7 2.7 0 1 0 5.4 0a2.7 2.7 0 1 0-5.4 0M280.7 198.9a2.7 2.7 0 1 0 5.4 0a2.7 2.7 0 1 0-5.4 0M281 202.5a2.7 2.7 0 1 0 5.4 0a2.7 2.7 0 1 0-5.4 0M281.3 191.9a2.7 2.7 0 1 0 5.4 0a2.7 2.7 0 1 0-5.4 0M281.6 171a2.7 2.7 0 1 0 5.4 0a2.7 2.7 0 1 0-5.4 0M281.9 176.3a2.7 2.7 0 1 0 5.4 0a2.7 2.7 0 1 0-5.4 0M282.2 188.7a2.7 2.7 0 1 0 5.4 0a2.7 2.7 0 1 0-5.4 0M282.5 189a2.7 2.7 0 1 0 5.4 0a2.7 2.7 0 1 0-5.4 0M282.9 195.7a2.7 2.7 0 1 0 5.4 0a2.7 2.7 0 1 0-5.4 0M283.2 185.9a2.7 2.7 0 1 0 5.4 0a2.7 2.7 0 1 0-5.4 0M283.5 190.8a2.7 2.7 0 1 0 5.4 0a2.7 2.7 0 1 0-5.4 0M283.8 158.9a2.7 2.7 0 1 0 5.4 0a2.7 2.7 0 1 0-5.4 0M284.1 187.9a2.7 2.7 0 1 0 5.4 0a2.7 2.7 0 1 0-5.4 0M284.4 174.3a2.7 2.7 0 1 0 5.4 0a2.7 2.7 0 1 0-5.4 0M284.7 191.9a2.7 2.7 0 1 0 5.4 0a2.7 2.7 0 1 0-5.4 0M285 177.1a2.7 2.7 0 1 0 5.4 0a2.7 2.7 0 1 0-5.4 0M285.3 180.5a2.7 2.7 0 1 0 5.4 0a2.7 2.7 0 1 0-5.4 0M285.6 196.4a2.7 2.7 0 1 0 5.4 0a2.7 2.7 0 1 0-5.4 0M285.9 186.1a2.7 2.7 0 1 0 5.4 0a2.7 2.7 0 1 0-5.4 0M286.2 167a2.7 2.7 0 1 0 5.4 0a2.7 2.7 0 1 0-5.4 0M286.6 193a2.7 2.7 0 1 0 5.4 0a2.7 2.7 0 1 0-5.4 0M286.9 173.1a2.7 2.7 0 1 0 5.4 0a2.7 2.7 0 1 0-5.4 0M287.2 207.5a2.7 2.7 0 1 0 5.4 0a2.7 2.7 0 1 0-5.4 0M287.5 180a2.7 2.7 0 1 0 5.4 0a2.7 2.7 0 1 0-5.4 0M287.8 188.4a2.7 2.7 0 1 0 5.4 0a2.7 2.7 0 1 0-5.4 0M288.1 189.7a2.7 2.7 0 1 0 5.4 0a2.7 2.7 0 1 0-5.4 0M288.4 174.4a2.7 2.7 0 1 0 5.4 0a2.7 2.7 0 1 0-5.4 0M288.7 179.2a2.7 2.7 0 1 0 5.4 0a2.7 2.7 0 1 0-5.4 0M289 166a2.7 2.7 0 1 0 5.4 0a2.7 2.7 0 1 0-5.4 0M289.3 183.9a2.7 2.7 0 1 0 5.4 0a2.7 2.7 0 1 0-5.4 0M289.6 197.4a2.7 2.7 0 1 0 5.4 0a2.7 2.7 0 1 0-5.4 0M289.9 186.9a2.7 2.7 0 1 0 5.4 0a2.7 2.7 0 1 0-5.4 0M290.2 181.3a2.7 2.7 0 1 0 5.4 0a2.7 2.7 0 1 0-5.4 0M290.6 183.7a2.7 2.7 0 1 0 5.4 0a2.7 2.7 0 1 0-5.4 0M290.9 173.9a2.7 2.7 0 1 0 5.4 0a2.7 2.7 0 1 0-5.4 0M291.2 210.2a2.7 2.7 0 1 0 5.4 0a2.7 2.7 0 1 0-5.4 0M291.5 186.5a2.7 2.7 0 1 0 5.4 0a2.7 2.7 0 1 0-5.4 0M291.8 207.9a2.7 2.7 0 1 0 5.4 0a2.7 2.7 0 1 0-5.4 0M292.1 180.8a2.7 2.7 0 1 0 5.4 0a2.7 2.7 0 1 0-5.4 0M292.4 169.1a2.7 2.7 0 1 0 5.4 0a2.7 2.7 0 1 0-5.4 0M292.7 197.2a2.7 2.7 0 1 0 5.4 0a2.7 2.7 0 1 0-5.4 0M293 162.9a2.7 2.7 0 1 0 5.4 0a2.7 2.7 0 1 0-5.4 0M293.3 155.2a2.7 2.7 0 1 0 5.4 0a2.7 2.7 0 1 0-5.4 0M293.6 218a2.7 2.7 0 1 0 5.4 0a2.7 2.7 0 1 0-5.4 0M293.9 163.4a2.7 2.7 0 1 0 5.4 0a2.7 2.7 0 1 0-5.4 0M294.3 172.6a2.7 2.7 0 1 0 5.4 0a2.7 2.7 0 1 0-5.4 0M294.6 165.1a2.7 2.7 0 1 0 5.4 0a2.7 2.7 0 1 0-5.4 0M294.9 173.6a2.7 2.7 0 1 0 5.4 0a2.7 2.7 0 1 0-5.4 0M295.2 178.1a2.7 2.7 0 1 0 5.4 0a2.7 2.7 0 1 0-5.4 0M295.5 202.7a2.7 2.7 0 1 0 5.4 0a2.7 2.7 0 1 0-5.4 0M295.8 183.6a2.7 2.7 0 1 0 5.4 0a2.7 2.7 0 1 0-5.4 0M296.1 153.4a2.7 2.7 0 1 0 5.4 0a2.7 2.7 0 1 0-5.4 0M296.4 168.8a2.7 2.7 0 1 0 5.4 0a2.7 2.7 0 1 0-5.4 0M296.7 188.3a2.7 2.7 0 1 0 5.4 0a2.7 2.7 0 1 0-5.4 0M297 182.2a2.7 2.7 0 1 0 5.4 0a2.7 2.7 0 1 0-5.4 0M297.3 173.9a2.7 2.7 0 1 0 5.4 0a2.7 2.7 0 1 0-5.4 0M297.6 178.5a2.7 2.7 0 1 0 5.4 0a2.7 2.7 0 1 0-5.4 0M298 174a2.7 2.7 0 1 0 5.4 0a2.7 2.7 0 1 0-5.4 0M298.3 172.8a2.7 2.7 0 1 0 5.4 0a2.7 2.7 0 1 0-5.4 0M298.6 184.7a2.7 2.7 0 1 0 5.4 0a2.7 2.7 0 1 0-5.4 0M298.9 168.6a2.7 2.7 0 1 0 5.4 0a2.7 2.7 0 1 0-5.4 0M299.2 172.7a2.7 2.7 0 1 0 5.4 0a2.7 2.7 0 1 0-5.4 0M299.5 164.4a2.7 2.7 0 1 0 5.4 0a2.7 2.7 0 1 0-5.4 0M299.8 170.4a2.7 2.7 0 1 0 5.4 0a2.7 2.7 0 1 0-5.4 0M300.1 195.1a2.7 2.7 0 1 0 5.4 0a2.7 2.7 0 1 0-5.4 0M300.4 189.2a2.7 2.7 0 1 0 5.4 0a2.7 2.7 0 1 0-5.4 0M300.7 174.1a2.7 2.7 0 1 0 5.4 0a2.7 2.7 0 1 0-5.4 0M301 181.7a2.7 2.7 0 1 0 5.4 0a2.7 2.7 0 1 0-5.4 0M301.3 201.6a2.7 2.7 0 1 0 5.4 0a2.7 2.7 0 1 0-5.4 0M301.7 191.7a2.7 2.7 0 1 0 5.4 0a2.7 2.7 0 1 0-5.4 0M302 175.3a2.7 2.7 0 1 0 5.4 0a2.7 2.7 0 1 0-5.4 0M302.3 194.2a2.7 2.7 0 1 0 5.4 0a2.7 2.7 0 1 0-5.4 0M302.6 196.2a2.7 2.7 0 1 0 5.4 0a2.7 2.7 0 1 0-5.4 0M302.9 173.9a2.7 2.7 0 1 0 5.4 0a2.7 2.7 0 1 0-5.4 0M303.2 174.1a2.7 2.7 0 1 0 5.4 0a2.7 2.7 0 1 0-5.4 0M303.5 184.6a2.7 2.7 0 1 0 5.4 0a2.7 2.7 0 1 0-5.4 0M303.8 190a2.7 2.7 0 1 0 5.4 0a2.7 2.7 0 1 0-5.4 0M304.1 160.5a2.7 2.7 0 1 0 5.4 0a2.7 2.7 0 1 0-5.4 0M304.4 168.1a2.7 2.7 0 1 0 5.4 0a2.7 2.7 0 1 0-5.4 0M304.7 168a2.7 2.7 0 1 0 5.4 0a2.7 2.7 0 1 0-5.4 0M305 172.1a2.7 2.7 0 1 0 5.4 0a2.7 2.7 0 1 0-5.4 0M305.3 177.3a2.7 2.7 0 1 0 5.4 0a2.7 2.7 0 1 0-5.4 0M305.7 180.6a2.7 2.7 0 1 0 5.4 0a2.7 2.7 0 1 0-5.4 0M306 178.8a2.7 2.7 0 1 0 5.4 0a2.7 2.7 0 1 0-5.4 0M306.3 180.1a2.7 2.7 0 1 0 5.4 0a2.7 2.7 0 1 0-5.4 0M306.6 153.4a2.7 2.7 0 1 0 5.4 0a2.7 2.7 0 1 0-5.4 0M306.9 194.5a2.7 2.7 0 1 0 5.4 0a2.7 2.7 0 1 0-5.4 0M307.2 164a2.7 2.7 0 1 0 5.4 0a2.7 2.7 0 1 0-5.4 0M307.5 180.8a2.7 2.7 0 1 0 5.4 0a2.7 2.7 0 1 0-5.4 0M307.8 169.9a2.7 2.7 0 1 0 5.4 0a2.7 2.7 0 1 0-5.4 0M308.1 193.2a2.7 2.7 0 1 0 5.4 0a2.7 2.7 0 1 0-5.4 0M308.4 176.6a2.7 2.7 0 1 0 5.4 0a2.7 2.7 0 1 0-5.4 0M308.7 175.1a2.7 2.7 0 1 0 5.4 0a2.7 2.7 0 1 0-5.4 0M309 189.7a2.7 2.7 0 1 0 5.4 0a2.7 2.7 0 1 0-5.4 0M309.4 197.1a2.7 2.7 0 1 0 5.4 0a2.7 2.7 0 1 0-5.4 0M309.7 182.4a2.7 2.7 0 1 0 5.4 0a2.7 2.7 0 1 0-5.4 0M310 185.5a2.7 2.7 0 1 0 5.4 0a2.7 2.7 0 1 0-5.4 0M310.3 187.7a2.7 2.7 0 1 0 5.4 0a2.7 2.7 0 1 0-5.4 0M310.6 176.7a2.7 2.7 0 1 0 5.4 0a2.7 2.7 0 1 0-5.4 0M310.9 175.4a2.7 2.7 0 1 0 5.4 0a2.7 2.7 0 1 0-5.4 0M311.2 166.9a2.7 2.7 0 1 0 5.4 0a2.7 2.7 0 1 0-5.4 0M311.5 190.3a2.7 2.7 0 1 0 5.4 0a2.7 2.7 0 1 0-5.4 0M311.8 169a2.7 2.7 0 1 0 5.4 0a2.7 2.7 0 1 0-5.4 0M312.1 154.5a2.7 2.7 0 1 0 5.4 0a2.7 2.7 0 1 0-5.4 0M312.4 173.3a2.7 2.7 0 1 0 5.4 0a2.7 2.7 0 1 0-5.4 0M312.7 176.2a2.7 2.7 0 1 0 5.4 0a2.7 2.7 0 1 0-5.4 0M313.1 153.7a2.7 2.7 0 1 0 5.4 0a2.7 2.7 0 1 0-5.4 0M313.4 155.8a2.7 2.7 0 1 0 5.4 0a2.7 2.7 0 1 0-5.4 0M313.7 185.3a2.7 2.7 0 1 0 5.4 0a2.7 2.7 0 1 0-5.4 0M314 190.1a2.7 2.7 0 1 0 5.4 0a2.7 2.7 0 1 0-5.4 0M314.3 163.4a2.7 2.7 0 1 0 5.4 0a2.7 2.7 0 1 0-5.4 0M314.6 191.4a2.7 2.7 0 1 0 5.4 0a2.7 2.7 0 1 0-5.4 0M314.9 172.9a2.7 2.7 0 1 0 5.4 0a2.7 2.7 0 1 0-5.4 0M315.2 185.1a2.7 2.7 0 1 0 5.4 0a2.7 2.7 0 1 0-5.4 0M315.5 180.6a2.7 2.7 0 1 0 5.4 0a2.7 2.7 0 1 0-5.4 0M315.8 204.3a2.7 2.7 0 1 0 5.4 0a2.7 2.7 0 1 0-5.4 0M316.1 200.1a2.7 2.7 0 1 0 5.4 0a2.7 2.7 0 1 0-5.4 0M316.4 166.4a2.7 2.7 0 1 0 5.4 0a2.7 2.7 0 1 0-5.4 0M316.8 170.9a2.7 2.7 0 1 0 5.4 0a2.7 2.7 0 1 0-5.4 0M317.1 175.2a2.7 2.7 0 1 0 5.4 0a2.7 2.7 0 1 0-5.4 0M317.4 174.9a2.7 2.7 0 1 0 5.4 0a2.7 2.7 0 1 0-5.4 0M317.7 184.1a2.7 2.7 0 1 0 5.4 0a2.7 2.7 0 1 0-5.4 0M318 170.3a2.7 2.7 0 1 0 5.4 0a2.7 2.7 0 1 0-5.4 0M318.3 162.9a2.7 2.7 0 1 0 5.4 0a2.7 2.7 0 1 0-5.4 0M318.6 178.1a2.7 2.7 0 1 0 5.4 0a2.7 2.7 0 1 0-5.4 0M318.9 158.5a2.7 2.7 0 1 0 5.4 0a2.7 2.7 0 1 0-5.4 0M319.2 193.1a2.7 2.7 0 1 0 5.4 0a2.7 2.7 0 1 0-5.4 0M319.5 172.9a2.7 2.7 0 1 0 5.4 0a2.7 2.7 0 1 0-5.4 0M319.8 184.7a2.7 2.7 0 1 0 5.4 0a2.7 2.7 0 1 0-5.4 0M320.1 174a2.7 2.7 0 1 0 5.4 0a2.7 2.7 0 1 0-5.4 0M320.4 187a2.7 2.7 0 1 0 5.4 0a2.7 2.7 0 1 0-5.4 0M320.8 159.5a2.7 2.7 0 1 0 5.4 0a2.7 2.7 0 1 0-5.4 0M321.1 156.8a2.7 2.7 0 1 0 5.4 0a2.7 2.7 0 1 0-5.4 0M321.4 162.2a2.7 2.7 0 1 0 5.4 0a2.7 2.7 0 1 0-5.4 0M321.7 200.3a2.7 2.7 0 1 0 5.4 0a2.7 2.7 0 1 0-5.4 0M322 187.9a2.7 2.7 0 1 0 5.4 0a2.7 2.7 0 1 0-5.4 0M322.3 203.7a2.7 2.7 0 1 0 5.4 0a2.7 2.7 0 1 0-5.4 0M322.6 176.6a2.7 2.7 0 1 0 5.4 0a2.7 2.7 0 1 0-5.4 0M322.9 174.4a2.7 2.7 0 1 0 5.4 0a2.7 2.7 0 1 0-5.4 0M323.2 176a2.7 2.7 0 1 0 5.4 0a2.7 2.7 0 1 0-5.4 0M323.5 184a2.7 2.7 0 1 0 5.4 0a2.7 2.7 0 1 0-5.4 0M323.8 149.2a2.7 2.7 0 1 0 5.4 0a2.7 2.7 0 1 0-5.4 0M324.1 164.2a2.7 2.7 0 1 0 5.4 0a2.7 2.7 0 1 0-5.4 0M324.5 163.7a2.7 2.7 0 1 0 5.4 0a2.7 2.7 0 1 0-5.4 0M324.8 174.3a2.7 2.7 0 1 0 5.4 0a2.7 2.7 0 1 0-5.4 0M325.1 178.5a2.7 2.7 0 1 0 5.4 0a2.7 2.7 0 1 0-5.4 0M325.4 162.5a2.7 2.7 0 1 0 5.4 0a2.7 2.7 0 1 0-5.4 0M325.7 192.9a2.7 2.7 0 1 0 5.4 0a2.7 2.7 0 1 0-5.4 0M326 157.2a2.7 2.7 0 1 0 5.4 0a2.7 2.7 0 1 0-5.4 0M326.3 195a2.7 2.7 0 1 0 5.4 0a2.7 2.7 0 1 0-5.4 0M326.6 145.3a2.7 2.7 0 1 0 5.4 0a2.7 2.7 0 1 0-5.4 0M326.9 208.3a2.7 2.7 0 1 0 5.4 0a2.7 2.7 0 1 0-5.4 0M327.2 210a2.7 2.7 0 1 0 5.4 0a2.7 2.7 0 1 0-5.4 0M327.5 161.3a2.7 2.7 0 1 0 5.4 0a2.7 2.7 0 1 0-5.4 0M327.8 165.2a2.7 2.7 0 1 0 5.4 0a2.7 2.7 0 1 0-5.4 0M328.2 171.1a2.7 2.7 0 1 0 5.4 0a2.7 2.7 0 1 0-5.4 0M328.5 174.9a2.7 2.7 0 1 0 5.4 0a2.7 2.7 0 1 0-5.4 0M328.8 167.3a2.7 2.7 0 1 0 5.4 0a2.7 2.7 0 1 0-5.4 0M329.1 158.1a2.7 2.7 0 1 0 5.4 0a2.7 2.7 0 1 0-5.4 0M329.4 176.2a2.7 2.7 0 1 0 5.4 0a2.7 2.7 0 1 0-5.4 0M329.7 199a2.7 2.7 0 1 0 5.4 0a2.7 2.7 0 1 0-5.4 0M330 161.7a2.7 2.7 0 1 0 5.4 0a2.7 2.7 0 1 0-5.4 0M330.3 189.5a2.7 2.7 0 1 0 5.4 0a2.7 2.7 0 1 0-5.4 0M330.6 188a2.7 2.7 0 1 0 5.4 0a2.7 2.7 0 1 0-5.4 0M330.9 174.3a2.7 2.7 0 1 0 5.4 0a2.7 2.7 0 1 0-5.4 0M331.2 169.1a2.7 2.7 0 1 0 5.4 0a2.7 2.7 0 1 0-5.4 0M331.5 174.4a2.7 2.7 0 1 0 5.4 0a2.7 2.7 0 1 0-5.4 0M331.9 176a2.7 2.7 0 1 0 5.4 0a2.7 2.7 0 1 0-5.4 0M332.2 170.4a2.7 2.7 0 1 0 5.4 0a2.7 2.7 0 1 0-5.4 0M332.5 174.8a2.7 2.7 0 1 0 5.4 0a2.7 2.7 0 1 0-5.4 0M332.8 156.1a2.7 2.7 0 1 0 5.4 0a2.7 2.7 0 1 0-5.4 0M333.1 198.6a2.7 2.7 0 1 0 5.4 0a2.7 2.7 0 1 0-5.4 0M333.4 171a2.7 2.7 0 1 0 5.4 0a2.7 2.7 0 1 0-5.4 0M333.7 166.1a2.7 2.7 0 1 0 5.4 0a2.7 2.7 0 1 0-5.4 0M334 163.2a2.7 2.7 0 1 0 5.4 0a2.7 2.7 0 1 0-5.4 0M334.3 181.8a2.7 2.7 0 1 0 5.4 0a2.7 2.7 0 1 0-5.4 0M334.6 166.2a2.7 2.7 0 1 0 5.4 0a2.7 2.7 0 1 0-5.4 0M334.9 179.4a2.7 2.7 0 1 0 5.4 0a2.7 2.7 0 1 0-5.4 0M335.2 163.2a2.7 2.7 0 1 0 5.4 0a2.7 2.7 0 1 0-5.4 0M335.6 166.6a2.7 2.7 0 1 0 5.4 0a2.7 2.7 0 1 0-5.4 0M335.9 202.2a2.7 2.7 0 1 0 5.4 0a2.7 2.7 0 1 0-5.4 0M336.2 184.8a2.7 2.7 0 1 0 5.4 0a2.7 2.7 0 1 0-5.4 0M336.5 153.7a2.7 2.7 0 1 0 5.4 0a2.7 2.7 0 1 0-5.4 0M336.8 188.5a2.7 2.7 0 1 0 5.4 0a2.7 2.7 0 1 0-5.4 0M337.1 195.9a2.7 2.7 0 1 0 5.4 0a2.7 2.7 0 1 0-5.4 0M337.4 169.6a2.7 2.7 0 1 0 5.4 0a2.7 2.7 0 1 0-5.4 0M337.7 196.8a2.7 2.7 0 1 0 5.4 0a2.7 2.7 0 1 0-5.4 0M338 165.7a2.7 2.7 0 1 0 5.4 0a2.7 2.7 0 1 0-5.4 0M338.3 159.8a2.7 2.7 0 1 0 5.4 0a2.7 2.7 0 1 0-5.4 0M338.6 169.4a2.7 2.7 0 1 0 5.4 0a2.7 2.7 0 1 0-5.4 0M338.9 161.1a2.7 2.7 0 1 0 5.4 0a2.7 2.7 0 1 0-5.4 0M339.2 217a2.7 2.7 0 1 0 5.4 0a2.7 2.7 0 1 0-5.4 0M339.6 154a2.7 2.7 0 1 0 5.4 0a2.7 2.7 0 1 0-5.4 0M339.9 170.8a2.7 2.7 0 1 0 5.4 0a2.7 2.7 0 1 0-5.4 0M340.2 165.8a2.7 2.7 0 1 0 5.4 0a2.7 2.7 0 1 0-5.4 0M340.5 229.7a2.7 2.7 0 1 0 5.4 0a2.7 2.7 0 1 0-5.4 0M340.8 171.4a2.7 2.7 0 1 0 5.4 0a2.7 2.7 0 1 0-5.4 0M341.1 179.1a2.7 2.7 0 1 0 5.4 0a2.7 2.7 0 1 0-5.4 0M341.4 147.2a2.7 2.7 0 1 0 5.4 0a2.7 2.7 0 1 0-5.4 0M341.7 188a2.7 2.7 0 1 0 5.4 0a2.7 2.7 0 1 0-5.4 0M342 161.3a2.7 2.7 0 1 0 5.4 0a2.7 2.7 0 1 0-5.4 0M342.3 163.6a2.7 2.7 0 1 0 5.4 0a2.7 2.7 0 1 0-5.4 0M342.6 177.7a2.7 2.7 0 1 0 5.4 0a2.7 2.7 0 1 0-5.4 0M342.9 183.6a2.7 2.7 0 1 0 5.4 0a2.7 2.7 0 1 0-5.4 0M343.3 153.9a2.7 2.7 0 1 0 5.4 0a2.7 2.7 0 1 0-5.4 0M343.6 136.4a2.7 2.7 0 1 0 5.4 0a2.7 2.7 0 1 0-5.4 0M343.9 184.4a2.7 2.7 0 1 0 5.4 0a2.7 2.7 0 1 0-5.4 0M344.2 187a2.7 2.7 0 1 0 5.4 0a2.7 2.7 0 1 0-5.4 0M344.5 160.5a2.7 2.7 0 1 0 5.4 0a2.7 2.7 0 1 0-5.4 0M344.8 174.7a2.7 2.7 0 1 0 5.4 0a2.7 2.7 0 1 0-5.4 0M345.1 166a2.7 2.7 0 1 0 5.4 0a2.7 2.7 0 1 0-5.4 0M345.4 164.4a2.7 2.7 0 1 0 5.4 0a2.7 2.7 0 1 0-5.4 0M345.7 187a2.7 2.7 0 1 0 5.4 0a2.7 2.7 0 1 0-5.4 0M346 169.8a2.7 2.7 0 1 0 5.4 0a2.7 2.7 0 1 0-5.4 0M346.3 160a2.7 2.7 0 1 0 5.4 0a2.7 2.7 0 1 0-5.4 0M346.6 142.5a2.7 2.7 0 1 0 5.4 0a2.7 2.7 0 1 0-5.4 0M347 182.5a2.7 2.7 0 1 0 5.4 0a2.7 2.7 0 1 0-5.4 0M347.3 173.2a2.7 2.7 0 1 0 5.4 0a2.7 2.7 0 1 0-5.4 0M347.6 178.5a2.7 2.7 0 1 0 5.4 0a2.7 2.7 0 1 0-5.4 0M347.9 210.5a2.7 2.7 0 1 0 5.4 0a2.7 2.7 0 1 0-5.4 0M348.2 172.6a2.7 2.7 0 1 0 5.4 0a2.7 2.7 0 1 0-5.4 0M348.5 177.6a2.7 2.7 0 1 0 5.4 0a2.7 2.7 0 1 0-5.4 0M348.8 141.5a2.7 2.7 0 1 0 5.4 0a2.7 2.7 0 1 0-5.4 0M349.1 178a2.7 2.7 0 1 0 5.4 0a2.7 2.7 0 1 0-5.4 0M349.4 168.9a2.7 2.7 0 1 0 5.4 0a2.7 2.7 0 1 0-5.4 0M349.7 178.2a2.7 2.7 0 1 0 5.4 0a2.7 2.7 0 1 0-5.4 0M350 159.5a2.7 2.7 0 1 0 5.4 0a2.7 2.7 0 1 0-5.4 0M350.3 207.7a2.7 2.7 0 1 0 5.4 0a2.7 2.7 0 1 0-5.4 0M350.7 164.3a2.7 2.7 0 1 0 5.4 0a2.7 2.7 0 1 0-5.4 0M351 181.9a2.7 2.7 0 1 0 5.4 0a2.7 2.7 0 1 0-5.4 0M351.3 219a2.7 2.7 0 1 0 5.4 0a2.7 2.7 0 1 0-5.4 0M351.6 172.7a2.7 2.7 0 1 0 5.4 0a2.7 2.7 0 1 0-5.4 0M351.9 164.8a2.7 2.7 0 1 0 5.4 0a2.7 2.7 0 1 0-5.4 0M352.2 163.5a2.7 2.7 0 1 0 5.4 0a2.7 2.7 0 1 0-5.4 0M352.5 177.7a2.7 2.7 0 1 0 5.4 0a2.7 2.7 0 1 0-5.4 0M352.8 175.9a2.7 2.7 0 1 0 5.4 0a2.7 2.7 0 1 0-5.4 0M353.1 199.4a2.7 2.7 0 1 0 5.4 0a2.7 2.7 0 1 0-5.4 0M353.4 193a2.7 2.7 0 1 0 5.4 0a2.7 2.7 0 1 0-5.4 0M353.7 173.2a2.7 2.7 0 1 0 5.4 0a2.7 2.7 0 1 0-5.4 0M354 150.3a2.7 2.7 0 1 0 5.4 0a2.7 2.7 0 1 0-5.4 0M354.4 161.3a2.7 2.7 0 1 0 5.4 0a2.7 2.7 0 1 0-5.4 0M354.7 172.7a2.7 2.7 0 1 0 5.4 0a2.7 2.7 0 1 0-5.4 0M355 147.7a2.7 2.7 0 1 0 5.4 0a2.7 2.7 0 1 0-5.4 0M355.3 178.2a2.7 2.7 0 1 0 5.4 0a2.7 2.7 0 1 0-5.4 0M355.6 175.9a2.7 2.7 0 1 0 5.4 0a2.7 2.7 0 1 0-5.4 0M355.9 197a2.7 2.7 0 1 0 5.4 0a2.7 2.7 0 1 0-5.4 0M356.2 176.6a2.7 2.7 0 1 0 5.4 0a2.7 2.7 0 1 0-5.4 0M356.5 151.9a2.7 2.7 0 1 0 5.4 0a2.7 2.7 0 1 0-5.4 0M356.8 203.8a2.7 2.7 0 1 0 5.4 0a2.7 2.7 0 1 0-5.4 0M357.1 160a2.7 2.7 0 1 0 5.4 0a2.7 2.7 0 1 0-5.4 0M357.4 163.8a2.7 2.7 0 1 0 5.4 0a2.7 2.7 0 1 0-5.4 0M357.7 185.4a2.7 2.7 0 1 0 5.4 0a2.7 2.7 0 1 0-5.4 0M358 179.9a2.7 2.7 0 1 0 5.4 0a2.7 2.7 0 1 0-5.4 0M358.4 175.4a2.7 2.7 0 1 0 5.4 0a2.7 2.7 0 1 0-5.4 0M358.7 181.5a2.7 2.7 0 1 0 5.4 0a2.7 2.7 0 1 0-5.4 0M359 169.5a2.7 2.7 0 1 0 5.4 0a2.7 2.7 0 1 0-5.4 0M359.3 198.2a2.7 2.7 0 1 0 5.4 0a2.7 2.7 0 1 0-5.4 0M359.6 200a2.7 2.7 0 1 0 5.4 0a2.7 2.7 0 1 0-5.4 0M359.9 197.1a2.7 2.7 0 1 0 5.4 0a2.7 2.7 0 1 0-5.4 0M360.2 203.5a2.7 2.7 0 1 0 5.4 0a2.7 2.7 0 1 0-5.4 0M360.5 183a2.7 2.7 0 1 0 5.4 0a2.7 2.7 0 1 0-5.4 0M360.8 198.8a2.7 2.7 0 1 0 5.4 0a2.7 2.7 0 1 0-5.4 0M361.1 219.5a2.7 2.7 0 1 0 5.4 0a2.7 2.7 0 1 0-5.4 0M361.4 172a2.7 2.7 0 1 0 5.4 0a2.7 2.7 0 1 0-5.4 0M361.7 169.8a2.7 2.7 0 1 0 5.4 0a2.7 2.7 0 1 0-5.4 0M362.1 214a2.7 2.7 0 1 0 5.4 0a2.7 2.7 0 1 0-5.4 0M362.4 178a2.7 2.7 0 1 0 5.4 0a2.7 2.7 0 1 0-5.4 0M362.7 212.9a2.7 2.7 0 1 0 5.4 0a2.7 2.7 0 1 0-5.4 0M363 193.3a2.7 2.7 0 1 0 5.4 0a2.7 2.7 0 1 0-5.4 0M363.3 188.4a2.7 2.7 0 1 0 5.4 0a2.7 2.7 0 1 0-5.4 0M363.6 190.4a2.7 2.7 0 1 0 5.4 0a2.7 2.7 0 1 0-5.4 0M363.9 199.3a2.7 2.7 0 1 0 5.4 0a2.7 2.7 0 1 0-5.4 0M364.2 193a2.7 2.7 0 1 0 5.4 0a2.7 2.7 0 1 0-5.4 0M364.5 179.5a2.7 2.7 0 1 0 5.4 0a2.7 2.7 0 1 0-5.4 0M364.8 158.8a2.7 2.7 0 1 0 5.4 0a2.7 2.7 0 1 0-5.4 0M365.1 151.8a2.7 2.7 0 1 0 5.4 0a2.7 2.7 0 1 0-5.4 0M365.4 188.9a2.7 2.7 0 1 0 5.4 0a2.7 2.7 0 1 0-5.4 0M365.8 136.8a2.7 2.7 0 1 0 5.4 0a2.7 2.7 0 1 0-5.4 0" stroke="#00ff00" stroke-width="0.75"/>
<polyline points="35,175.1 35.2,209.6 35.3,187.2 35.5,204 35.6,193.7 35.8,191.8 35.9,205.4 36.1,198 36.2,196.7 36.4,170.7 36.5,188.5 36.7,192.7 36.8,192.2 37,195.1 37.2,197.9 37.3,192.9 37.5,186.3 37.6,191.7 37.8,182.7 37.9,191.4 38.1,189.8 38.2,196.7 38.4,185.9 38.5,193.8 38.7,191.4 38.9,186 39,193.9 39.2,192.2 39.3,192 39.5,201.1 39.6,197 39.8,192.6 39.9,183.8 40.1,186.2 40.2,199 40.4,185.7 40.5,213.9 40.7,183.2 40.9,198.2 41,203.5 41.2,189 41.3,186 41.5,197.6 41.6,199.4 41.8,191.3 41.9,191.9 42.1,181.1 42.2,186.1 42.4,190.3 42.6,183.4 42.7,193.4 42.9,198.9 43,187.6 43.2,187.7 43.3,193.8 43.5,198.1 43.6,190.6 43.8,211.2 43.9,191.7 44.1,188.9 44.2,205 44.4,192.3 44.6,200 44.7,187.2 44.9,208.2 45,199.8 45.2,187.7 45.3,194.1 45.5,227.7 45.6,197 45.8,190.9 45.9,197.9 46.1,183.2 46.2,202.4 46.4,190.9 46.6,201.5 46.7,184.6 46.9,193.8 47,196.5 47.2,206.7 47.3,181.2 47.5,188.1 47.6,188.3 47.8,185.3 47.9,191.2 48.1,198.6 48.3,199.9 48.4,199.9 48.6,183.6 48.7,204.9 48.9,198.4 49,204.1 49.2,192.2 49.3,190.3 49.5,203.2 49.6,206.8 49.8,193.8 49.9,184.6 50.1,188 50.3,192 50.4,195.9 50.6,191.3 50.7,195.3 50.9,187.3 51,199.3 51.2,192.3 51.3,195.6 51.5,189.3 51.6,191.7 51.8,174.1 52,182 52.1,181.9 52.3,208.5 52.4,195.7 52.6,216 52.7,189.1 52.9,210.2 53,184.2 53.2,184.9 53.3,202.6 53.5,209.2 53.6,198.7 53.8,192.3 54,187.7 54.1,177.2 54.3,194 54.4,186.7 54.6,191.3 54.7,179.1 54.9,186.7 55,181.9 55.2,200.2 55.3,193.5 55.5,198.1 55.6,199 55.8,186.9 56,194.1 56.1,195.1 56.3,197.9 56.4,196.9 56.6,198.6 56.7,187.9 56.9,172.9 57,193.3 57.2,195.6 57.3,200.2 57.5,201.5 57.7,187.4 57.8,184.9 58,191.2 58.1,188.8 58.3,190.4 58.4,190.3 58.6,202.8 58.7,194.8 58.9,190.5 59,197.3 59.2,198.8 59.3,197.5 59.5,193.9 59.7,189.7 59.8,194.5 60,192.6 60.1,185.3 60.3,186.6 60.4,178.8 60.6,207.3 60.7,185.2 60.9,195.3 61,190.7 61.2,185.5 61.3,183.7 61.5,184.1 61.7,190.8 61.8,179.8 62,194.1 62.1,200.4 62.3,186.2 62.4,196.3 62.6,176 62.7,191.9 62.9,176 63,192.6 63.2,195.4 63.4,191.3 63.5,187.1 63.7,197.1 63.8,189.8 64,203.4 64.1,180.7 64.3,197.8 64.4,185 64.6,197.8 64.7,200.3 64.9,198.4 65,202.1 65.2,192.1 65.4,185.5 65.5,192.1 65.7,188.6 65.8,181.1 66,191.4 66.1,191.9 66.3,206.6 66.4,205.5 66.6,187.8 66.7,206.7 66.9,204.4 67.1,227.5 67.2,185 67.4,194 67.5,199.7 67.7,190.8 67.8,197.7 68,194.8 68.1,193.1 68.3,194.4 68.4,194.8 68.6,199.6 68.7,194.8 68.9,209.5 69.1,194.6 69.2,202.4 69.4,191.5 69.5,183.8 69.7,207.9 69.8,192.1 70,203.9 70.1,201 70.3,189.2 70.4,196.6 70.6,206.3 70.7,194.9 70.9,194 71.1,192.1 71.2,202.1 71.4,188.2 71.5,187.3 71.7,201.4 71.8,197.7 72,193.3 72.1,197 72.3,179.6 72.4,191.1 72.6,200.2 72.8,198.6 72.9,193 73.1,175.3 73.2,193.9 73.4,191.6 73.5,188.7 73.7,192.8 73.8,175.4 74,196.5 74.1,190.5 74.3,191.3 74.4,187.9 74.6,201.4 74.8,179.3 74.9,193.5 75.1,192.3 75.2,199.7 75.4,198.1 75.5,188.4 75.7,185.3 75.8,187.1 76,183.7 76.1,189.4 76.3,192.5 76.5,186.4 76.6,188.2 76.8,193.4 76.9,187.3 77.1,183.1 77.2,191 77.4,195.6 77.5,187.6 77.7,185.6 77.8,194.6 78,193.7 78.1,194 78.3,183.9 78.5,206.9 78.6,190.4 78.8,184.2 78.9,199.3 79.1,200.3 79.2,189 79.4,197.2 79.5,191.6 79.7,218.6 79.8,197.3 80,179.4 80.1,199.8 80.3,179.1 80.5,193.5 80.6,185.4 80.8,192.6 80.9,209.8 81.1,197.2 81.2,191.5 81.4,201.5 81.5,203 81.7,190.1 81.8,197.7 82,205.5 82.2,197.8 82.3,186.2 82.5,196.1 82.6,185.5 82.8,181.1 82.9,192.3 83.1,203.7 83.2,202.2 83.4,192.6 83.5,185.8 83.7,190.3 83.8,188.2 84,195.6 84.2,196.3 84.3,195.7 84.5,194.5 84.6,201.8 84.8,203.8 84.9,195.6 85.1,200.2 85.2,199.1 85.4,198 85.5,192.8 85.7,172.4 85.8,186.9 86,196.7 86.2,186.2 86.3,189.4 86.5,197.2 86.6,183.8 86.8,197.9 86.9,211.6 87.1,186.1 87.2,196.7 87.4,180.9 87.5,197 87.7,200.9 87.9,180.4 88,200.2 88.2,190.6 88.3,181.2 88.5,191.3 88.6,192.8 88.8,191.4 88.9,186 89.1,198.3 89.2,187.7 89.4,188 89.5,174.9 89.7,196.1 89.9,199.3 90,186.9 90.2,195.5 90.3,190.3 90.5,191.5 90.6,183.8 90.8,197.5 90.9,193.4 91.1,211.8 91.2,199.4 91.4,181.2 91.6,197.8 91.7,198 91.9,220.2 92,188.4 92.2,191.4 92.3,201.6 92.5,187.7 92.6,190.8 92.8,187 92.9,203.8 93.1,179.7 93.2,189.6 93.4,193.6 93.6,196.5 93.7,194.9 93.9,195.1 94,194.6 94.2,184.5 94.3,188.2 94.5,182.4 94.6,186.4 94.8,193 94.9,206.9 95.1,190.2 95.2,186.4 95.4,191.1 95.6,188.1 95.7,195.8 95.9,195.1 96,199.3 96.2,181.9 96.3,190.9 96.5,195.7 96.6,202 96.8,193.1 96.9,181.1 97.1,188.4 97.3,197.3 97.4,181.1 97.6,181.1 97.7,184.4 97.9,185.7 98,183 98.2,187.6 98.3,185.9 98.5,197.5 98.6,180.4 98.8,189.9 98.9,176.5 99.1,207 99.3,186.4 99.4,184.4 99.6,194.2 99.7,188.3 99.9,186.1 100,228 100.2,195.8 100.3,192.9 100.5,184.2 100.6,182.3 100.8,191.1 101,191.2 101.1,190.3 101.3,184 101.4,199.7 101.6,211.6 101.7,191 101.9,200.3 102,196.4 102.2,191.4 102.3,188.5 102.5,200.2 102.6,186.2 102.8,205.6 103,188.2 103.1,204.2 103.3,202 103.4,187.7 103.6,195.6 103.7,198.6 103.9,195.9 104,189.1 104.2,193.1 104.3,193 104.5,184.9 104.6,198.2 104.8,196.5 105,196.9 105.1,184.2 105.3,185.6 105.4,183.4 105.6,193.3 105.7,194.3 105.9,186.7 106,196.1 106.2,186.9 106.3,187.7 106.5,198.4 106.7,193.9 106.8,194.1 107,180.3 107.1,173.9 107.3,194.1 107.4,193.3 107.6,210.6 107.7,191.9 107.9,193.5 108,201.6 108.2,187.6 108.3,205.2 108.5,195.1 108.7,199.9 108.8,203.2 109,187.1 109.1,185.6 109.3,204.6 109.4,204.1 109.6,188.9 109.7,193.6 109.9,202.5 110,195.6 110.2,194.2 110.4,194.4 110.5,187.2 110.7,190.5 110.8,221.6 111,182.9 111.1,188.1 111.3,185.1 111.4,183.1 111.6,187.7 111.7,203.5 111.9,186.4 112,192.3 112.2,180.6 112.4,192 112.5,188.8 112.7,190.1 112.8,179.9 113,191.2 113.1,212.8 113.3,190.1 113.4,195.7 113.6,191.1 113.7,192.3 113.9,190.1 114,177.7 114.2,195.1 114.4,191.7 114.5,193.4 114.7,186.8 114.8,200.6 115,196.8 115.1,191.9 115.3,187.5 115.4,192 115.6,195.3 115.7,198 115.9,187.6 116.1,180.5 116.2,189 116.4,191.8 116.5,188 116.7,198.4 116.8,193.7 117,193.3 117.1,189.1 117.3,191.5 117.4,200.4 117.6,182.7 117.7,178.4 117.9,193 118.1,188 118.2,189 118.4,185.9 118.5,202.2 118.7,179 118.8,194.6 119,181.6 119.1,190.5 119.3,194 119.4,192.2 119.6,184.4 119.8,197.7 119.9,194 120.1,194.9 120.2,204.2 120.4,187.1 120.5,187.1 120.7,191.7 120.8,182.9 121,198.8 121.1,192.3 121.3,178.8 121.4,184.5 121.6,208.6 121.8,211.4 121.9,199.8 122.1,184.1 122.2,195.6 122.4,193.8 122.5,187.6 122.7,198.9 122.8,190.6 123,186.4 123.1,188.8 123.3,189.5 123.4,197.1 123.6,188.7 123.8,195.9 123.9,182.9 124.1,191.8 124.2,198.4 124.4,221.6 124.5,196.2 124.7,190.4 124.8,190 125,185.2 125.1,199.2 125.3,199.4 125.5,184 125.6,201.8 125.8,185.4 125.9,195.3 126.1,187.9 126.2,188.3 126.4,187.9 126.5,187.6 126.7,201.2 126.8,191.5 127,193.6 127.1,191.4 127.3,184.5 127.5,195.8 127.6,199.2 127.8,199.2 127.9,206.8 128.1,188.1 128.2,199.9 128.4,185.1 128.5,191.6 128.7,195.4 128.8,203.7 129,191.9 129.1,188.6 129.3,207 129.5,184.8 129.6,181.3 129.8,191 129.9,189.8 130.1,175.3 130.2,184.1 130.4,200.1 130.5,193.5 130.7,194.4 130.8,194.3 131,210.8 131.2,187.4 131.3,197.8 131.5,191.7 131.6,193.9 131.8,194.1 131.9,195 132.1,198.6 132.2,188.6 132.4,182 132.5,194.9 132.7,182 132.8,190.2 133,196.1 133.2,180.7 133.3,198.3 133.5,184.4 133.6,195.8 133.8,188.6 133.9,202.2 134.1,198.1 134.2,183.8 134.4,190.4 134.5,191.4 134.7,200.9 134.9,188.3 135,202.1 135.2,199.9 135.3,193.9 135.5,197.7 135.6,196.6 135.8,191.8 135.9,192.3 136.1,192.9 136.2,178.7 136.4,183.6 136.5,182 136.7,191.4 136.9,195 137,202.1 137.2,193.8 137.3,206.8 137.5,195.6 137.6,185.4 137.8,179 137.9,184 138.1,197.7 138.2,203.8 138.4,197.2 138.5,185.1 138.7,192 138.9,184.7 139,171.8 139.2,184.2 139.3,173.6 139.5,189.8 139.6,193.6 139.8,181.2 139.9,178.3 140.1,195.4 140.2,190.6 140.4,201.9 140.6,192.7 140.7,188.1 140.9,191.9 141,195.6 141.2,201.8 141.3,188.5 141.5,185.4 141.6,186.9 141.8,189.5 141.9,201 142.1,178.2 142.2,191.9 142.4,195.7 142.6,186 142.7,207.8 142.9,192 143,192.6 143.2,189.6 143.3,181.4 143.5,194.7 143.6,205.3 143.8,194 143.9,189.9 144.1,190.4 144.3,201.1 144.4,205.2 144.6,187.4 144.7,189 144.9,191.7 145,204.5 145.2,178.2 145.3,211.1 145.5,194.3 145.6,175.9 145.8,192.7 145.9,189.8 146.1,200.3 146.3,181.3 146.4,201.2 146.6,189.5 146.7,208.7 146.9,217.6 147,184.7 147.2,202 147.3,196.5 147.5,191.6 147.6,194.4 147.8,187.7 147.9,184.3 148.1,193.5 148.3,195.4 148.4,195.1 148.6,194 148.7,185.1 148.9,192.8 149,188.1 149.2,191.7 149.3,197.5 149.5,184.6 149.6,206.8 149.8,191.1 150,179.9 150.1,199.3 150.3,191.5 150.4,202.9 150.6,194.8 150.7,202.3 150.9,193.8 151,195.1 151.2,190.1 151.3,179.2 151.5,189 151.6,186.1 151.8,191.5 152,193 152.1,197.4 152.3,204.7 152.4,190.7 152.6,179.1 152.7,187.8 152.9,195.4 153,179 153.2,194.7 153.3,196.2 153.5,200.6 153.7,198.8 153.8,193.5 154,176.7 154.1,193.3 154.3,199.7 154.4,196.6 154.6,193.8 154.7,205.1 154.9,191.3 155,187.1 155.2,190 155.3,206.3 155.5,220.5 155.7,205.4 155.8,183.1 156,184.6 156.1,204.5 156.3,191.4 156.4,192.8 156.6,189 156.7,191.6 156.9,197.1 157,191.9 157.2,192.3 157.3,194 157.5,207.6 157.7,213.3 157.8,199.8 158,206.2 158.1,192.1 158.3,188.7 158.4,192.2 158.6,197 158.7,193.7 158.9,185.5 159,199.9 159.2,187.5 159.4,189.1 159.5,192.6 159.7,196.1 159.8,199.9 160,188.1 160.1,201.4 160.3,200.2 160.4,202.4 160.6,191.2 160.7,201.6 160.9,194.2 161,203.2 161.2,186.6 161.4,180.8 161.5,192.9 161.7,200.4 161.8,190.3 162,178.2 162.1,193.6 162.3,206.1 162.4,183.1 162.6,195.1 162.7,201.9 162.9,199 163,206.2 163.2,195.2 163.4,202 163.5,182.8 163.7,188.8 163.8,206.2 164,205.1 164.1,197.9 164.3,208.1 164.4,194.4 164.6,193.8 164.7,199.2 164.9,198.1 165.1,189.5 165.2,182.4 165.4,181.8 165.5,192.8 165.7,186.5 165.8,198.4 166,189.8 166.1,200 166.3,187.3 166.4,206.7 166.6,199.9 166.7,192.7 166.9,188.4 167.1,203.4 167.2,196.6 167.4,191.4 167.5,190.7 167.7,198.6 167.8,191.6 168,194.3 168.1,181.7 168.3,188.1 168.4,202.3 168.6,208.8 168.8,191.5 168.9,188.4 169.1,191 169.2,185.6 169.4,195.9 169.5,202.5 169.7,186.6 169.8,191.4 170,187 170.1,202.6 170.3,190.8 170.4,196.9 170.6,186.1 170.8,196.6 170.9,196.8 171.1,196.8 171.2,182.9 171.4,192.2 171.5,198.1 171.7,200.1 171.8,200.3 172,181.5 172.1,206 172.3,198.8 172.4,187.6 172.6,183.6 172.8,193.6 172.9,186.6 173.1,186.8 173.2,185.2 173.4,210.6 173.5,180.2 173.7,191.1 173.8,181.1 174,200.9 174.1,185.6 174.3,202.1 174.5,203.9 174.6,188.9 174.8,216.5 174.9,189.3 175.1,200.6 175.2,180.5 175.4,192.6 175.5,201.1 175.7,191.4 175.8,186 176,198.4 176.1,188.7 176.3,177.1 176.5,185.9 176.6,192.5 176.8,196.7 176.9,188.1 177.1,203.8 177.2,212.4 177.4,197.5 177.5,200.6 177.7,180.7 177.8,191.3 178,199.8 178.2,201.1 178.3,188.5 178.5,198.5 178.6,196.6 178.8,192.9 178.9,191.5 179.1,191.4 179.2,191.2 179.4,182.2 179.5,179.2 179.7,204.3 179.8,172.8 180,190.9 180.2,182.5 180.3,197.5 180.5,189.5 180.6,190.4 180.8,195.4 180.9,185.5 181.1,187.1 181.2,215.4 181.4,192.8 181.5,186.4 181.7,186.7 181.8,194.4 182,193.9 182.2,196 182.3,200.2 182.5,201.6 182.6,180.1 182.8,194.9 182.9,191.2 183.1,197.6 183.2,182.3 183.4,178.9 183.5,193.8 183.7,188.3 183.9,197.8 184,179 184.2,185.8 184.3,206.7 184.5,183 184.6,189.8 184.8,189.5 184.9,190 185.1,197.8 185.2,196.9 185.4,188.2 185.5,195.8 185.7,200.1 185.9,177.8 186,194.7 186.2,197.5 186.3,198.5 186.5,188.2 186.6,186.1 186.8,191.7 186.9,187.1 187.1,205 187.2,196.5 187.4,197.4 187.6,193.9 187.7,190.4 187.9,209.5 188,175.3 188.2,200.9 188.3,191.8 188.5,188.2 188.6,188.1 188.8,192.7 188.9,214.4 189.1,202.7 189.2,188.8 189.4,201.5 189.6,203.8 189.7,212.4 189.9,187.2 190,230.2 190.2,201.4 190.3,195.7 190.5,195.5 190.6,203.2 190.8,196.8 190.9,192.9 191.1,190.7 191.2,185.3 191.4,194.6 191.6,198.3 191.7,191.8 191.9,199.5 192,204.2 192.2,186.1 192.3,197.5 192.5,193.8 192.6,189.8 192.8,202.9 192.9,189.7 193.1,191 193.3,195.1 193.4,191.3 193.6,199.8 193.7,210.6 193.9,196.1 194,216.1 194.2,187.4 194.3,191.9 194.5,197.8 194.6,193.4 194.8,183.6 194.9,185.3 195.1,191 195.3,190.4 195.4,199 195.6,194.5 195.7,189 195.9,194.2 196,191 196.2,201.7 196.3,205.9 196.5,206.1 196.6,196.7 196.8,183.5 196.9,184.6 197.1,201 197.3,205.1 197.4,187.5 197.6,190 197.7,203.8 197.9,185.6 198,192.3 198.2,183.7 198.3,191.1 198.5,187.1 198.6,191.4 198.8,201 199,195.7 199.1,199.1 199.3,187.8 199.4,201.6 199.6,209.8 199.7,189.1 199.9,187.6 200,183.5 200.2,186.3 200.3,205.9 200.5,199.9 200.6,198.9 200.8,195.1 201,211.2 201.1,195.2 201.3,193.2 201.4,216.9 201.6,194.6 201.7,186.6 201.9,195.3 202,187.8 202.2,188.1 202.3,192.7 202.5,192.9 202.7,198.7 202.8,186.7 203,199.6 203.1,201.4 203.3,190.9 203.4,201.7 203.6,193 203.7,188.3 203.9,195.7 204,195.6 204.2,189.6 204.3,190.9 204.5,224 204.7,206.4 204.8,186.6 205,193.7 205.1,212.2 205.3,206.7 205.4,196.4 205.6,204 205.7,203.1 205.9,196 206,192.8 206.2,205.3 206.3,191.8 206.5,181.7 206.7,202.3 206.8,204.7 207,188.8 207.1,191.3 207.3,196.5 207.4,204.6 207.6,202.4 207.7,190 207.9,188.4 208,186.5 208.2,188.3 208.4,188.7 208.5,198.7 208.7,204.5 208.8,193.9 209,191.6 209.1,194.7 209.3,206.7 209.4,206.7 209.6,206.1 209.7,193.9 209.9,202.8 210,196.1 210.2,192.8 210.4,193.7 210.5,184.4 210.7,202.9 210.8,211 211,187.4 211.1,184 211.3,183.8 211.4,192.4 211.6,190.4 211.7,193.5 211.9,204.2 212.1,198.7 212.2,190.6 212.4,198.6 212.5,179.9 212.7,205.8 212.8,197.6 213,186 213.1,199 213.3,203 213.4,228 213.6,199.8 213.7,183.1 213.9,191.4 214.1,190.7 214.2,198.5 214.4,188.3 214.5,193.9 214.7,201.7 214.8,198.8 215,193.4 215.1,186.2 215.3,195.5 215.4,191.3 215.6,179.9 215.7,201.2 215.9,204.5 216.1,187.8 216.2,192 216.4,196 216.5,193.4 216.7,197.9 216.8,194.8 217,198 217.1,189.6 217.3,204.4 217.4,201.8 217.6,194.8 217.8,199.3 217.9,190.5 218.1,196.1 218.2,199.9 218.4,194.2 218.5,217.7 218.7,219.4 218.8,204.4 219,201.9 219.1,217.8 219.3,195.1 219.4,189 219.6,199.3 219.8,182.5 219.9,186.2 220.1,197.2 220.2,183.3 220.4,186.8 220.5,216.8 220.7,193.2 220.8,187.3 221,193.8 221.1,187.9 221.3,192.6 221.4,190.2 221.6,197.8 221.8,192.5 221.9,198 222.1,190.2 222.2,207.9 222.4,192.6 222.5,185.7 222.7,190.7 222.8,195.2 223,190.9 223.1,201.3 223.3,201.1 223.5,197.4 223.6,195.8 223.8,187.4 223.9,201.3 224.1,187 224.2,206.3 224.4,200.3 224.5,194.7 224.7,185.6 224.8,198.8 225,210.3 225.1,191 225.3,194.3 225.5,202.1 225.6,201.7 225.8,199.1 225.9,193 226.1,188.7 226.2,204.7 226.4,176.4 226.5,193.9 226.7,196.3 226.8,188.4 227,192.6 227.2,175.8 227.3,185.1 227.5,196 227.6,196.2 227.8,197 227.9,195.8 228.1,188.2 228.2,198.1 228.4,181.1 228.5,193.8 228.7,194.2 228.8,185.9 229,208 229.2,200.2 229.3,188.6 229.5,193.1 229.6,193.2 229.8,196.9 229.9,197.6 230.1,194.3 230.2,203.3 230.4,207.1 230.5,185 230.7,200 230.8,198.4 231,182.6 231.2,185.1 231.3,197 231.5,197.1 231.6,193.7 231.8,200.2 231.9,196.8 232.1,192 232.2,192.1 232.4,187.5 232.5,187.8 232.7,183.3 232.9,181.7 233,206 233.2,186.5 233.3,201.7 233.5,204 233.6,188 233.8,198.6 233.9,195.7 234.1,185.4 234.2,198.3 234.4,200 234.5,190.8 234.7,184.1 234.9,189.4 235,205 235.2,198.2 235.3,194.5 235.5,178.9 235.6,186.7 235.8,187.1 235.9,184.5 236.1,195.9 236.2,190 236.4,189.9 236.6,200.9 236.7,193.8 236.9,189.4 237,201.8 237.2,187.7 237.3,188.1 237.5,186 237.6,199.6 237.8,193 237.9,182.9 238.1,191.3 238.2,199.8 238.4,192.2 238.6,183.2 238.7,194.4 238.9,191.1 239,174.7 239.2,194.2 239.3,194.7 239.5,219.9 239.6,198.9 239.8,182.8 239.9,195 240.1,202.9 240.2,201 240.4,194 240.6,188.4 240.7,213.8 240.9,188.8 241,197.8 241.2,191.5 241.3,190.2 241.5,189.6 241.6,197.5 241.8,195.5 241.9,201.6 242.1,204 242.3,193.1 242.4,190.5 242.6,186.6 242.7,194.7 242.9,195.8 243,193.3 243.2,203.3 243.3,196 243.5,191.3 243.6,192.2 243.8,202.2 243.9,196.8 244.1,210.2 244.3,188.9 244.4,198.3 244.6,192.6 244.7,202.6 244.9,195 245,209.3 245.2,187 245.3,204.6 245.5,188 245.6,195.6 245.8,200.2 246,190.8 246.1,196.6 246.3,196.6 246.4,199.6 246.6,192.7 246.7,194.1 246.9,195.8 247,217 247.2,198.3 247.3,191.4 247.5,184.9 247.6,194.6 247.8,183.7 248,194.5 248.1,202.6 248.3,189.6 248.4,201.6 248.6,191.4 248.7,186.2 248.9,196.6 249,195 249.2,175.9 249.3,192.6 249.5,192.5 249.6,188.6 249.8,195.3 250,195.3 250.1,191.8 250.3,218.1 250.4,184 250.6,202.8 250.7,202.9 250.9,190.8 251,194.6 251.2,204.2 251.3,193.3 251.5,203.5 251.7,200.2 251.8,206.3 252,201.3 252.1,194.4 252.3,194.2 252.4,192.9 252.6,188.3 252.7,195.6 252.9,200.3 253,197.5 253.2,183.1 253.3,195.3 253.5,193.2 253.7,196.4 253.8,193.8 254,192.5 254.1,195.8 254.3,197 254.4,201.7 254.6,202.2 254.7,192.8 254.9,190.2 255,188.9 255.2,195.5 255.3,202.1 255.5,191.2 255.7,191.3 255.8,207.2 256,189.9 256.1,191.6 256.3,183.5 256.4,204.4 256.6,205.6 256.7,190.2 256.9,209.6 257,201.5 257.2,204.2 257.4,203.6 257.5,210.2 257.7,197.7 257.8,188.6 258,192.5 258.1,192.5 258.3,198.6 258.4,185 258.6,191.9 258.7,187.9 258.9,207.3 259,193.1 259.2,204.3 259.4,193.1 259.5,194.2 259.7,204.1 259.8,194.3 260,186.9 260.1,191.7 260.3,191 260.4,201.9 260.6,200.5 260.7,203.6 260.9,194.3 261.1,186.3 261.2,191.9 261.4,195.2 261.5,203.6 261.7,191.8 261.8,196.8 262,209.3 262.1,208 262.3,197.5 262.4,201.6 262.6,188.8 262.7,194.7 262.9,202.8 263.1,198.6 263.2,183.1 263.4,202.2 263.5,189.3 263.7,191.9 263.8,184.2 264,191.2 264.1,198.3 264.3,191.4 264.4,194.9 264.6,188.2 264.7,195.9 264.9,180.7 265.1,196.3 265.2,192.3 265.4,200.4 265.5,194.6 265.7,206.5 265.8,194.3 266,188.9 266.1,199.7 266.3,202 266.4,187.4 266.6,197.9 266.8,200.8 266.9,187.2 267.1,190 267.2,215.5 267.4,198.8 267.5,190.1 267.7,189.8 267.8,199.9 268,184.5 268.1,202.1 268.3,198 268.4,210.2 268.6,196.3 268.8,190.3 268.9,188.7 269.1,196.6 269.2,185.9 269.4,201.5 269.5,198 269.7,183.5 269.8,195.7 270,188.4 270.1,199.7 270.3,198.5 270.5,197.3 270.6,195.2 270.8,199 270.9,196.4 271.1,191.6 271.2,187.5 271.4,195.7 271.5,191.7 271.7,189.7 271.8,205.8 272,208.1 272.1,186.3 272.3,193.5 272.5,195.7 272.6,193.5 272.8,203.1 272.9,207.6 273.1,193.7 273.2,207.1 273.4,189.1 273.5,201 273.7,193.7 273.8,181.3 274,181.7 274.1,197.8 274.3,187.8 274.5,203.3 274.6,200 274.8,192.7 274.9,185.1 275.1,199.7 275.2,191.3 275.4,194.5 275.5,204.7 275.7,196.2 275.8,183.9 276,195.8 276.2,191.2 276.3,207.1 276.5,200.4 276.6,185.7 276.8,183.7 276.9,182.9 277.1,184.9 277.2,198.2 277.4,199.1 277.5,200.5 277.7,201.5 277.8,200.6 278,187.1 278.2,183.6 278.3,199.2 278.5,188.2 278.6,222.1 278.8,196.7 278.9,201.7 279.1,206.4 279.2,193.6 279.4,193.4 279.5,197.1 279.7,197.9 279.9,201.4 280,194.9 280.2,198.3 280.3,192.1 280.5,204.5 280.6,206.9 280.8,190.1 280.9,184.6 281.1,186.1 281.2,192.5 281.4,199.1 281.5,208.3 281.7,194 281.9,183.3 282,181.5 282.2,213.1 282.3,199.7 282.5,196.7 282.6,201.9 282.8,192.7 282.9,193.8 283.1,198.1 283.2,194.4 283.4,206.3 283.5,201.6 283.7,200.9 283.9,187.3 284,206.5 284.2,195.7 284.3,188.1 284.5,194.5 284.6,187.9 284.8,199.2 284.9,190.8 285.1,187.2 285.2,178.2 285.4,188.6 285.6,187.2 285.7,194.1 285.9,193.5 286,182.1 286.2,189.7 286.3,183.2 286.5,188.7 286.6,177.7 286.8,175.7 286.9,200.8 287.1,179.7 287.2,190.9 287.4,224 287.6,195.2 287.7,188.7 287.9,203 288,200 288.2,200.3 288.3,192 288.5,187.1 288.6,188.5 288.8,191.4 288.9,199 289.1,208.2 289.2,191.1 289.4,193.1 289.6,191.4 289.7,182.9 289.9,195.7 290,202.5 290.2,212.8 290.3,189.8 290.5,202.7 290.6,200.2 290.8,191.2 290.9,202.6 291.1,198.6 291.3,178.6 291.4,188.3 291.6,186.9 291.7,188.4 291.9,189.3 292,192.9 292.2,176 292.3,195 292.5,188.5 292.6,196.8 292.8,197.3 292.9,214.3 293.1,210.1 293.3,181.9 293.4,182.4 293.6,198.1 293.7,194.8 293.9,189.5 294,202.7 294.2,180.1 294.3,203.2 294.5,200.5 294.6,216.1 294.8,191.4 295,194.2 295.1,181.2 295.3,202.9 295.4,191.8 295.6,194.1 295.7,193 295.9,177.5 296,175.8 296.2,183.1 296.3,197.8 296.5,187.1 296.6,183.3 296.8,189.9 297,189.8 297.1,190.5 297.3,202 297.4,192.4 297.6,181 297.7,202.6 297.9,193.6 298,187.2 298.2,205.6 298.3,195.3 298.5,208.3 298.6,199.1 298.8,207.4 299,201.4 299.1,198 299.3,196.2 299.4,195.6 299.6,213.9 299.7,180.6 299.9,196.1 300,202.9 300.2,199 300.3,191.1 300.5,202.1 300.7,197.1 300.8,197.5 301,189 301.1,199.7 301.3,189.6 301.4,190.5 301.6,194.5 301.7,184.1 301.9,193 302,202.9 302.2,190.6 302.3,192.1 302.5,193.5 302.7,191.2 302.8,173.5 303,191.1 303.1,189.3 303.3,195.2 303.4,182.2 303.6,193.7 303.7,200 303.9,203.5 304,188.8 304.2,187.1 304.4,206.6 304.5,200.2 304.7,188.2 304.8,185 305,204.7 305.1,210.5 305.3,186.9 305.4,198.3 305.6,197.7 305.7,198.6 305.9,219 306,193.9 306.2,191.9 306.4,206.2 306.5,193.8 306.7,185.5 306.8,223 307,187 307.1,199.6 307.3,183.7 307.4,201.8 307.6,179.6 307.7,199.2 307.9,201.7 308,203.3 308.2,199.4 308.4,200.2 308.5,202 308.7,199.1 308.8,192.2 309,189.1 309.1,199.4 309.3,186.5 309.4,205.2 309.6,205.6 309.7,206.5 309.9,192.1 310.1,210.3 310.2,209.1 310.4,186.9 310.5,183.3 310.7,186.5 310.8,210.3 311,197.8 311.1,191 311.3,197.3 311.4,211.6 311.6,201.1 311.7,212.5 311.9,208.6 312.1,180.4 312.2,192.7 312.4,210.6 312.5,210.9 312.7,194.6 312.8,203.5 313,193.6 313.1,203.8 313.3,200 313.4,196.4 313.6,207 313.8,214.4 313.9,208.4 314.1,204.2 314.2,200 314.4,198.7 314.5,200.4 314.7,193.9 314.8,205.6 315,186.4 315.1,181.3 315.3,194.9 315.4,196.3 315.6,187.4 315.8,192.3 315.9,196 316.1,198.9 316.2,203.6 316.4,207.1 316.5,191.8 316.7,187.4 316.8,206.1 317,197.9 317.1,195.4 317.3,200.8 317.4,203.5 317.6,200.4 317.8,213.5 317.9,197.5 318.1,199.4 318.2,179.3 318.4,189.1 318.5,199.8 318.7,196.9 318.8,182.5 319,183.4 319.1,195.2 319.3,197.8 319.5,208.8 319.6,199.5 319.8,198.1 319.9,202.8 320.1,182.1 320.2,212.2 320.4,197.7 320.5,198.1 320.7,192.8 320.8,182.4 321,208.1 321.1,204.7 321.3,195.6 321.5,195.4 321.6,199.8 321.8,203 321.9,187.6 322.1,213 322.2,201.4 322.4,184.7 322.5,182.2 322.7,189.4 322.8,203.8 323,206.2 323.1,204.1 323.3,206 323.5,199.9 323.6,185.9 323.8,194.7 323.9,202.9 324.1,203.1 324.2,206.4 324.4,200.6 324.5,213.6 324.7,194.4 324.8,208.7 325,222 325.2,209.1 325.3,188.6 325.5,206.1 325.6,174.7 325.8,205.2 325.9,205.7 326.1,191.7 326.2,191.9 326.4,198.9 326.5,213.4 326.7,184.5 326.8,191.8 327,193.2 327.2,201.5 327.3,191.2 327.5,201.3 327.6,196.2 327.8,198.2 327.9,186.2 328.1,200.6 328.2,199.6 328.4,187.5 328.5,194.8 328.7,196.8 328.9,198.7 329,188.7 329.2,202 329.3,192.5 329.5,179.6 329.6,193.2 329.8,203.1 329.9,206.6 330.1,195.3 330.2,206.8 330.4,209.9 330.5,202.9 330.7,205.7 330.9,189.3 331,208.7 331.2,183.5 331.3,203 331.5,197.2 331.6,191.1 331.8,194.9 331.9,190.8 332.1,205 332.2,215.7 332.4,198.4 332.5,210.7 332.7,201.5 332.9,188.8 333,198.3 333.2,201.7 333.3,206.1 333.5,199.1 333.6,198.1 333.8,209.9 333.9,194.2 334.1,205.7 334.2,194.8 334.4,200.4 334.6,188.3 334.7,189.4 334.9,196.4 335,197.3 335.2,192.7 335.3,184.8 335.5,187.5 335.6,200.2 335.8,193.6 335.9,183 336.1,209.8 336.2,191.6 336.4,203.6 336.6,184.8 336.7,200.1 336.9,196.9 337,204.9 337.2,195.6 337.3,189 337.5,181.6 337.6,206.4 337.8,199.1 337.9,173.5 338.1,187.5 338.3,201.9 338.4,190.8 338.6,216.8 338.7,181.7 338.9,193.9 339,207.1 339.2,185.3 339.3,200.3 339.5,203.5 339.6,190.5 339.8,191.5 339.9,198.7 340.1,195.5 340.3,206.1 340.4,207 340.6,187.4 340.7,183.9 340.9,191.4 341,191.9 341.2,198.3 341.3,196.1 341.5,202.8 341.6,180.3 341.8,199.8 341.9,191.6 342.1,195.1 342.3,206.8 342.4,179 342.6,198.3 342.7,201.7 342.9,194.3 343,202.8 343.2,195.1 343.3,203.4 343.5,190.7 343.6,213.3 343.8,206.9 344,186.9 344.1,196 344.3,204.9 344.4,192.8 344.6,192.2 344.7,183.5 344.9,203.1 345,188.8 345.2,196.8 345.3,190.9 345.5,198.3 345.6,196.6 345.8,201.6 346,206.1 346.1,213.8 346.3,196.4 346.4,200 346.6,195.6 346.7,190.9 346.9,198.2 347,186.4 347.2,196.7 347.3,195.4 347.5,189.4 347.7,191.4 347.8,197.1 348,195.3 348.1,202.7 348.3,201.6 348.4,195.6 348.6,189.6 348.7,200.1 348.9,189.5 349,180.2 349.2,178.5 349.3,196.2 349.5,187.6 349.7,191.3 349.8,189.8 350,189.5 350.1,192.1 350.3,189.5 350.4,194.9 350.6,198.6 350.7,194.4 350.9,192.4 351,186.3 351.2,193.4 351.3,190.3 351.5,184.6 351.7,206.8 351.8,198.8 352,192.1 352.1,196.4 352.3,205 352.4,188.3 352.6,197.1 352.7,205 352.9,196.3 353,207.5 353.2,196.9 353.4,220.8 353.5,195.9 353.7,192.1 353.8,203.7 354,197.8 354.1,198.1 354.3,205.4 354.4,187.3 354.6,195.6 354.7,199.6 354.9,202.8 355,200.1 355.2,196.1 355.4,201.2 355.5,186.9 355.7,218.6 355.8,215.3 356,199.6 356.1,212.9 356.3,198.1 356.4,203.1 356.6,192.9 356.7,194.4 356.9,187 357.1,190.3 357.2,187.6 357.4,193.7 357.5,189.3 357.7,194 357.8,203.2 358,208.7 358.1,208.4 358.3,194.3 358.4,218.3 358.6,197 358.7,204.3 358.9,191.2 359.1,195.1 359.2,202.7 359.4,214.1 359.5,214.9 359.7,192.4 359.8,190.1 360,209.7 360.1,185.6 360.3,193.7 360.4,190.6 360.6,204.2 360.7,185.5 360.9,185.2 361.1,190 361.2,198.2 361.4,181.7 361.5,176.6 361.7,183.7 361.8,177.6 362,191.7 362.1,184.2 362.3,184.8 362.4,183.1 362.6,159.7 362.8,178.7 362.9,187.2 363.1,173 363.2,190.6 363.4,175.7 363.5,170.8 363.7,182.3 363.8,179.8 364,185 364.1,173.5 364.3,180.6 364.4,155.8 364.6,165.7 364.8,173.6 364.9,184.7 365.1,148.9 365.2,155.4 365.4,163 365.5,164.8 365.7,164.3 365.8,170.1 366,144.8 366.1,161.3 366.3,177.6 366.4,168.6 366.6,188.1 366.8,153 366.9,151 367.1,139.3 367.2,134.9 367.4,165 367.5,150.9 367.7,144.1 367.8,145.5 368,158.9 368.1,143.7 368.3,146.3 368.5,135.9 368.6,150.5" stroke="#ffc000" stroke-width="0.35"/>
<path d="M32.7 172.8h4.6v4.6h-4.6zM33 184.9h4.6v4.6h-4.6zM33.3 191.4h4.6v4.6h-4.6zM33.6 203.1h4.6v4.6h-4.6zM33.9 194.4h4.6v4.6h-4.6zM34.2 186.2h4.6v4.6h-4.6zM34.5 189.9h4.6v4.6h-4.6zM34.9 195.6h4.6v4.6h-4.6zM35.2 184h4.6v4.6h-4.6zM35.5 180.4h4.6v4.6h-4.6zM35.8 187.5h4.6v4.6h-4.6zM36.1 183.6h4.6v4.6h-4.6zM36.4 189.1h4.6v4.6h-4.6zM36.7 191.6h4.6v4.6h-4.6zM37 189.7h4.6v4.6h-4.6zM37.3 194.7h4.6v4.6h-4.6zM37.6 181.5h4.6v4.6h-4.6zM37.9 196.7h4.6v4.6h-4.6zM38.2 211.6h4.6v4.6h-4.6zM38.6 195.9h4.6v4.6h-4.6zM38.9 186.7h4.6v4.6h-4.6zM39.2 195.3h4.6v4.6h-4.6zM39.5 189h4.6v4.6h-4.6zM39.8 178.8h4.6v4.6h-4.6zM40.1 188h4.6v4.6h-4.6zM40.4 191.1h4.6v4.6h-4.6zM40.7 185.3h4.6v4.6h-4.6zM41 191.5h4.6v4.6h-4.6zM41.3 188.3h4.6v4.6h-4.6zM41.6 189.4h4.6v4.6h-4.6zM41.9 202.7h4.6v4.6h-4.6zM42.3 197.7h4.6v4.6h-4.6zM42.6 205.9h4.6v4.6h-4.6zM42.9 185.4h4.6v4.6h-4.6zM43.2 225.4h4.6v4.6h-4.6zM43.5 188.6h4.6v4.6h-4.6zM43.8 180.9h4.6v4.6h-4.6zM44.1 188.6h4.6v4.6h-4.6zM44.4 182.3h4.6v4.6h-4.6zM44.7 194.2h4.6v4.6h-4.6zM45 178.9h4.6v4.6h-4.6zM45.3 186h4.6v4.6h-4.6zM45.6 188.9h4.6v4.6h-4.6zM46 197.6h4.6v4.6h-4.6zM46.3 181.3h4.6v4.6h-4.6zM46.6 196.1h4.6v4.6h-4.6zM46.9 189.9h4.6v4.6h-4.6zM47.2 200.9h4.6v4.6h-4.6zM47.5 191.5h4.6v4.6h-4.6zM47.8 185.7h4.6v4.6h-4.6zM48.1 193.6h4.6v4.6h-4.6zM48.4 193h4.6v4.6h-4.6zM48.7 197h4.6v4.6h-4.6zM49 193.3h4.6v4.6h-4.6zM49.3 189.4h4.6v4.6h-4.6zM49.7 179.7h4.6v4.6h-4.6zM50 206.2h4.6v4.6h-4.6zM50.3 213.7h4.6v4.6h-4.6zM50.6 207.9h4.6v4.6h-4.6zM50.9 182.6h4.6v4.6h-4.6zM51.2 206.9h4.6v4.6h-4.6zM51.5 190h4.6v4.6h-4.6zM51.8 174.9h4.6v4.6h-4.6zM52.1 184.4h4.6v4.6h-4.6zM52.4 176.8h4.6v4.6h-4.6zM52.7 179.6h4.6v4.6h-4.6zM53 191.2h4.6v4.6h-4.6zM53.3 196.7h4.6v4.6h-4.6zM53.7 191.8h4.6v4.6h-4.6zM54 195.6h4.6v4.6h-4.6zM54.3 196.3h4.6v4.6h-4.6zM54.6 170.6h4.6v4.6h-4.6zM54.9 193.3h4.6v4.6h-4.6zM55.2 199.2h4.6v4.6h-4.6zM55.5 182.6h4.6v4.6h-4.6zM55.8 186.5h4.6v4.6h-4.6zM56.1 188h4.6v4.6h-4.6zM56.4 192.5h4.6v4.6h-4.6zM56.7 195h4.6v4.6h-4.6zM57 195.2h4.6v4.6h-4.6zM57.4 187.4h4.6v4.6h-4.6zM57.7 190.3h4.6v4.6h-4.6zM58 184.3h4.6v4.6h-4.6zM58.3 205h4.6v4.6h-4.6zM58.6 193h4.6v4.6h-4.6zM58.9 183.2h4.6v4.6h-4.6zM59.2 181.8h4.6v4.6h-4.6zM59.5 177.5h4.6v4.6h-4.6zM59.8 198.1h4.6v4.6h-4.6zM60.1 194h4.6v4.6h-4.6zM60.4 189.6h4.6v4.6h-4.6zM60.7 190.3h4.6v4.6h-4.6zM61.1 189h4.6v4.6h-4.6zM61.4 194.8h4.6v4.6h-4.6zM61.7 201.1h4.6v4.6h-4.6zM62 195.5h4.6v4.6h-4.6zM62.3 195.5h4.6v4.6h-4.6zM62.6 196.1h4.6v4.6h-4.6zM62.9 189.8h4.6v4.6h-4.6zM63.2 189.8h4.6v4.6h-4.6zM63.5 178.8h4.6v4.6h-4.6zM63.8 189.6h4.6v4.6h-4.6zM64.1 203.2h4.6v4.6h-4.6zM64.4 204.4h4.6v4.6h-4.6zM64.8 225.2h4.6v4.6h-4.6zM65.1 191.7h4.6v4.6h-4.6zM65.4 188.5h4.6v4.6h-4.6zM65.7 192.5h4.6v4.6h-4.6zM66 192.1h4.6v4.6h-4.6zM66.3 197.3h4.6v4.6h-4.6zM66.6 207.2h4.6v4.6h-4.6zM66.9 200.1h4.6v4.6h-4.6zM67.2 181.5h4.6v4.6h-4.6zM67.5 189.8h4.6v4.6h-4.6zM67.8 198.7h4.6v4.6h-4.6zM68.1 194.3h4.6v4.6h-4.6zM68.4 192.6h4.6v4.6h-4.6zM68.8 189.8h4.6v4.6h-4.6zM69.1 185.9h4.6v4.6h-4.6zM69.4 199.1h4.6v4.6h-4.6zM69.7 191h4.6v4.6h-4.6zM70 177.3h4.6v4.6h-4.6zM70.3 197.9h4.6v4.6h-4.6zM70.6 190.7h4.6v4.6h-4.6zM70.9 191.6h4.6v4.6h-4.6zM71.2 186.4h4.6v4.6h-4.6zM71.5 173.1h4.6v4.6h-4.6zM71.8 188.2h4.6v4.6h-4.6zM72.1 185.6h4.6v4.6h-4.6zM72.5 177h4.6v4.6h-4.6zM72.8 190h4.6v4.6h-4.6zM73.1 195.8h4.6v4.6h-4.6zM73.4 183h4.6v4.6h-4.6zM73.7 181.4h4.6v4.6h-4.6zM74 190.2h4.6v4.6h-4.6zM74.3 185.9h4.6v4.6h-4.6zM74.6 185h4.6v4.6h-4.6zM74.9 188.7h4.6v4.6h-4.6zM75.2 185.3h4.6v4.6h-4.6zM75.5 192.3h4.6v4.6h-4.6zM75.8 191.7h4.6v4.6h-4.6zM76.2 204.6h4.6v4.6h-4.6zM76.5 181.9h4.6v4.6h-4.6zM76.8 198h4.6v4.6h-4.6zM77.1 194.9h4.6v4.6h-4.6zM77.4 216.3h4.6v4.6h-4.6zM77.7 177.1h4.6v4.6h-4.6zM78 176.8h4.6v4.6h-4.6zM78.3 183.1h4.6v4.6h-4.6zM78.6 207.5h4.6v4.6h-4.6zM78.9 189.2h4.6v4.6h-4.6zM79.2 200.7h4.6v4.6h-4.6zM79.5 195.4h4.6v4.6h-4.6zM79.9 195.5h4.6v4.6h-4.6zM80.2 193.8h4.6v4.6h-4.6zM80.5 178.8h4.6v4.6h-4.6zM80.8 201.4h4.6v4.6h-4.6zM81.1 190.3h4.6v4.6h-4.6zM81.4 188h4.6v4.6h-4.6zM81.7 193.3h4.6v4.6h-4.6zM82 193.4h4.6v4.6h-4.6zM82.3 199.5h4.6v4.6h-4.6zM82.6 193.3h4.6v4.6h-4.6zM82.9 196.8h4.6v4.6h-4.6zM83.2 190.5h4.6v4.6h-4.6zM83.5 184.6h4.6v4.6h-4.6zM83.9 183.9h4.6v4.6h-4.6zM84.2 194.9h4.6v4.6h-4.6zM84.5 195.6h4.6v4.6h-4.6zM84.8 183.8h4.6v4.6h-4.6zM85.1 178.6h4.6v4.6h-4.6zM85.4 198.6h4.6v4.6h-4.6zM85.7 197.9h4.6v4.6h-4.6zM86 178.9h4.6v4.6h-4.6zM86.3 190.5h4.6v4.6h-4.6zM86.6 183.7h4.6v4.6h-4.6zM86.9 185.4h4.6v4.6h-4.6zM87.2 172.6h4.6v4.6h-4.6zM87.6 197h4.6v4.6h-4.6zM87.9 193.2h4.6v4.6h-4.6zM88.2 189.2h4.6v4.6h-4.6zM88.5 195.2h4.6v4.6h-4.6zM88.8 209.5h4.6v4.6h-4.6zM89.1 178.9h4.6v4.6h-4.6zM89.4 195.7h4.6v4.6h-4.6zM89.7 186.1h4.6v4.6h-4.6zM90 199.3h4.6v4.6h-4.6zM90.3 188.5h4.6v4.6h-4.6zM90.6 201.5h4.6v4.6h-4.6zM90.9 187.3h4.6v4.6h-4.6zM91.3 194.2h4.6v4.6h-4.6zM91.6 192.8h4.6v4.6h-4.6zM91.9 182.2h4.6v4.6h-4.6zM92.2 180.1h4.6v4.6h-4.6zM92.5 190.7h4.6v4.6h-4.6zM92.8 187.9h4.6v4.6h-4.6zM93.1 188.8h4.6v4.6h-4.6zM93.4 193.5h4.6v4.6h-4.6zM93.7 197h4.6v4.6h-4.6zM94 188.6h4.6v4.6h-4.6zM94.3 199.7h4.6v4.6h-4.6zM94.6 178.8h4.6v4.6h-4.6zM95 195h4.6v4.6h-4.6zM95.3 178.8h4.6v4.6h-4.6zM95.6 183.4h4.6v4.6h-4.6zM95.9 185.3h4.6v4.6h-4.6zM96.2 195.2h4.6v4.6h-4.6zM96.5 187.6h4.6v4.6h-4.6zM96.8 204.7h4.6v4.6h-4.6zM97.1 182.1h4.6v4.6h-4.6zM97.4 186h4.6v4.6h-4.6zM97.7 225.7h4.6v4.6h-4.6zM98 190.6h4.6v4.6h-4.6zM98.3 180h4.6v4.6h-4.6zM98.7 188.9h4.6v4.6h-4.6zM99 181.7h4.6v4.6h-4.6zM99.3 209.3h4.6v4.6h-4.6zM99.6 198h4.6v4.6h-4.6zM99.9 189.1h4.6v4.6h-4.6zM100.2 197.9h4.6v4.6h-4.6zM100.5 203.3h4.6v4.6h-4.6zM100.8 201.9h4.6v4.6h-4.6zM101.1 185.4h4.6v4.6h-4.6zM101.4 196.3h4.6v4.6h-4.6zM101.7 186.8h4.6v4.6h-4.6zM102 190.7h4.6v4.6h-4.6zM102.3 195.9h4.6v4.6h-4.6zM102.7 194.6h4.6v4.6h-4.6zM103 183.3h4.6v4.6h-4.6zM103.3 191h4.6v4.6h-4.6zM103.6 184.4h4.6v4.6h-4.6zM103.9 184.6h4.6v4.6h-4.6zM104.2 196.1h4.6v4.6h-4.6zM104.5 191.8h4.6v4.6h-4.6zM104.8 171.6h4.6v4.6h-4.6zM105.1 191h4.6v4.6h-4.6zM105.4 189.6h4.6v4.6h-4.6zM105.7 199.3h4.6v4.6h-4.6zM106 202.9h4.6v4.6h-4.6zM106.4 197.6h4.6v4.6h-4.6zM106.7 184.8h4.6v4.6h-4.6zM107 202.3h4.6v4.6h-4.6zM107.3 186.6h4.6v4.6h-4.6zM107.6 200.2h4.6v4.6h-4.6zM107.9 191.9h4.6v4.6h-4.6zM108.2 184.9h4.6v4.6h-4.6zM108.5 219.3h4.6v4.6h-4.6zM108.8 185.8h4.6v4.6h-4.6zM109.1 180.8h4.6v4.6h-4.6zM109.4 201.2h4.6v4.6h-4.6zM109.7 190h4.6v4.6h-4.6zM110.1 189.7h4.6v4.6h-4.6zM110.4 187.8h4.6v4.6h-4.6zM110.7 188.9h4.6v4.6h-4.6zM111 187.8h4.6v4.6h-4.6zM111.3 188.8h4.6v4.6h-4.6zM111.6 187.8h4.6v4.6h-4.6zM111.9 192.8h4.6v4.6h-4.6zM112.2 191.1h4.6v4.6h-4.6zM112.5 198.3h4.6v4.6h-4.6zM112.8 189.6h4.6v4.6h-4.6zM113.1 189.7h4.6v4.6h-4.6zM113.4 195.7h4.6v4.6h-4.6zM113.8 178.2h4.6v4.6h-4.6zM114.1 189.5h4.6v4.6h-4.6zM114.4 196.1h4.6v4.6h-4.6zM114.7 191h4.6v4.6h-4.6zM115 189.2h4.6v4.6h-4.6zM115.3 180.4h4.6v4.6h-4.6zM115.6 190.7h4.6v4.6h-4.6zM115.9 186.7h4.6v4.6h-4.6zM116.2 199.9h4.6v4.6h-4.6zM116.5 192.3h4.6v4.6h-4.6zM116.8 188.2h4.6v4.6h-4.6zM117.1 189.9h4.6v4.6h-4.6zM117.5 195.4h4.6v4.6h-4.6zM117.8 192.6h4.6v4.6h-4.6zM118.1 184.8h4.6v4.6h-4.6zM118.4 189.4h4.6v4.6h-4.6zM118.7 196.5h4.6v4.6h-4.6zM119 176.5h4.6v4.6h-4.6zM119.3 206.3h4.6v4.6h-4.6zM119.6 197.5h4.6v4.6h-4.6zM119.9 193.3h4.6v4.6h-4.6zM120.2 185.3h4.6v4.6h-4.6zM120.5 188.3h4.6v4.6h-4.6zM120.8 186.5h4.6v4.6h-4.6zM121.1 194.8h4.6v4.6h-4.6zM121.5 193.6h4.6v4.6h-4.6zM121.8 189.5h4.6v4.6h-4.6zM122.1 219.3h4.6v4.6h-4.6zM122.4 188.1h4.6v4.6h-4.6zM122.7 182.9h4.6v4.6h-4.6zM123 197.1h4.6v4.6h-4.6zM123.3 199.5h4.6v4.6h-4.6zM123.6 193h4.6v4.6h-4.6zM123.9 186h4.6v4.6h-4.6zM124.2 185.3h4.6v4.6h-4.6zM124.5 189.2h4.6v4.6h-4.6zM124.8 189.1h4.6v4.6h-4.6zM125.2 193.5h4.6v4.6h-4.6zM125.5 196.9h4.6v4.6h-4.6zM125.8 185.8h4.6v4.6h-4.6zM126.1 182.8h4.6v4.6h-4.6zM126.4 193.1h4.6v4.6h-4.6zM126.7 189.6h4.6v4.6h-4.6zM127 204.7h4.6v4.6h-4.6zM127.3 179h4.6v4.6h-4.6zM127.6 187.5h4.6v4.6h-4.6zM127.9 181.8h4.6v4.6h-4.6zM128.2 191.2h4.6v4.6h-4.6zM128.5 192h4.6v4.6h-4.6zM128.9 185.1h4.6v4.6h-4.6zM129.2 189.4h4.6v4.6h-4.6zM129.5 191.8h4.6v4.6h-4.6zM129.8 196.3h4.6v4.6h-4.6zM130.1 179.7h4.6v4.6h-4.6zM130.4 179.7h4.6v4.6h-4.6zM130.7 193.8h4.6v4.6h-4.6zM131 196h4.6v4.6h-4.6zM131.3 193.5h4.6v4.6h-4.6zM131.6 199.9h4.6v4.6h-4.6zM131.9 181.5h4.6v4.6h-4.6zM132.2 189.1h4.6v4.6h-4.6zM132.6 186h4.6v4.6h-4.6zM132.9 197.6h4.6v4.6h-4.6zM133.2 195.4h4.6v4.6h-4.6zM133.5 189.5h4.6v4.6h-4.6zM133.8 190.6h4.6v4.6h-4.6zM134.1 181.3h4.6v4.6h-4.6zM134.4 189.1h4.6v4.6h-4.6zM134.7 199.8h4.6v4.6h-4.6zM135 204.5h4.6v4.6h-4.6zM135.3 183.1h4.6v4.6h-4.6zM135.6 181.7h4.6v4.6h-4.6zM135.9 201.5h4.6v4.6h-4.6zM136.2 182.8h4.6v4.6h-4.6zM136.6 182.4h4.6v4.6h-4.6zM136.9 181.9h4.6v4.6h-4.6zM137.2 187.5h4.6v4.6h-4.6zM137.5 178.9h4.6v4.6h-4.6zM137.8 193.1h4.6v4.6h-4.6zM138.1 199.6h4.6v4.6h-4.6zM138.4 185.8h4.6v4.6h-4.6zM138.7 193.3h4.6v4.6h-4.6zM139 186.2h4.6v4.6h-4.6zM139.3 184.6h4.6v4.6h-4.6zM139.6 198.7h4.6v4.6h-4.6zM139.9 189.6h4.6v4.6h-4.6zM140.3 183.7h4.6v4.6h-4.6zM140.6 189.7h4.6v4.6h-4.6zM140.9 187.3h4.6v4.6h-4.6zM141.2 192.4h4.6v4.6h-4.6zM141.5 191.7h4.6v4.6h-4.6zM141.8 188.1h4.6v4.6h-4.6zM142.1 202.9h4.6v4.6h-4.6zM142.4 186.7h4.6v4.6h-4.6zM142.7 202.2h4.6v4.6h-4.6zM143 208.8h4.6v4.6h-4.6zM143.3 173.6h4.6v4.6h-4.6zM143.6 187.5h4.6v4.6h-4.6zM144 179h4.6v4.6h-4.6zM144.3 187.2h4.6v4.6h-4.6zM144.6 215.3h4.6v4.6h-4.6zM144.9 199.7h4.6v4.6h-4.6zM145.2 189.3h4.6v4.6h-4.6zM145.5 185.4h4.6v4.6h-4.6zM145.8 191.2h4.6v4.6h-4.6zM146.1 192.8h4.6v4.6h-4.6zM146.4 182.8h4.6v4.6h-4.6zM146.7 185.8h4.6v4.6h-4.6zM147 195.2h4.6v4.6h-4.6zM147.3 204.5h4.6v4.6h-4.6zM147.7 177.6h4.6v4.6h-4.6zM148 189.2h4.6v4.6h-4.6zM148.3 192.5h4.6v4.6h-4.6zM148.6 191.5h4.6v4.6h-4.6zM148.9 187.8h4.6v4.6h-4.6zM149.2 186.7h4.6v4.6h-4.6zM149.5 189.2h4.6v4.6h-4.6zM149.8 195.1h4.6v4.6h-4.6zM150.1 188.4h4.6v4.6h-4.6zM150.4 185.5h4.6v4.6h-4.6zM150.7 176.7h4.6v4.6h-4.6zM151 193.9h4.6v4.6h-4.6zM151.3 196.5h4.6v4.6h-4.6zM151.7 174.4h4.6v4.6h-4.6zM152 197.4h4.6v4.6h-4.6zM152.3 191.5h4.6v4.6h-4.6zM152.6 189h4.6v4.6h-4.6zM152.9 187.7h4.6v4.6h-4.6zM153.2 218.2h4.6v4.6h-4.6zM153.5 180.8h4.6v4.6h-4.6zM153.8 202.2h4.6v4.6h-4.6zM154.1 190.5h4.6v4.6h-4.6zM154.4 189.3h4.6v4.6h-4.6zM154.7 189.6h4.6v4.6h-4.6zM155 191.7h4.6v4.6h-4.6zM155.4 211h4.6v4.6h-4.6zM155.7 203.9h4.6v4.6h-4.6zM156 186.4h4.6v4.6h-4.6zM156.3 194.7h4.6v4.6h-4.6zM156.6 183.2h4.6v4.6h-4.6zM156.9 185.2h4.6v4.6h-4.6zM157.2 190.3h4.6v4.6h-4.6zM157.5 197.6h4.6v4.6h-4.6zM157.8 199.1h4.6v4.6h-4.6zM158.1 200.1h4.6v4.6h-4.6zM158.4 199.3h4.6v4.6h-4.6zM158.7 200.9h4.6v4.6h-4.6zM159.1 178.5h4.6v4.6h-4.6zM159.4 198.1h4.6v4.6h-4.6zM159.7 175.9h4.6v4.6h-4.6zM160 203.8h4.6v4.6h-4.6zM160.3 192.8h4.6v4.6h-4.6zM160.6 196.7h4.6v4.6h-4.6zM160.9 192.9h4.6v4.6h-4.6zM161.2 180.5h4.6v4.6h-4.6zM161.5 203.9h4.6v4.6h-4.6zM161.8 195.6h4.6v4.6h-4.6zM162.1 192.1h4.6v4.6h-4.6zM162.4 196.9h4.6v4.6h-4.6zM162.8 187.2h4.6v4.6h-4.6zM163.1 179.5h4.6v4.6h-4.6zM163.4 184.2h4.6v4.6h-4.6zM163.7 187.5h4.6v4.6h-4.6zM164 185h4.6v4.6h-4.6zM164.3 197.6h4.6v4.6h-4.6zM164.6 186.1h4.6v4.6h-4.6zM164.9 194.3h4.6v4.6h-4.6zM165.2 188.4h4.6v4.6h-4.6zM165.5 189.3h4.6v4.6h-4.6zM165.8 179.4h4.6v4.6h-4.6zM166.1 200h4.6v4.6h-4.6zM166.5 189.2h4.6v4.6h-4.6zM166.8 188.7h4.6v4.6h-4.6zM167.1 193.6h4.6v4.6h-4.6zM167.4 184.3h4.6v4.6h-4.6zM167.7 184.7h4.6v4.6h-4.6zM168 188.5h4.6v4.6h-4.6zM168.3 183.8h4.6v4.6h-4.6zM168.6 194.5h4.6v4.6h-4.6zM168.9 180.6h4.6v4.6h-4.6zM169.2 195.8h4.6v4.6h-4.6zM169.5 198h4.6v4.6h-4.6zM169.8 203.7h4.6v4.6h-4.6zM170.1 185.3h4.6v4.6h-4.6zM170.5 191.3h4.6v4.6h-4.6zM170.8 184.5h4.6v4.6h-4.6zM171.1 208.3h4.6v4.6h-4.6zM171.4 188.8h4.6v4.6h-4.6zM171.7 198.6h4.6v4.6h-4.6zM172 199.8h4.6v4.6h-4.6zM172.3 186.6h4.6v4.6h-4.6zM172.6 187h4.6v4.6h-4.6zM172.9 178.2h4.6v4.6h-4.6zM173.2 198.8h4.6v4.6h-4.6zM173.5 183.7h4.6v4.6h-4.6zM173.8 186.4h4.6v4.6h-4.6zM174.2 183.6h4.6v4.6h-4.6zM174.5 194.4h4.6v4.6h-4.6zM174.8 201.5h4.6v4.6h-4.6zM175.1 195.2h4.6v4.6h-4.6zM175.4 178.4h4.6v4.6h-4.6zM175.7 197.5h4.6v4.6h-4.6zM176 186.2h4.6v4.6h-4.6zM176.3 194.3h4.6v4.6h-4.6zM176.6 189.2h4.6v4.6h-4.6zM176.9 188.9h4.6v4.6h-4.6zM177.2 176.9h4.6v4.6h-4.6zM177.5 170.5h4.6v4.6h-4.6zM177.9 180.2h4.6v4.6h-4.6zM178.2 187.2h4.6v4.6h-4.6zM178.5 193.1h4.6v4.6h-4.6zM178.8 184.8h4.6v4.6h-4.6zM179.1 190.5h4.6v4.6h-4.6zM179.4 184.4h4.6v4.6h-4.6zM179.7 191.6h4.6v4.6h-4.6zM180 197.9h4.6v4.6h-4.6zM180.3 177.8h4.6v4.6h-4.6zM180.6 188.9h4.6v4.6h-4.6zM180.9 180h4.6v4.6h-4.6zM181.2 191.5h4.6v4.6h-4.6zM181.6 195.5h4.6v4.6h-4.6zM181.9 183.5h4.6v4.6h-4.6zM182.2 180.7h4.6v4.6h-4.6zM182.5 187.2h4.6v4.6h-4.6zM182.8 195.5h4.6v4.6h-4.6zM183.1 185.9h4.6v4.6h-4.6zM183.4 197.8h4.6v4.6h-4.6zM183.7 192.4h4.6v4.6h-4.6zM184 196.2h4.6v4.6h-4.6zM184.3 183.8h4.6v4.6h-4.6zM184.6 184.8h4.6v4.6h-4.6zM184.9 194.2h4.6v4.6h-4.6zM185.2 191.6h4.6v4.6h-4.6zM185.6 207.2h4.6v4.6h-4.6zM185.9 198.6h4.6v4.6h-4.6zM186.2 185.9h4.6v4.6h-4.6zM186.5 190.4h4.6v4.6h-4.6zM186.8 200.4h4.6v4.6h-4.6zM187.1 199.2h4.6v4.6h-4.6zM187.4 210.1h4.6v4.6h-4.6zM187.7 227.9h4.6v4.6h-4.6zM188 193.4h4.6v4.6h-4.6zM188.3 200.9h4.6v4.6h-4.6zM188.6 190.6h4.6v4.6h-4.6zM188.9 183h4.6v4.6h-4.6zM189.3 196h4.6v4.6h-4.6zM189.6 197.2h4.6v4.6h-4.6zM189.9 183.8h4.6v4.6h-4.6zM190.2 191.5h4.6v4.6h-4.6zM190.5 200.6h4.6v4.6h-4.6zM190.8 188.7h4.6v4.6h-4.6zM191.1 189h4.6v4.6h-4.6zM191.4 208.3h4.6v4.6h-4.6zM191.7 213.8h4.6v4.6h-4.6zM192 189.6h4.6v4.6h-4.6zM192.3 191.1h4.6v4.6h-4.6zM192.6 183h4.6v4.6h-4.6zM193 188.1h4.6v4.6h-4.6zM193.3 192.2h4.6v4.6h-4.6zM193.6 191.9h4.6v4.6h-4.6zM193.9 199.4h4.6v4.6h-4.6zM194.2 203.8h4.6v4.6h-4.6zM194.5 181.2h4.6v4.6h-4.6zM194.8 198.7h4.6v4.6h-4.6zM195.1 185.2h4.6v4.6h-4.6zM195.4 201.5h4.6v4.6h-4.6zM195.7 190h4.6v4.6h-4.6zM196 188.8h4.6v4.6h-4.6zM196.3 189.1h4.6v4.6h-4.6zM196.7 193.4h4.6v4.6h-4.6zM197 185.5h4.6v4.6h-4.6zM197.3 207.5h4.6v4.6h-4.6zM197.6 185.3h4.6v4.6h-4.6zM197.9 184h4.6v4.6h-4.6zM198.2 197.6h4.6v4.6h-4.6zM198.5 192.8h4.6v4.6h-4.6zM198.8 192.9h4.6v4.6h-4.6zM199.1 214.6h4.6v4.6h-4.6zM199.4 184.3h4.6v4.6h-4.6zM199.7 185.5h4.6v4.6h-4.6zM200 190.4h4.6v4.6h-4.6zM200.4 196.4h4.6v4.6h-4.6zM200.7 197.3h4.6v4.6h-4.6zM201 188.6h4.6v4.6h-4.6zM201.3 190.7h4.6v4.6h-4.6zM201.6 193.4h4.6v4.6h-4.6zM201.9 187.3h4.6v4.6h-4.6zM202.2 221.7h4.6v4.6h-4.6zM202.5 184.3h4.6v4.6h-4.6zM202.8 209.9h4.6v4.6h-4.6zM203.1 194.1h4.6v4.6h-4.6zM203.4 200.8h4.6v4.6h-4.6zM203.7 190.5h4.6v4.6h-4.6zM204 189.5h4.6v4.6h-4.6zM204.4 200h4.6v4.6h-4.6zM204.7 186.5h4.6v4.6h-4.6zM205 194.2h4.6v4.6h-4.6zM205.3 200.1h4.6v4.6h-4.6zM205.6 186.1h4.6v4.6h-4.6zM205.9 186h4.6v4.6h-4.6zM206.2 196.4h4.6v4.6h-4.6zM206.5 191.6h4.6v4.6h-4.6zM206.8 192.4h4.6v4.6h-4.6zM207.1 204.4h4.6v4.6h-4.6zM207.4 191.6h4.6v4.6h-4.6zM207.7 193.8h4.6v4.6h-4.6zM208.1 191.4h4.6v4.6h-4.6zM208.4 200.6h4.6v4.6h-4.6zM208.7 185.1h4.6v4.6h-4.6zM209 181.5h4.6v4.6h-4.6zM209.3 188.1h4.6v4.6h-4.6zM209.6 201.9h4.6v4.6h-4.6zM209.9 188.3h4.6v4.6h-4.6zM210.2 177.6h4.6v4.6h-4.6zM210.5 195.3h4.6v4.6h-4.6zM210.8 196.7h4.6v4.6h-4.6zM211.1 225.7h4.6v4.6h-4.6zM211.4 180.8h4.6v4.6h-4.6zM211.8 188.4h4.6v4.6h-4.6zM212.1 186h4.6v4.6h-4.6zM212.4 199.4h4.6v4.6h-4.6zM212.7 191.1h4.6v4.6h-4.6zM213 193.2h4.6v4.6h-4.6zM213.3 177.6h4.6v4.6h-4.6zM213.6 202.2h4.6v4.6h-4.6zM213.9 189.7h4.6v4.6h-4.6zM214.2 191.1h4.6v4.6h-4.6zM214.5 192.5h4.6v4.6h-4.6zM214.8 187.3h4.6v4.6h-4.6zM215.1 199.5h4.6v4.6h-4.6zM215.5 197h4.6v4.6h-4.6zM215.8 193.8h4.6v4.6h-4.6zM216.1 191.9h4.6v4.6h-4.6zM216.4 217.1h4.6v4.6h-4.6zM216.7 199.6h4.6v4.6h-4.6zM217 192.8h4.6v4.6h-4.6zM217.3 197h4.6v4.6h-4.6zM217.6 183.9h4.6v4.6h-4.6zM217.9 181h4.6v4.6h-4.6zM218.2 214.5h4.6v4.6h-4.6zM218.5 185h4.6v4.6h-4.6zM218.8 185.6h4.6v4.6h-4.6zM219.1 187.9h4.6v4.6h-4.6zM219.5 190.2h4.6v4.6h-4.6zM219.8 187.9h4.6v4.6h-4.6zM220.1 190.3h4.6v4.6h-4.6zM220.4 188.4h4.6v4.6h-4.6zM220.7 188.6h4.6v4.6h-4.6zM221 198.8h4.6v4.6h-4.6zM221.3 193.5h4.6v4.6h-4.6zM221.6 199h4.6v4.6h-4.6zM221.9 204h4.6v4.6h-4.6zM222.2 192.4h4.6v4.6h-4.6zM222.5 196.5h4.6v4.6h-4.6zM222.8 188.7h4.6v4.6h-4.6zM223.2 199.8h4.6v4.6h-4.6zM223.5 196.8h4.6v4.6h-4.6zM223.8 186.4h4.6v4.6h-4.6zM224.1 174.1h4.6v4.6h-4.6zM224.4 194h4.6v4.6h-4.6zM224.7 190.3h4.6v4.6h-4.6zM225 182.8h4.6v4.6h-4.6zM225.3 193.9h4.6v4.6h-4.6zM225.6 193.5h4.6v4.6h-4.6zM225.9 195.8h4.6v4.6h-4.6zM226.2 191.5h4.6v4.6h-4.6zM226.5 183.6h4.6v4.6h-4.6zM226.9 197.9h4.6v4.6h-4.6zM227.2 190.8h4.6v4.6h-4.6zM227.5 194.6h4.6v4.6h-4.6zM227.8 192h4.6v4.6h-4.6zM228.1 204.8h4.6v4.6h-4.6zM228.4 197.7h4.6v4.6h-4.6zM228.7 180.3h4.6v4.6h-4.6zM229 194.7h4.6v4.6h-4.6zM229.3 191.4h4.6v4.6h-4.6zM229.6 194.5h4.6v4.6h-4.6zM229.9 189.8h4.6v4.6h-4.6zM230.2 185.5h4.6v4.6h-4.6zM230.6 179.4h4.6v4.6h-4.6zM230.9 184.2h4.6v4.6h-4.6zM231.2 201.7h4.6v4.6h-4.6zM231.5 196.3h4.6v4.6h-4.6zM231.8 183.1h4.6v4.6h-4.6zM232.1 197.7h4.6v4.6h-4.6zM232.4 181.8h4.6v4.6h-4.6zM232.7 202.7h4.6v4.6h-4.6zM233 192.2h4.6v4.6h-4.6zM233.3 184.4h4.6v4.6h-4.6zM233.6 182.2h4.6v4.6h-4.6zM233.9 187.7h4.6v4.6h-4.6zM234.3 198.6h4.6v4.6h-4.6zM234.6 187.1h4.6v4.6h-4.6zM234.9 185.4h4.6v4.6h-4.6zM235.2 183.7h4.6v4.6h-4.6zM235.5 190.7h4.6v4.6h-4.6zM235.8 189h4.6v4.6h-4.6zM236.1 189.9h4.6v4.6h-4.6zM236.4 192.1h4.6v4.6h-4.6zM236.7 172.4h4.6v4.6h-4.6zM237 192.4h4.6v4.6h-4.6zM237.3 196.6h4.6v4.6h-4.6zM237.6 192.7h4.6v4.6h-4.6zM237.9 198.7h4.6v4.6h-4.6zM238.3 186.1h4.6v4.6h-4.6zM238.6 186.5h4.6v4.6h-4.6zM238.9 189.2h4.6v4.6h-4.6zM239.2 187.3h4.6v4.6h-4.6zM239.5 193.2h4.6v4.6h-4.6zM239.8 201.7h4.6v4.6h-4.6zM240.1 188.2h4.6v4.6h-4.6zM240.4 192.4h4.6v4.6h-4.6zM240.7 191h4.6v4.6h-4.6zM241 193.7h4.6v4.6h-4.6zM241.3 189.9h4.6v4.6h-4.6zM241.6 194.5h4.6v4.6h-4.6zM242 186.6h4.6v4.6h-4.6zM242.3 190.3h4.6v4.6h-4.6zM242.6 192.7h4.6v4.6h-4.6zM242.9 184.7h4.6v4.6h-4.6zM243.2 185.7h4.6v4.6h-4.6zM243.5 197.9h4.6v4.6h-4.6zM243.8 194.3h4.6v4.6h-4.6zM244.1 197.3h4.6v4.6h-4.6zM244.4 191.8h4.6v4.6h-4.6zM244.7 214.7h4.6v4.6h-4.6zM245 189.1h4.6v4.6h-4.6zM245.3 192.3h4.6v4.6h-4.6zM245.7 192.2h4.6v4.6h-4.6zM246 187.3h4.6v4.6h-4.6zM246.3 189.1h4.6v4.6h-4.6zM246.6 194.3h4.6v4.6h-4.6zM246.9 173.6h4.6v4.6h-4.6zM247.2 190.2h4.6v4.6h-4.6zM247.5 193h4.6v4.6h-4.6zM247.8 189.5h4.6v4.6h-4.6zM248.1 181.7h4.6v4.6h-4.6zM248.4 200.6h4.6v4.6h-4.6zM248.7 192.3h4.6v4.6h-4.6zM249 191h4.6v4.6h-4.6zM249.4 197.9h4.6v4.6h-4.6zM249.7 199h4.6v4.6h-4.6zM250 191.9h4.6v4.6h-4.6zM250.3 186h4.6v4.6h-4.6zM250.6 198h4.6v4.6h-4.6zM250.9 180.8h4.6v4.6h-4.6zM251.2 190.9h4.6v4.6h-4.6zM251.5 191.5h4.6v4.6h-4.6zM251.8 193.5h4.6v4.6h-4.6zM252.1 199.4h4.6v4.6h-4.6zM252.4 190.5h4.6v4.6h-4.6zM252.7 186.6h4.6v4.6h-4.6zM253 199.8h4.6v4.6h-4.6zM253.4 189h4.6v4.6h-4.6zM253.7 187.6h4.6v4.6h-4.6zM254 181.2h4.6v4.6h-4.6zM254.3 203.3h4.6v4.6h-4.6zM254.6 207.3h4.6v4.6h-4.6zM254.9 201.9h4.6v4.6h-4.6zM255.2 207.9h4.6v4.6h-4.6zM255.5 186.3h4.6v4.6h-4.6zM255.8 190.2h4.6v4.6h-4.6zM256.1 182.7h4.6v4.6h-4.6zM256.4 185.6h4.6v4.6h-4.6zM256.7 190.8h4.6v4.6h-4.6zM257.1 190.8h4.6v4.6h-4.6zM257.4 201.8h4.6v4.6h-4.6zM257.7 184.6h4.6v4.6h-4.6zM258 188.7h4.6v4.6h-4.6zM258.3 198.2h4.6v4.6h-4.6zM258.6 192h4.6v4.6h-4.6zM258.9 189.6h4.6v4.6h-4.6zM259.2 201.3h4.6v4.6h-4.6zM259.5 194.5h4.6v4.6h-4.6zM259.8 205.7h4.6v4.6h-4.6zM260.1 199.3h4.6v4.6h-4.6zM260.4 192.4h4.6v4.6h-4.6zM260.8 196.3h4.6v4.6h-4.6zM261.1 199.9h4.6v4.6h-4.6zM261.4 189.6h4.6v4.6h-4.6zM261.7 188.9h4.6v4.6h-4.6zM262 189.1h4.6v4.6h-4.6zM262.3 185.9h4.6v4.6h-4.6zM262.6 178.4h4.6v4.6h-4.6zM262.9 190h4.6v4.6h-4.6zM263.2 192.3h4.6v4.6h-4.6zM263.5 192h4.6v4.6h-4.6zM263.8 197.4h4.6v4.6h-4.6zM264.1 185.1h4.6v4.6h-4.6zM264.5 198.5h4.6v4.6h-4.6zM264.8 187.7h4.6v4.6h-4.6zM265.1 196.5h4.6v4.6h-4.6zM265.4 187.5h4.6v4.6h-4.6zM265.7 182.2h4.6v4.6h-4.6zM266 195.7h4.6v4.6h-4.6zM266.3 194h4.6v4.6h-4.6zM266.6 186.4h4.6v4.6h-4.6zM266.9 183.6h4.6v4.6h-4.6zM267.2 195.7h4.6v4.6h-4.6zM267.5 193.4h4.6v4.6h-4.6zM267.8 197.4h4.6v4.6h-4.6zM268.2 195h4.6v4.6h-4.6zM268.5 196.7h4.6v4.6h-4.6zM268.8 189.3h4.6v4.6h-4.6zM269.1 193.4h4.6v4.6h-4.6zM269.4 187.4h4.6v4.6h-4.6zM269.7 205.8h4.6v4.6h-4.6zM270 191.2h4.6v4.6h-4.6zM270.3 191.2h4.6v4.6h-4.6zM270.6 205.3h4.6v4.6h-4.6zM270.9 204.8h4.6v4.6h-4.6zM271.2 198.7h4.6v4.6h-4.6zM271.5 179h4.6v4.6h-4.6zM271.8 195.5h4.6v4.6h-4.6zM272.2 201h4.6v4.6h-4.6zM272.5 190.4h4.6v4.6h-4.6zM272.8 197.4h4.6v4.6h-4.6zM273.1 192.2h4.6v4.6h-4.6zM273.4 193.9h4.6v4.6h-4.6zM273.7 193.5h4.6v4.6h-4.6zM274 204.8h4.6v4.6h-4.6zM274.3 183.4h4.6v4.6h-4.6zM274.6 180.6h4.6v4.6h-4.6zM274.9 195.9h4.6v4.6h-4.6zM275.2 198.2h4.6v4.6h-4.6zM275.5 198.3h4.6v4.6h-4.6zM275.9 181.3h4.6v4.6h-4.6zM276.2 185.9h4.6v4.6h-4.6zM276.5 194.4h4.6v4.6h-4.6zM276.8 204.1h4.6v4.6h-4.6zM277.1 191.1h4.6v4.6h-4.6zM277.4 195.6h4.6v4.6h-4.6zM277.7 192.6h4.6v4.6h-4.6zM278 189.8h4.6v4.6h-4.6zM278.3 204.6h4.6v4.6h-4.6zM278.6 182.3h4.6v4.6h-4.6zM278.9 190.2h4.6v4.6h-4.6zM279.2 206h4.6v4.6h-4.6zM279.6 181h4.6v4.6h-4.6zM279.9 210.8h4.6v4.6h-4.6zM280.2 194.4h4.6v4.6h-4.6zM280.5 190.4h4.6v4.6h-4.6zM280.8 195.8h4.6v4.6h-4.6zM281.1 204h4.6v4.6h-4.6zM281.4 198.6h4.6v4.6h-4.6zM281.7 204.2h4.6v4.6h-4.6zM282 185.8h4.6v4.6h-4.6zM282.3 185.6h4.6v4.6h-4.6zM282.6 188.5h4.6v4.6h-4.6zM282.9 175.9h4.6v4.6h-4.6zM283.3 184.9h4.6v4.6h-4.6zM283.6 191.2h4.6v4.6h-4.6zM283.9 187.4h4.6v4.6h-4.6zM284.2 186.4h4.6v4.6h-4.6zM284.5 173.4h4.6v4.6h-4.6zM284.8 177.4h4.6v4.6h-4.6zM285.1 221.7h4.6v4.6h-4.6zM285.4 186.4h4.6v4.6h-4.6zM285.7 197.7h4.6v4.6h-4.6zM286 189.7h4.6v4.6h-4.6zM286.3 186.2h4.6v4.6h-4.6zM286.6 196.7h4.6v4.6h-4.6zM286.9 188.8h4.6v4.6h-4.6zM287.3 189.1h4.6v4.6h-4.6zM287.6 193.4h4.6v4.6h-4.6zM287.9 210.5h4.6v4.6h-4.6zM288.2 200.4h4.6v4.6h-4.6zM288.5 188.9h4.6v4.6h-4.6zM288.8 196.3h4.6v4.6h-4.6zM289.1 186h4.6v4.6h-4.6zM289.4 186.1h4.6v4.6h-4.6zM289.7 190.6h4.6v4.6h-4.6zM290 192.7h4.6v4.6h-4.6zM290.3 194.5h4.6v4.6h-4.6zM290.6 212h4.6v4.6h-4.6zM291 179.6h4.6v4.6h-4.6zM291.3 195.8h4.6v4.6h-4.6zM291.6 187.2h4.6v4.6h-4.6zM291.9 177.8h4.6v4.6h-4.6zM292.2 198.2h4.6v4.6h-4.6zM292.5 189.1h4.6v4.6h-4.6zM292.8 178.9h4.6v4.6h-4.6zM293.1 189.5h4.6v4.6h-4.6zM293.4 190.7h4.6v4.6h-4.6zM293.7 173.5h4.6v4.6h-4.6zM294 195.5h4.6v4.6h-4.6zM294.3 181h4.6v4.6h-4.6zM294.7 187.5h4.6v4.6h-4.6zM295 199.7h4.6v4.6h-4.6zM295.3 178.7h4.6v4.6h-4.6zM295.6 191.3h4.6v4.6h-4.6zM295.9 203.3h4.6v4.6h-4.6zM296.2 206h4.6v4.6h-4.6zM296.5 205.1h4.6v4.6h-4.6zM296.8 195.7h4.6v4.6h-4.6zM297.1 193.3h4.6v4.6h-4.6zM297.4 178.3h4.6v4.6h-4.6zM297.7 200.6h4.6v4.6h-4.6zM298 188.8h4.6v4.6h-4.6zM298.4 194.8h4.6v4.6h-4.6zM298.7 186.7h4.6v4.6h-4.6zM299 187.3h4.6v4.6h-4.6zM299.3 192.2h4.6v4.6h-4.6zM299.6 190.7h4.6v4.6h-4.6zM299.9 188.3h4.6v4.6h-4.6zM300.2 191.2h4.6v4.6h-4.6zM300.5 171.2h4.6v4.6h-4.6zM300.8 187h4.6v4.6h-4.6zM301.1 179.9h4.6v4.6h-4.6zM301.4 197.7h4.6v4.6h-4.6zM301.7 186.5h4.6v4.6h-4.6zM302.1 204.3h4.6v4.6h-4.6zM302.4 185.9h4.6v4.6h-4.6zM302.7 202.4h4.6v4.6h-4.6zM303 184.6h4.6v4.6h-4.6zM303.3 195.4h4.6v4.6h-4.6zM303.6 216.7h4.6v4.6h-4.6zM303.9 189.6h4.6v4.6h-4.6zM304.2 191.5h4.6v4.6h-4.6zM304.5 220.7h4.6v4.6h-4.6zM304.8 197.3h4.6v4.6h-4.6zM305.1 199.5h4.6v4.6h-4.6zM305.4 196.9h4.6v4.6h-4.6zM305.7 201h4.6v4.6h-4.6zM306.1 197.9h4.6v4.6h-4.6zM306.4 196.8h4.6v4.6h-4.6zM306.7 186.8h4.6v4.6h-4.6zM307 184.2h4.6v4.6h-4.6zM307.3 203.3h4.6v4.6h-4.6zM307.6 189.8h4.6v4.6h-4.6zM307.9 206.8h4.6v4.6h-4.6zM308.2 181h4.6v4.6h-4.6zM308.5 208h4.6v4.6h-4.6zM308.8 188.7h4.6v4.6h-4.6zM309.1 209.3h4.6v4.6h-4.6zM309.4 210.2h4.6v4.6h-4.6zM309.8 178.1h4.6v4.6h-4.6zM310.1 208.3h4.6v4.6h-4.6zM310.4 192.3h4.6v4.6h-4.6zM310.7 191.3h4.6v4.6h-4.6zM311 197.7h4.6v4.6h-4.6zM311.3 204.7h4.6v4.6h-4.6zM311.6 206.1h4.6v4.6h-4.6zM311.9 197.7h4.6v4.6h-4.6zM312.2 198.1h4.6v4.6h-4.6zM312.5 203.3h4.6v4.6h-4.6zM312.8 179h4.6v4.6h-4.6zM313.1 194h4.6v4.6h-4.6zM313.5 190h4.6v4.6h-4.6zM313.8 196.6h4.6v4.6h-4.6zM314.1 204.8h4.6v4.6h-4.6zM314.4 185.1h4.6v4.6h-4.6zM314.7 195.6h4.6v4.6h-4.6zM315 198.5h4.6v4.6h-4.6zM315.3 198.1h4.6v4.6h-4.6zM315.6 195.2h4.6v4.6h-4.6zM315.9 177h4.6v4.6h-4.6zM316.2 197.5h4.6v4.6h-4.6zM316.5 180.2h4.6v4.6h-4.6zM316.8 192.9h4.6v4.6h-4.6zM317.2 206.5h4.6v4.6h-4.6zM317.5 195.8h4.6v4.6h-4.6zM317.8 179.8h4.6v4.6h-4.6zM318.1 195.4h4.6v4.6h-4.6zM318.4 190.5h4.6v4.6h-4.6zM318.7 205.8h4.6v4.6h-4.6zM319 193.3h4.6v4.6h-4.6zM319.3 197.5h4.6v4.6h-4.6zM319.6 185.3h4.6v4.6h-4.6zM319.9 199.1h4.6v4.6h-4.6zM320.2 179.9h4.6v4.6h-4.6zM320.5 201.5h4.6v4.6h-4.6zM320.8 201.8h4.6v4.6h-4.6zM321.2 197.6h4.6v4.6h-4.6zM321.5 192.4h4.6v4.6h-4.6zM321.8 200.8h4.6v4.6h-4.6zM322.1 198.3h4.6v4.6h-4.6zM322.4 192.1h4.6v4.6h-4.6zM322.7 219.7h4.6v4.6h-4.6zM323 186.3h4.6v4.6h-4.6zM323.3 172.4h4.6v4.6h-4.6zM323.6 203.4h4.6v4.6h-4.6zM323.9 189.6h4.6v4.6h-4.6zM324.2 211.1h4.6v4.6h-4.6zM324.5 189.5h4.6v4.6h-4.6zM324.9 199.2h4.6v4.6h-4.6zM325.2 199h4.6v4.6h-4.6zM325.5 195.9h4.6v4.6h-4.6zM325.8 198.3h4.6v4.6h-4.6zM326.1 185.2h4.6v4.6h-4.6zM326.4 194.5h4.6v4.6h-4.6zM326.7 186.4h4.6v4.6h-4.6zM327 190.2h4.6v4.6h-4.6zM327.3 190.9h4.6v4.6h-4.6zM327.6 204.3h4.6v4.6h-4.6zM327.9 204.5h4.6v4.6h-4.6zM328.2 200.6h4.6v4.6h-4.6zM328.6 187h4.6v4.6h-4.6zM328.9 181.2h4.6v4.6h-4.6zM329.2 194.9h4.6v4.6h-4.6zM329.5 192.6h4.6v4.6h-4.6zM329.8 202.7h4.6v4.6h-4.6zM330.1 196.1h4.6v4.6h-4.6zM330.4 199.2h4.6v4.6h-4.6zM330.7 196h4.6v4.6h-4.6zM331 203.8h4.6v4.6h-4.6zM331.3 195.8h4.6v4.6h-4.6zM331.6 191.9h4.6v4.6h-4.6zM331.9 192.5h4.6v4.6h-4.6zM332.3 186h4.6v4.6h-4.6zM332.6 194.1h4.6v4.6h-4.6zM332.9 190.4h4.6v4.6h-4.6zM333.2 185.2h4.6v4.6h-4.6zM333.5 191.3h4.6v4.6h-4.6zM333.8 207.5h4.6v4.6h-4.6zM334.1 201.3h4.6v4.6h-4.6zM334.4 197.8h4.6v4.6h-4.6zM334.7 202.6h4.6v4.6h-4.6zM335 186.7h4.6v4.6h-4.6zM335.3 204.1h4.6v4.6h-4.6zM335.6 171.2h4.6v4.6h-4.6zM336 199.6h4.6v4.6h-4.6zM336.3 214.5h4.6v4.6h-4.6zM336.6 191.6h4.6v4.6h-4.6zM336.9 183h4.6v4.6h-4.6zM337.2 201.2h4.6v4.6h-4.6zM337.5 189.2h4.6v4.6h-4.6zM337.8 193.2h4.6v4.6h-4.6zM338.1 204.7h4.6v4.6h-4.6zM338.4 181.6h4.6v4.6h-4.6zM338.7 189.6h4.6v4.6h-4.6zM339 193.8h4.6v4.6h-4.6zM339.3 178h4.6v4.6h-4.6zM339.6 189.3h4.6v4.6h-4.6zM340 204.5h4.6v4.6h-4.6zM340.3 196h4.6v4.6h-4.6zM340.6 192h4.6v4.6h-4.6zM340.9 192.8h4.6v4.6h-4.6zM341.2 188.4h4.6v4.6h-4.6zM341.5 204.6h4.6v4.6h-4.6zM341.8 193.7h4.6v4.6h-4.6zM342.1 190.5h4.6v4.6h-4.6zM342.4 181.2h4.6v4.6h-4.6zM342.7 186.5h4.6v4.6h-4.6zM343 188.6h4.6v4.6h-4.6zM343.3 194.3h4.6v4.6h-4.6zM343.7 203.8h4.6v4.6h-4.6zM344 194.1h4.6v4.6h-4.6zM344.3 193.3h4.6v4.6h-4.6zM344.6 195.9h4.6v4.6h-4.6zM344.9 194.4h4.6v4.6h-4.6zM345.2 187.1h4.6v4.6h-4.6zM345.5 194.8h4.6v4.6h-4.6zM345.8 200.4h4.6v4.6h-4.6zM346.1 193.3h4.6v4.6h-4.6zM346.4 197.8h4.6v4.6h-4.6zM346.7 177.9h4.6v4.6h-4.6zM347 193.9h4.6v4.6h-4.6zM347.4 189h4.6v4.6h-4.6zM347.7 187.2h4.6v4.6h-4.6zM348 187.2h4.6v4.6h-4.6zM348.3 196.3h4.6v4.6h-4.6zM348.6 190.1h4.6v4.6h-4.6zM348.9 191.1h4.6v4.6h-4.6zM349.2 182.3h4.6v4.6h-4.6zM349.5 196.5h4.6v4.6h-4.6zM349.8 194.1h4.6v4.6h-4.6zM350.1 186h4.6v4.6h-4.6zM350.4 202.7h4.6v4.6h-4.6zM350.7 205.2h4.6v4.6h-4.6zM351.1 218.5h4.6v4.6h-4.6zM351.4 189.8h4.6v4.6h-4.6zM351.7 195.5h4.6v4.6h-4.6zM352 203.1h4.6v4.6h-4.6zM352.3 193.3h4.6v4.6h-4.6zM352.6 200.5h4.6v4.6h-4.6zM352.9 193.8h4.6v4.6h-4.6zM353.2 184.6h4.6v4.6h-4.6zM353.5 213h4.6v4.6h-4.6zM353.8 210.6h4.6v4.6h-4.6zM354.1 200.8h4.6v4.6h-4.6zM354.4 192.1h4.6v4.6h-4.6zM354.8 188h4.6v4.6h-4.6zM355.1 191.4h4.6v4.6h-4.6zM355.4 191.7h4.6v4.6h-4.6zM355.7 206.4h4.6v4.6h-4.6zM356 192h4.6v4.6h-4.6zM356.3 194.7h4.6v4.6h-4.6zM356.6 188.9h4.6v4.6h-4.6zM356.9 200.4h4.6v4.6h-4.6zM357.2 212.6h4.6v4.6h-4.6zM357.5 187.8h4.6v4.6h-4.6zM357.8 183.3h4.6v4.6h-4.6zM358.1 188.3h4.6v4.6h-4.6zM358.4 183.2h4.6v4.6h-4.6zM358.8 187.7h4.6v4.6h-4.6zM359.1 179.4h4.6v4.6h-4.6zM359.4 181.4h4.6v4.6h-4.6zM359.7 189.4h4.6v4.6h-4.6zM360 182.5h4.6v4.6h-4.6zM360.3 157.4h4.6v4.6h-4.6zM360.6 184.9h4.6v4.6h-4.6zM360.9 188.3h4.6v4.6h-4.6zM361.2 168.5h4.6v4.6h-4.6zM361.5 177.5h4.6v4.6h-4.6zM361.8 171.2h4.6v4.6h-4.6zM362.1 153.5h4.6v4.6h-4.6zM362.5 171.3h4.6v4.6h-4.6zM362.8 146.6h4.6v4.6h-4.6zM363.1 160.7h4.6v4.6h-4.6zM363.4 162h4.6v4.6h-4.6zM363.7 142.5h4.6v4.6h-4.6zM364 175.3h4.6v4.6h-4.6zM364.3 185.8h4.6v4.6h-4.6zM364.6 148.7h4.6v4.6h-4.6zM364.9 132.6h4.6v4.6h-4.6zM365.2 148.6h4.6v4.6h-4.6zM365.5 143.2h4.6v4.6h-4.6zM365.8 141.4h4.6v4.6h-4.6zM366.2 133.6h4.6v4.6h-4.6z" stroke="#ffc000" stroke-width="0.55"/>
<polyline points="35,176.5 35.2,171.2 35.3,150.8 35.5,162 35.6,187.6 35.8,178.2 35.9,176.4 36.1,168 36.2,187.5 36.4,167.1 36.5,167.1 36.7,152.4 36.8,166.4 37,164.3 37.2,186.7 37.3,145.1 37.5,191.6 37.6,158.1 37.8,174.1 37.9,180.4 38.1,177.9 38.2,180.3 38.4,166.4 38.5,172 38.7,154.4 38.9,191.3 39,171.2 39.2,181.2 39.3,162.7 39.5,195.1 39.6,184.9 39.8,169.5 39.9,188.3 40.1,160.9 40.2,170 40.4,160.9 40.5,161.5 40.7,183.2 40.9,180 41,174.5 41.2,163.9 41.3,187.4 41.5,168 41.6,179.2 41.8,181.4 41.9,178.9 42.1,175.1 42.2,174 42.4,149.7 42.6,178.1 42.7,175.8 42.9,167.6 43,181.9 43.2,190 43.3,172.5 43.5,164 43.6,187.1 43.8,157.2 43.9,176.3 44.1,170.6 44.2,163.1 44.4,165.2 44.6,160.8 44.7,170.6 44.9,172.8 45,168.9 45.2,195.6 45.3,158.9 45.5,181.1 45.6,186.4 45.8,149.4 45.9,173.8 46.1,185.2 46.2,172.4 46.4,175.7 46.6,160.3 46.7,186 46.9,193.4 47,191.1 47.2,193.6 47.3,183.2 47.5,173.1 47.6,163.3 47.8,145.3 47.9,183.7 48.1,161.1 48.3,179.1 48.4,174.1 48.6,188.8 48.7,188.8 48.9,181.1 49,185.7 49.2,172.5 49.3,180.3 49.5,158.6 49.6,170.9 49.8,170.8 49.9,160 50.1,167 50.3,173.2 50.4,173.9 50.6,174.2 50.7,160.9 50.9,164.1 51,168.8 51.2,164 51.3,178.9 51.5,167.2 51.6,188.6 51.8,157.8 52,171.6 52.1,170.5 52.3,166.7 52.4,172.5 52.6,175.1 52.7,158.9 52.9,170.9 53,182.3 53.2,167.1 53.3,190.9 53.5,156.6 53.6,173.7 53.8,171.1 54,146.4 54.1,147.4 54.3,169.9 54.4,164.2 54.6,158.9 54.7,152.2 54.9,172.3 55,169.2 55.2,156.9 55.3,167.3 55.5,161.8 55.6,161.6 55.8,182.6 56,173.1 56.1,198.7 56.3,171.6 56.4,154.7 56.6,169.6 56.7,155.6 56.9,158.2 57,175.7 57.2,169.2 57.3,168.2 57.5,178.8 57.7,172.4 57.8,169.8 58,162.3 58.1,160.7 58.3,177.3 58.4,159.8 58.6,177.6 58.7,170.8 58.9,164.9 59,169.2 59.2,170.4 59.3,167.4 59.5,175.1 59.7,176.2 59.8,171.4 60,146.3 60.1,170.4 60.3,148.1 60.4,167.1 60.6,198.4 60.7,174.4 60.9,151.1 61,176 61.2,174.5 61.3,178.9 61.5,154.3 61.7,157.6 61.8,160.9 62,163.2 62.1,151.7 62.3,158.1 62.4,180 62.6,157.9 62.7,163.6 62.9,166.6 63,145.7 63.2,164.5 63.4,192.4 63.5,147.4 63.7,130 63.8,164.5 64,166.6 64.1,159.7 64.3,175.3 64.4,151.2 64.6,163.2 64.7,164.1 64.9,150.9 65,166.6 65.2,160.8 65.4,144.7 65.5,152.9 65.7,158.1 65.8,166.2 66,149.3 66.1,139.8 66.3,172.3 66.4,143.5 66.6,168.8 66.7,158 66.9,150.3 67.1,164.2 67.2,131.2 67.4,151 67.5,151.9 67.7,124.8 67.8,120.5 68,160.8 68.1,129.7 68.3,151.9 68.4,150.8 68.6,155.8 68.7,150 68.9,140.3 69.1,131.2 69.2,143.2 69.4,155.1 69.5,165.3 69.7,141.8 69.8,148.5 70,154.8 70.1,154.3 70.3,153.9 70.4,149.2 70.6,168.6 70.7,164.7 70.9,105.4 71.1,137.1 71.2,138.3 71.4,141.9 71.5,161.7 71.7,157.6 71.8,173.4 72,144.6 72.1,155.4 72.3,144.6 72.4,148.4 72.6,152.3 72.8,153.9 72.9,143.6 73.1,139.6 73.2,149.4 73.4,155 73.5,147.6 73.7,146.4 73.8,133.5 74,156.3 74.1,142.8 74.3,161.9 74.4,146.2 74.6,153.9 74.8,137.7 74.9,126.2 75.1,159.4 75.2,149.1 75.4,143.3 75.5,136.4 75.7,157.8 75.8,154.6 76,129.3 76.1,126.1 76.3,145.1 76.5,166.6 76.6,165.7 76.8,155.6 76.9,156.3 77.1,146.6 77.2,164.7 77.4,149.2 77.5,139.4 77.7,163.6 77.8,145.3 78,163.8 78.1,150.8 78.3,153.8 78.5,136.9 78.6,161.1 78.8,151.8 78.9,143.6 79.1,165.7 79.2,154.1 79.4,162.7 79.5,161 79.7,147.2 79.8,147 80,123.6 80.1,125.8 80.3,141.1 80.5,155.6 80.6,157.1 80.8,135.9 80.9,176.9 81.1,137.5 81.2,160.7 81.4,145.8 81.5,158.9 81.7,145.6 81.8,142.1 82,182.9 82.2,150.2 82.3,155.2 82.5,164.7 82.6,153.1 82.8,157.2 82.9,170.5 83.1,143.9 83.2,170.6 83.4,152.5 83.5,177.3 83.7,163 83.8,158.1 84,147.9 84.2,167.6 84.3,146.2 84.5,137.6 84.6,167.3 84.8,155.4 84.9,148.5 85.1,129.7 85.2,138.3 85.4,162 85.5,148.4 85.7,154.9 85.8,165 86,141.5 86.2,144.5 86.3,158.6 86.5,165.1 86.6,178.4 86.8,145.4 86.9,154.4 87.1,145.2 87.2,169.4 87.4,157.5 87.5,144.2 87.7,154.4 87.9,152.2 88,140.4 88.2,153 88.3,151.7 88.5,156.8 88.6,138.8 88.8,145.9 88.9,173.2 89.1,139.2 89.2,168.1 89.4,144.4 89.5,153.9 89.7,167 89.9,161 90,175 90.2,149.6 90.3,137.1 90.5,160.4 90.6,149.9 90.8,141.8 90.9,150.1 91.1,138.7 91.2,158.4 91.4,132.7 91.6,158.8 91.7,160.3 91.9,147.8 92,182.7 92.2,157 92.3,174.2 92.5,157.7 92.6,151.8 92.8,176.6 92.9,145.8 93.1,147.7 93.2,178.1 93.4,170.4 93.6,155.6 93.7,139.3 93.9,162.3 94,152.2 94.2,153.3 94.3,168.4 94.5,175.6 94.6,164.4 94.8,176.2 94.9,179.5 95.1,119.2 95.2,156.5 95.4,135.5 95.6,167.7 95.7,169.4 95.9,151.4 96,156.1 96.2,149.5 96.3,115.4 96.5,160.4 96.6,177.4 96.8,148 96.9,136.6 97.1,146.1 97.3,139.8 97.4,159.3 97.6,117.8 97.7,162 97.9,132.5 98,152.5 98.2,167.5 98.3,135.4 98.5,161.5 98.6,123.3 98.8,167.3 98.9,142.2 99.1,157.7 99.3,154.1 99.4,166 99.6,137 99.7,153.8 99.9,158.7 100,165.7 100.2,151.1 100.3,162.6 100.5,159.1 100.6,154.4 100.8,147.6 101,161.4 101.1,147.6 101.3,132.1 101.4,169.4 101.6,141.1 101.7,133.1 101.9,160.7 102,148.8 102.2,168.8 102.3,151.7 102.5,158.5 102.6,118.2 102.8,164.5 103,126.4 103.1,160.2 103.3,163 103.4,171.6 103.6,151.8 103.7,167.4 103.9,157.8 104,159.7 104.2,179.7 104.3,154.6 104.5,164.1 104.6,167.9 104.8,170.1 105,165.2 105.1,164.4 105.3,116.2 105.4,169.8 105.6,146.9 105.7,165.6 105.9,118.2 106,146.6 106.2,169.8 106.3,146.8 106.5,127.7 106.7,161.8 106.8,146.9 107,158.5 107.1,156.4 107.3,145.5 107.4,162.2 107.6,149.8 107.7,148.2 107.9,156.9 108,141.9 108.2,146.2 108.3,136.9 108.5,170.4 108.7,143.3 108.8,144 109,178.8 109.1,168.4 109.3,162.1 109.4,130.1 109.6,145.1 109.7,146 109.9,155.3 110,150.7 110.2,170.6 110.4,152 110.5,160.9 110.7,145.6 110.8,160.4 111,132.3 111.1,167.7 111.3,157.3 111.4,156.4 111.6,157.5 111.7,147.1 111.9,161.4 112,169.9 112.2,161.1 112.4,159.4 112.5,158.9 112.7,145.9 112.8,152.4 113,147 113.1,151.2 113.3,159 113.4,146.9 113.6,159.8 113.7,154.4 113.9,151.1 114,155.6 114.2,159.9 114.4,145.9 114.5,138.1 114.7,132.4 114.8,145.8 115,146.4 115.1,147.3 115.3,153.3 115.4,160.7 115.6,149.2 115.7,157.8 115.9,161.1 116.1,140.9 116.2,160.1 116.4,159.5 116.5,148.7 116.7,148.4 116.8,165.6 117,162.5 117.1,149 117.3,138.1 117.4,150.6 117.6,158.1 117.7,162.4 117.9,144 118.1,185.2 118.2,153.9 118.4,139.2 118.5,156.6 118.7,153.9 118.8,140.8 119,178.5 119.1,138.6 119.3,161 119.4,149.2 119.6,136.2 119.8,159.6 119.9,152.8 120.1,147 120.2,153.1 120.4,159.3 120.5,149.8 120.7,150.6 120.8,173.1 121,137.9 121.1,149.2 121.3,175.8 121.4,164 121.6,141.4 121.8,139.8 121.9,155.5 122.1,161.9 122.2,154.2 122.4,157.2 122.5,111.1 122.7,155.5 122.8,156.9 123,116 123.1,154.6 123.3,149.4 123.4,147.8 123.6,136.4 123.8,151.2 123.9,150.5 124.1,171.2 124.2,158 124.4,144.7 124.5,154 124.7,176.6 124.8,153.2 125,177.9 125.1,133.4 125.3,148.7 125.5,146.7 125.6,124.8 125.8,141.7 125.9,166.6 126.1,163.9 126.2,167.4 126.4,158.6 126.5,159.4 126.7,174.7 126.8,166.3 127,137.3 127.1,164.7 127.3,135 127.5,154.9 127.6,130.7 127.8,139.9 127.9,174.6 128.1,146.5 128.2,150 128.4,171.6 128.5,150.2 128.7,157.1 128.8,164.4 129,164.7 129.1,144.9 129.3,151.9 129.5,157.6 129.6,161.9 129.8,157.3 129.9,154.4 130.1,148.1 130.2,171 130.4,140.1 130.5,154.5 130.7,150.3 130.8,169.8 131,140.2 131.2,131.7 131.3,159.6 131.5,149.4 131.6,150.6 131.8,140.6 131.9,153.7 132.1,167.6 132.2,150 132.4,177.8 132.5,154.9 132.7,157.3 132.8,136.9 133,155.3 133.2,156.9 133.3,159.8 133.5,139.2 133.6,157.5 133.8,145.9 133.9,128 134.1,153.6 134.2,166.1 134.4,153.1 134.5,142.7 134.7,158.8 134.9,156.8 135,150 135.2,143.3 135.3,141.4 135.5,152.1 135.6,160.3 135.8,167.2 135.9,143.1 136.1,136.9 136.2,129.2 136.4,135.2 136.5,155.5 136.7,154.9 136.9,135.2 137,161.1 137.2,145 137.3,147.2 137.5,149.5 137.6,133.8 137.8,138.5 137.9,155.6 138.1,143.9 138.2,151.3 138.4,156.6 138.5,155.4 138.7,153.8 138.9,137 139,158.6 139.2,172 139.3,150.5 139.5,147.8 139.6,163.9 139.8,160.3 139.9,129.2 140.1,142.4 140.2,141.6 140.4,146 140.6,151.4 140.7,158.1 140.9,147.3 141,155.1 141.2,157.7 141.3,153.4 141.5,141.4 141.6,144.3 141.8,163.1 141.9,126.7 142.1,154.2 142.2,158.1 142.4,144.2 142.6,180.6 142.7,158.9 142.9,144.3 143,180.3 143.2,159.6 143.3,127.8 143.5,157.4 143.6,150.1 143.8,148.9 143.9,113.6 144.1,147.3 144.3,145.5 144.4,169 144.6,145.7 144.7,166.6 144.9,157.7 145,142.2 145.2,149 145.3,143.9 145.5,163.3 145.6,171.8 145.8,136.7 145.9,146.8 146.1,176 146.3,171 146.4,161.2 146.6,168.4 146.7,158.8 146.9,158.6 147,143.7 147.2,160.3 147.3,153.3 147.5,151.1 147.6,157.7 147.8,172.1 147.9,146.3 148.1,157.5 148.3,155.5 148.4,134.3 148.6,176.8 148.7,140.7 148.9,160.1 149,173.1 149.2,147.1 149.3,163.7 149.5,158.9 149.6,156.9 149.8,143.8 150,179.6 150.1,164.9 150.3,176.2 150.4,167.7 150.6,187.9 150.7,159.2 150.9,141.6 151,145.4 151.2,165.7 151.3,165.4 151.5,158.4 151.6,161 151.8,163.4 152,158 152.1,156.9 152.3,171.3 152.4,149.9 152.6,152 152.7,152.4 152.9,191.1 153,159.5 153.2,161.9 153.3,171.2 153.5,154.4 153.7,176.5 153.8,147.6 154,122 154.1,166 154.3,145.4 154.4,155.6 154.6,157 154.7,174.5 154.9,155.8 155,145.6 155.2,148.9 155.3,174.5 155.5,145.8 155.7,140.8 155.8,151.8 156,165.2 156.1,177.2 156.3,171 156.4,167.7 156.6,158.8 156.7,151.9 156.9,170 157,179.9 157.2,166.9 157.3,177 157.5,148.5 157.7,176.4 157.8,158.2 158,154.7 158.1,142 158.3,143.7 158.4,165.8 158.6,173 158.7,169.2 158.9,175.1 159,153.3 159.2,185.7 159.4,158.5 159.5,167 159.7,173.8 159.8,166.9 160,132.8 160.1,165.7 160.3,157.2 160.4,176 160.6,144.5 160.7,148.9 160.9,172.9 161,187.5 161.2,147.5 161.4,171 161.5,158.3 161.7,158.6 161.8,145.5 162,168 162.1,153.6 162.3,171.1 162.4,170.6 162.6,149.4 162.7,166.6 162.9,167.4 163,170 163.2,162.5 163.4,159.3 163.5,167.1 163.7,178.4 163.8,159.7 164,142.5 164.1,146.6 164.3,162.7 164.4,162.3 164.6,191 164.7,146 164.9,156 165.1,145.5 165.2,159.5 165.4,175.2 165.5,170.3 165.7,161.9 165.8,154.3 166,170.5 166.1,168.3 166.3,152.8 166.4,174.9 166.6,162.7 166.7,153.1 166.9,167.9 167.1,156.7 167.2,166.9 167.4,179.3 167.5,140.9 167.7,168.6 167.8,170.3 168,183.5 168.1,162.4 168.3,163.8 168.4,165.3 168.6,172.5 168.8,170.3 168.9,172.3 169.1,144.1 169.2,153.2 169.4,203.5 169.5,166.7 169.7,172.4 169.8,172.7 170,175.4 170.1,173.7 170.3,155 170.4,181.8 170.6,171.1 170.8,176.8 170.9,171.8 171.1,175.7 171.2,176.7 171.4,171.7 171.5,172.4 171.7,171.6 171.8,172.8 172,177 172.1,181.9 172.3,190.3 172.4,185.9 172.6,174 172.8,191.5 172.9,167.4 173.1,179.5 173.2,185.3 173.4,180.9 173.5,167.5 173.7,170.7 173.8,171.7 174,156.3 174.1,148.1 174.3,188.3 174.5,169.2 174.6,182.2 174.8,189 174.9,150.1 175.1,161.8 175.2,149.3 175.4,178 175.5,156.7 175.7,166.4 175.8,168.2 176,151.4 176.1,137.1 176.3,179.6 176.5,183.3 176.6,176 176.8,169.1 176.9,160.4 177.1,161.3 177.2,169.5 177.4,183.9 177.5,160.4 177.7,170 177.8,170.9 178,185.1 178.2,160.8 178.3,184.1 178.5,164.4 178.6,157.4 178.8,150.7 178.9,187.9 179.1,172.8 179.2,157.6 179.4,185.6 179.5,186.9 179.7,166.4 179.8,159.2 180,163.1 180.2,184.8 180.3,155.4 180.5,192.6 180.6,174.3 180.8,187.1 180.9,180.1 181.1,179.3 181.2,178.4 181.4,190.2 181.5,173.8 181.7,137.2 181.8,175.7 182,170.7 182.2,172.3 182.3,185.8 182.5,181.7 182.6,170.1 182.8,172.6 182.9,155.1 183.1,149.9 183.2,183.5 183.4,183.3 183.5,187.1 183.7,204.6 183.9,164 184,163.8 184.2,200.6 184.3,178.6 184.5,152.3 184.6,173.3 184.8,173.1 184.9,149.1 185.1,187.4 185.2,176.6 185.4,188 185.5,184.4 185.7,181.4 185.9,170.9 186,158.8 186.2,171.8 186.3,168.9 186.5,183.2 186.6,192.8 186.8,153.8 186.9,169.9 187.1,167.9 187.2,182 187.4,196.7 187.6,170 187.7,201.8 187.9,179.3 188,183.4 188.2,174.9 188.3,157.1 188.5,168.1 188.6,176.1 188.8,163.9 188.9,198.7 189.1,160.1 189.2,182.1 189.4,190 189.6,183.1 189.7,192 189.9,177.3 190,166.6 190.2,168.1 190.3,183.2 190.5,164.7 190.6,171.3 190.8,152.9 190.9,171.2 191.1,183.6 191.2,180.3 191.4,185.7 191.6,180.6 191.7,179 191.9,169.9 192,169 192.2,177.2 192.3,173.3 192.5,186.1 192.6,184.1 192.8,205 192.9,186.7 193.1,183.6 193.3,150.4 193.4,193.1 193.6,177.9 193.7,196.3 193.9,195.9 194,176.2 194.2,184.5 194.3,189.2 194.5,208.6 194.6,180.1 194.8,194.8 194.9,172.5 195.1,182.8 195.3,174.2 195.4,183.3 195.6,163.7 195.7,172.9 195.9,164.2 196,182 196.2,191.3 196.3,195.5 196.5,185.9 196.6,177.7 196.8,187.4 196.9,155.2 197.1,190.2 197.3,176.2 197.4,180.2 197.6,194.3 197.7,170.4 197.9,179.8 198,163.5 198.2,191.2 198.3,189.9 198.5,182.1 198.6,169.7 198.8,196.1 199,175.1 199.1,193.5 199.3,186.4 199.4,190.5 199.6,168.8 199.7,180 199.9,171 200,174.9 200.2,182.6 200.3,184.4 200.5,204.1 200.6,176.8 200.8,189.7 201,176.5 201.1,188.1 201.3,166.5 201.4,185.3 201.6,174.7 201.7,172 201.9,183.9 202,180.1 202.2,183.5 202.3,192.6 202.5,169 202.7,192.8 202.8,199.4 203,189.2 203.1,183 203.3,183.9 203.4,187.8 203.6,189 203.7,205.7 203.9,178.8 204,168 204.2,209 204.3,202.8 204.5,150.5 204.7,187 204.8,209 205,192.6 205.1,199.4 205.3,196.9 205.4,166.1 205.6,176 205.7,173.9 205.9,185.4 206,170.2 206.2,196.3 206.3,178.3 206.5,191.8 206.7,177.5 206.8,183.5 207,192.8 207.1,194.7 207.3,197.4 207.4,167.5 207.6,189.4 207.7,184 207.9,192 208,173.4 208.2,184.3 208.4,185.5 208.5,172.5 208.7,180 208.8,182.3 209,182.7 209.1,182 209.3,179 209.4,188.2 209.6,204.6 209.7,172.1 209.9,195.5 210,167 210.2,182.2 210.4,160.8 210.5,173.3 210.7,180.6 210.8,175.8 211,198.4 211.1,183.1 211.3,188.3 211.4,184.7 211.6,204.9 211.7,206.2 211.9,177.7 212.1,182.3 212.2,188.9 212.4,185.5 212.5,191 212.7,189.3 212.8,177.9 213,191.8 213.1,182.6 213.3,191.4 213.4,202.3 213.6,190.9 213.7,185.8 213.9,189.2 214.1,188.2 214.2,189.3 214.4,175.3 214.5,169.9 214.7,174 214.8,209 215,181 215.1,182.5 215.3,182.6 215.4,184.9 215.6,191.7 215.7,175.9 215.9,182.5 216.1,174.3 216.2,185.5 216.4,163.8 216.5,184.3 216.7,193 216.8,195.7 217,179.4 217.1,144.1 217.3,188.9 217.4,189.5 217.6,186.9 217.8,188.1 217.9,209 218.1,169 218.2,172.1 218.4,191.9 218.5,194.2 218.7,186 218.8,192.7 219,166.4 219.1,191.1 219.3,178.8 219.4,197 219.6,198.6 219.8,200.1 219.9,198.8 220.1,180.7 220.2,176.7 220.4,183.7 220.5,183 220.7,206.8 220.8,174.2 221,197.3 221.1,172.5 221.3,161.7 221.4,184.7 221.6,179.3 221.8,179.3 221.9,198.2 222.1,209 222.2,192.1 222.4,183.9 222.5,177.1 222.7,184.1 222.8,175.2 223,190.1 223.1,198.9 223.3,184.7 223.5,185.5 223.6,198.7 223.8,174.8 223.9,194 224.1,191.7 224.2,182.4 224.4,195 224.5,178.5 224.7,180.7 224.8,174.9 225,178.9 225.1,188.7 225.3,191.3 225.5,180.8 225.6,170.3 225.8,175.9 225.9,179.7 226.1,173.3 226.2,169.9 226.4,198.9 226.5,183 226.7,170.4 226.8,188.6 227,186.6 227.2,187.3 227.3,183.8 227.5,165.4 227.6,168.2 227.8,175.4 227.9,157 228.1,170 228.2,194.4 228.4,191.3 228.5,191 228.7,181.7 228.8,194.7 229,175.6 229.2,161.1 229.3,165.8 229.5,200 229.6,183.6 229.8,183.8 229.9,189 230.1,164.4 230.2,187.7 230.4,191.9 230.5,177.6 230.7,178.1 230.8,166.5 231,166.5 231.2,183.3 231.3,202 231.5,175.3 231.6,174.2 231.8,164.7 231.9,175.1 232.1,193.8 232.2,167.7 232.4,167.2 232.5,170.6 232.7,183.5 232.9,174.5 233,189 233.2,195.8 233.3,184.5 233.5,201.5 233.6,176.4 233.8,173.7 233.9,201.5 234.1,181.9 234.2,180 234.4,197.1 234.5,187.7 234.7,184.7 234.9,182.2 235,193.7 235.2,190.1 235.3,209 235.5,182.6 235.6,189.3 235.8,209 235.9,180 236.1,187.8 236.2,209 236.4,175.3 236.6,176.9 236.7,182 236.9,196.5 237,179.2 237.2,192 237.3,202.5 237.5,187.8 237.6,169.2 237.8,190.9 237.9,180.9 238.1,173.4 238.2,194 238.4,169.8 238.6,186.6 238.7,162.5 238.9,191.5 239,183.1 239.2,181.1 239.3,189.9 239.5,179.4 239.6,180.9 239.8,189.4 239.9,188 240.1,185.1 240.2,208.9 240.4,187.9 240.6,195.7 240.7,184.7 240.9,178.7 241,179.5 241.2,193.3 241.3,180.1 241.5,171.2 241.6,194.1 241.8,178.2 241.9,186.7 242.1,188.6 242.3,182.8 242.4,187 242.6,206.2 242.7,182.9 242.9,195.4 243,185.6 243.2,170.7 243.3,186.9 243.5,188.8 243.6,183.3 243.8,179.9 243.9,192.5 244.1,190.5 244.3,179.7 244.4,169.4 244.6,184.5 244.7,176.2 244.9,191.4 245,187.6 245.2,183.7 245.3,196.6 245.5,184.6 245.6,186.2 245.8,208.6 246,185.5 246.1,181.9 246.3,187.7 246.4,181.9 246.6,195.5 246.7,192.1 246.9,187 247,193.5 247.2,190 247.3,174.2 247.5,194.2 247.6,189 247.8,168.6 248,187.1 248.1,195.2 248.3,200.9 248.4,184.2 248.6,184.6 248.7,201.6 248.9,193.3 249,172.2 249.2,166.7 249.3,179.7 249.5,190.1 249.6,183.2 249.8,179.8 250,179.2 250.1,190.5 250.3,169.4 250.4,181.3 250.6,172.9 250.7,194.9 250.9,181.8 251,203.5 251.2,174.2 251.3,190 251.5,204.1 251.7,176.7 251.8,195.6 252,173.9 252.1,165.8 252.3,174.3 252.4,188.4 252.6,191.3 252.7,172.8 252.9,180.9 253,184.3 253.2,195.4 253.3,176.6 253.5,185.2 253.7,186.4 253.8,190.8 254,197.1 254.1,191.8 254.3,184.6 254.4,185 254.6,189.1 254.7,169.9 254.9,168.6 255,186.6 255.2,192.2 255.3,181.6 255.5,199.1 255.7,182.2 255.8,181.5 256,182.6 256.1,169.4 256.3,167.2 256.4,180.3 256.6,186.8 256.7,175.3 256.9,176.4 257,175.9 257.2,191.9 257.4,187.8 257.5,201.1 257.7,196.2 257.8,170.8 258,198.1 258.1,178.7 258.3,194.1 258.4,177.5 258.6,208.5 258.7,178.7 258.9,200.3 259,184.9 259.2,166.8 259.4,181 259.5,173.1 259.7,186.7 259.8,189.7 260,188.9 260.1,186.7 260.3,194 260.4,193.5 260.6,209 260.7,199.6 260.9,180.3 261.1,209 261.2,178.1 261.4,183.7 261.5,206.3 261.7,207.6 261.8,190.4 262,179.9 262.1,189.3 262.3,181.9 262.4,187.4 262.6,209 262.7,192.4 262.9,177.1 263.1,194.1 263.2,174.5 263.4,171.6 263.5,193.9 263.7,187.7 263.8,174.4 264,196.8 264.1,186.3 264.3,180.4 264.4,199.6 264.6,186.3 264.7,188.4 264.9,194.4 265.1,175 265.2,190.4 265.4,167.8 265.5,182.2 265.7,195.2 265.8,186.1 266,195.4 266.1,180.5 266.3,181.8 266.4,198.8 266.6,200.9 266.8,155.6 266.9,186.6 267.1,196.1 267.2,176.8 267.4,161.3 267.5,199.9 267.7,172.1 267.8,204.5 268,186.6 268.1,191.6 268.3,190.4 268.4,183.4 268.6,195.6 268.8,185.5 268.9,159.7 269.1,180 269.2,170.2 269.4,175.9 269.5,198.7 269.7,167 269.8,174.5 270,164 270.1,186.2 270.3,187.3 270.5,192 270.6,183.5 270.8,181 270.9,183.4 271.1,183.1 271.2,199.3 271.4,188.4 271.5,188.7 271.7,178.5 271.8,185.4 272,185.3 272.1,180.2 272.3,185.4 272.5,183.6 272.6,170.9 272.8,182.5 272.9,189.4 273.1,175.5 273.2,168.7 273.4,175.3 273.5,193.2 273.7,172.5 273.8,184.2 274,179.1 274.1,180.4 274.3,176.7 274.5,176.3 274.6,166.9 274.8,179.6 274.9,181.6 275.1,174.5 275.2,181.7 275.4,169.8 275.5,178.9 275.7,172.9 275.8,186.9 276,170.2 276.2,173.7 276.3,172 276.5,183.7 276.6,178.9 276.8,193.4 276.9,191.1 277.1,174.8 277.2,174.6 277.4,165.7 277.5,193.5 277.7,183.7 277.8,201.5 278,160.9 278.2,193.9 278.3,182.2 278.5,158.5 278.6,163.9 278.8,189 278.9,154.3 279.1,161.6 279.2,190.7 279.4,176.1 279.5,149.3 279.7,171.7 279.9,203.1 280,157.5 280.2,196.8 280.3,180.3 280.5,161 280.6,197.1 280.8,177.4 280.9,183.8 281.1,169.3 281.2,159.2 281.4,182 281.5,169.8 281.7,179.1 281.9,181.8 282,199.5 282.2,194.7 282.3,161.2 282.5,174.5 282.6,158.8 282.8,169.5 282.9,155.3 283.1,168.8 283.2,175.2 283.4,176.4 283.5,142.4 283.7,165 283.9,179.1 284,170 284.2,186.1 284.3,185.7 284.5,151.1 284.6,161.1 284.8,153.1 284.9,162.9 285.1,160.7 285.2,137 285.4,175.1 285.6,158.1 285.7,137.7 285.9,130.7 286,152 286.2,168.1 286.3,175 286.5,138.6 286.6,141.9 286.8,156.7 286.9,148.7 287.1,143.5 287.2,162.7 287.4,168.7 287.6,158.7 287.7,146.4 287.9,126.9 288,178.6 288.2,134.8 288.3,155.9 288.5,133.3 288.6,119.9 288.8,141.2 288.9,166.7 289.1,154.4 289.2,141 289.4,150.6 289.6,132.2 289.7,154.1 289.9,141.8 290,152.2 290.2,134.1 290.3,140.6 290.5,138.6 290.6,157.8 290.8,141.9 290.9,141.5 291.1,142.8 291.3,139.3 291.4,141.4 291.6,129.5 291.7,128.8 291.9,150.8 292,136.1 292.2,159.6 292.3,124.6 292.5,131.8 292.6,124 292.8,133.2 292.9,141 293.1,134.8 293.3,131.7 293.4,128.9 293.6,144.8 293.7,133.9 293.9,130.6 294,125.2 294.2,128.9 294.3,119 294.5,126.5 294.6,123.3 294.8,121.9 295,124.9 295.1,124.7 295.3,146.9 295.4,133.5 295.6,98.2 295.7,121.1 295.9,114.6 296,111.8 296.2,113.1 296.3,118.7 296.5,108.1 296.6,114.9 296.8,114.4 297,101.4 297.1,106 297.3,110.3 297.4,124.6 297.6,120.1 297.7,113.3 297.9,109.2 298,100.6 298.2,101.7 298.3,96.2 298.5,103.9 298.6,95.2 298.8,85.3 299,82.9 299.1,71.7 299.3,91.8 299.4,81.3 299.6,76.3 299.7,97.4 299.9,78.7 300,86.9 300.2,82.6 300.3,85.1 300.5,53 300.7,77.5 300.8,45.4 301,76 301.1,78.4 301.3,63.7 301.4,65.3 301.6,73.6 301.7,66.3 301.9,60.4 302,64.3 302.2,53.4 302.3,52 302.5,57.9 302.7,49.4 302.8,46 303,54 303.1,37.8 303.3,37.4 303.4,55.5 303.6,41.6 303.7,42.4 303.9,55 304,48.2 304.2,54.4 304.4,64 304.5,49.6 304.7,65.8 304.8,58.6 305,57.7 305.1,69.2 305.3,55.6 305.4,7.4 305.6,51.9 305.7,56.7 305.9,56.6 306,60.3 306.2,55.9 306.4,62.8 306.5,65.7 306.7,68.6 306.8,59.9 307,56 307.1,72.5 307.3,46 307.4,32.4 307.6,48 307.7,61.6 307.9,59.8 308,47.1 308.2,51.5 308.4,17.1 308.5,60.2 308.7,60.6 308.8,40.8 309,67.7 309.1,53.8 309.3,62.5 309.4,57.8 309.6,54.5 309.7,60.4 309.9,57.4 310.1,35.6 310.2,54 310.4,53.4 310.5,64.7 310.7,83.7 310.8,67.7 311,77.3 311.1,79.2 311.3,80.6 311.4,107.4 311.6,88.9 311.7,98.3 311.9,100.8 312.1,92 312.2,93.7 312.4,99.5 312.5,102.1 312.7,98.8 312.8,97.3 313,101.1 313.1,100.7 313.3,100.9 313.4,100.7 313.6,90.5 313.8,93.2 313.9,87.5 314.1,103.5 314.2,94.3 314.4,84.9 314.5,88 314.7,127 314.8,85.3 315,99.6 315.1,95.3 315.3,96.9 315.4,97 315.6,96.4 315.8,92.8 315.9,82.3 316.1,91.4 316.2,96.5 316.4,103.1 316.5,92.9 316.7,107.6 316.8,87 317,89.2 317.1,90 317.3,58.5 317.4,90 317.6,102.9 317.8,90.2 317.9,92.1 318.1,90.6 318.2,93.6 318.4,71.2 318.5,88.3 318.7,62.3 318.8,82.7 319,49.2 319.1,82.3 319.3,64.8 319.5,67.5 319.6,64.5 319.8,66.1 319.9,65.7 320.1,70 320.2,85.4 320.4,65.1 320.5,67.7 320.7,74.7 320.8,63.7 321,64.2 321.1,75.7 321.3,61 321.5,60.9 321.6,63.8 321.8,68.8 321.9,55.3 322.1,72.1 322.2,67.9 322.4,68.9 322.5,62.4 322.7,72.4 322.8,69.1 323,65.2 323.1,61.4 323.3,55.8 323.5,103.2 323.6,62.6 323.8,56.7 323.9,67.2 324.1,67 324.2,74.1 324.4,58.8 324.5,63.3 324.7,103.4 324.8,65.5 325,60.3 325.2,58.9 325.3,66.2 325.5,63.6 325.6,50.5 325.8,54.5 325.9,61.4 326.1,65.1 326.2,61.1 326.4,58.1 326.5,71.3 326.7,56.9 326.8,61.4 327,64.6 327.2,85.7 327.3,76.7 327.5,76.4 327.6,70.3 327.8,72.8 327.9,77.4 328.1,70.5 328.2,31 328.4,65.8 328.5,61.2 328.7,66.2 328.9,51.9 329,72.8 329.2,70.9 329.3,66.6 329.5,77 329.6,75.4 329.8,77.3 329.9,81.4 330.1,67.1 330.2,74.3 330.4,78.4 330.5,75.1 330.7,44.1 330.9,66.1 331,76.3 331.2,71.9 331.3,60.9 331.5,61.2 331.6,66.5 331.8,66 331.9,61.1 332.1,58.3 332.2,54.7 332.4,61.6 332.5,33.5 332.7,83.4 332.9,82.7 333,83.5 333.2,93.9 333.3,91.9 333.5,98.3 333.6,103.2 333.8,109.7 333.9,114.1 334.1,101.3 334.2,101.9 334.4,102.9 334.6,110.1 334.7,100 334.9,102 335,94.5 335.2,81.5 335.3,83.5 335.5,92.9 335.6,87.6 335.8,89 335.9,83.4 336.1,68.3 336.2,88.2 336.4,83.5 336.6,83.8 336.7,84.5 336.9,92 337,90.5 337.2,93.2 337.3,102.5 337.5,89.6 337.6,89.8 337.8,84.6 337.9,92.3 338.1,89.9 338.3,88.9 338.4,84.2 338.6,95.4 338.7,91.4 338.9,89.8 339,98.4 339.2,92.9 339.3,102.9 339.5,102.7 339.6,103.1 339.8,113.1 339.9,115.3 340.1,112.6 340.3,122.6 340.4,120.8 340.6,128 340.7,119.2 340.9,130.7 341,130.4 341.2,122.9 341.3,132 341.5,131.5 341.6,129.2 341.8,136.1 341.9,145.3 342.1,136.4 342.3,129.9 342.4,137.6 342.6,154.2 342.7,159.8 342.9,138.6 343,164.2 343.2,160.5 343.3,170 343.5,134 343.6,161.4 343.8,155.8 344,131.9 344.1,156.4 344.3,146 344.4,141.8 344.6,160.8 344.7,137.8 344.9,166.9 345,148.2 345.2,142.9 345.3,165.3 345.5,150.3 345.6,158.9 345.8,164.5 346,157.2 346.1,172.7 346.3,155.7 346.4,169.1 346.6,145.4 346.7,135.9 346.9,137 347,159.7 347.2,153.2 347.3,130.5 347.5,137.9 347.7,153.4 347.8,174.2 348,155 348.1,116.8 348.3,146.2 348.4,155.9 348.6,150.1 348.7,125.1 348.9,137 349,164.8 349.2,160.1 349.3,150.5 349.5,106.4 349.7,159.1 349.8,157.2 350,151.9 350.1,157.9 350.3,144.7 350.4,144.7 350.6,167.2 350.7,142.8 350.9,160.4 351,167 351.2,146.3 351.3,169.6 351.5,157.2 351.7,151.6 351.8,154.1 352,150.3 352.1,157.5 352.3,162 352.4,158.6 352.6,179 352.7,154.3 352.9,130.5 353,148.9 353.2,140.2 353.4,152.6 353.5,152.5 353.7,147.9 353.8,145.4 354,145.9 354.1,161.9 354.3,152.8 354.4,169.5 354.6,142 354.7,143.3 354.9,156.5 355,167.5 355.2,148.6 355.4,132.3 355.5,148.5 355.7,122.4 355.8,162.5 356,120.3 356.1,154.2 356.3,182.2 356.4,151.3 356.6,165.3 356.7,156 356.9,161.7 357.1,164 357.2,142.9 357.4,160.5 357.5,152.5 357.7,146.9 357.8,158.8 358,168.2 358.1,153.8 358.3,155.6 358.4,164.4 358.6,153.2 358.7,140.4 358.9,143.7 359.1,137.1 359.2,139 359.4,152.1 359.5,154.1 359.7,164.8 359.8,141.2 360,179.7 360.1,147.9 360.3,135.9 360.4,152.8 360.6,170.4 360.7,163.3 360.9,175.7 361.1,139.4 361.2,157.6 361.4,155.5 361.5,165.7 361.7,150 361.8,152.5 362,144.7 362.1,163.9 362.3,146.6 362.4,168.8 362.6,160.7 362.8,159.3 362.9,155.4 363.1,148.7 363.2,178.7 363.4,168.8 363.5,157.4 363.7,167.6 363.8,139.7 364,147.8 364.1,157.5 364.3,157.8 364.4,144.8 364.6,160.5 364.8,143.1 364.9,147.6 365.1,147.1 365.2,145.2 365.4,137.9 365.5,128.9 365.7,138.8 365.8,161.3 366,147.4 366.1,138.5 366.3,136.8 366.4,163.4 366.6,164.6 366.8,163.2 366.9,151.5 367.1,148.9 367.2,144.7 367.4,167.7 367.5,147.4 367.7,139.5 367.8,134.7 368,150.7 368.1,141.6 368.3,133.3 368.5,134.4 368.6,148" stroke="#ff0000" stroke-width="0.5"/>
</g></g>
<g fill="none" stroke="#696969" stroke-width="1">
<path d="M35.2 4.1V255.4M34.7 4.6H374.8M34.7 254.8H374.8"/><path d="M374.45 4.1V255.4" stroke="#5e5e5e" stroke-width="1.1"/>
<path d="M112.20 254.9v-2.8M112.20 4.6v2.8M189.24 254.9v-2.8M189.24 4.6v2.8M266.29 254.9v-2.8M266.29 4.6v2.8M343.33 254.9v-2.8M343.33 4.6v2.8M35.2 227.09h2.8M374.3 227.09h-2.8M35.2 199.28h2.8M374.3 199.28h-2.8M35.2 171.47h2.8M374.3 171.47h-2.8M35.2 143.66h2.8M374.3 143.66h-2.8M35.2 115.84h2.8M374.3 115.84h-2.8M35.2 88.03h2.8M374.3 88.03h-2.8M35.2 60.22h2.8M374.3 60.22h-2.8M35.2 32.41h2.8M374.3 32.41h-2.8"/>
</g>
<g font-size="11" fill="#000" class="t">
<text x="30.9" y="259.20" text-anchor="end">8.6</text><text x="30.9" y="231.39" text-anchor="end">8.7</text><text x="30.9" y="203.58" text-anchor="end">8.8</text><text x="30.9" y="175.77" text-anchor="end">8.9</text><text x="30.9" y="147.96" text-anchor="end">9</text><text x="30.9" y="120.14" text-anchor="end">9.1</text><text x="30.9" y="92.33" text-anchor="end">9.2</text><text x="30.9" y="64.52" text-anchor="end">9.3</text><text x="30.9" y="36.71" text-anchor="end">9.4</text><text x="30.9" y="8.90" text-anchor="end">9.5</text>
<text x="35.60" y="270.8" text-anchor="middle">0</text><text x="112.65" y="270.8" text-anchor="middle">500</text><text x="189.69" y="270.8" text-anchor="middle">1000</text><text x="266.74" y="270.8" text-anchor="middle">1500</text><text x="343.78" y="270.8" text-anchor="middle">2000</text>
</g>
<text x="204.9" y="286.3" font-size="12.3" text-anchor="middle">File number (Time unit : 10 min)</text>
<text transform="translate(9.8 129.8) rotate(-90)" font-size="12" text-anchor="middle">GFDs</text>
<g fill="none">
<rect x="43.1" y="11.9" width="83.3" height="62.3" fill="#fff" stroke="#858585" stroke-width="1"/>
<path d="M46 20.4h27.6" stroke="#0000ff" stroke-width="0.7"/>
<path d="M60 16.6l3 3.8-3 3.8-3-3.8z" stroke="#0000ff" stroke-width="0.85"/>
<path d="M46 35.2h27.6" stroke="#00ff00" stroke-width="0.7"/>
<circle cx="60" cy="35.2" r="2.8" stroke="#00ff00" stroke-width="0.8"/>
<path d="M46 50.1h27.6" stroke="#ffc000" stroke-width="0.6"/>
<rect x="57.8" y="47.9" width="4.4" height="4.4" stroke="#ffc000" stroke-width="0.5"/>
<path d="M46 65.2h27.6" stroke="#ff0000" stroke-width="0.6"/>
<g font-size="11" fill="#000" class="lg">
<text x="76.1" y="25.0">Bearing 1</text>
<text x="76.1" y="39.7">Bearing 2</text>
<text x="76.1" y="54.4">Bearing 3</text>
<text x="76.1" y="69.1">Bearing 4</text>
</g>
</g>
</svg>
</body></html>
